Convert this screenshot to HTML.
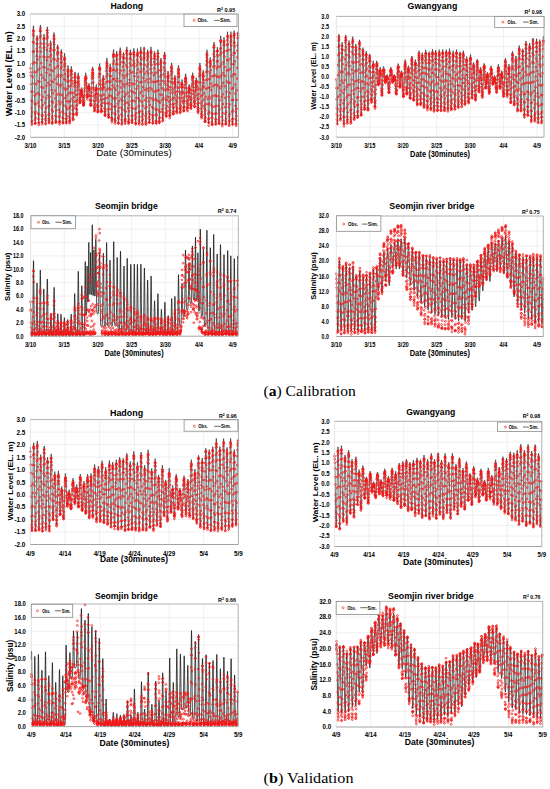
<!DOCTYPE html><html><head><meta charset="utf-8"><title>Calibration and Validation</title><style>html,body{margin:0;padding:0;background:#fff;}svg{display:block;}</style></head><body>
<svg width="550" height="789" viewBox="0 0 550 789">
<defs><marker id="mo" markerWidth="6" markerHeight="6" refX="3" refY="3" markerUnits="userSpaceOnUse" overflow="visible"><circle cx="3" cy="3" r="0.9" fill="none" stroke="#f01818" stroke-width="0.75"/></marker></defs>
<rect width="550" height="789" fill="#fff"/>
<path d="M30.5 26.33H238.5M30.5 38.66H238.5M30.5 50.99H238.5M30.5 63.32H238.5M30.5 75.65H238.5M30.5 87.98H238.5M30.5 100.31H238.5M30.5 112.64H238.5M30.5 124.97H238.5M64.20 14.0V137.3M97.90 14.0V137.3M131.60 14.0V137.3M165.30 14.0V137.3M199.00 14.0V137.3M232.70 14.0V137.3" stroke="#e4e4e4" stroke-width="0.6" fill="none"/>
<g>
<polyline points="30.50,63.64 30.64,68.26 30.78,74.83 30.92,82.82 31.06,91.57 31.20,100.40 31.34,108.58 31.48,115.46 31.62,120.49 31.76,123.26 31.90,123.44 32.04,119.97 32.19,112.85 32.33,102.66 32.47,90.22 32.61,76.53 32.75,62.68 32.89,49.80 33.03,38.92 33.17,30.92 33.31,26.43 33.45,25.76 33.59,28.10 33.73,33.08 33.87,40.41 34.01,49.68 34.15,60.36 34.29,71.85 34.43,83.50 34.57,94.66 34.71,104.68 34.85,113.00 34.99,119.15 35.13,122.78 35.27,123.70 35.41,122.02 35.55,117.95 35.70,111.70 35.84,103.64 35.98,94.21 36.12,83.96 36.26,73.46 36.40,63.31 36.54,54.08 36.68,46.30 36.82,40.39 36.96,36.71 37.10,35.45 37.24,37.01 37.38,41.60 37.52,48.88 37.66,58.35 37.80,69.33 37.94,81.03 38.08,92.64 38.22,103.31 38.36,112.31 38.50,118.97 38.64,122.84 38.78,123.63 38.92,121.01 39.07,115.06 39.21,106.21 39.35,95.08 39.49,82.47 39.63,69.26 39.77,56.41 39.91,44.81 40.05,35.31 40.19,28.56 40.33,25.05 40.47,24.97 40.61,27.90 40.75,33.59 40.89,41.71 41.03,51.76 41.17,63.16 41.31,75.22 41.45,87.21 41.59,98.42 41.73,108.19 41.87,115.92 42.01,121.15 42.15,123.58 42.30,123.12 42.44,120.00 42.58,114.42 42.72,106.72 42.86,97.35 43.00,86.87 43.14,75.92 43.28,65.14 43.42,55.18 43.56,46.64 43.70,40.02 43.84,35.72 43.98,34.00 44.12,35.15 44.26,39.40 44.40,46.45 44.54,55.80 44.68,66.79 44.82,78.64 44.96,90.51 45.10,101.54 45.24,110.97 45.38,118.11 45.52,122.46 45.66,123.72 45.81,121.63 45.95,116.23 46.09,107.92 46.23,97.28 46.37,85.07 46.51,72.15 46.65,59.45 46.79,47.86 46.93,38.22 47.07,31.19 47.21,27.29 47.35,26.80 47.49,29.73 47.63,35.90 47.77,44.85 47.91,55.96 48.05,68.43 48.19,81.38 48.33,93.89 48.47,105.07 48.61,114.12 48.75,120.40 48.89,123.47 49.03,123.19 49.18,119.97 49.32,114.06 49.46,105.88 49.60,96.02 49.74,85.18 49.88,74.13 50.02,63.64 50.16,54.48 50.30,47.28 50.44,42.57 50.58,40.66 50.72,41.65 50.86,45.35 51.00,51.52 51.14,59.74 51.28,69.47 51.42,80.04 51.56,90.76 51.70,100.91 51.84,109.80 51.98,116.84 52.12,121.56 52.26,123.65 52.41,122.88 52.55,119.11 52.69,112.59 52.83,103.76 52.97,93.20 53.11,81.62 53.25,69.80 53.39,58.52 53.53,48.55 53.67,40.55 53.81,35.06 53.95,32.45 54.09,32.78 54.23,35.71 54.37,41.02 54.51,48.43 54.65,57.51 54.79,67.76 54.93,78.58 55.07,89.36 55.21,99.51 55.35,108.43 55.49,115.64 55.63,120.71 55.78,123.37 55.92,123.49 56.06,121.34 56.20,117.09 56.34,110.97 56.48,103.34 56.62,94.62 56.76,85.31 56.90,75.93 57.04,67.02 57.18,59.08 57.32,52.55 57.46,47.82 57.60,45.14 57.74,44.68 57.88,46.54 58.02,50.65 58.16,56.77 58.30,64.52 58.44,73.44 58.58,83.01 58.72,92.64 58.86,101.77 59.00,109.84 59.14,116.38 59.29,120.99 59.43,123.41 59.57,123.49 59.71,121.34 59.85,117.11 59.99,111.05 60.13,103.53 60.27,94.98 60.41,85.93 60.55,76.92 60.69,68.47 60.83,61.11 60.97,55.26 61.11,51.27 61.25,49.40 61.39,49.83 61.53,52.84 61.67,58.24 61.81,65.65 61.95,74.55 62.09,84.29 62.23,94.18 62.37,103.54 62.52,111.68 62.66,118.03 62.80,122.14 62.94,123.72 63.08,122.72 63.22,119.27 63.36,113.64 63.50,106.23 63.64,97.55 63.78,88.22 63.92,78.91 64.06,70.29 64.20,62.95 64.34,57.43 64.48,54.11 64.62,53.24 64.76,54.77 64.90,58.56 65.04,64.36 65.18,71.77 65.32,80.29 65.46,89.37 65.60,98.38 65.74,106.74 65.88,113.86 66.03,119.29 66.17,122.66 66.31,123.74 66.45,122.67 66.59,119.72 66.73,115.08 66.87,109.07 67.01,102.08 67.15,94.58 67.29,87.08 67.43,80.08 67.57,74.04 67.71,69.38 67.85,66.40 67.99,65.30 68.13,66.20 68.27,69.09 68.41,73.76 68.55,79.89 68.69,87.03 68.83,94.69 68.97,102.31 69.11,109.35 69.25,115.32 69.40,119.79 69.54,122.44 69.68,123.08 69.82,121.69 69.96,118.38 70.10,113.37 70.24,107.03 70.38,99.80 70.52,92.20 70.66,84.77 70.80,78.04 70.94,72.48 71.08,68.49 71.22,66.36 71.36,66.18 71.50,67.59 71.64,70.44 71.78,74.56 71.92,79.72 72.06,85.62 72.20,91.94 72.34,98.31 72.48,104.38 72.62,109.80 72.77,114.26 72.91,117.51 73.05,119.37 73.19,119.74 73.33,118.72 73.47,116.40 73.61,112.91 73.75,108.47 73.89,103.31 74.03,97.73 74.17,92.04 74.31,86.58 74.45,81.63 74.59,77.50 74.73,74.40 74.87,72.52 75.01,71.96 75.15,72.90 75.29,75.40 75.43,79.25 75.57,84.17 75.71,89.79 75.85,95.67 76.00,101.38 76.14,106.49 76.28,110.61 76.42,113.43 76.56,114.73 76.70,114.43 76.84,112.56 76.98,109.27 77.12,104.81 77.26,99.52 77.40,93.78 77.54,88.05 77.68,82.75 77.82,78.27 77.96,74.97 78.10,73.09 78.24,72.74 78.38,73.58 78.52,75.41 78.66,78.12 78.80,81.49 78.94,85.30 79.08,89.27 79.22,93.13 79.37,96.59 79.51,99.41 79.65,101.39 79.79,102.40 79.93,102.43 80.07,101.87 80.21,100.83 80.35,99.38 80.49,97.61 80.63,95.66 80.77,93.66 80.91,91.75 81.05,90.08 81.19,88.75 81.33,87.87 81.47,87.50 81.61,87.61 81.75,88.10 81.89,88.96 82.03,90.13 82.17,91.58 82.31,93.23 82.45,95.01 82.59,96.85 82.74,98.66 82.88,100.37 83.02,101.90 83.16,103.18 83.30,104.15 83.44,104.78 83.58,105.03 83.72,104.79 83.86,103.85 84.00,102.25 84.14,100.06 84.28,97.38 84.42,94.32 84.56,91.03 84.70,87.64 84.84,84.30 84.98,81.17 85.12,78.37 85.26,76.03 85.40,74.26 85.54,73.13 85.68,72.70 85.82,73.04 85.96,74.23 86.10,76.19 86.25,78.79 86.39,81.83 86.53,85.10 86.67,88.37 86.81,91.41 86.95,93.99 87.09,95.94 87.23,97.12 87.37,97.45 87.51,97.13 87.65,96.33 87.79,95.11 87.93,93.55 88.07,91.77 88.21,89.89 88.35,88.04 88.49,86.35 88.63,84.96 88.77,83.95 88.91,83.39 89.05,83.34 89.19,83.90 89.33,85.06 89.47,86.75 89.62,88.89 89.76,91.34 89.90,93.98 90.04,96.64 90.18,99.19 90.32,101.47 90.46,103.36 90.60,104.75 90.74,105.56 90.88,105.73 91.02,104.95 91.16,103.12 91.30,100.33 91.44,96.74 91.58,92.56 91.72,88.03 91.86,83.39 92.00,78.92 92.14,74.86 92.28,71.45 92.42,68.88 92.56,67.29 92.70,66.77 92.84,67.46 92.99,69.39 93.13,72.46 93.27,76.48 93.41,81.21 93.55,86.36 93.69,91.63 93.83,96.71 93.97,101.29 94.11,105.09 94.25,107.89 94.39,109.53 94.53,109.91 94.67,109.36 94.81,108.09 94.95,106.15 95.09,103.68 95.23,100.81 95.37,97.72 95.51,94.59 95.65,91.62 95.79,88.97 95.93,86.81 96.07,85.26 96.22,84.42 96.36,84.36 96.50,85.25 96.64,87.07 96.78,89.69 96.92,92.92 97.06,96.55 97.20,100.30 97.34,103.91 97.48,107.12 97.62,109.72 97.76,111.50 97.90,112.35 98.04,112.06 98.18,110.10 98.32,106.57 98.46,101.72 98.60,95.89 98.74,89.50 98.88,83.01 99.02,76.87 99.16,71.52 99.30,67.34 99.44,64.63 99.58,63.58 99.73,64.14 99.87,66.09 100.01,69.33 100.15,73.65 100.29,78.79 100.43,84.46 100.57,90.30 100.71,95.98 100.85,101.14 100.99,105.49 101.13,108.77 101.27,110.77 101.41,111.38 101.55,110.76 101.69,109.09 101.83,106.48 101.97,103.08 102.11,99.09 102.25,94.75 102.39,90.33 102.53,86.08 102.67,82.26 102.81,79.10 102.95,76.79 103.10,75.46 103.24,75.19 103.38,76.05 103.52,77.99 103.66,80.91 103.80,84.64 103.94,88.98 104.08,93.66 104.22,98.44 104.36,103.04 104.50,107.19 104.64,110.67 104.78,113.28 104.92,114.87 105.06,115.35 105.20,114.41 105.34,111.89 105.48,107.95 105.62,102.80 105.76,96.73 105.90,90.09 106.04,83.26 106.18,76.61 106.33,70.54 106.47,65.37 106.61,61.41 106.75,58.87 106.89,57.90 107.03,58.76 107.17,61.68 107.31,66.46 107.45,72.74 107.59,80.09 107.73,87.99 107.87,95.86 108.01,103.17 108.15,109.37 108.29,114.04 108.43,116.84 108.57,117.58 108.71,116.33 108.85,113.24 108.99,108.55 109.13,102.58 109.27,95.76 109.41,88.57 109.55,81.53 109.70,75.12 109.84,69.82 109.98,65.99 110.12,63.91 110.26,63.74 110.40,65.58 110.54,69.35 110.68,74.77 110.82,81.45 110.96,88.92 111.10,96.65 111.24,104.09 111.38,110.71 111.52,116.05 111.66,119.71 111.80,121.45 111.94,121.02 112.08,118.11 112.22,112.88 112.36,105.71 112.50,97.11 112.64,87.68 112.78,78.11 112.92,69.06 113.07,61.18 113.21,55.03 113.35,51.05 113.49,49.52 113.63,50.64 113.77,54.43 113.91,60.61 114.05,68.73 114.19,78.15 114.33,88.18 114.47,98.05 114.61,107.02 114.75,114.41 114.89,119.66 115.03,122.38 115.17,122.37 115.31,119.67 115.45,114.51 115.59,107.27 115.73,98.49 115.87,88.85 116.01,79.06 116.15,69.87 116.29,61.97 116.44,55.97 116.58,52.30 116.72,51.25 116.86,52.65 117.00,56.26 117.14,61.83 117.28,69.03 117.42,77.40 117.56,86.40 117.70,95.47 117.84,104.04 117.98,111.56 118.12,117.56 118.26,121.66 118.40,123.60 118.54,123.23 118.68,120.49 118.82,115.55 118.96,108.72 119.10,100.43 119.24,91.20 119.38,81.63 119.52,72.30 119.66,63.82 119.81,56.72 119.95,51.45 120.09,48.33 120.23,47.59 120.37,49.44 120.51,53.87 120.65,60.55 120.79,69.02 120.93,78.66 121.07,88.81 121.21,98.72 121.35,107.71 121.49,115.13 121.63,120.46 121.77,123.30 121.91,123.49 122.05,121.13 122.19,116.42 122.33,109.68 122.47,101.40 122.61,92.17 122.75,82.64 122.89,73.49 123.03,65.37 123.18,58.85 123.32,54.41 123.46,52.35 123.60,52.82 123.74,55.79 123.88,61.05 124.02,68.22 124.16,76.80 124.30,86.17 124.44,95.66 124.58,104.62 124.72,112.39 124.86,118.42 125.00,122.30 125.14,123.73 125.28,122.54 125.42,118.70 125.56,112.49 125.70,104.34 125.84,94.84 125.98,84.66 126.12,74.52 126.26,65.14 126.40,57.20 126.55,51.24 126.69,47.71 126.83,46.84 126.97,48.41 127.11,52.18 127.25,57.93 127.39,65.31 127.53,73.89 127.67,83.14 127.81,92.53 127.95,101.47 128.09,109.46 128.23,115.99 128.37,120.69 128.51,123.27 128.65,123.59 128.79,121.68 128.93,117.68 129.07,111.82 129.21,104.45 129.35,96.02 129.49,87.03 129.63,78.01 129.77,69.51 129.92,62.03 130.06,56.02 130.20,51.84 130.34,49.74 130.48,49.88 130.62,52.46 130.76,57.32 130.90,64.14 131.04,72.47 131.18,81.75 131.32,91.35 131.46,100.64 131.60,108.99 131.74,115.84 131.88,120.73 132.02,123.34 132.16,123.49 132.30,121.13 132.44,116.40 132.58,109.64 132.72,101.28 132.86,91.89 133.00,82.10 133.14,72.56 133.29,63.92 133.43,56.74 133.57,51.52 133.71,48.60 133.85,48.15 133.99,49.93 134.13,53.74 134.27,59.37 134.41,66.50 134.55,74.72 134.69,83.58 134.83,92.57 134.97,101.18 135.11,108.93 135.25,115.37 135.39,120.14 135.53,122.98 135.67,123.71 135.81,122.31 135.95,118.87 136.09,113.57 136.23,106.72 136.37,98.71 136.51,89.98 136.66,81.04 136.80,72.38 136.94,64.50 137.08,57.85 137.22,52.79 137.36,49.63 137.50,48.52 137.64,49.81 137.78,53.68 137.92,59.86 138.06,67.90 138.20,77.24 138.34,87.20 138.48,97.10 138.62,106.21 138.76,113.90 138.90,119.61 139.04,122.95 139.18,123.66 139.32,121.67 139.46,117.09 139.60,110.25 139.74,101.64 139.88,91.86 140.02,81.61 140.17,71.62 140.31,62.61 140.45,55.20 140.59,49.93 140.73,47.17 140.87,47.12 141.01,49.77 141.15,54.95 141.29,62.29 141.43,71.25 141.57,81.22 141.71,91.47 141.85,101.28 141.99,109.95 142.13,116.87 142.27,121.54 142.41,123.64 142.55,123.01 142.69,119.70 142.83,113.94 142.97,106.14 143.11,96.86 143.25,86.76 143.39,76.55 143.54,66.96 143.68,58.68 143.82,52.28 143.96,48.22 144.10,46.80 144.24,47.90 144.38,51.24 144.52,56.60 144.66,63.69 144.80,72.06 144.94,81.22 145.08,90.62 145.22,99.70 145.36,107.92 145.50,114.79 145.64,119.89 145.78,122.93 145.92,123.71 146.06,122.25 146.20,118.66 146.34,113.15 146.48,106.06 146.62,97.81 146.76,88.89 146.91,79.83 147.05,71.18 147.19,63.46 147.33,57.11 147.47,52.53 147.61,49.99 147.75,49.66 147.89,51.87 148.03,56.55 148.17,63.36 148.31,71.82 148.45,81.34 148.59,91.23 148.73,100.80 148.87,109.36 149.01,116.30 149.15,121.13 149.29,123.51 149.43,123.26 149.57,120.31 149.71,114.87 149.85,107.33 149.99,98.22 150.13,88.19 150.28,77.96 150.42,68.24 150.56,59.73 150.70,53.04 150.84,48.63 150.98,46.83 151.12,47.61 151.26,50.64 151.40,55.74 151.54,62.61 151.68,70.83 151.82,79.91 151.96,89.32 152.10,98.48 152.24,106.85 152.38,113.93 152.52,119.30 152.66,122.63 152.80,123.74 152.94,122.61 153.08,119.38 153.22,114.25 153.36,107.52 153.50,99.59 153.65,90.93 153.79,82.08 153.93,73.54 154.07,65.84 154.21,59.43 154.35,54.70 154.49,51.93 154.63,51.29 154.77,53.09 154.91,57.34 155.05,63.73 155.19,71.80 155.33,80.99 155.47,90.65 155.61,100.07 155.75,108.61 155.89,115.64 156.03,120.67 156.17,123.35 156.31,123.47 156.45,120.98 156.59,116.05 156.73,109.03 156.88,100.42 157.02,90.83 157.16,80.93 157.30,71.45 157.44,63.04 157.58,56.31 157.72,51.73 157.86,49.63 158.00,50.29 158.14,54.05 158.28,60.61 158.42,69.40 158.56,79.67 158.70,90.54 158.84,101.07 158.98,110.36 159.12,117.61 159.26,122.20 159.40,123.74 159.54,122.27 159.68,118.11 159.82,111.60 159.96,103.31 160.10,93.94 160.25,84.31 160.39,75.23 160.53,67.50 160.67,61.76 160.81,58.52 160.95,57.99 161.09,59.46 161.23,62.59 161.37,67.22 161.51,73.08 161.65,79.84 161.79,87.12 161.93,94.50 162.07,101.57 162.21,107.93 162.35,113.22 162.49,117.13 162.63,119.45 162.77,120.05 162.91,118.78 163.05,115.66 163.19,110.86 163.33,104.65 163.47,97.39 163.62,89.49 163.76,81.39 163.90,73.55 164.04,66.42 164.18,60.40 164.32,55.83 164.46,52.97 164.60,51.98 164.74,53.03 164.88,56.20 165.02,61.26 165.16,67.88 165.30,75.62 165.44,83.95 165.58,92.32 165.72,100.17 165.86,106.97 166.00,112.27 166.14,115.71 166.28,117.06 166.42,116.48 166.56,114.39 166.70,110.94 166.84,106.36 166.99,100.94 167.13,95.07 167.27,89.12 167.41,83.51 167.55,78.59 167.69,74.71 167.83,72.13 167.97,71.01 168.11,71.38 168.25,73.10 168.39,76.08 168.53,80.13 168.67,85.01 168.81,90.43 168.95,96.06 169.09,101.58 169.23,106.64 169.37,110.94 169.51,114.24 169.65,116.32 169.79,117.08 169.93,116.34 170.07,114.03 170.21,110.28 170.35,105.32 170.50,99.43 170.64,92.98 170.78,86.35 170.92,79.94 171.06,74.12 171.20,69.25 171.34,65.62 171.48,63.44 171.62,62.84 171.76,64.01 171.90,66.93 172.04,71.40 172.18,77.11 172.32,83.64 172.46,90.54 172.60,97.31 172.74,103.47 172.88,108.58 173.02,112.29 173.16,114.32 173.30,114.57 173.44,113.34 173.58,110.80 173.72,107.13 173.87,102.59 174.01,97.51 174.15,92.24 174.29,87.17 174.43,82.64 174.57,78.99 174.71,76.46 174.85,75.25 174.99,75.38 175.13,76.63 175.27,78.90 175.41,82.07 175.55,85.93 175.69,90.27 175.83,94.82 175.97,99.30 176.11,103.46 176.25,107.04 176.39,109.83 176.53,111.66 176.67,112.42 176.81,111.98 176.95,110.15 177.09,107.06 177.24,102.88 177.38,97.86 177.52,92.30 177.66,86.54 177.80,80.92 177.94,75.77 178.08,71.41 178.22,68.08 178.36,66.01 178.50,65.29 178.64,66.01 178.78,68.15 178.92,71.56 179.06,76.03 179.20,81.29 179.34,86.99 179.48,92.78 179.62,98.29 179.76,103.17 179.90,107.12 180.04,109.88 180.18,111.28 180.32,111.30 180.47,110.26 180.61,108.29 180.75,105.49 180.89,102.06 181.03,98.21 181.17,94.18 181.31,90.23 181.45,86.61 181.59,83.54 181.73,81.21 181.87,79.79 182.01,79.35 182.15,79.88 182.29,81.31 182.43,83.54 182.57,86.46 182.71,89.89 182.85,93.61 182.99,97.41 183.13,101.06 183.27,104.35 183.41,107.07 183.55,109.06 183.69,110.21 183.84,110.44 183.98,109.61 184.12,107.75 184.26,104.94 184.40,101.36 184.54,97.23 184.68,92.80 184.82,88.31 184.96,84.06 185.10,80.28 185.24,77.21 185.38,75.02 185.52,73.86 185.66,73.78 185.80,74.77 185.94,76.77 186.08,79.66 186.22,83.26 186.36,87.36 186.50,91.72 186.64,96.07 186.78,100.16 186.92,103.74 187.06,106.59 187.21,108.55 187.35,109.50 187.49,109.44 187.63,108.61 187.77,107.08 187.91,104.94 188.05,102.33 188.19,99.39 188.33,96.31 188.47,93.26 188.61,90.43 188.75,87.99 188.89,86.09 189.03,84.83 189.17,84.30 189.31,84.52 189.45,85.47 189.59,87.09 189.73,89.29 189.87,91.91 190.01,94.81 190.15,97.78 190.29,100.65 190.43,103.23 190.58,105.36 190.72,106.91 190.86,107.78 191.00,107.88 191.14,106.96 191.28,104.99 191.42,102.09 191.56,98.45 191.70,94.29 191.84,89.88 191.98,85.50 192.12,81.42 192.26,77.91 192.40,75.18 192.54,73.41 192.68,72.70 192.82,73.06 192.96,74.39 193.10,76.60 193.24,79.57 193.38,83.11 193.52,87.02 193.66,91.06 193.80,94.99 193.95,98.57 194.09,101.60 194.23,103.88 194.37,105.29 194.51,105.73 194.65,105.27 194.79,104.00 194.93,101.99 195.07,99.37 195.21,96.28 195.35,92.92 195.49,89.49 195.63,86.19 195.77,83.21 195.91,80.74 196.05,78.93 196.19,77.87 196.33,77.65 196.47,78.41 196.61,80.18 196.75,82.84 196.89,86.25 197.03,90.19 197.17,94.42 197.31,98.71 197.46,102.78 197.60,106.41 197.74,109.36 197.88,111.47 198.02,112.60 198.16,112.66 198.30,111.31 198.44,108.55 198.58,104.56 198.72,99.56 198.86,93.87 199.00,87.81 199.14,81.74 199.28,76.05 199.42,71.05 199.56,67.06 199.70,64.30 199.84,62.95 199.98,63.17 200.12,65.27 200.26,69.15 200.40,74.54 200.54,81.04 200.69,88.20 200.83,95.51 200.97,102.45 201.11,108.52 201.25,113.30 201.39,116.45 201.53,117.73 201.67,117.16 201.81,114.94 201.95,111.23 202.09,106.30 202.23,100.49 202.37,94.22 202.51,87.93 202.65,82.08 202.79,77.07 202.93,73.26 203.07,70.93 203.21,70.23 203.35,71.05 203.49,73.23 203.63,76.64 203.77,81.10 203.91,86.38 204.05,92.18 204.20,98.21 204.34,104.13 204.48,109.62 204.62,114.40 204.76,118.21 204.90,120.84 205.04,122.15 205.18,121.98 205.32,119.94 205.46,116.07 205.60,110.60 205.74,103.80 205.88,96.06 206.02,87.77 206.16,79.39 206.30,71.36 206.44,64.12 206.58,58.06 206.72,53.50 206.86,50.68 207.00,49.76 207.14,51.14 207.28,55.07 207.42,61.25 207.57,69.24 207.71,78.49 207.85,88.33 207.99,98.06 208.13,106.99 208.27,114.50 208.41,120.03 208.55,123.21 208.69,123.81 208.83,121.98 208.97,117.91 209.11,111.90 209.25,104.37 209.39,95.85 209.53,86.96 209.67,78.32 209.81,70.55 209.95,64.20 210.09,59.72 210.23,57.42 210.37,57.42 210.51,59.37 210.65,63.12 210.79,68.45 210.94,75.05 211.08,82.56 211.22,90.56 211.36,98.58 211.50,106.18 211.64,112.92 211.78,118.42 211.92,122.38 212.06,124.56 212.20,124.83 212.34,122.84 212.48,118.63 212.62,112.44 212.76,104.61 212.90,95.59 213.04,85.89 213.18,76.05 213.32,66.64 213.46,58.18 213.60,51.16 213.74,45.97 213.88,42.91 214.02,42.16 214.16,44.02 214.31,48.54 214.45,55.40 214.59,64.14 214.73,74.18 214.87,84.85 215.01,95.43 215.15,105.21 215.29,113.55 215.43,119.87 215.57,123.76 215.71,124.96 215.85,123.48 215.99,119.49 216.13,113.26 216.27,105.20 216.41,95.86 216.55,85.86 216.69,75.86 216.83,66.55 216.97,58.54 217.11,52.37 217.25,48.45 217.39,47.05 217.53,48.32 217.68,52.28 217.82,58.63 217.96,66.93 218.10,76.58 218.24,86.90 218.38,97.16 218.52,106.63 218.66,114.63 218.80,120.60 218.94,124.11 219.08,124.90 219.22,122.65 219.36,117.38 219.50,109.47 219.64,99.48 219.78,88.12 219.92,76.21 220.06,64.57 220.20,54.05 220.34,45.38 220.48,39.19 220.62,35.92 220.76,35.79 220.91,38.82 221.05,44.79 221.19,53.28 221.33,63.68 221.47,75.25 221.61,87.18 221.75,98.61 221.89,108.74 222.03,116.83 222.17,122.33 222.31,124.83 222.45,124.18 222.59,120.47 222.73,113.95 222.87,105.10 223.01,94.54 223.15,83.02 223.29,71.37 223.43,60.41 223.57,50.91 223.71,43.56 223.85,38.87 223.99,37.18 224.13,38.39 224.28,42.14 224.42,48.22 224.56,56.27 224.70,65.79 224.84,76.23 224.98,86.96 225.12,97.34 225.26,106.75 225.40,114.62 225.54,120.49 225.68,124.00 225.82,124.94 225.96,123.16 226.10,118.69 226.24,111.81 226.38,102.92 226.52,92.55 226.66,81.33 226.80,69.92 226.94,59.02 227.08,49.26 227.22,41.23 227.36,35.41 227.50,32.16 227.65,31.68 227.79,34.39 227.93,40.22 228.07,48.74 228.21,59.37 228.35,71.33 228.49,83.79 228.63,95.85 228.77,106.66 228.91,115.45 229.05,121.59 229.19,124.66 229.33,124.43 229.47,120.91 229.61,114.37 229.75,105.26 229.89,94.22 230.03,82.05 230.17,69.61 230.31,57.79 230.45,47.41 230.59,39.23 230.73,33.82 230.87,31.56 231.02,32.62 231.16,36.93 231.30,44.16 231.44,53.82 231.58,65.22 231.72,77.53 231.86,89.90 232.00,101.44 232.14,111.34 232.28,118.88 232.42,123.53 232.56,124.96 232.70,123.06 232.84,117.93 232.98,109.95 233.12,99.68 233.26,87.86 233.40,75.31 233.54,62.94 233.68,51.62 233.82,42.15 233.96,35.22 234.10,31.31 234.24,30.65 234.38,32.71 234.53,37.19 234.67,43.85 234.81,52.33 234.95,62.17 235.09,72.84 235.23,83.78 235.37,94.40 235.51,104.12 235.65,112.42 235.79,118.87 235.93,123.11 236.07,124.91 236.21,124.19 236.35,121.01 236.49,115.53 236.63,108.05 236.77,98.97 236.91,88.77 237.05,78.01 237.19,67.27 237.33,57.11 237.47,48.09 237.61,40.68 237.75,35.29 237.90,32.21 238.04,31.63 238.18,34.46" fill="none" stroke="#151515" stroke-width="0.6" stroke-linejoin="round"/>
<polyline points="30.50,68.37 30.64,72.36 30.78,75.55 30.92,84.12 31.06,91.57 31.20,100.58 31.34,108.13 31.48,116.21 31.62,121.49 31.76,123.63 31.90,124.63 32.04,121.00 32.19,111.82 32.33,101.66 32.47,91.72 32.61,76.95 32.75,63.67 32.89,51.63 33.03,41.96 33.17,34.16 33.31,30.35 33.45,30.70 33.59,31.74 33.73,35.77 33.87,42.63 34.01,51.39 34.15,62.36 34.29,72.20 34.43,83.50 34.57,95.58 34.71,103.98 34.85,114.12 34.99,119.80 35.13,123.51 35.27,123.58 35.41,122.92 35.55,117.74 35.70,112.07 35.84,104.11 35.98,93.96 36.12,84.22 36.26,72.21 36.40,62.78 36.54,56.13 36.68,48.91 36.82,43.97 36.96,39.07 37.10,38.33 37.24,40.01 37.38,43.76 37.52,51.31 37.66,59.53 37.80,70.11 37.94,81.43 38.08,93.08 38.22,102.56 38.36,113.52 38.50,119.08 38.64,122.95 38.78,124.80 38.92,122.69 39.07,114.46 39.21,106.10 39.35,94.98 39.49,81.81 39.63,68.50 39.77,56.89 39.91,47.10 40.05,37.46 40.19,30.90 40.33,30.18 40.47,28.01 40.61,31.45 40.75,35.76 40.89,43.52 41.03,51.68 41.17,63.12 41.31,74.75 41.45,86.95 41.59,99.89 41.73,107.95 41.87,115.90 42.01,121.65 42.15,124.26 42.30,122.35 42.44,119.36 42.58,114.98 42.72,105.14 42.86,96.68 43.00,87.76 43.14,77.54 43.28,67.02 43.42,56.57 43.56,48.13 43.70,44.11 43.84,39.39 43.98,38.49 44.12,38.05 44.26,43.28 44.40,47.21 44.54,57.12 44.68,67.45 44.82,79.75 44.96,91.89 45.10,102.87 45.24,112.23 45.38,118.68 45.52,123.24 45.66,124.21 45.81,120.39 45.95,116.12 46.09,107.95 46.23,98.20 46.37,85.73 46.51,72.81 46.65,60.18 46.79,49.97 46.93,38.56 47.07,35.19 47.21,30.54 47.35,30.35 47.49,32.81 47.63,37.14 47.77,44.99 47.91,57.24 48.05,69.30 48.19,82.80 48.33,95.57 48.47,106.48 48.61,114.59 48.75,118.76 48.89,121.67 49.03,123.05 49.18,120.15 49.32,114.19 49.46,105.65 49.60,96.98 49.74,85.06 49.88,75.02 50.02,65.03 50.16,56.65 50.30,51.11 50.44,48.10 50.58,43.66 50.72,45.53 50.86,48.71 51.00,54.85 51.14,60.85 51.28,70.05 51.42,80.93 51.56,90.19 51.70,101.62 51.84,109.81 51.98,116.48 52.12,122.14 52.26,123.60 52.41,122.71 52.55,118.68 52.69,111.52 52.83,102.57 52.97,93.28 53.11,82.09 53.25,70.99 53.39,58.64 53.53,50.31 53.67,42.09 53.81,38.76 53.95,35.56 54.09,37.04 54.23,39.46 54.37,44.31 54.51,49.77 54.65,59.37 54.79,68.35 54.93,79.26 55.07,90.51 55.21,98.42 55.35,106.78 55.49,115.75 55.63,120.37 55.78,122.46 55.92,121.90 56.06,122.17 56.20,116.87 56.34,110.36 56.48,104.38 56.62,94.89 56.76,83.61 56.90,76.54 57.04,66.93 57.18,60.72 57.32,54.52 57.46,52.71 57.60,47.38 57.74,48.45 57.88,51.66 58.02,53.18 58.16,58.69 58.30,65.56 58.44,74.63 58.58,84.66 58.72,93.56 58.86,101.56 59.00,109.81 59.14,117.04 59.29,121.54 59.43,122.56 59.57,124.28 59.71,121.17 59.85,115.72 59.99,112.70 60.13,103.87 60.27,95.19 60.41,86.28 60.55,76.66 60.69,68.72 60.83,62.84 60.97,59.18 61.11,55.54 61.25,52.55 61.39,53.06 61.53,57.01 61.67,61.88 61.81,66.68 61.95,75.24 62.09,84.54 62.23,94.79 62.37,102.13 62.52,111.39 62.66,117.82 62.80,121.71 62.94,123.24 63.08,122.85 63.22,118.42 63.36,113.21 63.50,105.27 63.64,98.21 63.78,88.29 63.92,78.77 64.06,69.94 64.20,64.60 64.34,59.58 64.48,59.04 64.62,57.72 64.76,60.05 64.90,63.32 65.04,66.33 65.18,73.98 65.32,79.81 65.46,89.82 65.60,97.94 65.74,106.64 65.88,113.99 66.03,118.92 66.17,121.62 66.31,123.29 66.45,121.85 66.59,118.56 66.73,116.15 66.87,109.01 67.01,101.32 67.15,95.36 67.29,88.80 67.43,81.43 67.57,76.62 67.71,71.41 67.85,70.17 67.99,69.51 68.13,70.89 68.27,73.41 68.41,75.93 68.55,81.22 68.69,86.33 68.83,93.44 68.97,102.15 69.11,108.36 69.25,116.43 69.40,120.78 69.54,122.02 69.68,123.35 69.82,120.63 69.96,118.44 70.10,113.60 70.24,106.63 70.38,101.05 70.52,92.30 70.66,86.08 70.80,80.23 70.94,74.60 71.08,71.93 71.22,70.05 71.36,71.25 71.50,71.05 71.64,73.99 71.78,77.69 71.92,80.76 72.06,83.85 72.20,93.20 72.34,98.76 72.48,105.53 72.62,110.12 72.77,114.03 72.91,117.00 73.05,119.40 73.19,120.03 73.33,118.93 73.47,114.47 73.61,114.48 73.75,107.94 73.89,101.69 74.03,97.02 74.17,92.73 74.31,86.28 74.45,83.09 74.59,81.22 74.73,77.80 74.87,76.06 75.01,73.94 75.15,77.29 75.29,80.75 75.43,82.62 75.57,85.57 75.71,90.51 75.85,95.01 76.00,101.40 76.14,105.86 76.28,108.99 76.42,113.62 76.56,114.32 76.70,115.26 76.84,112.49 76.98,109.50 77.12,104.81 77.26,100.38 77.40,94.89 77.54,87.70 77.68,83.16 77.82,82.11 77.96,78.35 78.10,76.74 78.24,77.10 78.38,77.32 78.52,78.50 78.66,81.35 78.80,83.77 78.94,85.79 79.08,90.22 79.22,93.69 79.37,97.86 79.51,100.01 79.65,102.82 79.79,102.79 79.93,102.57 80.07,102.07 80.21,100.64 80.35,100.58 80.49,97.08 80.63,94.83 80.77,94.27 80.91,93.54 81.05,91.72 81.19,90.00 81.33,92.27 81.47,91.43 81.61,91.57 81.75,89.75 81.89,91.86 82.03,92.37 82.17,93.67 82.31,95.99 82.45,95.08 82.59,96.89 82.74,98.32 82.88,100.29 83.02,101.72 83.16,103.23 83.30,104.51 83.44,105.63 83.58,104.95 83.72,105.06 83.86,103.75 84.00,102.77 84.14,101.07 84.28,97.45 84.42,95.51 84.56,90.71 84.70,88.31 84.84,85.10 84.98,82.55 85.12,80.47 85.26,79.96 85.40,78.04 85.54,77.89 85.68,78.13 85.82,77.92 85.96,76.69 86.10,77.97 86.25,78.77 86.39,83.31 86.53,85.61 86.67,87.86 86.81,92.27 86.95,94.97 87.09,94.90 87.23,97.33 87.37,99.11 87.51,96.65 87.65,96.43 87.79,95.87 87.93,94.13 88.07,90.52 88.21,88.24 88.35,88.73 88.49,87.93 88.63,86.44 88.77,87.69 88.91,86.58 89.05,86.59 89.19,89.13 89.33,87.36 89.47,88.62 89.62,89.80 89.76,91.65 89.90,95.43 90.04,96.24 90.18,99.84 90.32,101.05 90.46,103.69 90.60,104.83 90.74,104.83 90.88,105.71 91.02,105.42 91.16,103.96 91.30,100.49 91.44,96.19 91.58,92.71 91.72,88.17 91.86,83.25 92.00,78.52 92.14,76.57 92.28,74.45 92.42,72.38 92.56,69.50 92.70,70.05 92.84,73.09 92.99,73.14 93.13,75.29 93.27,77.77 93.41,82.45 93.55,87.52 93.69,90.21 93.83,96.16 93.97,100.91 94.11,105.82 94.25,108.06 94.39,110.57 94.53,111.15 94.67,110.00 94.81,108.60 94.95,107.37 95.09,103.95 95.23,100.86 95.37,97.98 95.51,94.66 95.65,94.13 95.79,91.21 95.93,89.50 96.07,88.57 96.22,88.28 96.36,88.39 96.50,88.51 96.64,89.76 96.78,93.43 96.92,94.30 97.06,97.24 97.20,99.77 97.34,105.00 97.48,106.92 97.62,109.80 97.76,111.87 97.90,111.96 98.04,111.45 98.18,110.64 98.32,106.82 98.46,101.75 98.60,94.77 98.74,89.43 98.88,83.93 99.02,76.75 99.16,73.96 99.30,68.96 99.44,68.84 99.58,67.66 99.73,68.48 99.87,68.74 100.01,70.06 100.15,73.86 100.29,81.00 100.43,84.60 100.57,88.75 100.71,96.34 100.85,99.57 100.99,105.12 101.13,108.95 101.27,112.15 101.41,111.09 101.55,111.37 101.69,110.53 101.83,105.99 101.97,102.86 102.11,99.62 102.25,95.33 102.39,89.91 102.53,87.39 102.67,84.69 102.81,83.26 102.95,81.51 103.10,79.66 103.24,78.63 103.38,79.24 103.52,78.95 103.66,84.38 103.80,87.43 103.94,87.52 104.08,94.55 104.22,98.98 104.36,103.02 104.50,108.28 104.64,111.40 104.78,113.93 104.92,115.63 105.06,115.09 105.20,115.22 105.34,111.64 105.48,109.24 105.62,103.48 105.76,98.05 105.90,90.12 106.04,82.54 106.18,76.66 106.33,71.13 106.47,68.13 106.61,65.66 106.75,62.12 106.89,63.20 107.03,63.88 107.17,65.17 107.31,66.65 107.45,73.98 107.59,81.25 107.73,88.66 107.87,97.61 108.01,103.24 108.15,109.88 108.29,114.30 108.43,116.59 108.57,117.71 108.71,116.79 108.85,114.64 108.99,108.53 109.13,103.37 109.27,95.32 109.41,88.55 109.55,81.82 109.70,75.92 109.84,70.92 109.98,69.99 110.12,68.05 110.26,68.07 110.40,68.87 110.54,71.29 110.68,76.27 110.82,81.50 110.96,89.55 111.10,95.96 111.24,104.48 111.38,109.37 111.52,117.65 111.66,118.07 111.80,122.19 111.94,120.31 112.08,119.16 112.22,112.56 112.36,106.48 112.50,97.85 112.64,85.38 112.78,79.16 112.92,69.95 113.07,63.93 113.21,56.90 113.35,55.23 113.49,54.51 113.63,54.23 113.77,56.08 113.91,61.33 114.05,69.54 114.19,78.98 114.33,87.72 114.47,98.81 114.61,106.67 114.75,114.02 114.89,119.04 115.03,123.47 115.17,121.67 115.31,120.36 115.45,114.04 115.59,106.43 115.73,98.25 115.87,89.67 116.01,80.94 116.15,71.26 116.29,64.15 116.44,56.73 116.58,55.74 116.72,54.65 116.86,55.10 117.00,59.71 117.14,63.84 117.28,69.59 117.42,78.43 117.56,85.98 117.70,94.62 117.84,103.70 117.98,111.18 118.12,118.04 118.26,122.95 118.40,123.40 118.54,123.02 118.68,118.68 118.82,116.08 118.96,107.70 119.10,101.08 119.24,92.45 119.38,81.41 119.52,73.37 119.66,64.74 119.81,58.63 119.95,54.43 120.09,52.89 120.23,51.25 120.37,54.10 120.51,56.33 120.65,62.21 120.79,70.63 120.93,81.35 121.07,87.50 121.21,98.66 121.35,107.59 121.49,114.35 121.63,119.89 121.77,124.04 121.91,124.16 122.05,122.16 122.19,115.75 122.33,109.22 122.47,100.70 122.61,91.93 122.75,83.99 122.89,75.31 123.03,66.71 123.18,61.93 123.32,58.26 123.46,56.82 123.60,54.67 123.74,58.55 123.88,63.06 124.02,70.34 124.16,77.81 124.30,86.32 124.44,96.63 124.58,104.48 124.72,110.39 124.86,119.17 125.00,120.77 125.14,123.70 125.28,121.23 125.42,119.15 125.56,111.66 125.70,102.75 125.84,94.39 125.98,84.34 126.12,75.63 126.26,65.32 126.40,57.93 126.55,53.21 126.69,50.66 126.83,51.37 126.97,50.85 127.11,54.66 127.25,59.45 127.39,67.40 127.53,74.04 127.67,83.22 127.81,92.47 127.95,102.53 128.09,108.19 128.23,116.00 128.37,121.38 128.51,123.65 128.65,122.64 128.79,121.72 128.93,118.98 129.07,110.85 129.21,105.15 129.35,96.42 129.49,85.71 129.63,79.74 129.77,70.62 129.92,63.27 130.06,58.10 130.20,53.59 130.34,53.29 130.48,54.22 130.62,54.40 130.76,58.95 130.90,65.57 131.04,72.81 131.18,83.10 131.32,90.99 131.46,101.19 131.60,107.74 131.74,115.80 131.88,120.54 132.02,122.55 132.16,122.52 132.30,120.12 132.44,116.11 132.58,108.52 132.72,100.45 132.86,92.10 133.00,84.44 133.14,72.07 133.29,64.84 133.43,60.66 133.57,54.36 133.71,52.70 133.85,52.07 133.99,54.59 134.13,56.44 134.27,63.28 134.41,66.75 134.55,76.31 134.69,83.83 134.83,93.05 134.97,101.36 135.11,108.85 135.25,115.20 135.39,119.03 135.53,123.80 135.67,124.24 135.81,122.59 135.95,117.34 136.09,113.32 136.23,107.95 136.37,97.79 136.51,88.73 136.66,80.82 136.80,73.20 136.94,65.26 137.08,59.92 137.22,55.51 137.36,54.70 137.50,52.67 137.64,53.87 137.78,55.76 137.92,62.35 138.06,69.54 138.20,77.22 138.34,86.26 138.48,98.42 138.62,106.09 138.76,112.57 138.90,120.39 139.04,122.97 139.18,124.46 139.32,122.49 139.46,117.07 139.60,111.41 139.74,100.58 139.88,93.25 140.02,82.28 140.17,71.96 140.31,64.04 140.45,57.08 140.59,53.00 140.73,52.50 140.87,51.41 141.01,53.42 141.15,59.01 141.29,64.36 141.43,71.51 141.57,81.92 141.71,91.38 141.85,101.77 141.99,111.39 142.13,116.55 142.27,120.89 142.41,124.59 142.55,123.83 142.69,119.14 142.83,114.17 142.97,105.84 143.11,95.87 143.25,87.12 143.39,77.80 143.54,68.99 143.68,59.67 143.82,57.03 143.96,52.75 144.10,49.02 144.24,53.15 144.38,54.84 144.52,57.95 144.66,64.78 144.80,73.62 144.94,81.46 145.08,90.03 145.22,100.09 145.36,108.21 145.50,115.91 145.64,121.34 145.78,123.33 145.92,124.77 146.06,123.20 146.20,118.53 146.34,113.94 146.48,107.04 146.62,97.85 146.76,88.82 146.91,79.48 147.05,71.43 147.19,66.49 147.33,60.12 147.47,56.46 147.61,52.87 147.75,53.23 147.89,54.85 148.03,58.00 148.17,64.25 148.31,73.41 148.45,82.46 148.59,91.02 148.73,101.38 148.87,111.44 149.01,117.06 149.15,122.18 149.29,122.41 149.43,122.33 149.57,119.73 149.71,114.15 149.85,105.02 149.99,98.10 150.13,88.08 150.28,78.73 150.42,69.05 150.56,61.78 150.70,56.22 150.84,52.61 150.98,51.94 151.12,51.31 151.26,53.10 151.40,58.78 151.54,64.84 151.68,72.68 151.82,81.57 151.96,89.44 152.10,98.46 152.24,107.07 152.38,115.04 152.52,117.87 152.66,122.88 152.80,123.16 152.94,123.23 153.08,120.26 153.22,115.55 153.36,108.15 153.50,100.38 153.65,91.68 153.79,82.28 153.93,75.01 154.07,68.40 154.21,62.05 154.35,58.22 154.49,54.01 154.63,56.47 154.77,55.56 154.91,59.14 155.05,64.55 155.19,73.01 155.33,81.79 155.47,91.31 155.61,98.94 155.75,109.52 155.89,114.57 156.03,121.33 156.17,123.49 156.31,123.04 156.45,121.29 156.59,115.17 156.73,109.41 156.88,100.50 157.02,90.61 157.16,81.29 157.30,72.51 157.44,63.72 157.58,59.35 157.72,56.45 157.86,53.45 158.00,53.50 158.14,57.04 158.28,64.35 158.42,70.01 158.56,81.16 158.70,90.05 158.84,101.45 158.98,110.49 159.12,118.45 159.26,121.31 159.40,122.86 159.54,121.82 159.68,117.69 159.82,111.92 159.96,102.64 160.10,94.48 160.25,84.43 160.39,76.60 160.53,70.51 160.67,64.16 160.81,61.78 160.95,62.73 161.09,60.76 161.23,66.77 161.37,69.64 161.51,74.99 161.65,80.89 161.79,88.23 161.93,94.96 162.07,100.13 162.21,108.86 162.35,111.60 162.49,117.53 162.63,120.84 162.77,120.94 162.91,119.01 163.05,115.26 163.19,112.74 163.33,105.00 163.47,98.01 163.62,89.55 163.76,81.35 163.90,74.00 164.04,67.73 164.18,63.03 164.32,58.32 164.46,56.15 164.60,55.22 164.74,56.11 164.88,58.24 165.02,62.91 165.16,70.70 165.30,76.69 165.44,83.58 165.58,90.59 165.72,99.56 165.86,108.39 166.00,113.13 166.14,114.95 166.28,115.81 166.42,116.72 166.56,112.93 166.70,110.95 166.84,106.02 166.99,99.88 167.13,96.52 167.27,89.00 167.41,85.28 167.55,81.16 167.69,78.29 167.83,76.52 167.97,73.50 168.11,75.89 168.25,76.17 168.39,78.07 168.53,81.25 168.67,87.02 168.81,90.04 168.95,97.17 169.09,101.85 169.23,107.44 169.37,111.15 169.51,115.23 169.65,115.76 169.79,118.07 169.93,115.49 170.07,113.33 170.21,110.35 170.35,104.67 170.50,100.28 170.64,92.96 170.78,87.28 170.92,82.07 171.06,74.95 171.20,71.12 171.34,68.19 171.48,67.48 171.62,66.23 171.76,68.77 171.90,71.32 172.04,72.93 172.18,78.52 172.32,82.78 172.46,90.14 172.60,98.51 172.74,104.14 172.88,107.23 173.02,112.39 173.16,114.21 173.30,113.55 173.44,113.91 173.58,111.25 173.72,107.76 173.87,104.23 174.01,97.71 174.15,92.54 174.29,88.25 174.43,83.76 174.57,82.24 174.71,81.28 174.85,77.93 174.99,79.25 175.13,79.07 175.27,82.84 175.41,85.01 175.55,86.63 175.69,91.84 175.83,94.82 175.97,99.70 176.11,103.25 176.25,106.39 176.39,111.94 176.53,111.26 176.67,111.60 176.81,113.25 176.95,109.66 177.09,108.22 177.24,101.86 177.38,97.11 177.52,91.22 177.66,88.08 177.80,81.98 177.94,76.83 178.08,73.49 178.22,71.67 178.36,69.76 178.50,68.99 178.64,70.01 178.78,73.00 178.92,74.79 179.06,77.02 179.20,82.53 179.34,87.40 179.48,92.20 179.62,98.61 179.76,104.46 179.90,107.91 180.04,112.25 180.18,112.87 180.32,109.59 180.47,111.47 180.61,108.55 180.75,106.11 180.89,101.51 181.03,97.82 181.17,94.39 181.31,92.41 181.45,86.89 181.59,84.65 181.73,84.95 181.87,83.39 182.01,84.36 182.15,84.52 182.29,84.72 182.43,86.64 182.57,87.32 182.71,91.34 182.85,93.12 182.99,98.46 183.13,101.25 183.27,103.17 183.41,107.68 183.55,110.84 183.69,110.42 183.84,110.99 183.98,110.35 184.12,107.38 184.26,106.51 184.40,101.22 184.54,97.05 184.68,93.46 184.82,88.14 184.96,85.08 185.10,80.93 185.24,81.78 185.38,78.42 185.52,78.98 185.66,77.79 185.80,78.36 185.94,79.38 186.08,81.57 186.22,83.47 186.36,87.93 186.50,92.31 186.64,95.59 186.78,100.82 186.92,103.49 187.06,108.00 187.21,108.26 187.35,109.98 187.49,110.95 187.63,107.40 187.77,107.35 187.91,104.90 188.05,102.42 188.19,99.57 188.33,96.78 188.47,92.66 188.61,91.66 188.75,90.27 188.89,88.68 189.03,88.92 189.17,87.03 189.31,87.98 189.45,89.72 189.59,89.11 189.73,90.42 189.87,92.97 190.01,97.42 190.15,96.53 190.29,99.98 190.43,104.02 190.58,105.41 190.72,107.59 190.86,108.65 191.00,108.31 191.14,105.94 191.28,105.25 191.42,103.41 191.56,99.03 191.70,93.85 191.84,90.18 191.98,86.16 192.12,84.00 192.26,79.66 192.40,77.84 192.54,76.38 192.68,76.58 192.82,76.74 192.96,77.45 193.10,77.86 193.24,81.58 193.38,83.54 193.52,87.40 193.66,91.13 193.80,94.27 193.95,97.71 194.09,101.45 194.23,101.96 194.37,105.22 194.51,106.88 194.65,106.42 194.79,106.51 194.93,103.01 195.07,100.43 195.21,96.30 195.35,92.22 195.49,90.10 195.63,87.38 195.77,84.57 195.91,82.84 196.05,83.88 196.19,81.30 196.33,80.53 196.47,81.72 196.61,81.91 196.75,85.71 196.89,87.17 197.03,89.83 197.17,94.86 197.31,98.53 197.46,103.77 197.60,106.44 197.74,108.40 197.88,111.16 198.02,113.05 198.16,111.41 198.30,110.37 198.44,108.29 198.58,103.04 198.72,98.76 198.86,93.87 199.00,88.61 199.14,82.47 199.28,76.36 199.42,73.58 199.56,69.84 199.70,68.14 199.84,68.16 199.98,66.23 200.12,69.70 200.26,71.83 200.40,75.04 200.54,82.49 200.69,90.20 200.83,96.39 200.97,103.52 201.11,108.71 201.25,113.94 201.39,116.55 201.53,118.33 201.67,116.82 201.81,114.86 201.95,111.67 202.09,106.16 202.23,101.39 202.37,95.34 202.51,88.23 202.65,85.84 202.79,78.91 202.93,76.84 203.07,74.46 203.21,73.25 203.35,75.72 203.49,76.72 203.63,80.07 203.77,83.06 203.91,86.75 204.05,93.21 204.20,99.33 204.34,105.61 204.48,108.45 204.62,114.99 204.76,118.53 204.90,121.69 205.04,121.64 205.18,121.49 205.32,120.54 205.46,117.42 205.60,110.42 205.74,103.97 205.88,96.75 206.02,88.71 206.16,80.31 206.30,72.03 206.44,65.14 206.58,60.85 206.72,57.27 206.86,54.58 207.00,53.50 207.14,55.28 207.28,59.05 207.42,62.38 207.57,71.30 207.71,79.44 207.85,88.07 207.99,98.80 208.13,104.45 208.27,113.65 208.41,119.36 208.55,122.63 208.69,125.69 208.83,122.63 208.97,118.48 209.11,112.00 209.25,103.53 209.39,96.55 209.53,87.13 209.67,79.02 209.81,73.07 209.95,66.54 210.09,62.19 210.23,60.76 210.37,61.10 210.51,63.34 210.65,64.84 210.79,70.17 210.94,76.47 211.08,83.59 211.22,90.21 211.36,98.45 211.50,105.40 211.64,113.29 211.78,117.75 211.92,121.94 212.06,124.59 212.20,124.52 212.34,124.02 212.48,117.81 212.62,114.06 212.76,106.95 212.90,95.97 213.04,86.21 213.18,76.09 213.32,66.75 213.46,59.80 213.60,54.15 213.74,47.54 213.88,47.02 214.02,45.31 214.16,47.31 214.31,51.49 214.45,56.58 214.59,66.03 214.73,75.18 214.87,84.92 215.01,95.43 215.15,106.55 215.29,113.79 215.43,119.43 215.57,122.09 215.71,124.00 215.85,124.41 215.99,119.46 216.13,113.03 216.27,105.80 216.41,95.86 216.55,84.65 216.69,76.63 216.83,68.46 216.97,61.43 217.11,54.77 217.25,50.99 217.39,51.01 217.53,51.19 217.68,56.05 217.82,60.94 217.96,66.51 218.10,76.51 218.24,86.25 218.38,96.30 218.52,106.01 218.66,113.90 218.80,119.86 218.94,122.82 219.08,123.56 219.22,121.35 219.36,117.50 219.50,110.00 219.64,100.03 219.78,88.42 219.92,77.46 220.06,66.68 220.20,54.80 220.34,48.65 220.48,41.76 220.62,40.41 220.76,40.35 220.91,41.58 221.05,48.21 221.19,52.60 221.33,64.44 221.47,75.46 221.61,86.15 221.75,97.04 221.89,107.80 222.03,116.61 222.17,123.44 222.31,126.14 222.45,124.30 222.59,120.19 222.73,113.23 222.87,104.06 223.01,94.36 223.15,82.98 223.29,73.22 223.43,62.39 223.57,52.62 223.71,45.25 223.85,43.33 223.99,40.92 224.13,41.86 224.28,45.11 224.42,50.98 224.56,56.62 224.70,67.09 224.84,75.89 224.98,86.26 225.12,97.81 225.26,107.11 225.40,114.03 225.54,120.93 225.68,124.06 225.82,124.10 225.96,123.17 226.10,118.64 226.24,112.04 226.38,103.72 226.52,91.81 226.66,81.46 226.80,70.46 226.94,59.97 227.08,50.73 227.22,45.00 227.36,40.10 227.50,36.10 227.65,36.07 227.79,37.17 227.93,44.12 228.07,49.98 228.21,60.49 228.35,70.10 228.49,82.73 228.63,96.84 228.77,107.16 228.91,116.25 229.05,121.75 229.19,125.62 229.33,124.87 229.47,120.52 229.61,114.30 229.75,104.38 229.89,93.24 230.03,82.80 230.17,69.06 230.31,58.65 230.45,49.69 230.59,42.01 230.73,38.19 230.87,35.79 231.02,36.04 231.16,40.29 231.30,45.76 231.44,55.38 231.58,64.14 231.72,76.41 231.86,88.70 232.00,99.87 232.14,111.71 232.28,119.39 232.42,121.69 232.56,124.00 232.70,124.40 232.84,118.87 232.98,110.36 233.12,99.90 233.26,87.74 233.40,74.45 233.54,64.37 233.68,53.00 233.82,43.14 233.96,36.98 234.10,35.20 234.24,33.47 234.38,34.95 234.53,42.57 234.67,46.30 234.81,53.07 234.95,61.40 235.09,74.29 235.23,84.50 235.37,93.46 235.51,105.81 235.65,111.82 235.79,118.76 235.93,123.49 236.07,125.75 236.21,124.13 236.35,120.48 236.49,115.93 236.63,108.87 236.77,99.87 236.91,90.36 237.05,78.57 237.19,67.94 237.33,57.37 237.47,50.79 237.61,45.25 237.75,38.28 237.90,33.52 238.04,35.50 238.18,37.86" fill="none" stroke="none" marker-start="url(#mo)" marker-mid="url(#mo)" marker-end="url(#mo)"/>
</g>
<path d="M30.5 14.0V137.3" stroke="#d4d4d4" stroke-width="0.6"/>
<path d="M30.5 14.0H238.5V137.3" stroke="#a8a8a8" stroke-width="0.9" fill="none"/>
<path d="M30.5 137.30H238.5" stroke="#9a9a9a" stroke-width="0.9"/>
<text x="16.69" y="16.45" font-size="6.8" font-weight="bold" text-anchor="start" textLength="8.41" lengthAdjust="spacingAndGlyphs"  fill="#000" font-family='"Liberation Sans", sans-serif'>3.0</text>
<text x="16.69" y="28.78" font-size="6.8" font-weight="bold" text-anchor="start" textLength="8.41" lengthAdjust="spacingAndGlyphs"  fill="#000" font-family='"Liberation Sans", sans-serif'>2.5</text>
<text x="16.69" y="41.11" font-size="6.8" font-weight="bold" text-anchor="start" textLength="8.41" lengthAdjust="spacingAndGlyphs"  fill="#000" font-family='"Liberation Sans", sans-serif'>2.0</text>
<text x="16.69" y="53.44" font-size="6.8" font-weight="bold" text-anchor="start" textLength="8.41" lengthAdjust="spacingAndGlyphs"  fill="#000" font-family='"Liberation Sans", sans-serif'>1.5</text>
<text x="16.69" y="65.77" font-size="6.8" font-weight="bold" text-anchor="start" textLength="8.41" lengthAdjust="spacingAndGlyphs"  fill="#000" font-family='"Liberation Sans", sans-serif'>1.0</text>
<text x="16.69" y="78.10" font-size="6.8" font-weight="bold" text-anchor="start" textLength="8.41" lengthAdjust="spacingAndGlyphs"  fill="#000" font-family='"Liberation Sans", sans-serif'>0.5</text>
<text x="16.69" y="90.43" font-size="6.8" font-weight="bold" text-anchor="start" textLength="8.41" lengthAdjust="spacingAndGlyphs"  fill="#000" font-family='"Liberation Sans", sans-serif'>0.0</text>
<text x="14.67" y="102.76" font-size="6.8" font-weight="bold" text-anchor="start" textLength="10.43" lengthAdjust="spacingAndGlyphs"  fill="#000" font-family='"Liberation Sans", sans-serif'>-0.5</text>
<text x="14.67" y="115.09" font-size="6.8" font-weight="bold" text-anchor="start" textLength="10.43" lengthAdjust="spacingAndGlyphs"  fill="#000" font-family='"Liberation Sans", sans-serif'>-1.0</text>
<text x="14.67" y="127.42" font-size="6.8" font-weight="bold" text-anchor="start" textLength="10.43" lengthAdjust="spacingAndGlyphs"  fill="#000" font-family='"Liberation Sans", sans-serif'>-1.5</text>
<text x="14.67" y="139.75" font-size="6.8" font-weight="bold" text-anchor="start" textLength="10.43" lengthAdjust="spacingAndGlyphs"  fill="#000" font-family='"Liberation Sans", sans-serif'>-2.0</text>
<text x="24.54" y="148.45" font-size="6.8" font-weight="bold" text-anchor="start" textLength="11.91" lengthAdjust="spacingAndGlyphs"  fill="#000" font-family='"Liberation Sans", sans-serif'>3/10</text>
<text x="58.24" y="148.45" font-size="6.8" font-weight="bold" text-anchor="start" textLength="11.91" lengthAdjust="spacingAndGlyphs"  fill="#000" font-family='"Liberation Sans", sans-serif'>3/15</text>
<text x="91.94" y="148.45" font-size="6.8" font-weight="bold" text-anchor="start" textLength="11.91" lengthAdjust="spacingAndGlyphs"  fill="#000" font-family='"Liberation Sans", sans-serif'>3/20</text>
<text x="125.64" y="148.45" font-size="6.8" font-weight="bold" text-anchor="start" textLength="11.91" lengthAdjust="spacingAndGlyphs"  fill="#000" font-family='"Liberation Sans", sans-serif'>3/25</text>
<text x="159.34" y="148.45" font-size="6.8" font-weight="bold" text-anchor="start" textLength="11.91" lengthAdjust="spacingAndGlyphs"  fill="#000" font-family='"Liberation Sans", sans-serif'>3/30</text>
<text x="194.75" y="148.45" font-size="6.8" font-weight="bold" text-anchor="start" textLength="8.51" lengthAdjust="spacingAndGlyphs"  fill="#000" font-family='"Liberation Sans", sans-serif'>4/4</text>
<text x="228.45" y="148.45" font-size="6.8" font-weight="bold" text-anchor="start" textLength="8.51" lengthAdjust="spacingAndGlyphs"  fill="#000" font-family='"Liberation Sans", sans-serif'>4/9</text>
<text x="110.50" y="9.10" font-size="8.8" font-weight="bold" text-anchor="start" textLength="32.60" lengthAdjust="spacingAndGlyphs"  fill="#000" font-family='"Liberation Sans", sans-serif'>Hadong</text>
<text x="217.00" y="11.90" font-size="5.6" font-weight="bold" textLength="18.30" lengthAdjust="spacingAndGlyphs" font-family='"Liberation Sans", sans-serif'>R<tspan font-size="3.6" dy="-2">2</tspan><tspan dy="2"> 0.95</tspan></text>
<rect x="184.0" y="14.1" width="53.0" height="12.5" fill="#fff" stroke="#8c8c8c" stroke-width="0.8"/>
<circle cx="194.2" cy="20.4" r="1.0" fill="none" stroke="#f01818" stroke-width="0.6"/>
<text x="197.40" y="22.40" font-size="5.6" font-weight="bold" text-anchor="start" textLength="10.40" lengthAdjust="spacingAndGlyphs"  fill="#000" font-family='"Liberation Sans", sans-serif'>Obs.</text>
<path d="M214.2 20.4H219.6" stroke="#222" stroke-width="0.7"/>
<text x="220.00" y="22.40" font-size="5.6" font-weight="bold" text-anchor="start" textLength="11.00" lengthAdjust="spacingAndGlyphs"  fill="#000" font-family='"Liberation Sans", sans-serif'>Sim.</text>
<text transform="translate(11.90,73.80) rotate(-90)" x="0" y="0" text-anchor="middle" font-size="8.36" font-weight="bold" textLength="85.00" lengthAdjust="spacingAndGlyphs" font-family='"Liberation Sans", sans-serif'>Water Level (EL. m)</text>
<text x="96.20" y="155.50" font-size="9.0" font-weight="normal" text-anchor="start" textLength="75.60" lengthAdjust="spacingAndGlyphs"  fill="#000" font-family='"Liberation Sans", sans-serif'>Date (30minutes)</text>
<path d="M336.3 26.47H544.0M336.3 36.53H544.0M336.3 46.60H544.0M336.3 56.67H544.0M336.3 66.73H544.0M336.3 76.80H544.0M336.3 86.87H544.0M336.3 96.93H544.0M336.3 107.00H544.0M336.3 117.07H544.0M336.3 127.13H544.0M369.75 16.4V137.2M403.20 16.4V137.2M436.65 16.4V137.2M470.10 16.4V137.2M503.55 16.4V137.2M537.00 16.4V137.2" stroke="#e4e4e4" stroke-width="0.6" fill="none"/>
<g>
<polyline points="336.30,79.95 336.44,89.35 336.58,98.69 336.72,107.30 336.86,114.59 337.00,120.04 337.14,123.28 337.28,124.06 337.42,121.91 337.55,116.75 337.69,108.95 337.83,99.06 337.97,87.76 338.11,75.85 338.25,64.16 338.39,53.51 338.53,44.65 338.67,38.19 338.81,34.59 338.95,34.11 339.09,36.80 339.23,42.49 339.37,50.74 339.51,60.95 339.65,72.36 339.78,84.11 339.92,95.33 340.06,105.18 340.20,112.94 340.34,118.03 340.48,120.06 340.62,119.00 340.76,115.11 340.90,108.68 341.04,100.20 341.18,90.29 341.32,79.69 341.46,69.19 341.60,59.57 341.74,51.55 341.88,45.72 342.01,42.52 342.15,42.15 342.29,44.31 342.43,48.78 342.57,55.29 342.71,63.47 342.85,72.83 342.99,82.82 343.13,92.85 343.27,102.34 343.41,110.72 343.55,117.50 343.69,122.28 343.83,124.78 343.97,124.82 344.11,122.26 344.24,117.20 344.38,109.94 344.52,100.92 344.66,90.66 344.80,79.77 344.94,68.89 345.08,58.66 345.22,49.68 345.36,42.48 345.50,37.48 345.64,34.98 345.78,35.20 345.92,38.44 346.06,44.50 346.20,52.98 346.34,63.27 346.47,74.66 346.61,86.35 346.75,97.51 346.89,107.37 347.03,115.24 347.17,120.57 347.31,122.98 347.45,122.36 347.59,118.88 347.73,112.81 347.87,104.55 348.01,94.71 348.15,83.95 348.29,73.03 348.43,62.73 348.56,53.76 348.70,46.74 348.84,42.18 348.98,40.38 349.12,41.25 349.26,44.38 349.40,49.60 349.54,56.60 349.68,65.01 349.82,74.35 349.96,84.10 350.10,93.72 350.24,102.67 350.38,110.46 350.52,116.64 350.66,120.87 350.80,122.93 350.93,122.66 351.07,120.02 351.21,115.13 351.35,108.28 351.49,99.84 351.63,90.28 351.77,80.14 351.91,69.98 352.05,60.37 352.19,51.85 352.33,44.88 352.47,39.86 352.61,37.07 352.75,36.70 352.89,39.24 353.03,44.66 353.16,52.53 353.30,62.29 353.44,73.21 353.58,84.46 353.72,95.22 353.86,104.69 354.00,112.15 354.14,117.06 354.28,119.05 354.42,118.06 354.56,114.35 354.70,108.18 354.84,100.03 354.98,90.49 355.12,80.28 355.25,70.15 355.39,60.86 355.53,53.10 355.67,47.46 355.81,44.34 355.95,43.93 356.09,45.83 356.23,49.80 356.37,55.59 356.51,62.88 356.65,71.23 356.79,80.16 356.93,89.13 357.07,97.61 357.21,105.11 357.35,111.19 357.49,115.49 357.62,117.75 357.76,117.83 357.90,115.63 358.04,111.27 358.18,104.99 358.32,97.17 358.46,88.27 358.60,78.81 358.74,69.36 358.88,60.46 359.02,52.64 359.16,46.36 359.30,41.99 359.44,39.80 359.58,39.93 359.72,42.53 359.85,47.47 359.99,54.40 360.13,62.88 360.27,72.35 360.41,82.17 360.55,91.71 360.69,100.33 360.83,107.46 360.97,112.64 361.11,115.52 361.25,115.92 361.39,114.03 361.53,110.00 361.67,104.12 361.81,96.77 361.94,88.43 362.08,79.66 362.22,71.03 362.36,63.11 362.50,56.43 362.64,51.43 362.78,48.43 362.92,47.63 363.06,49.04 363.20,52.54 363.34,57.88 363.48,64.68 363.62,72.47 363.76,80.71 363.90,88.81 364.04,96.21 364.18,102.40 364.31,106.93 364.45,109.50 364.59,109.92 364.73,108.26 364.87,104.65 365.01,99.36 365.15,92.75 365.29,85.28 365.43,77.48 365.57,69.89 365.71,63.05 365.85,57.43 365.99,53.42 366.13,51.32 366.27,51.24 366.41,53.04 366.54,56.58 366.68,61.65 366.82,67.92 366.96,75.01 367.10,82.47 367.24,89.85 367.38,96.67 367.52,102.52 367.66,107.04 367.80,109.93 367.94,111.02 368.08,110.28 368.22,107.81 368.36,103.75 368.50,98.37 368.63,92.00 368.77,85.03 368.91,77.90 369.05,71.05 369.19,64.91 369.33,59.87 369.47,56.22 369.61,54.22 369.75,53.94 369.89,55.15 370.03,57.70 370.17,61.44 370.31,66.15 370.45,71.55 370.59,77.33 370.73,83.14 370.87,88.64 371.00,93.51 371.14,97.46 371.28,100.26 371.42,101.75 371.56,101.85 371.70,100.71 371.84,98.43 371.98,95.14 372.12,91.04 372.26,86.37 372.40,81.40 372.54,76.42 372.68,71.74 372.82,67.62 372.96,64.31 373.10,62.00 373.23,60.83 373.37,60.91 373.51,62.50 373.65,65.54 373.79,69.81 373.93,75.05 374.07,80.89 374.21,86.97 374.35,92.87 374.49,98.21 374.63,102.64 374.77,105.86 374.91,107.66 375.05,107.92 375.19,106.63 375.32,103.87 375.46,99.82 375.60,94.75 375.74,88.99 375.88,82.93 376.02,76.96 376.16,71.48 376.30,66.85 376.44,63.37 376.58,61.28 376.72,60.70 376.86,61.15 377.00,62.30 377.14,64.07 377.28,66.35 377.42,69.02 377.56,71.92 377.69,74.87 377.83,77.71 377.97,80.26 378.11,82.37 378.25,83.93 378.39,84.84 378.53,85.04 378.67,84.66 378.81,83.78 378.95,82.44 379.09,80.73 379.23,78.75 379.37,76.61 379.51,74.44 379.65,72.37 379.79,70.52 379.92,68.99 380.06,67.89 380.20,67.26 380.34,67.19 380.48,68.04 380.62,69.91 380.76,72.63 380.90,76.02 381.04,79.82 381.18,83.75 381.32,87.51 381.46,90.83 381.60,93.45 381.74,95.19 381.88,95.91 382.01,95.55 382.15,94.12 382.29,91.72 382.43,88.53 382.57,84.79 382.71,80.78 382.85,76.80 382.99,73.14 383.13,70.07 383.27,67.82 383.41,66.57 383.55,66.36 383.69,66.70 383.83,67.44 383.97,68.52 384.11,69.90 384.25,71.50 384.38,73.24 384.52,75.02 384.66,76.76 384.80,78.35 384.94,79.71 385.08,80.78 385.22,81.49 385.36,81.82 385.50,81.78 385.64,81.55 385.78,81.15 385.92,80.59 386.06,79.90 386.20,79.12 386.34,78.30 386.48,77.47 386.61,76.68 386.75,75.97 386.89,75.37 387.03,74.93 387.17,74.67 387.31,74.59 387.45,74.91 387.59,75.76 387.73,77.09 387.87,78.82 388.01,80.83 388.15,83.01 388.29,85.21 388.43,87.31 388.57,89.16 388.71,90.66 388.84,91.71 388.98,92.24 389.12,92.19 389.26,91.40 389.40,89.87 389.54,87.72 389.68,85.06 389.82,82.08 389.96,78.94 390.10,75.86 390.24,73.01 390.38,70.59 390.52,68.73 390.66,67.55 390.80,67.14 390.94,67.33 391.07,67.92 391.21,68.88 391.35,70.15 391.49,71.66 391.63,73.33 391.77,75.06 391.91,76.76 392.05,78.34 392.19,79.70 392.33,80.77 392.47,81.49 392.61,81.81 392.75,81.78 392.89,81.55 393.03,81.12 393.17,80.53 393.30,79.82 393.44,79.01 393.58,78.16 393.72,77.31 393.86,76.51 394.00,75.81 394.14,75.24 394.28,74.84 394.42,74.62 394.56,74.63 394.70,75.13 394.84,76.13 394.98,77.58 395.12,79.41 395.26,81.51 395.39,83.76 395.53,86.03 395.67,88.21 395.81,90.17 395.95,91.79 396.09,93.00 396.23,93.72 396.37,93.90 396.51,93.36 396.65,91.99 396.79,89.89 396.93,87.16 397.07,83.96 397.21,80.47 397.35,76.88 397.49,73.39 397.62,70.20 397.76,67.48 397.90,65.40 398.04,64.05 398.18,63.52 398.32,63.81 398.46,64.86 398.60,66.60 398.74,68.91 398.88,71.64 399.02,74.61 399.16,77.63 399.30,80.49 399.44,83.01 399.58,85.02 399.72,86.39 399.86,87.03 399.99,86.94 400.13,86.31 400.27,85.18 400.41,83.63 400.55,81.77 400.69,79.71 400.83,77.59 400.97,75.55 401.11,73.73 401.25,72.24 401.39,71.18 401.53,70.63 401.67,70.65 401.81,71.39 401.95,72.85 402.09,74.94 402.22,77.54 402.36,80.49 402.50,83.62 402.64,86.74 402.78,89.68 402.92,92.26 403.06,94.32 403.20,95.75 403.34,96.46 403.48,96.36 403.62,95.20 403.76,93.04 403.90,89.99 404.04,86.24 404.18,82.00 404.31,77.52 404.45,73.08 404.59,68.92 404.73,65.30 404.87,62.43 405.01,60.47 405.15,59.55 405.29,59.77 405.43,61.26 405.57,63.94 405.71,67.61 405.85,72.00 405.99,76.77 406.13,81.57 406.27,86.05 406.41,89.87 406.55,92.75 406.68,94.47 406.82,94.90 406.96,94.17 407.10,92.40 407.24,89.73 407.38,86.34 407.52,82.50 407.66,78.50 407.80,74.61 407.94,71.15 408.08,68.36 408.22,66.46 408.36,65.58 408.50,65.77 408.64,67.00 408.78,69.17 408.91,72.16 409.05,75.77 409.19,79.79 409.33,83.96 409.47,88.02 409.61,91.72 409.75,94.83 409.89,97.16 410.03,98.56 410.17,98.93 410.31,98.08 410.45,95.95 410.59,92.65 410.73,88.41 410.87,83.48 411.00,78.18 411.14,72.82 411.28,67.75 411.42,63.28 411.56,59.70 411.70,57.21 411.84,55.98 411.98,56.09 412.12,57.57 412.26,60.33 412.40,64.20 412.54,68.93 412.68,74.23 412.82,79.78 412.96,85.22 413.10,90.22 413.24,94.46 413.37,97.69 413.51,99.69 413.65,100.36 413.79,99.69 413.93,97.80 414.07,94.79 414.21,90.85 414.35,86.24 414.49,81.23 414.63,76.14 414.77,71.28 414.91,66.97 415.05,63.46 415.19,60.97 415.33,59.67 415.47,59.63 415.60,60.90 415.74,63.41 415.88,67.00 416.02,71.48 416.16,76.57 416.30,81.98 416.44,87.39 416.58,92.47 416.72,96.94 416.86,100.52 417.00,103.00 417.14,104.25 417.28,104.14 417.42,102.49 417.56,99.37 417.69,94.96 417.83,89.52 417.97,83.38 418.11,76.89 418.25,70.43 418.39,64.40 418.53,59.13 418.67,54.95 418.81,52.09 418.95,50.73 419.09,51.01 419.23,53.15 419.37,57.01 419.51,62.33 419.65,68.73 419.79,75.77 419.93,82.95 420.06,89.77 420.20,95.75 420.34,100.48 420.48,103.62 420.62,104.95 420.76,104.40 420.90,102.06 421.04,98.10 421.18,92.78 421.32,86.49 421.46,79.65 421.60,72.76 421.74,66.30 421.88,60.71 422.02,56.38 422.16,53.63 422.29,52.64 422.43,53.47 422.57,56.05 422.71,60.22 422.85,65.69 422.99,72.10 423.13,79.04 423.27,86.04 423.41,92.65 423.55,98.42 423.69,102.98 423.83,106.02 423.97,107.35 424.11,106.85 424.25,104.48 424.38,100.39 424.52,94.87 424.66,88.26 424.80,81.01 424.94,73.60 425.08,66.51 425.22,60.21 425.36,55.12 425.50,51.57 425.64,49.80 425.78,49.92 425.92,51.87 426.06,55.53 426.20,60.67 426.34,66.97 426.48,74.05 426.62,81.45 426.75,88.71 426.89,95.40 427.03,101.08 427.17,105.40 427.31,108.11 427.45,109.01 427.59,108.10 427.73,105.45 427.87,101.23 428.01,95.70 428.15,89.21 428.29,82.16 428.43,74.99 428.57,68.14 428.71,62.05 428.85,57.08 428.98,53.56 429.12,51.70 429.26,51.64 429.40,53.58 429.54,57.40 429.68,62.85 429.82,69.55 429.96,77.02 430.10,84.75 430.24,92.18 430.38,98.81 430.52,104.16 430.66,107.87 430.80,109.67 430.94,109.42 431.07,107.08 431.21,102.81 431.35,96.92 431.49,89.80 431.63,81.97 431.77,73.96 431.91,66.34 432.05,59.65 432.19,54.34 432.33,50.80 432.47,49.27 432.61,49.91 432.75,52.77 432.89,57.66 433.03,64.20 433.17,71.91 433.31,80.22 433.44,88.51 433.58,96.16 433.72,102.59 433.86,107.35 434.00,110.06 434.14,110.52 434.28,108.74 434.42,104.84 434.56,99.11 434.70,91.99 434.84,84.00 434.98,75.73 435.12,67.81 435.26,60.81 435.40,55.27 435.54,51.60 435.67,50.06 435.81,50.62 435.95,52.94 436.09,56.88 436.23,62.21 436.37,68.61 436.51,75.70 436.65,83.07 436.79,90.29 436.93,96.93 437.07,102.59 437.21,106.95 437.35,109.75 437.49,110.82 437.63,110.09 437.77,107.61 437.90,103.51 438.04,98.05 438.18,91.53 438.32,84.35 438.46,76.92 438.60,69.69 438.74,63.08 438.88,57.48 439.02,53.22 439.16,50.55 439.30,49.62 439.44,50.60 439.58,53.54 439.72,58.24 439.86,64.38 440.00,71.58 440.13,79.34 440.27,87.16 440.41,94.52 440.55,100.94 440.69,106.00 440.83,109.35 440.97,110.78 441.11,110.19 441.25,107.61 441.39,103.21 441.53,97.28 441.67,90.21 441.81,82.47 441.95,74.57 442.09,67.03 442.23,60.34 442.36,54.95 442.50,51.22 442.64,49.39 442.78,49.54 442.92,51.49 443.06,55.12 443.20,60.21 443.34,66.46 443.48,73.50 443.62,80.93 443.76,88.29 443.90,95.16 444.04,101.13 444.18,105.85 444.32,109.05 444.46,110.53 444.59,110.21 444.73,108.12 444.87,104.38 445.01,99.21 445.15,92.92 445.29,85.88 445.43,78.49 445.57,71.20 445.71,64.44 445.85,58.60 445.99,54.03 446.13,50.99 446.27,49.67 446.41,50.28 446.55,53.10 446.69,57.93 446.82,64.41 446.96,72.06 447.10,80.31 447.24,88.55 447.38,96.15 447.52,102.57 447.66,107.32 447.80,110.04 447.94,110.53 448.08,108.73 448.22,104.77 448.36,98.93 448.50,91.66 448.64,83.49 448.78,75.03 448.92,66.92 449.05,59.74 449.19,54.05 449.33,50.26 449.47,48.66 449.61,49.19 449.75,51.51 449.89,55.45 450.03,60.80 450.17,67.23 450.31,74.36 450.45,81.78 450.59,89.05 450.73,95.74 450.87,101.46 451.01,105.87 451.15,108.71 451.28,109.81 451.42,109.13 451.56,106.75 451.70,102.81 451.84,97.54 451.98,91.25 452.12,84.31 452.26,77.13 452.40,70.13 452.54,63.73 452.68,58.29 452.82,54.15 452.96,51.55 453.10,50.63 453.24,51.54 453.38,54.32 453.51,58.78 453.65,64.62 453.79,71.47 453.93,78.88 454.07,86.34 454.21,93.37 454.35,99.51 454.49,104.35 454.63,107.57 454.77,108.96 454.91,108.42 455.05,105.95 455.19,101.72 455.33,96.00 455.47,89.17 455.61,81.69 455.74,74.05 455.88,66.74 456.02,60.26 456.16,55.03 456.30,51.39 456.44,49.59 456.58,49.71 456.72,51.53 456.86,54.94 457.00,59.73 457.14,65.62 457.28,72.26 457.42,79.26 457.56,86.22 457.70,92.71 457.84,98.37 457.97,102.85 458.11,105.88 458.25,107.31 458.39,107.04 458.53,105.15 458.67,101.75 458.81,97.04 458.95,91.30 459.09,84.87 459.23,78.12 459.37,71.45 459.51,65.26 459.65,59.91 459.79,55.71 459.93,52.91 460.06,51.69 460.20,52.20 460.34,54.68 460.48,58.94 460.62,64.68 460.76,71.46 460.90,78.78 461.04,86.10 461.18,92.86 461.32,98.58 461.46,102.81 461.60,105.25 461.74,105.72 461.88,104.15 462.02,100.64 462.16,95.47 462.30,89.01 462.43,81.75 462.57,74.23 462.71,67.00 462.85,60.61 462.99,55.52 463.13,52.13 463.27,50.67 463.41,51.21 463.55,53.60 463.69,57.66 463.83,63.11 463.97,69.56 464.11,76.58 464.25,83.65 464.39,90.30 464.52,96.05 464.66,100.51 464.80,103.35 464.94,104.38 465.08,103.63 465.22,101.26 465.36,97.43 465.50,92.43 465.64,86.59 465.78,80.33 465.92,74.08 466.06,68.28 466.20,63.34 466.34,59.60 466.48,57.33 466.62,56.67 466.75,57.38 466.89,59.21 467.03,62.07 467.17,65.82 467.31,70.26 467.45,75.18 467.59,80.32 467.73,85.44 467.87,90.27 468.01,94.57 468.15,98.12 468.29,100.75 468.43,102.32 468.57,102.76 468.71,102.01 468.85,100.08 468.99,97.08 469.12,93.15 469.26,88.48 469.40,83.33 469.54,77.93 469.68,72.57 469.82,67.51 469.96,63.01 470.10,59.30 470.24,56.55 470.38,54.91 470.52,54.47 470.66,55.55 470.80,58.27 470.94,62.41 471.08,67.65 471.22,73.56 471.35,79.68 471.49,85.52 471.63,90.63 471.77,94.59 471.91,97.09 472.05,97.94 472.19,97.22 472.33,95.15 472.47,91.88 472.61,87.68 472.75,82.89 472.89,77.87 473.03,73.03 473.17,68.76 473.31,65.38 473.45,63.18 473.58,62.31 473.72,62.72 473.86,64.17 474.00,66.58 474.14,69.81 474.28,73.68 474.42,77.98 474.56,82.46 474.70,86.88 474.84,90.99 474.98,94.57 475.12,97.40 475.26,99.34 475.40,100.28 475.54,100.14 475.68,98.87 475.81,96.53 475.95,93.25 476.09,89.22 476.23,84.66 476.37,79.83 476.51,74.99 476.65,70.41 476.79,66.35 476.93,63.04 477.07,60.65 477.21,59.33 477.35,59.15 477.49,60.09 477.63,62.09 477.77,65.01 477.90,68.64 478.04,72.73 478.18,76.99 478.32,81.12 478.46,84.84 478.60,87.89 478.74,90.04 478.88,91.16 479.02,91.19 479.16,90.35 479.30,88.73 479.44,86.44 479.58,83.65 479.72,80.55 479.86,77.35 480.00,74.29 480.13,71.57 480.27,69.38 480.41,67.89 480.55,67.18 480.69,67.34 480.83,68.39 480.97,70.28 481.11,72.89 481.25,76.06 481.39,79.58 481.53,83.25 481.67,86.83 481.81,90.09 481.95,92.85 482.09,94.91 482.23,96.17 482.37,96.52 482.50,95.90 482.64,94.27 482.78,91.76 482.92,88.50 483.06,84.72 483.20,80.63 483.34,76.50 483.48,72.58 483.62,69.12 483.76,66.33 483.90,64.39 484.04,63.42 484.18,63.44 484.32,64.32 484.46,65.98 484.60,68.29 484.73,71.10 484.87,74.21 485.01,77.41 485.15,80.46 485.29,83.16 485.43,85.31 485.57,86.77 485.71,87.44 485.85,87.33 485.99,86.69 486.13,85.57 486.27,84.05 486.41,82.23 486.55,80.24 486.69,78.22 486.83,76.31 486.96,74.65 487.10,73.35 487.24,72.51 487.38,72.17 487.52,72.39 487.66,73.19 487.80,74.52 487.94,76.31 488.08,78.46 488.22,80.84 488.36,83.33 488.50,85.79 488.64,88.08 488.78,90.07 488.92,91.65 489.06,92.74 489.19,93.26 489.33,93.17 489.47,92.33 489.61,90.78 489.75,88.60 489.89,85.91 490.03,82.87 490.17,79.64 490.31,76.40 490.45,73.34 490.59,70.62 490.73,68.40 490.87,66.79 491.01,65.90 491.15,65.76 491.29,66.21 491.42,67.17 491.56,68.60 491.70,70.40 491.84,72.47 491.98,74.70 492.12,76.93 492.26,79.06 492.40,80.94 492.54,82.47 492.68,83.57 492.82,84.15 492.96,84.23 493.10,83.99 493.24,83.51 493.38,82.81 493.51,81.93 493.65,80.93 493.79,79.87 493.93,78.80 494.07,77.79 494.21,76.90 494.35,76.19 494.49,75.68 494.63,75.42 494.77,75.45 494.91,75.89 495.05,76.74 495.19,77.96 495.33,79.49 495.47,81.23 495.61,83.08 495.75,84.95 495.88,86.73 496.02,88.33 496.16,89.64 496.30,90.60 496.44,91.16 496.58,91.28 496.72,90.73 496.86,89.46 497.00,87.53 497.14,85.05 497.28,82.17 497.42,79.03 497.56,75.82 497.70,72.72 497.84,69.89 497.98,67.50 498.11,65.68 498.25,64.53 498.39,64.12 498.53,64.48 498.67,65.61 498.81,67.44 498.95,69.85 499.09,72.68 499.23,75.74 499.37,78.83 499.51,81.74 499.65,84.29 499.79,86.31 499.93,87.66 500.07,88.25 500.21,88.11 500.34,87.39 500.48,86.14 500.62,84.45 500.76,82.43 500.90,80.20 501.04,77.93 501.18,75.76 501.32,73.82 501.46,72.26 501.60,71.16 501.74,70.62 501.88,70.68 502.02,71.48 502.16,72.99 502.30,75.12 502.44,77.75 502.57,80.72 502.71,83.86 502.85,86.97 502.99,89.89 503.13,92.43 503.27,94.45 503.41,95.83 503.55,96.48 503.69,96.30 503.83,95.03 503.97,92.72 504.11,89.51 504.25,85.58 504.39,81.18 504.53,76.55 504.67,71.97 504.80,67.71 504.94,64.03 505.08,61.13 505.22,59.19 505.36,58.32 505.50,58.57 505.64,59.90 505.78,62.25 505.92,65.46 506.06,69.35 506.20,73.69 506.34,78.23 506.48,82.69 506.62,86.82 506.76,90.37 506.89,93.13 507.03,94.95 507.17,95.71 507.31,95.42 507.45,94.22 507.59,92.17 507.73,89.40 507.87,86.08 508.01,82.39 508.15,78.56 508.29,74.81 508.43,71.36 508.57,68.41 508.71,66.14 508.85,64.68 508.99,64.12 509.12,64.60 509.26,66.25 509.40,68.97 509.54,72.60 509.68,76.90 509.82,81.60 509.96,86.42 510.10,91.06 510.24,95.22 510.38,98.65 510.52,101.13 510.66,102.51 510.80,102.68 510.94,101.33 511.08,98.46 511.22,94.25 511.36,88.96 511.49,82.91 511.63,76.49 511.77,70.10 511.91,64.13 512.05,58.96 512.19,54.90 512.33,52.22 512.47,51.07 512.61,51.54 512.75,53.65 512.89,57.25 513.03,62.12 513.17,67.97 513.31,74.42 513.45,81.08 513.59,87.53 513.72,93.36 513.86,98.22 514.00,101.81 514.14,103.89 514.28,104.34 514.42,103.25 514.56,100.71 514.70,96.89 514.84,92.02 514.98,86.42 515.12,80.42 515.26,74.41 515.40,68.75 515.54,63.79 515.68,59.86 515.82,57.19 515.95,55.94 516.09,56.33 516.23,58.70 516.37,62.92 516.51,68.66 516.65,75.50 516.79,82.94 516.93,90.41 517.07,97.36 517.21,103.28 517.35,107.72 517.49,110.36 517.63,110.98 517.77,109.29 517.91,105.29 518.05,99.28 518.18,91.69 518.32,83.10 518.46,74.15 518.60,65.50 518.74,57.80 518.88,51.61 519.02,47.41 519.16,45.49 519.30,45.88 519.44,48.20 519.58,52.28 519.72,57.89 519.86,64.70 520.00,72.30 520.14,80.25 520.28,88.08 520.41,95.33 520.55,101.57 520.69,106.43 520.83,109.63 520.97,110.99 521.11,110.44 521.25,108.09 521.39,104.07 521.53,98.63 521.67,92.08 521.81,84.80 521.95,77.24 522.09,69.82 522.23,63.00 522.37,57.16 522.50,52.66 522.64,49.76 522.78,48.63 522.92,49.61 523.06,53.09 523.20,58.79 523.34,66.29 523.48,75.05 523.62,84.39 523.76,93.64 523.90,102.10 524.04,109.14 524.18,114.24 524.32,117.01 524.46,117.24 524.60,114.68 524.74,109.49 524.87,102.04 525.01,92.90 525.15,82.73 525.29,72.31 525.43,62.40 525.57,53.74 525.71,46.97 525.85,42.61 525.99,40.97 526.13,41.90 526.27,44.99 526.41,50.04 526.55,56.76 526.69,64.76 526.83,73.56 526.97,82.65 527.10,91.49 527.24,99.55 527.38,106.38 527.52,111.55 527.66,114.78 527.80,115.86 527.94,114.77 528.08,111.59 528.22,106.53 528.36,99.86 528.50,91.99 528.64,83.38 528.78,74.54 528.92,65.99 529.06,58.22 529.20,51.71 529.33,46.82 529.47,43.86 529.61,42.99 529.75,44.53 529.89,48.56 530.03,54.83 530.17,62.91 530.31,72.27 530.45,82.29 530.59,92.32 530.73,101.69 530.87,109.78 531.01,116.06 531.15,120.12 531.29,121.68 531.42,120.58 531.56,116.80 531.70,110.57 531.84,102.32 531.98,92.58 532.12,82.00 532.26,71.27 532.40,61.11 532.54,52.18 532.68,45.08 532.82,40.27 532.96,38.07 533.10,38.54 533.24,41.44 533.38,46.57 533.52,53.63 533.65,62.22 533.79,71.81 533.93,81.86 534.07,91.76 534.21,100.93 534.35,108.84 534.49,115.01 534.63,119.09 534.77,120.84 534.91,120.15 535.05,117.08 535.19,111.82 535.33,104.68 535.47,96.07 535.61,86.51 535.75,76.55 535.88,66.79 536.02,57.79 536.16,50.09 536.30,44.14 536.44,40.29 536.58,38.77 536.72,39.93 536.86,44.11 537.00,51.01 537.14,60.12 537.28,70.75 537.42,82.12 537.56,93.37 537.70,103.68 537.84,112.27 537.98,118.50 538.12,121.92 538.25,122.27 538.39,119.54 538.53,113.94 538.67,105.90 538.81,96.00 538.95,84.99 539.09,73.69 539.23,62.93 539.37,53.52 539.51,46.15 539.65,41.38 539.79,39.57 539.93,40.57 540.07,43.95 540.21,49.52 540.35,56.94 540.48,65.79 540.62,75.52 540.76,85.59 540.90,95.38 541.04,104.33 541.18,111.91 541.32,117.67 541.46,121.27 541.60,122.50 541.74,121.25 541.88,117.54 542.02,111.59 542.16,103.75 542.30,94.48 542.44,84.34 542.58,73.91 542.71,63.81 542.85,54.63 542.99,46.92 543.13,41.13 543.27,37.60 543.41,36.54 543.55,38.29" fill="none" stroke="#151515" stroke-width="0.6" stroke-linejoin="round"/>
<polyline points="336.30,79.42 336.44,88.16 336.58,99.30 336.72,108.02 336.86,114.32 337.00,119.49 337.14,123.96 337.28,123.85 337.42,120.82 337.55,115.95 337.69,109.43 337.83,97.02 337.97,88.07 338.11,75.24 338.25,65.06 338.39,54.87 338.53,46.93 338.67,40.94 338.81,37.87 338.95,36.63 339.09,39.41 339.23,45.03 339.37,53.10 339.51,60.85 339.65,72.57 339.78,85.03 339.92,95.25 340.06,104.73 340.20,111.47 340.34,118.53 340.48,120.20 340.62,118.84 340.76,115.28 340.90,108.85 341.04,100.39 341.18,90.48 341.32,80.53 341.46,71.01 341.60,59.28 341.74,53.27 341.88,49.23 342.01,46.02 342.15,45.81 342.29,49.29 342.43,50.29 342.57,57.25 342.71,64.18 342.85,72.16 342.99,82.71 343.13,92.70 343.27,103.29 343.41,111.33 343.55,117.22 343.69,121.22 343.83,123.75 343.97,126.36 344.11,123.40 344.24,117.19 344.38,108.95 344.52,99.71 344.66,89.50 344.80,80.05 344.94,69.13 345.08,59.27 345.22,50.45 345.36,42.46 345.50,40.20 345.64,37.92 345.78,37.45 345.92,40.26 346.06,47.09 346.20,54.88 346.34,65.07 346.47,74.66 346.61,87.06 346.75,97.34 346.89,107.53 347.03,116.50 347.17,120.56 347.31,123.50 347.45,122.31 347.59,119.29 347.73,112.46 347.87,104.39 348.01,94.79 348.15,84.97 348.29,72.88 348.43,62.46 348.56,54.86 348.70,49.13 348.84,44.49 348.98,43.95 349.12,44.36 349.26,46.37 349.40,51.20 349.54,57.37 349.68,66.09 349.82,74.41 349.96,84.51 350.10,95.02 350.24,102.43 350.38,110.24 350.52,117.24 350.66,121.29 350.80,123.46 350.93,122.51 351.07,119.50 351.21,114.03 351.35,109.50 351.49,99.36 351.63,90.59 351.77,79.67 351.91,69.61 352.05,61.74 352.19,52.28 352.33,46.80 352.47,43.08 352.61,41.40 352.75,39.74 352.89,41.35 353.03,47.11 353.16,54.25 353.30,63.13 353.44,73.35 353.58,84.26 353.72,93.93 353.86,103.80 354.00,112.94 354.14,117.45 354.28,119.74 354.42,118.78 354.56,115.66 354.70,106.66 354.84,101.61 354.98,89.52 355.12,81.31 355.25,70.95 355.39,62.03 355.53,54.67 355.67,49.94 355.81,47.42 355.95,47.13 356.09,50.72 356.23,53.70 356.37,57.73 356.51,62.16 356.65,70.97 356.79,81.09 356.93,87.85 357.07,97.64 357.21,105.05 357.35,111.90 357.49,116.07 357.62,117.46 357.76,117.19 357.90,115.35 358.04,111.08 358.18,105.00 358.32,97.36 358.46,88.39 358.60,79.68 358.74,69.35 358.88,61.54 359.02,54.13 359.16,48.47 359.30,43.75 359.44,43.29 359.58,42.11 359.72,45.28 359.85,49.34 359.99,56.02 360.13,64.64 360.27,72.96 360.41,82.36 360.55,91.31 360.69,100.71 360.83,107.52 360.97,112.65 361.11,115.00 361.25,115.32 361.39,114.30 361.53,109.59 361.67,104.16 361.81,96.95 361.94,88.50 362.08,81.15 362.22,72.47 362.36,63.79 362.50,59.45 362.64,54.32 362.78,51.83 362.92,50.31 363.06,52.53 363.20,55.27 363.34,59.72 363.48,65.71 363.62,72.66 363.76,81.85 363.90,88.19 364.04,96.48 364.18,101.78 364.31,107.27 364.45,109.60 364.59,109.33 364.73,108.26 364.87,105.24 365.01,100.40 365.15,92.82 365.29,84.42 365.43,76.72 365.57,70.51 365.71,64.17 365.85,59.71 365.99,55.79 366.13,54.30 366.27,54.98 366.41,54.73 366.54,57.77 366.68,62.92 366.82,68.67 366.96,75.67 367.10,83.36 367.24,90.73 367.38,96.11 367.52,100.98 367.66,107.51 367.80,109.32 367.94,110.18 368.08,109.89 368.22,108.58 368.36,103.60 368.50,100.00 368.63,92.37 368.77,84.58 368.91,78.37 369.05,71.12 369.19,66.33 369.33,61.15 369.47,58.86 369.61,55.82 369.75,57.91 369.89,57.09 370.03,60.78 370.17,61.81 370.31,67.03 370.45,72.32 370.59,77.92 370.73,82.13 370.87,89.24 371.00,94.41 371.14,98.27 371.28,99.92 371.42,102.10 371.56,102.38 371.70,100.49 371.84,99.22 371.98,95.05 372.12,90.99 372.26,86.17 372.40,82.78 372.54,77.55 372.68,72.14 372.82,68.12 372.96,66.03 373.10,65.48 373.23,64.67 373.37,64.37 373.51,64.84 373.65,66.94 373.79,72.02 373.93,75.58 374.07,81.33 374.21,86.87 374.35,92.23 374.49,98.33 374.63,102.16 374.77,106.02 374.91,106.64 375.05,108.62 375.19,106.39 375.32,102.90 375.46,100.51 375.60,94.11 375.74,89.50 375.88,84.66 376.02,78.35 376.16,73.34 376.30,69.16 376.44,66.01 376.58,65.76 376.72,63.79 376.86,64.16 377.00,63.65 377.14,65.40 377.28,65.90 377.42,70.02 377.56,71.77 377.69,74.51 377.83,78.36 377.97,81.23 378.11,81.79 378.25,83.90 378.39,85.00 378.53,84.61 378.67,83.52 378.81,83.60 378.95,81.84 379.09,81.01 379.23,79.04 379.37,76.79 379.51,74.67 379.65,73.06 379.79,72.59 379.92,71.48 380.06,70.14 380.20,70.71 380.34,70.84 380.48,71.55 380.62,74.00 380.76,73.79 380.90,76.38 381.04,79.99 381.18,83.46 381.32,88.48 381.46,90.84 381.60,92.16 381.74,94.76 381.88,95.21 382.01,95.30 382.15,93.45 382.29,91.85 382.43,89.18 382.57,85.00 382.71,80.63 382.85,75.89 382.99,74.18 383.13,72.45 383.27,70.94 383.41,69.90 383.55,69.64 383.69,69.51 383.83,69.88 383.97,70.59 384.11,70.48 384.25,71.02 384.38,73.02 384.52,75.96 384.66,78.05 384.80,77.68 384.94,80.20 385.08,81.00 385.22,82.90 385.36,82.12 385.50,82.03 385.64,80.07 385.78,80.51 385.92,81.04 386.06,79.55 386.20,79.59 386.34,78.51 386.48,76.44 386.61,77.79 386.75,76.58 386.89,78.64 387.03,78.49 387.17,78.65 387.31,77.19 387.45,77.92 387.59,78.39 387.73,79.17 387.87,79.18 388.01,82.27 388.15,84.14 388.29,85.80 388.43,88.08 388.57,88.95 388.71,91.78 388.84,92.73 388.98,92.19 389.12,92.70 389.26,92.29 389.40,89.81 389.54,87.15 389.68,83.91 389.82,82.42 389.96,79.37 390.10,76.05 390.24,74.92 390.38,71.90 390.52,71.39 390.66,70.29 390.80,69.66 390.94,69.68 391.07,70.90 391.21,70.45 391.35,70.95 391.49,72.14 391.63,73.13 391.77,75.32 391.91,75.29 392.05,78.76 392.19,80.45 392.33,80.86 392.47,81.62 392.61,82.55 392.75,81.86 392.89,81.09 393.03,79.36 393.17,80.16 393.30,81.04 393.44,79.89 393.58,77.68 393.72,77.25 393.86,76.96 394.00,76.45 394.14,77.04 394.28,76.22 394.42,78.14 394.56,77.86 394.70,77.54 394.84,79.09 394.98,79.16 395.12,80.00 395.26,80.76 395.39,84.19 395.53,86.07 395.67,88.68 395.81,91.30 395.95,92.73 396.09,93.11 396.23,94.22 396.37,93.91 396.51,93.55 396.65,90.28 396.79,90.55 396.93,86.29 397.07,83.50 397.21,80.73 397.35,76.81 397.49,74.01 397.62,72.06 397.76,69.31 397.90,67.94 398.04,68.09 398.18,66.03 398.32,67.23 398.46,67.33 398.60,67.44 398.74,71.28 398.88,71.74 399.02,75.27 399.16,77.78 399.30,80.46 399.44,82.93 399.58,86.19 399.72,86.28 399.86,87.56 399.99,85.86 400.13,85.84 400.27,86.53 400.41,85.05 400.55,83.00 400.69,79.02 400.83,76.82 400.97,75.90 401.11,75.26 401.25,73.47 401.39,73.46 401.53,73.76 401.67,73.71 401.81,74.56 401.95,75.00 402.09,76.24 402.22,76.85 402.36,80.96 402.50,84.50 402.64,87.84 402.78,89.39 402.92,91.33 403.06,93.88 403.20,96.78 403.34,96.34 403.48,96.61 403.62,95.50 403.76,93.89 403.90,89.90 404.04,86.64 404.18,82.62 404.31,78.70 404.45,73.13 404.59,69.02 404.73,66.95 404.87,65.31 405.01,65.09 405.15,63.72 405.29,61.85 405.43,64.23 405.57,66.73 405.71,68.87 405.85,72.44 405.99,77.19 406.13,80.44 406.27,87.71 406.41,89.97 406.55,92.45 406.68,93.84 406.82,93.63 406.96,94.32 407.10,92.07 407.24,88.52 407.38,87.28 407.52,82.68 407.66,79.00 407.80,75.56 407.94,72.16 408.08,70.86 408.22,70.46 408.36,68.20 408.50,69.63 408.64,69.45 408.78,70.89 408.91,72.60 409.05,76.59 409.19,78.57 409.33,84.61 409.47,88.30 409.61,92.35 409.75,94.74 409.89,97.32 410.03,98.16 410.17,97.89 410.31,98.48 410.45,95.14 410.59,93.23 410.73,87.98 410.87,83.19 411.00,78.06 411.14,72.85 411.28,68.26 411.42,63.98 411.56,61.02 411.70,59.97 411.84,58.20 411.98,59.52 412.12,60.97 412.26,62.38 412.40,65.14 412.54,70.33 412.68,74.15 412.82,80.24 412.96,85.02 413.10,89.70 413.24,92.50 413.37,98.62 413.51,99.79 413.65,100.33 413.79,99.89 413.93,97.01 414.07,94.79 414.21,91.00 414.35,86.24 414.49,80.79 414.63,76.55 414.77,71.25 414.91,69.08 415.05,65.17 415.19,63.07 415.33,64.22 415.47,63.02 415.60,63.61 415.74,65.27 415.88,68.17 416.02,72.70 416.16,77.63 416.30,82.99 416.44,87.69 416.58,92.07 416.72,96.46 416.86,100.26 417.00,102.82 417.14,105.09 417.28,104.00 417.42,104.22 417.56,99.73 417.69,94.50 417.83,89.32 417.97,82.68 418.11,77.65 418.25,71.07 418.39,65.41 418.53,59.92 418.67,57.27 418.81,55.34 418.95,53.48 419.09,53.72 419.23,56.02 419.37,58.10 419.51,63.10 419.65,69.80 419.79,74.83 419.93,82.72 420.06,89.81 420.20,96.18 420.34,99.40 420.48,103.72 420.62,104.76 420.76,103.97 420.90,102.48 421.04,98.58 421.18,93.35 421.32,85.97 421.46,79.70 421.60,73.32 421.74,66.56 421.88,60.59 422.02,58.95 422.16,55.88 422.29,55.45 422.43,57.62 422.57,59.10 422.71,62.87 422.85,68.29 422.99,72.79 423.13,79.09 423.27,85.84 423.41,92.78 423.55,99.15 423.69,103.00 423.83,105.54 423.97,107.67 424.11,106.66 424.25,104.21 424.38,100.03 424.52,95.03 424.66,87.47 424.80,80.76 424.94,73.51 425.08,67.85 425.22,60.73 425.36,56.78 425.50,55.23 425.64,53.52 425.78,53.29 425.92,53.45 426.06,59.08 426.20,63.16 426.34,68.10 426.48,73.77 426.62,81.69 426.75,87.81 426.89,96.15 427.03,101.12 427.17,105.29 427.31,108.03 427.45,110.08 427.59,107.39 427.73,106.54 427.87,101.14 428.01,96.24 428.15,90.28 428.29,82.56 428.43,74.70 428.57,69.19 428.71,63.21 428.85,60.03 428.98,55.95 429.12,54.39 429.26,53.93 429.40,56.62 429.54,60.12 429.68,62.97 429.82,69.93 429.96,76.90 430.10,84.62 430.24,91.87 430.38,98.99 430.52,104.54 430.66,108.48 430.80,108.79 430.94,110.09 431.07,108.30 431.21,102.59 431.35,97.85 431.49,90.54 431.63,82.42 431.77,72.82 431.91,68.38 432.05,61.15 432.19,56.72 432.33,53.97 432.47,52.41 432.61,53.04 432.75,54.60 432.89,60.04 433.03,65.22 433.17,72.74 433.31,80.82 433.44,90.37 433.58,94.88 433.72,101.95 433.86,107.08 434.00,111.47 434.14,110.48 434.28,108.98 434.42,105.66 434.56,99.43 434.70,91.70 434.84,84.85 434.98,74.87 435.12,69.54 435.26,62.54 435.40,58.75 435.54,53.92 435.67,53.03 435.81,54.26 435.95,56.23 436.09,59.23 436.23,63.68 436.37,69.06 436.51,77.07 436.65,82.94 436.79,91.25 436.93,97.86 437.07,102.47 437.21,105.59 437.35,110.20 437.49,110.90 437.63,110.03 437.77,107.09 437.90,102.91 438.04,99.06 438.18,92.19 438.32,84.04 438.46,77.33 438.60,69.89 438.74,63.61 438.88,59.51 439.02,55.87 439.16,53.94 439.30,52.47 439.44,54.33 439.58,55.05 439.72,60.50 439.86,65.38 440.00,71.43 440.13,80.19 440.27,88.08 440.41,95.08 440.55,99.64 440.69,106.17 440.83,109.50 440.97,110.48 441.11,110.90 441.25,106.73 441.39,103.32 441.53,97.07 441.67,90.28 441.81,81.43 441.95,75.89 442.09,69.32 442.23,61.05 442.36,57.38 442.50,53.90 442.64,52.40 442.78,52.88 442.92,53.85 443.06,56.71 443.20,61.45 443.34,66.75 443.48,73.92 443.62,81.76 443.76,88.12 443.90,94.60 444.04,101.95 444.18,106.94 444.32,109.05 444.46,110.87 444.59,110.44 444.73,108.12 444.87,104.18 445.01,98.56 445.15,92.40 445.29,85.99 445.43,80.03 445.57,71.56 445.71,66.23 445.85,60.28 445.99,55.76 446.13,53.02 446.27,52.31 446.41,53.72 446.55,54.99 446.69,59.24 446.82,63.98 446.96,73.66 447.10,81.05 447.24,89.13 447.38,95.78 447.52,102.45 447.66,107.76 447.80,109.79 447.94,111.43 448.08,108.11 448.22,104.74 448.36,100.41 448.50,91.35 448.64,84.43 448.78,74.56 448.92,67.82 449.05,61.76 449.19,56.39 449.33,53.49 449.47,53.23 449.61,52.19 449.75,53.67 449.89,58.20 450.03,61.47 450.17,66.85 450.31,75.37 450.45,81.03 450.59,89.48 450.73,95.32 450.87,101.69 451.01,106.02 451.15,107.78 451.28,109.99 451.42,109.07 451.56,108.64 451.70,103.35 451.84,99.53 451.98,91.69 452.12,83.91 452.26,78.31 452.40,69.96 452.54,66.25 452.68,59.64 452.82,56.68 452.96,54.89 453.10,53.91 453.24,55.24 453.38,56.43 453.51,60.79 453.65,65.11 453.79,71.83 453.93,78.56 454.07,86.14 454.21,93.29 454.35,99.09 454.49,104.59 454.63,106.74 454.77,109.29 454.91,109.33 455.05,106.09 455.19,100.92 455.33,95.19 455.47,89.79 455.61,81.00 455.74,75.18 455.88,67.68 456.02,61.69 456.16,56.65 456.30,53.22 456.44,53.25 456.58,52.80 456.72,53.52 456.86,57.61 457.00,60.55 457.14,65.71 457.28,73.56 457.42,79.21 457.56,85.37 457.70,93.36 457.84,99.41 457.97,103.04 458.11,106.41 458.25,107.68 458.39,107.26 458.53,104.57 458.67,101.32 458.81,96.55 458.95,90.83 459.09,85.43 459.23,77.80 459.37,72.08 459.51,66.41 459.65,63.11 459.79,58.45 459.93,55.09 460.06,54.72 460.20,54.15 460.34,57.83 460.48,60.94 460.62,66.01 460.76,71.05 460.90,79.07 461.04,86.21 461.18,92.98 461.32,98.95 461.46,102.53 461.60,106.91 461.74,106.22 461.88,103.59 462.02,101.01 462.16,95.59 462.30,88.64 462.43,83.07 462.57,74.90 462.71,69.14 462.85,61.76 462.99,57.06 463.13,54.48 463.27,53.40 463.41,55.29 463.55,55.88 463.69,59.05 463.83,64.80 463.97,68.91 464.11,77.97 464.25,82.85 464.39,89.94 464.52,95.15 464.66,100.27 464.80,104.68 464.94,103.86 465.08,103.20 465.22,101.62 465.36,97.46 465.50,92.52 465.64,86.03 465.78,79.48 465.92,75.41 466.06,70.36 466.20,65.21 466.34,61.91 466.48,60.26 466.62,60.11 466.75,59.76 466.89,61.67 467.03,64.79 467.17,67.55 467.31,70.93 467.45,74.81 467.59,80.91 467.73,83.45 467.87,89.77 468.01,94.29 468.15,97.13 468.29,100.68 468.43,101.52 468.57,103.09 468.71,102.47 468.85,99.27 468.99,98.43 469.12,93.50 469.26,88.12 469.40,83.52 469.54,77.34 469.68,72.30 469.82,68.40 469.96,64.13 470.10,60.95 470.24,58.90 470.38,57.94 470.52,58.27 470.66,59.84 470.80,58.98 470.94,63.53 471.08,69.10 471.22,74.49 471.35,78.17 471.49,85.50 471.63,90.96 471.77,93.91 471.91,97.00 472.05,97.81 472.19,98.43 472.33,94.39 472.47,91.73 472.61,87.60 472.75,83.05 472.89,77.41 473.03,73.50 473.17,69.51 473.31,67.53 473.45,65.04 473.58,66.22 473.72,65.90 473.86,67.69 474.00,69.26 474.14,71.75 474.28,72.94 474.42,78.86 474.56,81.65 474.70,87.48 474.84,90.73 474.98,95.23 475.12,95.72 475.26,98.63 475.40,99.58 475.54,100.39 475.68,98.20 475.81,96.56 475.95,94.70 476.09,89.73 476.23,86.00 476.37,80.10 476.51,74.90 476.65,70.60 476.79,66.98 476.93,65.05 477.07,63.55 477.21,61.92 477.35,61.13 477.49,61.81 477.63,64.47 477.77,67.71 477.90,69.90 478.04,72.56 478.18,77.96 478.32,80.67 478.46,85.93 478.60,88.48 478.74,90.75 478.88,91.90 479.02,91.98 479.16,90.35 479.30,88.50 479.44,86.65 479.58,83.63 479.72,80.62 479.86,78.09 480.00,75.87 480.13,72.53 480.27,71.00 480.41,71.39 480.55,71.50 480.69,69.78 480.83,71.98 480.97,72.46 481.11,74.30 481.25,78.11 481.39,79.93 481.53,83.61 481.67,87.03 481.81,90.62 481.95,92.64 482.09,95.27 482.23,95.58 482.37,97.43 482.50,97.00 482.64,94.15 482.78,92.33 482.92,89.08 483.06,84.37 483.20,79.85 483.34,77.50 483.48,75.02 483.62,70.35 483.76,67.22 483.90,68.17 484.04,66.80 484.18,65.70 484.32,67.62 484.46,66.94 484.60,68.38 484.73,71.67 484.87,74.66 485.01,77.45 485.15,80.11 485.29,82.32 485.43,86.67 485.57,88.21 485.71,87.84 485.85,87.80 485.99,86.84 486.13,84.26 486.27,84.47 486.41,81.86 486.55,80.92 486.69,79.55 486.83,77.16 486.96,76.86 487.10,76.00 487.24,74.91 487.38,75.34 487.52,74.26 487.66,76.14 487.80,76.69 487.94,77.56 488.08,79.27 488.22,81.89 488.36,83.40 488.50,86.79 488.64,88.42 488.78,89.08 488.92,91.17 489.06,92.08 489.19,93.70 489.33,91.97 489.47,92.33 489.61,91.50 489.75,89.14 489.89,86.08 490.03,82.96 490.17,79.96 490.31,76.17 490.45,74.19 490.59,73.33 490.73,69.06 490.87,70.16 491.01,68.64 491.15,69.59 491.29,69.31 491.42,70.35 491.56,70.04 491.70,72.13 491.84,73.44 491.98,74.25 492.12,77.23 492.26,78.26 492.40,80.45 492.54,82.30 492.68,84.25 492.82,83.65 492.96,84.32 493.10,81.84 493.24,83.11 493.38,82.60 493.51,81.60 493.65,82.17 493.79,80.69 493.93,79.13 494.07,77.69 494.21,79.08 494.35,78.20 494.49,78.81 494.63,78.94 494.77,78.95 494.91,79.34 495.05,78.03 495.19,79.71 495.33,80.35 495.47,82.65 495.61,83.20 495.75,85.42 495.88,87.44 496.02,87.22 496.16,88.95 496.30,89.44 496.44,91.88 496.58,91.91 496.72,92.56 496.86,89.75 497.00,88.02 497.14,86.32 497.28,83.03 497.42,79.38 497.56,76.33 497.70,75.25 497.84,72.01 497.98,70.66 498.11,68.05 498.25,68.55 498.39,68.31 498.53,67.66 498.67,68.79 498.81,70.93 498.95,70.77 499.09,73.89 499.23,75.04 499.37,79.47 499.51,81.40 499.65,85.25 499.79,86.38 499.93,87.30 500.07,88.66 500.21,88.04 500.34,86.44 500.48,86.20 500.62,83.71 500.76,81.69 500.90,80.25 501.04,77.89 501.18,76.83 501.32,74.72 501.46,74.81 501.60,74.42 501.74,75.27 501.88,73.15 502.02,73.84 502.16,75.56 502.30,76.32 502.44,77.77 502.57,82.70 502.71,83.96 502.85,87.75 502.99,90.68 503.13,92.00 503.27,93.82 503.41,95.71 503.55,96.22 503.69,96.47 503.83,93.91 503.97,92.54 504.11,89.79 504.25,85.12 504.39,82.04 504.53,77.23 504.67,71.69 504.80,69.19 504.94,66.66 505.08,65.09 505.22,61.89 505.36,60.43 505.50,61.91 505.64,62.79 505.78,65.24 505.92,66.94 506.06,71.29 506.20,74.26 506.34,78.76 506.48,83.08 506.62,86.36 506.76,90.47 506.89,93.71 507.03,94.45 507.17,96.80 507.31,95.29 507.45,93.50 507.59,90.88 507.73,89.97 507.87,86.38 508.01,81.72 508.15,79.03 508.29,74.07 508.43,73.24 508.57,69.81 508.71,67.73 508.85,68.26 508.99,68.45 509.12,68.00 509.26,67.88 509.40,71.02 509.54,73.98 509.68,77.24 509.82,81.53 509.96,84.70 510.10,89.57 510.24,94.54 510.38,98.76 510.52,101.63 510.66,102.75 510.80,102.85 510.94,101.49 511.08,98.11 511.22,94.73 511.36,88.15 511.49,82.93 511.63,77.06 511.77,69.45 511.91,66.26 512.05,60.12 512.19,57.86 512.33,54.08 512.47,54.67 512.61,55.01 512.75,55.27 512.89,58.34 513.03,61.64 513.17,68.04 513.31,74.65 513.45,79.12 513.59,87.09 513.72,93.06 513.86,97.04 514.00,102.45 514.14,105.07 514.28,104.83 514.42,103.73 514.56,101.00 514.70,95.76 514.84,91.33 514.98,86.21 515.12,80.42 515.26,75.23 515.40,70.06 515.54,65.77 515.68,62.91 515.82,60.39 515.95,59.71 516.09,60.21 516.23,61.39 516.37,64.45 516.51,68.27 516.65,75.83 516.79,81.87 516.93,89.56 517.07,97.95 517.21,103.26 517.35,108.51 517.49,111.14 517.63,110.22 517.77,109.97 517.91,104.51 518.05,99.65 518.18,90.57 518.32,83.09 518.46,73.63 518.60,66.80 518.74,58.17 518.88,53.80 519.02,51.36 519.16,48.85 519.30,49.19 519.44,50.31 519.58,53.68 519.72,59.01 519.86,66.54 520.00,73.14 520.14,79.58 520.28,88.75 520.41,94.94 520.55,101.79 520.69,106.00 520.83,109.82 520.97,111.10 521.11,110.81 521.25,108.27 521.39,104.70 521.53,99.40 521.67,91.90 521.81,84.56 521.95,78.06 522.09,70.14 522.23,63.63 522.37,59.40 522.50,55.80 522.64,51.69 522.78,51.17 522.92,51.69 523.06,56.06 523.20,59.65 523.34,68.60 523.48,75.86 523.62,83.83 523.76,94.34 523.90,102.07 524.04,109.70 524.18,114.67 524.32,115.78 524.46,117.49 524.60,114.28 524.74,109.57 524.87,102.40 525.01,93.84 525.15,83.39 525.29,72.10 525.43,62.40 525.57,55.23 525.71,48.20 525.85,44.72 525.99,44.00 526.13,44.98 526.27,48.59 526.41,53.35 526.55,58.43 526.69,66.04 526.83,74.54 526.97,82.60 527.10,91.54 527.24,99.34 527.38,106.76 527.52,111.18 527.66,114.08 527.80,115.25 527.94,115.60 528.08,112.04 528.22,106.76 528.36,100.34 528.50,92.45 528.64,82.66 528.78,74.99 528.92,66.65 529.06,59.67 529.20,52.83 529.33,50.29 529.47,47.53 529.61,46.14 529.75,48.08 529.89,49.13 530.03,56.49 530.17,63.65 530.31,73.30 530.45,83.22 530.59,94.63 530.73,103.23 530.87,110.37 531.01,115.92 531.15,119.93 531.29,121.99 531.42,120.07 531.56,117.26 531.70,111.05 531.84,102.45 531.98,92.67 532.12,82.22 532.26,72.30 532.40,61.86 532.54,53.16 532.68,48.32 532.82,43.44 532.96,39.92 533.10,41.21 533.24,44.70 533.38,47.60 533.52,55.23 533.65,63.03 533.79,71.73 533.93,81.68 534.07,91.11 534.21,99.74 534.35,108.04 534.49,115.04 534.63,118.72 534.77,121.44 534.91,120.31 535.05,117.37 535.19,113.21 535.33,104.42 535.47,96.06 535.61,87.23 535.75,76.62 535.88,67.17 536.02,58.45 536.16,51.77 536.30,46.88 536.44,43.50 536.58,42.33 536.72,42.77 536.86,47.44 537.00,51.59 537.14,61.41 537.28,70.93 537.42,80.53 537.56,93.28 537.70,103.28 537.84,111.74 537.98,117.98 538.12,122.20 538.25,122.67 538.39,118.95 538.53,114.16 538.67,105.95 538.81,97.35 538.95,84.99 539.09,74.27 539.23,64.50 539.37,54.76 539.51,49.13 539.65,45.53 539.79,42.25 539.93,43.32 540.07,45.93 540.21,51.19 540.35,58.84 540.48,66.45 540.62,75.94 540.76,85.61 540.90,95.10 541.04,104.77 541.18,113.51 541.32,117.21 541.46,122.02 541.60,123.08 541.74,120.57 541.88,117.11 542.02,111.73 542.16,104.10 542.30,95.00 542.44,84.74 542.58,73.22 542.71,64.50 542.85,56.70 542.99,48.94 543.13,44.65 543.27,40.84 543.41,40.83 543.55,41.98" fill="none" stroke="none" marker-start="url(#mo)" marker-mid="url(#mo)" marker-end="url(#mo)"/>
</g>
<path d="M336.3 16.4V137.2" stroke="#d4d4d4" stroke-width="0.6"/>
<path d="M336.3 16.4H544.0V137.2" stroke="#a8a8a8" stroke-width="0.9" fill="none"/>
<path d="M336.3 137.20H544.0" stroke="#9a9a9a" stroke-width="0.9"/>
<text x="321.35" y="18.70" font-size="6.4" font-weight="bold" text-anchor="start" textLength="7.65" lengthAdjust="spacingAndGlyphs"  fill="#000" font-family='"Liberation Sans", sans-serif'>3.0</text>
<text x="321.35" y="28.77" font-size="6.4" font-weight="bold" text-anchor="start" textLength="7.65" lengthAdjust="spacingAndGlyphs"  fill="#000" font-family='"Liberation Sans", sans-serif'>2.5</text>
<text x="321.35" y="38.84" font-size="6.4" font-weight="bold" text-anchor="start" textLength="7.65" lengthAdjust="spacingAndGlyphs"  fill="#000" font-family='"Liberation Sans", sans-serif'>2.0</text>
<text x="321.35" y="48.90" font-size="6.4" font-weight="bold" text-anchor="start" textLength="7.65" lengthAdjust="spacingAndGlyphs"  fill="#000" font-family='"Liberation Sans", sans-serif'>1.5</text>
<text x="321.35" y="58.97" font-size="6.4" font-weight="bold" text-anchor="start" textLength="7.65" lengthAdjust="spacingAndGlyphs"  fill="#000" font-family='"Liberation Sans", sans-serif'>1.0</text>
<text x="321.35" y="69.04" font-size="6.4" font-weight="bold" text-anchor="start" textLength="7.65" lengthAdjust="spacingAndGlyphs"  fill="#000" font-family='"Liberation Sans", sans-serif'>0.5</text>
<text x="321.35" y="79.10" font-size="6.4" font-weight="bold" text-anchor="start" textLength="7.65" lengthAdjust="spacingAndGlyphs"  fill="#000" font-family='"Liberation Sans", sans-serif'>0.0</text>
<text x="319.52" y="89.17" font-size="6.4" font-weight="bold" text-anchor="start" textLength="9.48" lengthAdjust="spacingAndGlyphs"  fill="#000" font-family='"Liberation Sans", sans-serif'>-0.5</text>
<text x="319.52" y="99.24" font-size="6.4" font-weight="bold" text-anchor="start" textLength="9.48" lengthAdjust="spacingAndGlyphs"  fill="#000" font-family='"Liberation Sans", sans-serif'>-1.0</text>
<text x="319.52" y="109.30" font-size="6.4" font-weight="bold" text-anchor="start" textLength="9.48" lengthAdjust="spacingAndGlyphs"  fill="#000" font-family='"Liberation Sans", sans-serif'>-1.5</text>
<text x="319.52" y="119.37" font-size="6.4" font-weight="bold" text-anchor="start" textLength="9.48" lengthAdjust="spacingAndGlyphs"  fill="#000" font-family='"Liberation Sans", sans-serif'>-2.0</text>
<text x="319.52" y="129.44" font-size="6.4" font-weight="bold" text-anchor="start" textLength="9.48" lengthAdjust="spacingAndGlyphs"  fill="#000" font-family='"Liberation Sans", sans-serif'>-2.5</text>
<text x="319.52" y="139.50" font-size="6.4" font-weight="bold" text-anchor="start" textLength="9.48" lengthAdjust="spacingAndGlyphs"  fill="#000" font-family='"Liberation Sans", sans-serif'>-3.0</text>
<text x="330.70" y="147.80" font-size="6.4" font-weight="bold" text-anchor="start" textLength="11.21" lengthAdjust="spacingAndGlyphs"  fill="#000" font-family='"Liberation Sans", sans-serif'>3/10</text>
<text x="364.15" y="147.80" font-size="6.4" font-weight="bold" text-anchor="start" textLength="11.21" lengthAdjust="spacingAndGlyphs"  fill="#000" font-family='"Liberation Sans", sans-serif'>3/15</text>
<text x="397.60" y="147.80" font-size="6.4" font-weight="bold" text-anchor="start" textLength="11.21" lengthAdjust="spacingAndGlyphs"  fill="#000" font-family='"Liberation Sans", sans-serif'>3/20</text>
<text x="431.05" y="147.80" font-size="6.4" font-weight="bold" text-anchor="start" textLength="11.21" lengthAdjust="spacingAndGlyphs"  fill="#000" font-family='"Liberation Sans", sans-serif'>3/25</text>
<text x="464.50" y="147.80" font-size="6.4" font-weight="bold" text-anchor="start" textLength="11.21" lengthAdjust="spacingAndGlyphs"  fill="#000" font-family='"Liberation Sans", sans-serif'>3/30</text>
<text x="499.55" y="147.80" font-size="6.4" font-weight="bold" text-anchor="start" textLength="8.01" lengthAdjust="spacingAndGlyphs"  fill="#000" font-family='"Liberation Sans", sans-serif'>4/4</text>
<text x="533.00" y="147.80" font-size="6.4" font-weight="bold" text-anchor="start" textLength="8.01" lengthAdjust="spacingAndGlyphs"  fill="#000" font-family='"Liberation Sans", sans-serif'>4/9</text>
<text x="407.60" y="9.10" font-size="8.8" font-weight="bold" text-anchor="start" textLength="49.70" lengthAdjust="spacingAndGlyphs"  fill="#000" font-family='"Liberation Sans", sans-serif'>Gwangyang</text>
<text x="524.60" y="13.80" font-size="5.6" font-weight="bold" textLength="17.20" lengthAdjust="spacingAndGlyphs" font-family='"Liberation Sans", sans-serif'>R<tspan font-size="3.6" dy="-2">2</tspan><tspan dy="2"> 0.98</tspan></text>
<rect x="494.7" y="16.4" width="49.3" height="11.1" fill="#fff" stroke="#8c8c8c" stroke-width="0.8"/>
<circle cx="502.9" cy="22.1" r="1.0" fill="none" stroke="#f01818" stroke-width="0.6"/>
<text x="507.50" y="24.10" font-size="5.6" font-weight="bold" text-anchor="start" textLength="9.00" lengthAdjust="spacingAndGlyphs"  fill="#000" font-family='"Liberation Sans", sans-serif'>Obs.</text>
<path d="M523.0 22.1H528.7" stroke="#222" stroke-width="0.7"/>
<text x="529.60" y="24.10" font-size="5.6" font-weight="bold" text-anchor="start" textLength="9.00" lengthAdjust="spacingAndGlyphs"  fill="#000" font-family='"Liberation Sans", sans-serif'>Sim.</text>
<text transform="translate(316.20,75.85) rotate(-90)" x="0" y="0" text-anchor="middle" font-size="7.31" font-weight="bold" textLength="67.70" lengthAdjust="spacingAndGlyphs" font-family='"Liberation Sans", sans-serif'>Water Level (EL. m)</text>
<text x="410.00" y="157.20" font-size="8.6" font-weight="bold" text-anchor="start" textLength="60.00" lengthAdjust="spacingAndGlyphs"  fill="#000" font-family='"Liberation Sans", sans-serif'>Date (30minutes)</text>
<path d="M30.5 229.18H238.3M30.5 242.56H238.3M30.5 255.93H238.3M30.5 269.31H238.3M30.5 282.69H238.3M30.5 296.07H238.3M30.5 309.44H238.3M30.5 322.82H238.3M64.20 215.8V336.2M97.90 215.8V336.2M131.60 215.8V336.2M165.30 215.8V336.2M199.00 215.8V336.2M232.70 215.8V336.2" stroke="#e4e4e4" stroke-width="0.6" fill="none"/>
<g>
<polyline points="30.50,302.04 30.64,307.63 30.78,315.75 30.92,323.86 31.06,330.08 31.20,333.81 31.34,335.52 31.48,336.08 31.62,336.19 31.76,336.20 31.90,336.20 32.04,336.20 32.19,336.20 32.33,336.14 32.47,335.69 32.61,333.84 32.75,328.86 32.89,318.99 33.03,303.90 33.17,285.88 33.31,269.69 33.45,260.68 33.59,261.69 33.73,270.83 33.87,285.32 34.01,301.37 34.15,315.53 34.29,325.81 34.43,331.92 34.57,334.84 34.71,335.90 34.85,336.16 34.99,336.20 35.13,336.20 35.27,336.20 35.41,336.20 35.55,336.20 35.70,336.14 35.84,335.83 35.98,334.74 36.12,332.02 36.26,326.77 36.40,318.54 36.54,307.93 36.68,296.73 36.82,287.57 36.96,282.95 37.10,284.40 37.24,291.93 37.38,303.18 37.52,314.96 37.66,324.64 37.80,331.04 37.94,334.40 38.08,335.75 38.22,336.13 38.36,336.20 38.50,336.20 38.64,336.20 38.78,336.20 38.92,336.20 39.07,336.13 39.21,335.72 39.35,334.19 39.49,330.29 39.63,322.71 39.77,311.04 39.91,296.58 40.05,282.45 40.19,272.61 40.33,270.14 40.47,275.30 40.61,286.27 40.75,300.05 40.89,313.35 41.03,323.82 41.17,330.62 41.31,334.20 41.45,335.67 41.59,336.11 41.73,336.19 41.87,336.20 42.01,336.20 42.15,336.20 42.30,336.20 42.44,336.18 42.58,336.04 42.72,335.44 42.86,333.75 43.00,330.14 43.14,323.96 43.28,315.31 43.42,305.34 43.56,296.14 43.70,290.09 43.84,288.92 43.98,292.99 44.12,301.09 44.26,311.02 44.40,320.45 44.54,327.78 44.68,332.46 44.82,334.89 44.96,335.86 45.10,336.15 45.24,336.20 45.38,336.20 45.52,336.20 45.66,336.20 45.81,336.20 45.95,336.17 46.09,335.98 46.23,335.19 46.37,333.00 46.51,328.41 46.65,320.69 46.79,310.03 46.93,297.92 47.07,286.97 47.21,280.02 47.35,279.05 47.49,283.86 47.63,293.07 47.77,304.39 47.91,315.42 48.05,324.35 48.19,330.44 48.33,333.90 48.47,335.49 48.61,336.04 48.75,336.18 48.89,336.20 49.03,336.20 49.18,336.20 49.32,336.20 49.46,336.20 49.60,336.18 49.74,336.09 49.88,335.75 50.02,334.90 50.16,333.18 50.30,330.36 50.44,326.47 50.58,321.97 50.72,317.68 50.86,314.58 51.00,313.46 51.14,315.08 51.28,319.31 51.42,324.68 51.56,329.61 51.70,333.14 51.84,335.10 51.98,335.92 52.12,336.16 52.26,336.20 52.41,336.20 52.55,336.20 52.69,336.20 52.83,336.20 52.97,336.12 53.11,335.66 53.25,334.02 53.39,330.00 53.53,322.66 53.67,312.21 53.81,300.65 53.95,291.30 54.09,287.39 54.23,289.48 54.37,295.90 54.51,305.01 54.65,314.71 54.79,323.18 54.93,329.40 55.07,333.23 55.21,335.17 55.35,335.93 55.49,336.16 55.63,336.20 55.78,336.20 55.92,336.20 56.06,336.20 56.20,336.20 56.34,336.19 56.48,336.15 56.62,335.94 56.76,335.35 56.90,334.04 57.04,331.71 57.18,328.24 57.32,323.92 57.46,319.42 57.60,315.70 57.74,313.66 57.88,313.97 58.02,317.05 58.16,321.91 58.30,327.08 58.44,331.33 58.58,334.09 58.72,335.50 58.86,336.04 59.00,336.18 59.14,336.20 59.29,336.20 59.43,336.20 59.57,336.20 59.71,336.20 59.85,336.15 59.99,335.92 60.13,335.15 60.27,333.34 60.41,330.11 60.55,325.56 60.69,320.48 60.83,316.24 60.97,314.19 61.11,314.95 61.25,318.05 61.39,322.57 61.53,327.29 61.67,331.23 61.81,333.89 61.95,335.35 62.09,335.97 62.23,336.16 62.37,336.20 62.52,336.20 62.66,336.20 62.80,336.20 62.94,336.20 63.08,336.19 63.22,336.13 63.36,335.87 63.50,335.13 63.64,333.54 63.78,330.88 63.92,327.22 64.06,323.16 64.20,319.65 64.34,317.67 64.48,317.89 64.62,320.42 64.76,324.42 64.90,328.68 65.04,332.18 65.18,334.46 65.32,335.62 65.46,336.07 65.60,336.18 65.74,336.20 65.88,336.20 66.03,336.20 66.17,336.20 66.31,336.20 66.45,336.16 66.59,335.99 66.73,335.40 66.87,334.04 67.01,331.60 67.15,328.15 67.29,324.30 67.43,321.09 67.57,319.53 67.71,320.03 67.85,322.15 67.99,325.30 68.13,328.72 68.27,331.72 68.41,333.90 68.55,335.23 68.69,335.88 68.83,336.12 68.97,336.19 69.11,336.20 69.25,336.20 69.40,336.20 69.54,336.20 69.68,336.20 69.82,336.19 69.96,336.11 70.10,335.81 70.24,334.99 70.38,333.32 70.52,330.51 70.66,326.61 70.80,322.11 70.94,317.89 71.08,314.98 71.22,314.15 71.36,315.74 71.50,319.30 71.64,323.87 71.78,328.34 71.92,331.90 72.06,334.24 72.20,335.49 72.34,336.01 72.48,336.17 72.62,336.20 72.77,336.20 72.91,336.20 73.05,336.20 73.19,336.20 73.33,336.18 73.47,336.07 73.61,335.57 73.75,334.12 73.89,330.99 74.03,325.57 74.17,317.88 74.31,308.92 74.45,300.52 74.59,294.85 74.73,293.51 74.87,296.73 75.01,303.53 75.15,312.15 75.29,320.61 75.43,327.45 75.57,332.05 75.71,334.60 75.85,335.73 76.00,336.11 76.14,336.19 76.28,336.20 76.42,336.20 76.56,336.20 76.70,336.20 76.84,336.19 76.98,336.10 77.12,335.66 77.26,334.23 77.40,330.82 77.54,324.43 77.68,314.59 77.82,301.98 77.96,288.60 78.10,277.41 78.24,271.26 78.38,271.92 78.52,279.47 78.66,291.77 78.80,305.58 78.94,317.89 79.08,326.91 79.22,332.33 79.37,334.95 79.51,335.92 79.65,336.16 79.79,336.20 79.93,336.20 80.07,336.20 80.21,336.20 80.35,336.20 80.49,336.15 80.63,335.87 80.77,334.89 80.91,332.41 81.05,327.56 81.19,319.88 81.33,309.88 81.47,299.22 81.61,290.36 81.75,285.70 81.89,286.61 82.03,292.82 82.17,302.53 82.31,313.23 82.45,322.62 82.59,329.40 82.74,333.42 82.88,335.32 83.02,336.01 83.16,336.18 83.30,336.20 83.44,336.20 83.58,336.20 83.72,336.20 83.86,336.19 84.00,336.11 84.14,335.66 84.28,334.09 84.42,330.22 84.56,322.77 84.70,311.16 84.84,296.24 84.98,280.59 85.12,267.88 85.26,261.59 85.40,267.17 85.54,287.34 85.68,305.41 85.82,313.14 85.96,314.59 86.10,314.66 86.25,314.66 86.39,314.65 86.53,314.09 86.67,309.74 86.81,296.48 86.95,277.04 87.09,266.04 87.23,272.59 87.37,287.61 87.51,298.16 87.65,301.43 87.79,301.78 87.93,301.79 88.07,301.78 88.21,301.55 88.35,298.21 88.49,284.36 88.63,259.60 88.77,242.42 88.91,248.81 89.05,269.05 89.19,286.12 89.33,293.04 89.47,294.24 89.62,294.29 89.76,294.29 89.90,294.28 90.04,293.70 90.18,289.54 90.32,277.56 90.46,260.95 90.60,252.59 90.74,261.59 90.88,279.38 91.02,291.13 91.16,294.54 91.30,294.88 91.44,294.88 91.58,294.88 91.72,294.52 91.86,290.01 92.00,272.54 92.14,243.14 92.28,224.74 92.42,236.77 92.56,266.44 92.70,287.85 92.84,294.67 92.99,295.44 93.13,295.45 93.27,295.45 93.41,295.28 93.55,292.87 93.69,282.52 93.83,263.55 93.97,249.81 94.11,254.97 94.25,272.88 94.39,288.38 94.53,294.82 94.67,295.98 94.81,296.03 94.95,296.03 95.09,296.01 95.23,295.29 95.37,289.88 95.51,273.93 95.65,251.27 95.79,239.24 95.93,242.62 96.07,252.58 96.22,266.55 96.36,281.34 96.50,294.21 96.64,303.62 96.78,309.37 96.92,312.26 97.06,313.40 97.20,313.73 97.34,313.79 97.48,313.79 97.62,313.79 97.76,313.79 97.90,313.79 98.04,313.77 98.18,313.64 98.32,313.07 98.46,311.44 98.60,307.86 98.74,301.50 98.88,292.10 99.02,280.42 99.16,268.34 99.30,258.41 99.44,253.07 99.58,253.82 99.73,260.87 99.87,272.59 100.01,286.43 100.15,299.75 100.29,310.64 100.43,318.26 100.57,322.77 100.71,325.00 100.85,325.87 100.99,326.12 101.13,326.16 101.27,326.17 101.41,326.17 101.55,326.17 101.69,326.17 101.83,326.15 101.97,326.05 102.11,325.61 102.25,324.27 102.39,321.19 102.53,315.44 102.67,306.45 102.81,294.44 102.95,280.73 103.10,267.59 103.24,257.72 103.38,253.35 103.52,256.63 103.66,268.34 103.80,284.64 103.94,300.77 104.08,313.25 104.22,320.91 104.36,324.56 104.50,325.84 104.64,326.13 104.78,326.17 104.92,326.17 105.06,326.17 105.20,326.17 105.34,326.14 105.48,325.87 105.62,324.63 105.76,320.90 105.90,312.78 106.04,299.15 106.18,281.02 106.33,262.06 106.47,247.66 106.61,242.56 106.75,247.89 106.89,261.41 107.03,279.16 107.17,296.58 107.31,310.34 107.45,319.19 107.59,323.76 107.73,325.57 107.87,326.08 108.01,326.16 108.15,326.17 108.29,326.17 108.43,326.17 108.57,326.16 108.71,326.11 108.85,325.79 108.99,324.54 109.13,321.29 109.27,314.77 109.41,304.36 109.55,290.82 109.70,276.61 109.84,265.26 109.98,260.07 110.12,262.23 110.26,270.43 110.40,282.54 110.54,295.73 110.68,307.48 110.82,316.25 110.96,321.75 111.10,324.59 111.24,325.75 111.38,326.09 111.52,326.16 111.66,326.17 111.80,326.17 111.94,326.17 112.08,326.17 112.22,326.15 112.36,326.00 112.50,325.32 112.64,323.29 112.78,318.70 112.92,310.34 113.07,297.71 113.21,281.67 113.35,264.65 113.49,250.17 113.63,241.74 113.77,241.66 113.91,250.66 114.05,266.25 114.19,284.28 114.33,300.72 114.47,313.00 114.61,320.56 114.75,324.30 114.89,325.72 115.03,326.10 115.17,326.16 115.31,326.17 115.45,326.17 115.59,326.17 115.73,326.16 115.87,326.11 116.01,325.79 116.15,324.59 116.29,321.48 116.44,315.23 116.58,305.14 116.72,291.71 116.86,277.06 117.00,264.50 117.14,257.40 117.28,258.03 117.42,267.19 117.56,282.08 117.70,298.37 117.84,312.24 117.98,321.74 118.12,326.92 118.26,329.10 118.40,329.75 118.54,329.87 118.68,329.88 118.82,329.88 118.96,329.88 119.10,329.88 119.24,329.82 119.38,329.44 119.52,327.92 119.66,323.85 119.81,315.61 119.95,302.47 120.09,285.63 120.23,268.48 120.37,255.69 120.51,251.26 120.65,256.22 120.79,268.74 120.93,285.33 121.07,301.92 121.21,315.40 121.35,324.42 121.49,329.34 121.63,331.45 121.77,332.12 121.91,332.25 122.05,332.27 122.19,332.27 122.33,332.27 122.47,332.27 122.61,332.25 122.75,332.10 122.89,331.41 123.03,329.37 123.18,324.82 123.32,316.79 123.46,305.19 123.60,291.39 123.74,278.15 123.88,268.81 124.02,266.04 124.16,271.49 124.30,283.83 124.44,299.06 124.58,313.02 124.72,323.12 124.86,328.90 125.00,331.43 125.14,332.22 125.28,332.37 125.42,332.39 125.56,332.39 125.70,332.39 125.84,332.39 125.98,332.33 126.12,331.94 126.26,330.35 126.40,326.05 126.55,317.42 126.69,303.90 126.83,287.10 126.97,270.90 127.11,260.16 127.25,258.39 127.39,264.82 127.53,277.21 127.67,292.35 127.81,306.87 127.95,318.37 128.09,325.95 128.23,330.05 128.37,331.82 128.51,332.38 128.65,332.50 128.79,332.51 128.93,332.51 129.07,332.51 129.21,332.51 129.35,332.50 129.49,332.38 129.63,331.84 129.77,330.17 129.92,326.30 130.06,319.22 130.20,308.54 130.34,295.13 130.48,281.24 130.62,269.99 130.76,264.30 130.90,265.85 131.04,274.47 131.18,287.71 131.32,302.14 131.46,314.71 131.60,323.72 131.74,329.02 131.88,331.51 132.02,332.39 132.16,332.61 132.30,332.64 132.44,332.64 132.58,332.64 132.72,332.64 132.86,332.63 133.00,332.55 133.14,332.11 133.29,330.61 133.43,326.96 133.57,319.98 133.71,309.20 133.85,295.44 133.99,281.14 134.13,269.66 134.27,264.16 134.41,266.89 134.55,278.16 134.69,294.05 134.83,309.65 134.97,321.45 135.11,328.41 135.25,331.54 135.39,332.54 135.53,332.74 135.67,332.75 135.81,332.75 135.95,332.75 136.09,332.75 136.23,332.69 136.37,332.24 136.51,330.46 136.66,325.74 136.80,316.55 136.94,302.69 137.08,286.39 137.22,272.04 137.36,264.43 137.50,265.84 137.64,274.47 137.78,287.75 137.92,302.23 138.06,314.85 138.20,323.91 138.34,329.23 138.48,331.74 138.62,332.63 138.76,332.84 138.90,332.87 139.04,332.87 139.18,332.87 139.32,332.87 139.46,332.87 139.60,332.79 139.74,332.34 139.88,330.85 140.02,327.19 140.17,320.20 140.31,309.39 140.45,295.60 140.59,281.24 140.73,269.71 140.87,264.17 141.01,266.26 141.15,275.35 141.29,288.87 141.43,303.33 141.57,315.75 141.71,324.53 141.85,329.62 141.99,331.97 142.13,332.78 142.27,332.97 142.41,333.00 142.55,333.00 142.69,333.00 142.83,333.00 142.97,332.99 143.11,332.90 143.25,332.44 143.39,330.92 143.54,327.27 143.68,320.41 143.82,309.95 143.96,296.80 144.10,283.33 144.24,272.78 144.38,268.07 144.52,271.07 144.66,281.61 144.80,296.19 144.94,310.58 145.08,321.68 145.22,328.48 145.36,331.71 145.50,332.83 145.64,333.09 145.78,333.12 145.92,333.12 146.06,333.12 146.20,333.12 146.34,333.10 146.48,332.93 146.62,332.12 146.76,329.73 146.91,324.54 147.05,315.84 147.19,304.29 147.33,292.27 147.47,283.18 147.61,280.02 147.75,283.30 147.89,291.53 148.03,302.43 148.17,313.33 148.31,322.18 148.45,328.10 148.59,331.32 148.73,332.71 148.87,333.14 149.01,333.23 149.15,333.24 149.29,333.24 149.43,333.24 149.57,333.24 149.71,333.22 149.85,333.09 149.99,332.50 150.13,330.73 150.28,326.79 150.42,319.85 150.56,309.83 150.70,297.91 150.84,286.49 150.98,278.44 151.12,276.05 151.26,280.04 151.40,289.22 151.54,301.07 151.68,312.71 151.82,322.03 151.96,328.17 152.10,331.47 152.24,332.85 152.38,333.27 152.52,333.36 152.66,333.36 152.80,333.36 152.94,333.36 153.08,333.36 153.22,333.35 153.36,333.27 153.50,332.90 153.65,331.82 153.79,329.46 153.93,325.37 154.07,319.54 154.21,312.72 154.35,306.30 154.49,301.92 154.63,300.83 154.77,303.67 154.91,309.63 155.05,316.91 155.19,323.64 155.33,328.60 155.47,331.54 155.61,332.90 155.75,333.37 155.89,333.47 156.03,333.49 156.17,333.49 156.31,333.49 156.45,333.49 156.59,333.47 156.73,333.37 156.88,332.86 157.02,331.34 157.16,327.96 157.30,322.13 157.44,314.06 157.58,305.11 157.72,297.54 157.86,293.62 158.00,294.50 158.14,299.56 158.28,307.32 158.42,315.77 158.56,323.13 158.70,328.40 158.84,331.50 158.98,332.95 159.12,333.47 159.26,333.59 159.40,333.61 159.54,333.61 159.68,333.61 159.82,333.61 159.96,333.61 160.10,333.58 160.25,333.42 160.39,332.89 160.53,331.60 160.67,329.15 160.81,325.35 160.95,320.51 161.09,315.47 161.23,311.44 161.37,309.51 161.51,310.26 161.65,313.48 161.79,318.24 161.93,323.33 162.07,327.69 162.21,330.77 162.35,332.55 162.49,333.37 162.63,333.66 162.77,333.72 162.91,333.73 163.05,333.73 163.19,333.73 163.33,333.73 163.47,333.73 163.62,333.69 163.76,333.46 163.90,332.71 164.04,330.93 164.18,327.58 164.32,322.48 164.46,316.08 164.60,309.53 164.74,304.40 164.88,302.13 165.02,303.53 165.16,308.41 165.30,315.25 165.44,322.15 165.58,327.64 165.72,331.17 165.86,332.96 166.00,333.64 166.14,333.83 166.28,333.85 166.42,333.85 166.56,333.85 166.70,333.85 166.84,333.85 166.99,333.83 167.13,333.69 167.27,333.19 167.41,331.99 167.55,329.72 167.69,326.34 167.83,322.27 167.97,318.45 168.11,315.96 168.25,315.59 168.39,317.30 168.53,320.53 168.67,324.41 168.81,328.05 168.95,330.84 169.09,332.60 169.23,333.50 169.37,333.86 169.51,333.96 169.65,333.98 169.79,333.98 169.93,333.98 170.07,333.98 170.21,333.98 170.35,333.96 170.50,333.82 170.64,333.29 170.78,331.85 170.92,328.86 171.06,323.91 171.20,317.16 171.34,309.60 171.48,302.87 171.62,298.75 171.76,298.51 171.90,302.75 172.04,310.16 172.18,318.43 172.32,325.47 172.46,330.23 172.60,332.76 172.74,333.77 172.88,334.05 173.02,334.09 173.16,334.10 173.30,334.10 173.44,334.10 173.58,334.09 173.72,334.04 173.87,333.72 174.01,332.59 174.15,329.81 174.29,324.65 174.43,317.10 174.57,308.36 174.71,300.66 174.85,296.42 174.99,296.85 175.13,301.02 175.27,307.70 175.41,315.23 175.55,322.03 175.69,327.13 175.83,330.31 175.97,331.93 176.11,332.57 176.25,332.75 176.39,332.79 176.53,332.79 176.67,332.79 176.81,332.79 176.95,332.79 177.09,332.77 177.24,332.60 177.38,331.94 177.52,330.07 177.66,326.06 177.80,319.14 177.94,309.27 178.08,297.53 178.22,286.13 178.36,277.76 178.50,274.66 178.64,277.46 178.78,285.10 178.92,295.43 179.06,305.91 179.20,314.51 179.34,320.33 179.48,323.54 179.62,324.94 179.76,325.39 179.90,325.49 180.04,325.50 180.18,325.50 180.32,325.50 180.47,325.50 180.61,325.49 180.75,325.40 180.89,325.00 181.03,323.76 181.17,320.98 181.31,316.01 181.45,308.75 181.59,300.02 181.73,291.53 181.87,285.40 182.01,283.37 182.15,285.45 182.29,290.58 182.43,297.34 182.57,304.08 182.71,309.53 182.85,313.17 182.99,315.15 183.13,315.99 183.27,316.25 183.41,316.31 183.55,316.31 183.69,316.31 183.84,316.31 183.98,316.31 184.12,316.29 184.26,316.14 184.40,315.44 184.54,313.35 184.68,308.74 184.82,300.63 184.96,288.96 185.10,275.12 185.24,261.90 185.38,252.65 185.52,249.98 185.66,254.21 185.80,263.81 185.94,276.13 186.08,288.20 186.22,297.82 186.36,304.15 186.50,307.53 186.64,308.95 186.78,309.38 186.92,309.46 187.06,309.47 187.21,309.47 187.35,309.47 187.49,309.47 187.63,309.45 187.77,309.33 187.91,308.78 188.05,307.21 188.19,303.80 188.33,297.88 188.47,289.48 188.61,279.67 188.75,270.47 188.89,264.24 189.03,262.74 189.17,266.13 189.31,273.23 189.45,281.99 189.59,290.25 189.73,296.54 189.87,300.44 190.01,302.37 190.15,303.10 190.29,303.28 190.43,303.31 190.58,303.31 190.72,303.31 190.86,303.31 191.00,303.31 191.14,303.24 191.28,302.87 191.42,301.57 191.56,298.32 191.70,292.10 191.84,282.51 191.98,270.47 192.12,258.35 192.26,249.27 192.40,245.90 192.54,249.72 192.68,259.70 192.82,272.40 192.96,284.08 193.10,292.44 193.24,297.08 193.38,299.03 193.52,299.59 193.66,299.68 193.80,299.69 193.95,299.69 194.09,299.69 194.23,299.68 194.37,299.59 194.51,299.00 194.65,296.91 194.79,291.78 194.93,282.40 195.07,269.03 195.21,254.24 195.35,242.26 195.49,237.23 195.63,243.50 195.77,260.58 195.91,279.35 196.05,292.49 196.19,298.56 196.33,300.28 196.47,300.52 196.61,300.53 196.75,300.53 196.89,300.52 197.03,300.43 197.17,299.55 197.31,295.98 197.46,287.40 197.60,273.86 197.74,259.95 197.88,252.75 198.02,257.34 198.16,272.50 198.30,290.02 198.44,302.75 198.58,308.87 198.72,310.70 198.86,310.97 199.00,310.98 199.14,310.98 199.28,310.98 199.42,310.85 199.56,309.57 199.70,304.05 199.84,290.16 199.98,267.45 200.12,243.07 200.26,229.17 200.40,231.98 200.54,246.13 200.69,266.37 200.83,286.41 200.97,301.68 201.11,310.77 201.25,314.88 201.39,316.21 201.53,316.48 201.67,316.50 201.81,316.50 201.95,316.50 202.09,316.50 202.23,316.44 202.37,316.02 202.51,314.32 202.65,309.77 202.79,300.84 202.93,287.28 203.07,271.20 203.21,256.90 203.35,249.13 203.49,250.52 203.63,260.05 203.77,274.94 203.91,291.31 204.05,305.66 204.20,316.01 204.34,322.13 204.48,325.03 204.62,326.07 204.76,326.33 204.90,326.37 205.04,326.37 205.18,326.37 205.32,326.37 205.46,326.36 205.60,326.25 205.74,325.66 205.88,323.63 206.02,318.62 206.16,308.99 206.30,294.00 206.44,274.76 206.58,254.61 206.72,238.27 206.86,230.22 207.00,233.14 207.14,246.91 207.28,267.42 207.42,289.14 207.57,307.41 207.71,319.92 207.85,326.84 207.99,329.83 208.13,330.78 208.27,330.96 208.41,330.98 208.55,330.98 208.69,330.98 208.83,330.98 208.97,330.95 209.11,330.70 209.25,329.59 209.39,326.39 209.53,319.48 209.67,307.71 209.81,291.42 209.95,273.12 210.09,257.05 210.23,247.71 210.37,248.00 210.51,258.00 210.65,274.69 210.79,293.41 210.94,309.90 211.08,321.69 211.22,328.54 211.36,331.67 211.50,332.73 211.64,332.97 211.78,333.00 211.92,333.00 212.06,333.00 212.20,333.00 212.34,332.98 212.48,332.77 212.62,331.79 212.76,328.71 212.90,321.68 213.04,309.11 213.18,290.96 213.32,269.61 213.46,249.71 213.60,236.67 213.74,234.41 213.88,243.21 214.02,260.35 214.16,281.16 214.31,300.81 214.45,315.98 214.59,325.62 214.73,330.59 214.87,332.57 215.01,333.13 215.15,333.23 215.29,333.24 215.43,333.24 215.57,333.24 215.71,333.24 215.85,333.20 215.99,332.91 216.13,331.77 216.27,328.66 216.41,322.16 216.55,311.29 216.69,296.37 216.83,279.53 216.97,264.40 217.11,254.97 217.25,254.02 217.39,262.63 217.53,278.21 217.68,296.11 217.82,311.95 217.96,323.19 218.10,329.57 218.24,332.38 218.38,333.28 218.52,333.46 218.66,333.48 218.80,333.48 218.94,333.48 219.08,333.48 219.22,333.44 219.36,333.11 219.50,331.70 219.64,327.70 219.78,319.27 219.92,305.31 220.06,286.75 220.20,267.07 220.34,251.43 220.48,244.64 220.62,248.47 220.76,261.09 220.91,278.91 221.05,297.46 221.19,313.02 221.33,323.78 221.47,329.86 221.61,332.58 221.75,333.49 221.89,333.69 222.03,333.72 222.17,333.72 222.31,333.72 222.45,333.72 222.59,333.70 222.73,333.57 222.87,332.91 223.01,330.83 223.15,326.00 223.29,317.15 223.43,303.95 223.57,287.73 223.71,271.54 223.85,259.37 223.99,254.60 224.13,258.25 224.28,268.86 224.42,283.74 224.56,299.48 224.70,313.17 224.84,323.16 224.98,329.28 225.12,332.35 225.26,333.56 225.40,333.90 225.54,333.97 225.68,333.97 225.82,333.97 225.96,333.97 226.10,333.97 226.24,333.95 226.38,333.76 226.52,332.98 226.66,330.73 226.80,325.80 226.94,317.05 227.08,304.13 227.22,288.09 227.36,271.50 227.50,257.88 227.65,250.57 227.79,252.16 227.93,264.52 228.07,283.48 228.21,303.01 228.35,318.40 228.49,327.87 228.63,332.33 228.77,333.85 228.91,334.18 229.05,334.21 229.19,334.21 229.33,334.21 229.47,334.21 229.61,334.16 229.75,333.77 229.89,332.06 230.03,327.30 230.17,317.58 230.31,302.33 230.45,283.64 230.59,266.26 230.73,255.86 230.87,255.87 231.02,264.67 231.16,279.44 231.30,296.27 231.44,311.43 231.58,322.65 231.72,329.48 231.86,332.82 232.00,334.06 232.14,334.39 232.28,334.44 232.42,334.44 232.56,334.44 232.70,334.44 232.84,334.44 232.98,334.37 233.12,333.99 233.26,332.60 233.40,329.02 233.54,321.94 233.68,310.61 233.82,295.69 233.96,279.61 234.10,266.03 234.24,258.62 234.38,259.53 234.53,268.52 234.67,283.00 234.81,299.17 234.95,313.52 235.09,323.98 235.23,330.26 235.37,333.27 235.51,334.37 235.65,334.65 235.79,334.69 235.93,334.69 236.07,334.69 236.21,334.69 236.35,334.68 236.49,334.61 236.63,334.16 236.77,332.61 236.91,328.70 237.05,321.10 237.19,309.12 237.33,293.57 237.47,277.07 237.61,263.44 237.75,256.39 237.90,258.55" fill="none" stroke="#111" stroke-width="0.75" stroke-linejoin="round"/>
<polyline points="30.50,301.66 30.64,309.57 30.78,310.64 30.92,322.61 31.06,327.70 31.20,333.17 31.34,333.70 31.48,334.53 31.62,333.49 31.76,332.45 31.90,334.53 32.04,332.60 32.19,334.53 32.33,333.39 32.47,334.41 32.61,333.64 32.75,330.19 32.89,324.08 33.03,316.94 33.17,302.23 33.31,276.32 33.45,270.83 33.59,271.30 33.73,282.09 33.87,297.83 34.01,312.03 34.15,321.46 34.29,329.26 34.43,332.47 34.57,334.53 34.71,334.53 34.85,333.58 34.99,333.12 35.13,332.80 35.27,334.29 35.41,334.53 35.55,333.98 35.70,333.44 35.84,333.74 35.98,334.53 36.12,333.20 36.26,328.11 36.40,324.45 36.54,315.33 36.68,307.45 36.82,298.12 36.96,301.10 37.10,298.54 37.24,303.41 37.38,313.03 37.52,321.70 37.66,325.85 37.80,330.34 37.94,332.62 38.08,333.49 38.22,334.34 38.36,334.17 38.50,334.53 38.64,334.53 38.78,332.46 38.92,334.53 39.07,334.53 39.21,333.95 39.35,331.92 39.49,331.52 39.63,328.43 39.77,322.33 39.91,308.83 40.05,292.04 40.19,289.89 40.33,291.11 40.47,293.75 40.61,303.38 40.75,316.56 40.89,322.49 41.03,329.82 41.17,332.70 41.31,332.89 41.45,333.23 41.59,334.53 41.73,333.52 41.87,333.41 42.01,333.52 42.15,333.85 42.30,333.50 42.44,334.53 42.58,333.95 42.72,332.64 42.86,331.76 43.00,332.77 43.14,326.96 43.28,321.87 43.42,315.41 43.56,308.87 43.70,302.72 43.84,303.16 43.98,303.32 44.12,314.15 44.26,322.59 44.40,326.25 44.54,330.71 44.68,332.91 44.82,332.65 44.96,333.82 45.10,333.09 45.24,334.53 45.38,334.28 45.52,334.09 45.66,333.84 45.81,333.54 45.95,332.51 46.09,333.37 46.23,334.41 46.37,333.21 46.51,329.77 46.65,326.70 46.79,318.95 46.93,313.74 47.07,302.59 47.21,301.87 47.35,298.21 47.49,295.70 47.63,304.49 47.77,319.00 47.91,323.22 48.05,330.08 48.19,332.12 48.33,333.79 48.47,333.06 48.61,334.53 48.75,333.29 48.89,332.26 49.03,333.49 49.18,334.53 49.32,333.31 49.46,333.43 49.60,332.00 49.74,334.53 49.88,333.34 50.02,331.74 50.16,330.89 50.30,329.85 50.44,327.21 50.58,323.00 50.72,318.55 50.86,316.12 51.00,318.32 51.14,314.71 51.28,319.15 51.42,325.59 51.56,329.58 51.70,331.45 51.84,333.97 51.98,334.40 52.12,334.45 52.26,334.42 52.41,334.05 52.55,333.30 52.69,334.53 52.83,333.28 52.97,334.31 53.11,334.53 53.25,333.80 53.39,331.49 53.53,327.21 53.67,318.84 53.81,313.73 53.95,305.40 54.09,300.56 54.23,301.81 54.37,313.81 54.51,316.99 54.65,322.54 54.79,327.89 54.93,330.13 55.07,331.50 55.21,333.21 55.35,334.53 55.49,334.48 55.63,334.53 55.78,334.53 55.92,334.22 56.06,334.12 56.20,331.83 56.34,332.20 56.48,334.31 56.62,332.38 56.76,334.24 56.90,331.33 57.04,329.96 57.18,330.07 57.32,326.64 57.46,325.95 57.60,323.70 57.74,320.96 57.88,322.56 58.02,323.10 58.16,328.58 58.30,327.84 58.44,332.16 58.58,330.27 58.72,332.66 58.86,333.14 59.00,334.53 59.14,333.71 59.29,334.42 59.43,333.36 59.57,334.45 59.71,333.43 59.85,334.40 59.99,332.23 60.13,332.94 60.27,333.71 60.41,331.58 60.55,328.93 60.69,325.20 60.83,326.84 60.97,323.50 61.11,323.01 61.25,322.05 61.39,326.66 61.53,330.60 61.67,332.04 61.81,334.19 61.95,332.40 62.09,334.53 62.23,334.01 62.37,334.48 62.52,333.70 62.66,333.06 62.80,333.31 62.94,333.88 63.08,334.53 63.22,334.43 63.36,334.00 63.50,334.53 63.64,334.12 63.78,330.96 63.92,329.94 64.06,325.77 64.20,323.63 64.34,322.58 64.48,324.34 64.62,325.01 64.76,327.63 64.90,329.49 65.04,331.32 65.18,334.24 65.32,331.99 65.46,332.97 65.60,332.74 65.74,334.48 65.88,334.53 66.03,334.53 66.17,332.68 66.31,334.43 66.45,333.94 66.59,332.84 66.73,333.42 66.87,331.56 67.01,330.10 67.15,329.55 67.29,324.44 67.43,324.48 67.57,321.43 67.71,321.78 67.85,323.70 67.99,327.73 68.13,328.00 68.27,330.91 68.41,331.88 68.55,333.43 68.69,334.53 68.83,334.53 68.97,332.41 69.11,333.72 69.25,333.72 69.40,333.50 69.54,332.98 69.68,332.41 69.82,334.53 69.96,333.16 70.10,334.53 70.24,332.65 70.38,333.33 70.52,330.91 70.66,329.21 70.80,326.95 70.94,320.27 71.08,322.14 71.22,320.81 71.36,323.29 71.50,326.54 71.64,329.24 71.78,329.56 71.92,332.53 72.06,331.54 72.20,334.13 72.34,334.51 72.48,333.49 72.62,334.53 72.77,333.27 72.91,334.42 73.05,333.50 73.19,333.20 73.33,333.56 73.47,334.01 73.61,333.60 73.75,333.69 73.89,332.96 74.03,328.04 74.17,326.58 74.31,322.37 74.45,316.61 74.59,309.20 74.73,307.38 74.87,310.78 75.01,315.59 75.15,319.44 75.29,327.88 75.43,329.59 75.57,333.90 75.71,333.72 75.85,334.53 76.00,333.61 76.14,333.04 76.28,333.16 76.42,334.53 76.56,333.35 76.70,334.53 76.84,333.07 76.98,334.22 77.12,334.53 77.26,331.69 77.40,333.27 77.54,330.24 77.68,322.48 77.82,317.88 77.96,308.37 78.10,310.54 78.24,305.57 78.38,307.78 78.52,303.59 78.66,314.10 78.80,321.07 78.94,324.21 79.08,331.14 79.22,333.85 79.37,332.68 79.51,334.02 79.65,334.53 79.79,333.46 79.93,333.49 80.07,334.14 80.21,334.51 80.35,334.53 80.49,334.53 80.63,333.68 80.77,333.76 80.91,332.58 81.05,328.27 81.19,323.45 81.33,314.39 81.47,307.04 81.61,294.96 81.75,298.36 81.89,298.78 82.03,309.74 82.17,307.58 82.31,314.24 82.45,324.42 82.59,330.96 82.74,332.49 82.88,333.19 83.02,333.67 83.16,334.37 83.30,334.30 83.44,325.57 83.58,297.88 83.72,334.53 83.86,333.05 84.00,296.78 84.14,334.29 84.28,315.03 84.42,315.24 84.56,327.83 84.70,323.15 84.84,314.60 84.98,333.15 85.12,292.28 85.26,320.25 85.40,287.11 85.54,314.75 85.68,329.07 85.82,325.11 85.96,334.26 86.10,333.96 86.25,331.83 86.39,333.06 86.53,331.74 86.67,310.36 86.81,317.64 86.95,296.67 87.09,310.00 87.23,321.08 87.37,332.01 87.51,325.51 87.65,333.05 87.79,333.23 87.93,325.50 88.07,309.70 88.21,333.33 88.35,332.31 88.49,300.32 88.63,300.61 88.77,274.09 88.91,280.09 89.05,311.01 89.19,312.20 89.33,332.64 89.47,315.71 89.62,334.53 89.76,334.53 89.90,333.01 90.04,332.85 90.18,330.79 90.32,309.42 90.46,282.55 90.60,277.61 90.74,326.81 90.88,315.98 91.02,306.21 91.16,334.53 91.30,313.94 91.44,333.64 91.58,333.74 91.72,314.46 91.86,331.63 92.00,320.77 92.14,331.98 92.28,309.84 92.42,269.75 92.56,310.32 92.70,304.19 92.84,331.84 92.99,334.15 93.13,311.50 93.27,326.18 93.41,334.16 93.55,333.08 93.69,313.59 93.83,329.62 93.97,274.64 94.11,247.75 94.25,308.22 94.39,324.10 94.53,332.31 94.67,333.64 94.81,333.55 94.95,306.86 95.09,332.40 95.23,333.46 95.37,311.31 95.51,305.28 95.65,256.68 95.79,237.70 95.93,235.47 96.07,253.55 96.22,261.96 96.36,268.62 96.50,255.14 96.64,282.75 96.78,286.28 96.92,284.26 97.06,290.84 97.20,304.46 97.34,267.62 97.48,267.50 97.62,295.77 97.76,293.32 97.90,294.21 98.04,286.22 98.18,273.27 98.32,281.32 98.46,273.25 98.60,272.99 98.74,266.54 98.88,277.21 99.02,260.01 99.16,240.55 99.30,253.21 99.44,229.02 99.58,248.94 99.73,233.14 99.87,252.23 100.01,250.26 100.15,266.61 100.29,267.67 100.43,263.20 100.57,256.23 100.71,283.85 100.85,292.14 100.99,287.56 101.13,305.81 101.27,296.00 101.41,310.35 101.55,312.47 101.69,319.59 101.83,330.67 101.97,333.12 102.11,333.18 102.25,334.47 102.39,331.49 102.53,327.04 102.67,316.21 102.81,304.25 102.95,293.36 103.10,274.48 103.24,268.43 103.38,256.51 103.52,265.14 103.66,267.67 103.80,293.38 103.94,318.07 104.08,326.53 104.22,329.36 104.36,331.80 104.50,333.04 104.64,334.53 104.78,333.88 104.92,334.53 105.06,333.02 105.20,333.38 105.34,332.23 105.48,334.44 105.62,332.99 105.76,331.34 105.90,327.69 106.04,315.68 106.18,299.23 106.33,287.97 106.47,265.02 106.61,266.58 106.75,270.11 106.89,282.00 107.03,299.73 107.17,314.41 107.31,324.05 107.45,330.91 107.59,333.30 107.73,334.53 107.87,334.53 108.01,334.53 108.15,333.63 108.29,333.52 108.43,334.53 108.57,333.84 108.71,332.79 108.85,332.67 108.99,334.52 109.13,332.49 109.27,327.05 109.41,318.38 109.55,304.91 109.70,286.05 109.84,274.93 109.98,286.23 110.12,292.82 110.26,282.55 110.40,297.37 110.54,312.17 110.68,323.18 110.82,328.56 110.96,331.08 111.10,333.68 111.24,332.20 111.38,334.53 111.52,333.04 111.66,332.43 111.80,332.81 111.94,333.35 112.08,333.12 112.22,334.53 112.36,334.53 112.50,333.21 112.64,332.16 112.78,332.77 112.92,327.81 113.07,319.77 113.21,314.70 113.35,304.80 113.49,294.90 113.63,291.87 113.77,287.59 113.91,286.64 114.05,303.14 114.19,316.52 114.33,321.09 114.47,330.29 114.61,332.17 114.75,333.22 114.89,334.27 115.03,332.40 115.17,334.11 115.31,334.53 115.45,333.44 115.59,333.68 115.73,334.37 115.87,333.39 116.01,333.30 116.15,334.53 116.29,331.18 116.44,329.54 116.58,323.92 116.72,319.41 116.86,299.32 117.00,295.46 117.14,294.34 117.28,289.66 117.42,291.11 117.56,303.89 117.70,317.23 117.84,325.89 117.98,330.69 118.12,334.19 118.26,332.13 118.40,334.53 118.54,334.53 118.68,334.53 118.82,334.23 118.96,334.36 119.10,333.76 119.24,332.47 119.38,333.94 119.52,334.53 119.66,331.19 119.81,329.42 119.95,322.57 120.09,311.62 120.23,309.71 120.37,292.81 120.51,296.18 120.65,293.27 120.79,303.16 120.93,316.58 121.07,322.72 121.21,329.12 121.35,332.05 121.49,332.12 121.63,334.21 121.77,331.83 121.91,333.36 122.05,334.53 122.19,334.49 122.33,332.47 122.47,332.88 122.61,333.35 122.75,333.95 122.89,333.30 123.03,334.53 123.18,332.61 123.32,328.59 123.46,326.47 123.60,316.77 123.74,311.63 123.88,296.99 124.02,298.37 124.16,299.55 124.30,313.24 124.44,322.36 124.58,324.08 124.72,330.34 124.86,333.42 125.00,334.53 125.14,333.79 125.28,334.33 125.42,333.99 125.56,334.53 125.70,333.80 125.84,334.01 125.98,334.53 126.12,334.03 126.26,332.45 126.40,333.84 126.55,329.06 126.69,324.97 126.83,316.70 126.97,308.92 127.11,301.26 127.25,307.84 127.39,304.35 127.53,310.42 127.67,321.26 127.81,326.47 127.95,327.41 128.09,332.70 128.23,333.37 128.37,334.53 128.51,332.75 128.65,334.20 128.79,332.48 128.93,334.03 129.07,334.53 129.21,334.53 129.35,334.42 129.49,333.85 129.63,333.36 129.77,333.36 129.92,333.23 130.06,330.08 130.20,324.08 130.34,320.02 130.48,318.52 130.62,310.48 130.76,308.04 130.90,306.77 131.04,308.21 131.18,318.16 131.32,322.67 131.46,330.25 131.60,331.90 131.74,332.27 131.88,333.24 132.02,332.56 132.16,333.61 132.30,334.53 132.44,334.04 132.58,333.87 132.72,334.53 132.86,333.32 133.00,333.69 133.14,334.53 133.29,333.40 133.43,332.03 133.57,330.49 133.71,326.80 133.85,321.74 133.99,320.03 134.13,312.96 134.27,308.89 134.41,311.81 134.55,314.38 134.69,320.63 134.83,326.98 134.97,332.01 135.11,334.53 135.25,334.35 135.39,334.53 135.53,332.65 135.67,332.61 135.81,334.03 135.95,332.85 136.09,334.53 136.23,332.67 136.37,333.67 136.51,334.53 136.66,333.05 136.80,329.02 136.94,324.83 137.08,320.86 137.22,318.08 137.36,313.02 137.50,311.53 137.64,314.00 137.78,316.76 137.92,326.46 138.06,329.34 138.20,333.32 138.34,332.56 138.48,332.57 138.62,332.97 138.76,333.14 138.90,334.14 139.04,334.53 139.18,333.44 139.32,332.85 139.46,334.53 139.60,334.06 139.74,334.28 139.88,334.07 140.02,331.58 140.17,331.68 140.31,329.33 140.45,327.61 140.59,321.20 140.73,316.40 140.87,318.79 141.01,316.46 141.15,317.81 141.29,325.43 141.43,328.33 141.57,329.17 141.71,334.26 141.85,333.55 141.99,334.04 142.13,332.97 142.27,334.53 142.41,332.93 142.55,334.53 142.69,334.46 142.83,333.08 142.97,333.45 143.11,333.71 143.25,333.44 143.39,334.39 143.54,332.84 143.68,332.54 143.82,329.55 143.96,324.33 144.10,321.27 144.24,315.14 144.38,318.92 144.52,316.08 144.66,325.63 144.80,322.96 144.94,329.49 145.08,332.81 145.22,333.96 145.36,334.53 145.50,333.59 145.64,333.61 145.78,333.84 145.92,333.73 146.06,333.46 146.20,332.79 146.34,333.29 146.48,332.99 146.62,333.24 146.76,331.90 146.91,330.88 147.05,329.38 147.19,327.91 147.33,324.41 147.47,320.42 147.61,317.93 147.75,318.85 147.89,324.41 148.03,325.89 148.17,329.02 148.31,333.24 148.45,334.14 148.59,334.53 148.73,334.35 148.87,333.23 149.01,332.85 149.15,333.55 149.29,334.41 149.43,333.27 149.57,333.65 149.71,334.06 149.85,334.53 149.99,332.97 150.13,334.53 150.28,332.88 150.42,330.32 150.56,329.40 150.70,327.17 150.84,319.78 150.98,320.01 151.12,318.09 151.26,320.19 151.40,320.89 151.54,326.24 151.68,329.13 151.82,332.20 151.96,333.68 152.10,332.63 152.24,333.91 152.38,334.53 152.52,333.34 152.66,334.03 152.80,333.92 152.94,334.53 153.08,333.82 153.22,334.46 153.36,334.53 153.50,332.95 153.65,333.36 153.79,330.70 153.93,330.48 154.07,327.99 154.21,322.74 154.35,321.42 154.49,318.41 154.63,318.41 154.77,319.50 154.91,325.46 155.05,329.06 155.19,329.61 155.33,333.94 155.47,333.72 155.61,331.88 155.75,334.53 155.89,334.24 156.03,332.44 156.17,334.25 156.31,333.83 156.45,333.38 156.59,334.00 156.73,332.28 156.88,333.67 157.02,333.05 157.16,332.40 157.30,331.30 157.44,327.60 157.58,323.95 157.72,318.63 157.86,317.59 158.00,318.81 158.14,319.47 158.28,328.62 158.42,327.13 158.56,331.85 158.70,333.31 158.84,333.46 158.98,333.01 159.12,333.24 159.26,332.91 159.40,333.87 159.54,334.53 159.68,333.91 159.82,332.90 159.96,333.19 160.10,332.12 160.25,332.27 160.39,334.44 160.53,333.37 160.67,331.21 160.81,329.32 160.95,328.74 161.09,323.28 161.23,321.10 161.37,318.76 161.51,319.95 161.65,322.85 161.79,327.18 161.93,328.25 162.07,331.53 162.21,332.75 162.35,333.44 162.49,332.54 162.63,333.63 162.77,334.01 162.91,334.53 163.05,332.76 163.19,334.53 163.33,334.03 163.47,333.62 163.62,334.13 163.76,333.97 163.90,334.53 164.04,333.15 164.18,330.99 164.32,330.17 164.46,327.03 164.60,324.55 164.74,322.05 164.88,320.69 165.02,318.93 165.16,321.74 165.30,326.45 165.44,329.76 165.58,332.51 165.72,333.30 165.86,334.32 166.00,334.53 166.14,334.38 166.28,332.44 166.42,332.93 166.56,333.61 166.70,333.82 166.84,334.53 166.99,333.96 167.13,334.53 167.27,334.05 167.41,332.57 167.55,331.95 167.69,329.61 167.83,324.74 167.97,322.35 168.11,317.66 168.25,319.53 168.39,319.82 168.53,322.65 168.67,328.47 168.81,331.26 168.95,332.05 169.09,333.00 169.23,333.24 169.37,332.80 169.51,332.70 169.65,333.36 169.79,334.40 169.93,333.98 170.07,334.53 170.21,333.28 170.35,334.15 170.50,334.53 170.64,332.85 170.78,332.30 170.92,330.89 171.06,331.72 171.20,327.61 171.34,323.75 171.48,320.15 171.62,318.78 171.76,317.71 171.90,320.51 172.04,325.38 172.18,329.44 172.32,329.92 172.46,331.96 172.60,333.90 172.74,333.02 172.88,334.53 173.02,334.53 173.16,334.53 173.30,334.21 173.44,334.31 173.58,333.92 173.72,333.81 173.87,334.44 174.01,333.58 174.15,332.33 174.29,330.35 174.43,326.10 174.57,323.05 174.71,313.76 174.85,313.02 174.99,310.80 175.13,316.22 175.27,318.62 175.41,325.23 175.55,327.70 175.69,333.04 175.83,331.75 175.97,333.77 176.11,333.72 176.25,334.53 176.39,333.33 176.53,333.31 176.67,334.52 176.81,333.37 176.95,334.32 177.09,333.21 177.24,332.76 177.38,334.53 177.52,333.21 177.66,330.55 177.80,328.39 177.94,324.55 178.08,319.21 178.22,302.46 178.36,309.63 178.50,302.63 178.64,300.99 178.78,309.84 178.92,313.22 179.06,320.65 179.20,326.59 179.34,330.71 179.48,332.37 179.62,332.60 179.76,333.13 179.90,333.74 180.04,334.53 180.18,332.12 180.32,332.63 180.47,330.47 180.61,331.51 180.75,330.33 180.89,329.53 181.03,327.50 181.17,326.00 181.31,326.61 181.45,311.51 181.59,302.70 181.73,287.31 181.87,279.85 182.01,275.45 182.15,269.91 182.29,275.22 182.43,298.89 182.57,302.69 182.71,310.00 182.85,318.45 182.99,322.37 183.13,263.11 183.27,255.12 183.41,287.06 183.55,318.83 183.69,283.65 183.84,313.33 183.98,310.78 184.12,311.14 184.26,312.21 184.40,277.24 184.54,315.67 184.68,313.23 184.82,311.41 184.96,301.50 185.10,286.24 185.24,269.72 185.38,266.95 185.52,282.51 185.66,257.83 185.80,282.66 185.94,266.74 186.08,256.82 186.22,265.16 186.36,271.92 186.50,268.44 186.64,271.66 186.78,316.54 186.92,310.81 187.06,315.19 187.21,318.04 187.35,304.51 187.49,311.83 187.63,257.82 187.77,257.87 187.91,280.10 188.05,313.90 188.19,313.75 188.33,272.58 188.47,298.01 188.61,280.97 188.75,254.93 188.89,258.36 189.03,259.64 189.17,264.76 189.31,272.11 189.45,264.48 189.59,298.49 189.73,279.48 189.87,263.45 190.01,279.08 190.15,269.39 190.29,268.95 190.43,305.01 190.58,286.37 190.72,266.23 190.86,257.58 191.00,312.14 191.14,288.61 191.28,286.45 191.42,306.72 191.56,288.88 191.70,302.51 191.84,255.51 191.98,275.93 192.12,284.00 192.26,251.73 192.40,248.76 192.54,274.88 192.68,254.64 192.82,280.33 192.96,304.22 193.10,309.14 193.24,308.97 193.38,288.95 193.52,259.21 193.66,309.93 193.80,322.66 193.95,266.48 194.09,307.74 194.23,304.93 194.37,288.95 194.51,274.08 194.65,312.21 194.79,300.76 194.93,299.27 195.07,282.60 195.21,278.25 195.35,258.53 195.49,247.65 195.63,289.79 195.77,274.80 195.91,289.55 196.05,299.45 196.19,314.20 196.33,305.64 196.47,313.40 196.61,291.15 196.75,307.30 196.89,319.35 197.03,315.74 197.17,318.51 197.31,315.75 197.46,300.56 197.60,286.19 197.74,291.31 197.88,282.71 198.02,241.25 198.16,268.20 198.30,295.91 198.44,312.69 198.58,296.73 198.72,292.30 198.86,274.68 199.00,328.23 199.14,327.64 199.28,329.30 199.42,326.75 199.56,270.97 199.70,321.87 199.84,308.09 199.98,299.52 200.12,244.37 200.26,237.97 200.40,241.68 200.54,264.25 200.69,278.53 200.83,303.08 200.97,317.52 201.11,327.88 201.25,328.77 201.39,329.29 201.53,329.36 201.67,331.47 201.81,329.99 201.95,329.35 202.09,332.45 202.23,331.74 202.37,332.42 202.51,333.05 202.65,326.50 202.79,318.36 202.93,303.29 203.07,286.80 203.21,262.00 203.35,247.45 203.49,248.21 203.63,262.78 203.77,287.28 203.91,297.32 204.05,318.15 204.20,325.80 204.34,332.40 204.48,332.55 204.62,333.42 204.76,333.19 204.90,333.65 205.04,334.53 205.18,334.39 205.32,334.52 205.46,334.53 205.60,332.25 205.74,332.48 205.88,331.51 206.02,330.56 206.16,323.57 206.30,313.30 206.44,300.43 206.58,273.91 206.72,275.61 206.86,253.07 207.00,254.75 207.14,285.22 207.28,285.11 207.42,305.65 207.57,320.88 207.71,327.06 207.85,332.35 207.99,334.16 208.13,334.53 208.27,334.53 208.41,332.35 208.55,333.75 208.69,334.19 208.83,333.65 208.97,332.61 209.11,333.43 209.25,333.79 209.39,331.94 209.53,328.09 209.67,320.21 209.81,303.23 209.95,283.80 210.09,272.29 210.23,261.49 210.37,260.71 210.51,274.41 210.65,291.96 210.79,313.23 210.94,319.09 211.08,330.66 211.22,331.42 211.36,333.46 211.50,333.34 211.64,334.33 211.78,333.88 211.92,334.29 212.06,332.35 212.20,334.53 212.34,333.69 212.48,334.40 212.62,333.87 212.76,333.36 212.90,329.69 213.04,323.28 213.18,312.90 213.32,304.82 213.46,275.93 213.60,272.37 213.74,268.16 213.88,270.49 214.02,294.47 214.16,304.00 214.31,314.41 214.45,325.71 214.59,331.45 214.73,332.48 214.87,333.54 215.01,334.53 215.15,333.86 215.29,334.53 215.43,332.40 215.57,333.79 215.71,333.80 215.85,332.51 215.99,334.06 216.13,334.53 216.27,332.04 216.41,327.93 216.55,317.63 216.69,302.10 216.83,297.72 216.97,283.09 217.11,285.59 217.25,272.13 217.39,281.20 217.53,287.69 217.68,308.91 217.82,324.14 217.96,327.43 218.10,332.16 218.24,334.11 218.38,334.53 218.52,332.94 218.66,334.53 218.80,334.53 218.94,333.05 219.08,333.27 219.22,334.41 219.36,334.53 219.50,331.95 219.64,331.88 219.78,326.97 219.92,317.60 220.06,307.38 220.20,294.03 220.34,279.73 220.48,274.24 220.62,296.21 220.76,287.76 220.91,299.12 221.05,313.74 221.19,324.65 221.33,328.41 221.47,332.01 221.61,334.53 221.75,334.27 221.89,333.74 222.03,334.53 222.17,333.48 222.31,334.53 222.45,334.19 222.59,334.53 222.73,333.07 222.87,330.59 223.01,334.46 223.15,330.78 223.29,326.23 223.43,315.99 223.57,306.95 223.71,286.28 223.85,283.86 223.99,275.41 224.13,275.88 224.28,284.92 224.42,295.48 224.56,313.84 224.70,323.71 224.84,329.92 224.98,333.67 225.12,333.06 225.26,332.82 225.40,332.68 225.54,332.87 225.68,333.96 225.82,334.00 225.96,333.20 226.10,332.73 226.24,334.38 226.38,332.09 226.52,333.75 226.66,333.81 226.80,331.19 226.94,326.96 227.08,320.48 227.22,310.24 227.36,300.87 227.50,277.83 227.65,276.78 227.79,281.19 227.93,288.88 228.07,301.71 228.21,316.43 228.35,326.45 228.49,330.93 228.63,332.06 228.77,333.06 228.91,334.53 229.05,334.53 229.19,333.45 229.33,334.53 229.47,334.53 229.61,334.02 229.75,334.53 229.89,334.34 230.03,331.13 230.17,326.70 230.31,317.19 230.45,304.23 230.59,282.03 230.73,280.61 230.87,292.75 231.02,299.67 231.16,296.13 231.30,315.20 231.44,324.30 231.58,330.39 231.72,333.18 231.86,332.04 232.00,333.54 232.14,334.53 232.28,334.53 232.42,334.50 232.56,334.53 232.70,333.30 232.84,334.53 232.98,332.92 233.12,333.93 233.26,334.52 233.40,332.12 233.54,327.44 233.68,320.30 233.82,309.58 233.96,297.42 234.10,289.33 234.24,280.56 234.38,288.06 234.53,297.02 234.67,306.75 234.81,311.57 234.95,323.85 235.09,328.34 235.23,330.80 235.37,333.80 235.51,333.61 235.65,333.48 235.79,334.53 235.93,332.87 236.07,334.44 236.21,333.63 236.35,334.53 236.49,333.81 236.63,333.39 236.77,334.53 236.91,331.91 237.05,326.72 237.19,322.98 237.33,310.05 237.47,297.75 237.61,280.91 237.75,280.58 237.90,285.04" fill="none" stroke="none" marker-start="url(#mo)" marker-mid="url(#mo)" marker-end="url(#mo)"/>
</g>
<path d="M30.5 215.8V336.2" stroke="#d4d4d4" stroke-width="0.6"/>
<path d="M30.5 215.8H238.3V336.2" stroke="#a8a8a8" stroke-width="0.9" fill="none"/>
<path d="M30.5 336.20H238.3" stroke="#9a9a9a" stroke-width="0.9"/>
<text x="13.01" y="218.10" font-size="6.4" font-weight="bold" text-anchor="start" textLength="10.59" lengthAdjust="spacingAndGlyphs"  fill="#000" font-family='"Liberation Sans", sans-serif'>18.0</text>
<text x="13.01" y="231.48" font-size="6.4" font-weight="bold" text-anchor="start" textLength="10.59" lengthAdjust="spacingAndGlyphs"  fill="#000" font-family='"Liberation Sans", sans-serif'>16.0</text>
<text x="13.01" y="244.86" font-size="6.4" font-weight="bold" text-anchor="start" textLength="10.59" lengthAdjust="spacingAndGlyphs"  fill="#000" font-family='"Liberation Sans", sans-serif'>14.0</text>
<text x="13.01" y="258.24" font-size="6.4" font-weight="bold" text-anchor="start" textLength="10.59" lengthAdjust="spacingAndGlyphs"  fill="#000" font-family='"Liberation Sans", sans-serif'>12.0</text>
<text x="13.01" y="271.62" font-size="6.4" font-weight="bold" text-anchor="start" textLength="10.59" lengthAdjust="spacingAndGlyphs"  fill="#000" font-family='"Liberation Sans", sans-serif'>10.0</text>
<text x="16.04" y="284.99" font-size="6.4" font-weight="bold" text-anchor="start" textLength="7.56" lengthAdjust="spacingAndGlyphs"  fill="#000" font-family='"Liberation Sans", sans-serif'>8.0</text>
<text x="16.04" y="298.37" font-size="6.4" font-weight="bold" text-anchor="start" textLength="7.56" lengthAdjust="spacingAndGlyphs"  fill="#000" font-family='"Liberation Sans", sans-serif'>6.0</text>
<text x="16.04" y="311.75" font-size="6.4" font-weight="bold" text-anchor="start" textLength="7.56" lengthAdjust="spacingAndGlyphs"  fill="#000" font-family='"Liberation Sans", sans-serif'>4.0</text>
<text x="16.04" y="325.13" font-size="6.4" font-weight="bold" text-anchor="start" textLength="7.56" lengthAdjust="spacingAndGlyphs"  fill="#000" font-family='"Liberation Sans", sans-serif'>2.0</text>
<text x="16.04" y="338.50" font-size="6.4" font-weight="bold" text-anchor="start" textLength="7.56" lengthAdjust="spacingAndGlyphs"  fill="#000" font-family='"Liberation Sans", sans-serif'>0.0</text>
<text x="24.90" y="347.00" font-size="6.4" font-weight="bold" text-anchor="start" textLength="11.21" lengthAdjust="spacingAndGlyphs"  fill="#000" font-family='"Liberation Sans", sans-serif'>3/10</text>
<text x="58.60" y="347.00" font-size="6.4" font-weight="bold" text-anchor="start" textLength="11.21" lengthAdjust="spacingAndGlyphs"  fill="#000" font-family='"Liberation Sans", sans-serif'>3/15</text>
<text x="92.30" y="347.00" font-size="6.4" font-weight="bold" text-anchor="start" textLength="11.21" lengthAdjust="spacingAndGlyphs"  fill="#000" font-family='"Liberation Sans", sans-serif'>3/20</text>
<text x="126.00" y="347.00" font-size="6.4" font-weight="bold" text-anchor="start" textLength="11.21" lengthAdjust="spacingAndGlyphs"  fill="#000" font-family='"Liberation Sans", sans-serif'>3/25</text>
<text x="159.70" y="347.00" font-size="6.4" font-weight="bold" text-anchor="start" textLength="11.21" lengthAdjust="spacingAndGlyphs"  fill="#000" font-family='"Liberation Sans", sans-serif'>3/30</text>
<text x="195.00" y="347.00" font-size="6.4" font-weight="bold" text-anchor="start" textLength="8.01" lengthAdjust="spacingAndGlyphs"  fill="#000" font-family='"Liberation Sans", sans-serif'>4/4</text>
<text x="228.70" y="347.00" font-size="6.4" font-weight="bold" text-anchor="start" textLength="8.01" lengthAdjust="spacingAndGlyphs"  fill="#000" font-family='"Liberation Sans", sans-serif'>4/9</text>
<text x="94.90" y="208.60" font-size="8.8" font-weight="bold" text-anchor="start" textLength="62.90" lengthAdjust="spacingAndGlyphs"  fill="#000" font-family='"Liberation Sans", sans-serif'>Seomjin bridge</text>
<text x="217.80" y="212.90" font-size="5.6" font-weight="bold" textLength="18.50" lengthAdjust="spacingAndGlyphs" font-family='"Liberation Sans", sans-serif'>R<tspan font-size="3.6" dy="-2">2</tspan><tspan dy="2"> 0.74</tspan></text>
<rect x="31.0" y="215.8" width="44.6" height="12.9" fill="#fff" stroke="#8c8c8c" stroke-width="0.8"/>
<circle cx="38.5" cy="222.3" r="1.0" fill="none" stroke="#f01818" stroke-width="0.6"/>
<text x="42.00" y="224.30" font-size="5.6" font-weight="bold" text-anchor="start" textLength="8.20" lengthAdjust="spacingAndGlyphs"  fill="#000" font-family='"Liberation Sans", sans-serif'>Obs.</text>
<path d="M55.5 222.3H61.8" stroke="#222" stroke-width="0.7"/>
<text x="62.50" y="224.30" font-size="5.6" font-weight="bold" text-anchor="start" textLength="9.50" lengthAdjust="spacingAndGlyphs"  fill="#000" font-family='"Liberation Sans", sans-serif'>Sim.</text>
<text transform="translate(10.10,276.75) rotate(-90)" x="0" y="0" text-anchor="middle" font-size="7.6" font-weight="bold" textLength="48.30" lengthAdjust="spacingAndGlyphs" font-family='"Liberation Sans", sans-serif'>Salinity (psu)</text>
<text x="104.40" y="356.00" font-size="8.6" font-weight="bold" text-anchor="start" textLength="59.20" lengthAdjust="spacingAndGlyphs"  fill="#000" font-family='"Liberation Sans", sans-serif'>Date (30minutes)</text>
<path d="M336.3 231.06H543.3M336.3 246.12H543.3M336.3 261.19H543.3M336.3 276.25H543.3M336.3 291.31H543.3M336.3 306.38H543.3M336.3 321.44H543.3M369.75 216.0V336.5M403.20 216.0V336.5M436.65 216.0V336.5M470.10 216.0V336.5M503.55 216.0V336.5M537.00 216.0V336.5" stroke="#e4e4e4" stroke-width="0.6" fill="none"/>
<g>
<polyline points="336.30,275.28 336.44,277.79 336.58,282.15 336.72,288.05 336.86,295.05 337.00,302.63 337.14,310.21 337.28,317.25 337.42,323.21 337.55,327.65 337.69,330.24 337.83,330.78 337.97,328.84 338.11,324.42 338.25,317.84 338.39,309.60 338.53,300.30 338.67,290.65 338.81,281.35 338.95,273.10 339.09,266.51 339.23,262.08 339.37,260.14 339.51,260.73 339.65,263.62 339.78,268.62 339.92,275.38 340.06,283.47 340.20,292.35 340.34,301.44 340.48,310.13 340.62,317.85 340.76,324.09 340.90,328.45 341.04,330.63 341.18,330.52 341.32,328.29 341.46,324.10 341.60,318.24 341.74,311.08 341.88,303.10 342.01,294.83 342.15,286.82 342.29,279.58 342.43,273.60 342.57,269.28 342.71,266.89 342.85,266.61 342.99,268.54 343.13,272.59 343.27,278.45 343.41,285.74 343.55,293.92 343.69,302.44 343.83,310.69 343.97,318.10 344.11,324.15 344.24,328.42 344.38,330.60 344.52,330.53 344.66,328.16 344.80,323.65 344.94,317.31 345.08,309.58 345.22,301.01 345.36,292.20 345.50,283.75 345.64,276.28 345.78,270.29 345.92,266.21 346.06,264.32 346.20,264.69 346.34,267.12 346.47,271.45 346.61,277.40 346.75,284.60 346.89,292.61 347.03,300.92 347.17,309.03 347.31,316.41 347.45,322.62 347.59,327.27 347.73,330.07 347.87,330.83 348.01,329.59 348.15,326.44 348.29,321.58 348.43,315.32 348.56,308.05 348.70,300.21 348.84,292.30 348.98,284.81 349.12,278.20 349.26,272.90 349.40,269.22 349.54,267.39 349.68,267.56 349.82,269.79 349.96,273.95 350.10,279.77 350.24,286.86 350.38,294.75 350.52,302.92 350.66,310.83 350.80,317.97 350.93,323.86 351.07,328.11 351.21,330.44 351.35,330.70 351.49,328.83 351.63,324.94 351.77,319.29 351.91,312.26 352.05,304.30 352.19,295.95 352.33,287.75 352.47,280.25 352.61,273.93 352.75,269.22 352.89,266.43 353.03,265.74 353.16,267.29 353.30,271.00 353.44,276.63 353.58,283.77 353.72,291.92 353.86,300.53 354.00,308.97 354.14,316.66 354.28,323.07 354.42,327.74 354.56,330.35 354.70,330.74 354.84,329.13 354.98,325.72 355.12,320.74 355.25,314.54 355.39,307.57 355.53,300.29 355.67,293.24 355.81,286.89 355.95,281.69 356.09,278.02 356.23,276.11 356.37,276.09 356.51,277.79 356.65,281.09 356.79,285.77 356.93,291.55 357.07,298.06 357.21,304.90 357.35,311.65 357.49,317.88 357.62,323.21 357.76,327.30 357.90,329.90 358.04,330.85 358.18,330.02 358.32,327.37 358.46,323.08 358.60,317.41 358.74,310.71 358.88,303.40 359.02,295.93 359.16,288.78 359.30,282.38 359.44,277.14 359.58,273.37 359.72,271.33 359.85,271.13 359.99,272.88 360.13,276.47 360.27,281.68 360.41,288.16 360.55,295.48 360.69,303.16 360.83,310.69 360.97,317.58 361.11,323.36 361.25,327.67 361.39,330.21 361.53,330.82 361.67,329.58 361.81,326.64 361.94,322.19 362.08,316.52 362.22,310.01 362.36,303.08 362.50,296.20 362.64,289.81 362.78,284.35 362.92,280.16 363.06,277.53 363.20,276.63 363.34,277.57 363.48,280.34 363.62,284.75 363.76,290.49 363.90,297.16 364.04,304.29 364.18,311.38 364.31,317.93 364.45,323.49 364.59,327.67 364.73,330.18 364.87,330.83 365.01,329.55 365.15,326.41 365.29,321.63 365.43,315.55 365.57,308.58 365.71,301.23 365.85,294.00 365.99,287.39 366.13,281.88 366.27,277.85 366.41,275.57 366.54,275.21 366.68,276.62 366.82,279.68 366.96,284.19 367.10,289.86 367.24,296.36 367.38,303.27 367.52,310.16 367.66,316.60 367.80,322.20 367.94,326.60 368.08,329.53 368.22,330.80 368.36,330.34 368.50,328.13 368.63,324.33 368.77,319.16 368.91,312.95 369.05,306.08 369.19,298.98 369.33,292.10 369.47,285.87 369.61,280.66 369.75,276.81 369.89,274.55 370.03,274.03 370.17,275.35 370.31,278.46 370.45,283.15 370.59,289.11 370.73,295.94 370.87,303.21 371.00,310.42 371.14,317.11 371.28,322.82 371.42,327.19 371.56,329.93 371.70,330.85 371.84,329.82 371.98,326.83 372.12,322.09 372.26,315.89 372.40,308.66 372.54,300.87 372.68,293.03 372.82,285.66 372.96,279.25 373.10,274.22 373.23,270.90 373.37,269.51 373.51,270.18 373.65,272.95 373.79,277.63 373.93,283.88 374.07,291.27 374.21,299.29 374.35,307.36 374.49,314.93 374.63,321.47 374.77,326.52 374.91,329.72 375.05,330.85 375.19,329.80 375.32,326.59 375.46,321.45 375.60,314.74 375.74,306.94 375.88,298.58 376.02,290.25 376.16,282.54 376.30,275.98 376.44,271.03 376.58,268.05 376.72,267.22 376.86,267.71 377.00,268.93 377.14,270.81 377.28,273.23 377.42,276.02 377.56,278.99 377.69,281.96 377.83,284.73 377.97,287.11 378.11,288.95 378.25,290.12 378.39,290.56 378.53,290.08 378.67,288.56 378.81,286.09 378.95,282.83 379.09,279.01 379.23,274.86 379.37,270.67 379.51,266.71 379.65,263.24 379.79,260.50 379.92,258.65 380.06,257.84 380.20,258.05 380.34,259.19 380.48,261.17 380.62,263.91 380.76,267.25 380.90,271.01 381.04,275.00 381.18,279.01 381.32,282.82 381.46,286.23 381.60,289.07 381.74,291.18 381.88,292.45 382.01,292.81 382.15,292.16 382.29,290.47 382.43,287.82 382.57,284.37 382.71,280.29 382.85,275.79 382.99,271.12 383.13,266.52 383.27,262.24 383.41,258.50 383.55,255.50 383.69,253.39 383.83,252.30 383.97,252.24 384.11,253.02 384.25,254.57 384.38,256.78 384.52,259.55 384.66,262.71 384.80,266.09 384.94,269.51 385.08,272.76 385.22,275.67 385.36,278.08 385.50,279.85 385.64,280.89 385.78,281.13 385.92,280.48 386.06,278.95 386.20,276.61 386.34,273.61 386.48,270.10 386.61,266.28 386.75,262.37 386.89,258.58 387.03,255.12 387.17,252.20 387.31,249.96 387.45,248.54 387.59,248.01 387.73,248.58 387.87,250.42 388.01,253.41 388.15,257.34 388.29,261.94 388.43,266.88 388.57,271.82 388.71,276.40 388.84,280.32 388.98,283.30 389.12,285.12 389.26,285.66 389.40,284.80 389.54,282.56 389.68,279.08 389.82,274.62 389.96,269.48 390.10,264.02 390.24,258.62 390.38,253.67 390.52,249.51 390.66,246.43 390.80,244.65 390.94,244.26 391.07,244.75 391.21,245.86 391.35,247.53 391.49,249.67 391.63,252.16 391.77,254.85 391.91,257.61 392.05,260.27 392.19,262.69 392.33,264.73 392.47,266.28 392.61,267.25 392.75,267.59 392.89,267.25 393.03,266.23 393.17,264.58 393.30,262.40 393.44,259.80 393.58,256.93 393.72,253.96 393.86,251.04 394.00,248.34 394.14,246.01 394.28,244.18 394.42,242.95 394.56,242.39 394.70,242.59 394.84,243.70 394.98,245.66 395.12,248.31 395.26,251.49 395.39,254.96 395.53,258.49 395.67,261.82 395.81,264.73 395.95,267.01 396.09,268.49 396.23,269.09 396.37,268.69 396.51,267.26 396.65,264.89 396.79,261.75 396.93,258.05 397.07,254.06 397.21,250.06 397.35,246.31 397.49,243.10 397.62,240.64 397.76,239.10 397.90,238.59 398.04,239.19 398.18,240.88 398.32,243.53 398.46,246.95 398.60,250.89 398.74,255.04 398.88,259.11 399.02,262.78 399.16,265.79 399.30,267.91 399.44,268.98 399.58,268.92 399.72,267.75 399.86,265.54 399.99,262.46 400.13,258.73 400.27,254.65 400.41,250.50 400.55,246.61 400.69,243.25 400.83,240.68 400.97,239.09 401.11,238.60 401.25,239.14 401.39,240.63 401.53,242.97 401.67,246.05 401.81,249.69 401.95,253.72 402.09,257.91 402.22,262.05 402.36,265.91 402.50,269.30 402.64,272.02 402.78,273.95 402.92,274.97 403.06,275.03 403.20,274.13 403.34,272.32 403.48,269.69 403.62,266.38 403.76,262.57 403.90,258.46 404.04,254.26 404.18,250.20 404.31,246.49 404.45,243.33 404.59,240.89 404.73,239.28 404.87,238.61 405.01,238.99 405.15,240.57 405.29,243.26 405.43,246.89 405.57,251.23 405.71,256.02 405.85,260.95 405.99,265.72 406.13,270.04 406.27,273.62 406.41,276.26 406.55,277.78 406.68,278.10 406.82,277.34 406.96,275.61 407.10,273.02 407.24,269.72 407.38,265.93 407.52,261.88 407.66,257.82 407.80,254.01 407.94,250.67 408.08,248.03 408.22,246.24 408.36,245.42 408.50,245.60 408.64,246.70 408.78,248.67 408.91,251.42 409.05,254.82 409.19,258.70 409.33,262.88 409.47,267.16 409.61,271.33 409.75,275.20 409.89,278.58 410.03,281.31 410.17,283.26 410.31,284.33 410.45,284.49 410.59,283.78 410.73,282.26 410.87,280.01 411.00,277.13 411.14,273.75 411.28,270.05 411.42,266.19 411.56,262.37 411.70,258.75 411.84,255.53 411.98,252.84 412.12,250.82 412.26,249.57 412.40,249.14 412.54,249.81 412.68,251.80 412.82,254.99 412.96,259.15 413.10,264.02 413.24,269.27 413.37,274.57 413.51,279.55 413.65,283.89 413.79,287.30 413.93,289.57 414.07,290.53 414.21,290.18 414.35,288.62 414.49,285.99 414.63,282.43 414.77,278.19 414.91,273.56 415.05,268.82 415.19,264.31 415.33,260.30 415.47,257.08 415.60,254.85 415.74,253.76 415.88,253.90 416.02,255.38 416.16,258.11 416.30,261.92 416.44,266.58 416.58,271.79 416.72,277.23 416.86,282.57 417.00,287.47 417.14,291.62 417.28,294.76 417.42,296.71 417.56,297.34 417.69,296.60 417.83,294.55 417.97,291.32 418.11,287.10 418.25,282.15 418.39,276.79 418.53,271.36 418.67,266.18 418.81,261.58 418.95,257.84 419.09,255.21 419.23,253.84 419.37,253.82 419.51,255.17 419.65,257.83 419.79,261.64 419.93,266.39 420.06,271.81 420.20,277.61 420.34,283.46 420.48,289.03 420.62,294.02 420.76,298.14 420.90,301.17 421.04,302.93 421.18,303.33 421.32,302.40 421.46,300.21 421.60,296.89 421.74,292.61 421.88,287.62 422.02,282.20 422.16,276.64 422.29,271.26 422.43,266.36 422.57,262.21 422.71,259.04 422.85,257.03 422.99,256.29 423.13,257.02 423.27,259.37 423.41,263.17 423.55,268.19 423.69,274.09 423.83,280.47 423.97,286.93 424.11,293.03 424.25,298.37 424.38,302.60 424.52,305.43 424.66,306.69 424.80,306.30 424.94,304.28 425.08,300.77 425.22,296.00 425.36,290.30 425.50,284.02 425.64,277.59 425.78,271.44 425.92,265.96 426.06,261.52 426.20,258.41 426.34,256.84 426.48,256.93 426.62,258.75 426.75,262.20 426.89,267.05 427.03,272.97 427.17,279.59 427.31,286.46 427.45,293.12 427.59,299.14 427.73,304.13 427.87,307.75 428.01,309.76 428.15,310.04 428.29,308.60 428.43,305.54 428.57,301.08 428.71,295.50 428.85,289.17 428.98,282.51 429.12,275.96 429.26,269.95 429.40,264.88 429.54,261.08 429.68,258.80 429.82,258.19 429.96,259.30 430.10,262.05 430.24,266.27 430.38,271.70 430.52,277.99 430.66,284.77 430.80,291.60 430.94,298.06 431.07,303.75 431.21,308.31 431.35,311.46 431.49,313.01 431.63,312.86 431.77,311.03 431.91,307.65 432.05,302.92 432.19,297.14 432.33,290.67 432.47,283.91 432.61,277.29 432.75,271.21 432.89,266.05 433.03,262.14 433.17,259.71 433.31,258.93 433.44,259.91 433.58,262.67 433.72,267.02 433.86,272.68 434.00,279.26 434.14,286.34 434.28,293.46 434.42,300.13 434.56,305.92 434.70,310.45 434.84,313.42 434.98,314.64 435.12,314.02 435.26,311.63 435.40,307.63 435.54,302.28 435.67,295.94 435.81,289.01 435.95,281.96 436.09,275.26 436.23,269.34 436.37,264.60 436.51,261.35 436.65,259.80 436.79,260.07 436.93,262.17 437.07,265.97 437.21,271.22 437.35,277.57 437.49,284.60 437.63,291.86 437.77,298.85 437.90,305.12 438.04,310.26 438.18,313.93 438.32,315.88 438.46,315.98 438.60,314.23 438.74,310.75 438.88,305.76 439.02,299.60 439.16,292.66 439.30,285.42 439.44,278.33 439.58,271.88 439.72,266.49 439.86,262.51 440.00,260.21 440.13,259.74 440.27,261.08 440.41,264.14 440.55,268.73 440.69,274.57 440.83,281.28 440.97,288.45 441.11,295.64 441.25,302.39 441.39,308.29 441.53,312.96 441.67,316.13 441.81,317.59 441.95,317.25 442.09,315.18 442.23,311.51 442.36,306.46 442.50,300.35 442.64,293.57 442.78,286.52 442.92,279.65 443.06,273.40 443.20,268.14 443.34,264.21 443.48,261.85 443.62,261.21 443.76,262.63 443.90,266.17 444.04,271.55 444.18,278.36 444.32,286.04 444.46,293.99 444.59,301.58 444.73,308.20 444.87,313.34 445.01,316.58 445.15,317.67 445.29,316.51 445.43,313.17 445.57,307.91 445.71,301.17 445.85,293.46 445.99,285.40 446.13,277.63 446.27,270.77 446.41,265.36 446.55,261.82 446.69,260.45 446.82,261.17 446.96,263.69 447.10,267.84 447.24,273.38 447.38,279.95 447.52,287.15 447.66,294.52 447.80,301.61 447.94,307.98 448.08,313.23 448.22,317.03 448.36,319.15 448.50,319.45 448.64,317.90 448.78,314.58 448.92,309.72 449.05,303.60 449.19,296.61 449.33,289.18 449.47,281.78 449.61,274.87 449.75,268.88 449.89,264.18 450.03,261.06 450.17,259.73 450.31,260.30 450.45,262.86 450.59,267.22 450.73,273.09 450.87,280.05 451.01,287.61 451.15,295.24 451.28,302.42 451.42,308.64 451.56,313.45 451.70,316.54 451.84,317.67 451.98,316.76 452.12,313.86 452.26,309.17 452.40,303.02 452.54,295.83 452.68,288.13 452.82,280.43 452.96,273.28 453.10,267.19 453.24,262.57 453.38,259.76 453.51,258.94 453.65,260.08 453.79,263.03 453.93,267.62 454.07,273.55 454.21,280.46 454.35,287.92 454.49,295.46 454.63,302.61 454.77,308.93 454.91,314.02 455.05,317.57 455.19,319.36 455.33,319.28 455.47,317.37 455.61,313.75 455.74,308.66 455.88,302.40 456.02,295.37 456.16,288.01 456.30,280.77 456.44,274.10 456.58,268.42 456.72,264.09 456.86,261.37 457.00,260.43 457.14,261.54 457.28,264.82 457.42,270.03 457.56,276.79 457.70,284.58 457.84,292.83 457.97,300.92 458.11,308.26 458.25,314.30 458.39,318.58 458.53,320.79 458.67,320.76 458.81,318.47 458.95,314.09 459.09,307.95 459.23,300.50 459.37,292.29 459.51,283.94 459.65,276.07 459.79,269.26 459.93,264.03 460.06,260.75 460.20,259.68 460.34,260.87 460.48,264.19 460.62,269.41 460.76,276.13 460.90,283.85 461.04,292.00 461.18,299.98 461.32,307.18 461.46,313.08 461.60,317.23 461.74,319.33 461.88,319.21 462.02,316.90 462.16,312.55 462.30,306.49 462.43,299.18 462.57,291.16 462.71,283.02 462.85,275.38 462.99,268.79 463.13,263.75 463.27,260.64 463.41,259.69 463.55,260.84 463.69,263.95 463.83,268.80 463.97,275.07 464.11,282.35 464.25,290.16 464.39,297.98 464.52,305.30 464.66,311.64 464.80,316.58 464.94,319.78 465.08,321.04 465.22,320.34 465.36,317.81 465.50,313.62 465.64,308.04 465.78,301.45 465.92,294.27 466.06,286.99 466.20,280.08 466.34,273.99 466.48,269.14 466.62,265.83 466.75,264.30 466.89,264.53 467.03,266.21 467.17,269.21 467.31,273.36 467.45,278.40 467.59,284.06 467.73,289.98 467.87,295.83 468.01,301.26 468.15,305.95 468.29,309.62 468.43,312.05 468.57,313.11 468.71,312.75 468.85,311.01 468.99,308.00 469.12,303.89 469.26,298.94 469.40,293.42 469.54,287.67 469.68,282.02 469.82,276.81 469.96,272.35 470.10,268.88 470.24,266.63 470.38,265.72 470.52,266.20 470.66,268.04 470.80,271.11 470.94,275.23 471.08,280.14 471.22,285.54 471.35,291.08 471.49,296.43 471.63,301.24 471.77,305.23 471.91,308.14 472.05,309.79 472.19,310.08 472.33,308.99 472.47,306.59 472.61,303.02 472.75,298.52 472.89,293.35 473.03,287.85 473.17,282.35 473.31,277.20 473.45,272.71 473.58,269.18 473.72,266.81 473.86,265.75 474.00,266.05 474.14,267.61 474.28,270.33 474.42,274.04 474.56,278.50 474.70,283.45 474.84,288.57 474.98,293.55 475.12,298.07 475.26,301.85 475.40,304.66 475.54,306.32 475.68,306.73 475.81,305.78 475.95,303.47 476.09,299.97 476.23,295.48 476.37,290.29 476.51,284.72 476.65,279.11 476.79,273.81 476.93,269.16 477.07,265.44 477.21,262.89 477.35,261.66 477.49,261.79 477.63,263.09 477.77,265.45 477.90,268.76 478.04,272.80 478.18,277.35 478.32,282.13 478.46,286.87 478.60,291.27 478.74,295.10 478.88,298.11 479.02,300.14 479.16,301.05 479.30,300.78 479.44,299.26 479.58,296.57 479.72,292.87 479.86,288.39 480.00,283.37 480.13,278.13 480.27,272.96 480.41,268.18 480.55,264.06 480.69,260.84 480.83,258.72 480.97,257.83 481.11,258.09 481.25,259.27 481.39,261.29 481.53,264.04 481.67,267.37 481.81,271.08 481.95,274.98 482.09,278.85 482.23,282.46 482.37,285.63 482.50,288.16 482.64,289.93 482.78,290.83 482.92,290.78 483.06,289.65 483.20,287.46 483.34,284.34 483.48,280.47 483.62,276.05 483.76,271.35 483.90,266.61 484.04,262.10 484.18,258.08 484.32,254.77 484.46,252.35 484.60,250.96 484.73,250.67 484.87,251.34 485.01,252.87 485.15,255.17 485.29,258.09 485.43,261.44 485.57,265.03 485.71,268.62 485.85,272.00 485.99,274.95 486.13,277.29 486.27,278.87 486.41,279.60 486.55,279.41 486.69,278.26 486.83,276.23 486.96,273.44 487.10,270.06 487.24,266.30 487.38,262.40 487.52,258.60 487.66,255.14 487.80,252.23 487.94,250.06 488.08,248.75 488.22,248.39 488.36,249.05 488.50,250.69 488.64,253.22 488.78,256.49 488.92,260.28 489.06,264.36 489.19,268.48 489.33,272.38 489.47,275.81 489.61,278.57 489.75,280.48 489.89,281.43 490.03,281.32 490.17,280.06 490.31,277.70 490.45,274.40 490.59,270.35 490.73,265.82 490.87,261.08 491.01,256.43 491.15,252.15 491.29,248.53 491.42,245.77 491.56,244.06 491.70,243.49 491.84,243.83 491.98,244.81 492.12,246.36 492.26,248.40 492.40,250.80 492.54,253.42 492.68,256.12 492.82,258.73 492.96,261.09 493.10,263.07 493.24,264.55 493.38,265.45 493.51,265.70 493.65,265.29 493.79,264.23 493.93,262.58 494.07,260.43 494.21,257.92 494.35,255.20 494.49,252.41 494.63,249.73 494.77,247.32 494.91,245.31 495.05,243.83 495.19,242.96 495.33,242.76 495.47,243.50 495.61,245.27 495.75,247.93 495.88,251.28 496.02,255.07 496.16,259.03 496.30,262.85 496.44,266.25 496.58,268.98 496.72,270.84 496.86,271.69 497.00,271.43 497.14,270.03 497.28,267.57 497.42,264.25 497.56,260.30 497.70,256.03 497.84,251.75 497.98,247.78 498.11,244.42 498.25,241.91 498.39,240.45 498.53,240.12 498.67,240.71 498.81,242.05 498.95,244.08 499.09,246.67 499.23,249.68 499.37,252.92 499.51,256.20 499.65,259.33 499.79,262.13 499.93,264.43 500.07,266.09 500.21,267.03 500.34,267.17 500.48,266.46 500.62,264.94 500.76,262.68 500.90,259.83 501.04,256.54 501.18,253.02 501.32,249.47 501.46,246.10 501.60,243.11 501.74,240.67 501.88,238.93 502.02,237.99 502.16,237.93 502.30,238.93 502.44,240.98 502.57,243.94 502.71,247.64 502.85,251.85 502.99,256.29 503.13,260.70 503.27,264.80 503.41,268.33 503.55,271.08 503.69,272.88 503.83,273.60 503.97,273.19 504.11,271.62 504.25,268.99 504.39,265.46 504.53,261.26 504.67,256.64 504.80,251.90 504.94,247.32 505.08,243.20 505.22,239.78 505.36,237.29 505.50,235.88 505.64,235.64 505.78,236.68 505.92,238.98 506.06,242.40 506.20,246.71 506.34,251.66 506.48,256.93 506.62,262.19 506.76,267.13 506.89,271.42 507.03,274.81 507.17,277.08 507.31,278.09 507.45,277.82 507.59,276.42 507.73,273.98 507.87,270.64 508.01,266.63 508.15,262.18 508.29,257.57 508.43,253.10 508.57,249.04 508.71,245.64 508.85,243.11 508.99,241.62 509.12,241.26 509.26,242.35 509.40,245.00 509.54,248.99 509.68,254.07 509.82,259.87 509.96,265.99 510.10,271.99 510.24,277.46 510.38,282.02 510.52,285.34 510.66,287.19 510.80,287.46 510.94,286.24 511.08,283.64 511.22,279.86 511.36,275.15 511.49,269.84 511.63,264.31 511.77,258.95 511.91,254.12 512.05,250.17 512.19,247.38 512.33,245.93 512.47,245.95 512.61,247.54 512.75,250.61 512.89,254.97 513.03,260.35 513.17,266.42 513.31,272.79 513.45,279.08 513.59,284.88 513.72,289.84 513.86,293.65 514.00,296.08 514.14,296.96 514.28,296.35 514.42,294.40 514.56,291.24 514.70,287.07 514.84,282.14 514.98,276.76 515.12,271.27 515.26,266.00 515.40,261.29 515.54,257.44 515.68,254.67 515.82,253.16 515.95,253.02 516.09,254.41 516.23,257.28 516.37,261.45 516.51,266.65 516.65,272.57 516.79,278.84 516.93,285.06 517.07,290.85 517.21,295.85 517.35,299.75 517.49,302.30 517.63,303.34 517.77,302.84 517.91,300.87 518.05,297.55 518.18,293.10 518.32,287.78 518.46,281.93 518.60,275.92 518.74,270.11 518.88,264.88 519.02,260.54 519.16,257.36 519.30,255.55 519.44,255.22 519.58,256.47 519.72,259.25 519.86,263.39 520.00,268.66 520.14,274.74 520.28,281.27 520.41,287.88 520.55,294.16 520.69,299.76 520.83,304.34 520.97,307.63 521.11,309.44 521.25,309.66 521.39,308.34 521.53,305.56 521.67,301.48 521.81,296.36 521.95,290.48 522.09,284.19 522.23,277.87 522.37,271.89 522.50,266.60 522.64,262.30 522.78,259.26 522.92,257.66 523.06,257.60 523.20,259.23 523.34,262.49 523.48,267.17 523.62,272.97 523.76,279.54 523.90,286.48 524.04,293.33 524.18,299.69 524.32,305.15 524.46,309.37 524.60,312.09 524.74,313.14 524.87,312.45 525.01,310.05 525.15,306.07 525.29,300.79 525.43,294.51 525.57,287.63 525.71,280.59 525.85,273.81 525.99,267.73 526.13,262.71 526.27,259.08 526.41,257.06 526.55,256.77 526.69,258.19 526.83,261.24 526.97,265.75 527.10,271.46 527.24,278.06 527.38,285.18 527.52,292.42 527.66,299.37 527.80,305.66 527.94,310.93 528.08,314.88 528.22,317.30 528.36,318.05 528.50,317.09 528.64,314.51 528.78,310.43 528.92,305.08 529.06,298.77 529.20,291.84 529.33,284.68 529.47,277.70 529.61,271.27 529.75,265.76 529.89,261.48 530.03,258.66 530.17,257.46 530.31,258.19 530.45,261.31 530.59,266.58 530.73,273.58 530.87,281.77 531.01,290.49 531.15,299.06 531.29,306.78 531.42,313.05 531.56,317.38 531.70,319.42 531.84,318.99 531.98,316.09 532.12,310.94 532.26,303.95 532.40,295.67 532.54,286.77 532.68,277.94 532.82,269.89 532.96,263.25 533.10,258.56 533.24,256.18 533.38,256.20 533.52,258.14 533.65,261.82 533.79,267.05 533.93,273.52 534.07,280.88 534.21,288.72 534.35,296.59 534.49,304.07 534.63,310.73 534.77,316.20 534.91,320.18 535.05,322.45 535.19,322.87 535.33,321.45 535.47,318.26 535.61,313.49 535.75,307.39 535.88,300.31 536.02,292.65 536.16,284.83 536.30,277.29 536.44,270.44 536.58,264.68 536.72,260.31 536.86,257.59 537.00,256.67 537.14,257.70 537.28,260.73 537.42,265.57 537.56,271.92 537.70,279.39 537.84,287.50 537.98,295.76 538.12,303.65 538.25,310.67 538.39,316.39 538.53,320.46 538.67,322.62 538.81,322.74 538.95,320.80 539.09,316.94 539.23,311.38 539.37,304.48 539.51,296.67 539.65,288.43 539.79,280.28 539.93,272.71 540.07,266.22 540.21,261.19 540.35,257.94 540.48,256.68 540.62,257.72 540.76,261.33 540.90,267.24 541.04,274.97 541.18,283.91 541.32,293.35 541.46,302.55 541.60,310.78 541.74,317.37 541.88,321.82 542.02,323.77 542.16,323.05 542.30,319.74 542.44,314.09 542.58,306.55 542.71,297.72 542.85,288.30 542.99,279.03" fill="none" stroke="#111" stroke-width="0.7" stroke-linejoin="round"/>
<polyline points="336.30,273.78 336.44,278.97 336.58,283.28 336.72,287.55 336.86,296.07 337.00,303.16 337.14,311.54 337.28,318.00 337.42,323.73 337.55,332.52 337.69,330.08 337.83,331.27 337.97,331.71 338.11,324.23 338.25,317.36 338.39,309.67 338.53,301.53 338.67,289.98 338.81,282.15 338.95,275.17 339.09,266.81 339.23,262.04 339.37,258.20 339.51,259.19 339.65,264.55 339.78,268.12 339.92,275.37 340.06,283.42 340.20,292.22 340.34,304.04 340.48,311.69 340.62,320.89 340.76,325.69 340.90,330.42 341.04,333.62 341.18,334.07 341.32,329.39 341.46,326.91 341.60,319.62 341.74,312.93 341.88,304.16 342.01,294.24 342.15,287.96 342.29,279.95 342.43,274.62 342.57,269.41 342.71,267.23 342.85,266.10 342.99,267.97 343.13,271.17 343.27,278.57 343.41,285.87 343.55,294.50 343.69,302.97 343.83,312.10 343.97,319.27 344.11,324.66 344.24,332.33 344.38,333.06 344.52,332.39 344.66,330.28 344.80,326.70 344.94,320.28 345.08,308.87 345.22,301.74 345.36,292.61 345.50,282.73 345.64,275.80 345.78,268.81 345.92,265.00 346.06,262.97 346.20,263.59 346.34,267.78 346.47,271.02 346.61,274.15 346.75,284.70 346.89,293.01 347.03,302.08 347.17,311.66 347.31,315.95 347.45,325.38 347.59,328.59 347.73,330.76 347.87,333.03 348.01,331.09 348.15,326.72 348.29,324.07 348.43,316.05 348.56,311.88 348.70,300.24 348.84,289.95 348.98,284.31 349.12,279.85 349.26,272.12 349.40,269.16 349.54,264.87 349.68,264.74 349.82,268.57 349.96,274.03 350.10,278.74 350.24,287.36 350.38,294.41 350.52,301.37 350.66,310.41 350.80,319.86 350.93,325.98 351.07,328.66 351.21,331.25 351.35,334.40 351.49,331.38 351.63,324.57 351.77,320.25 351.91,311.46 352.05,304.89 352.19,294.93 352.33,290.09 352.47,280.83 352.61,273.32 352.75,267.42 352.89,263.54 353.03,262.40 353.16,267.04 353.30,269.85 353.44,279.80 353.58,285.05 353.72,292.00 353.86,298.42 354.00,311.98 354.14,318.37 354.28,324.14 354.42,328.87 354.56,331.72 354.70,332.92 354.84,332.47 354.98,326.36 355.12,321.77 355.25,314.59 355.39,308.08 355.53,301.53 355.67,292.11 355.81,286.52 355.95,279.19 356.09,277.11 356.23,274.97 356.37,276.69 356.51,277.79 356.65,279.36 356.79,286.50 356.93,291.08 357.07,298.80 357.21,304.29 357.35,309.98 357.49,320.31 357.62,324.75 357.76,329.39 357.90,331.68 358.04,333.52 358.18,329.79 358.32,330.39 358.46,325.34 358.60,318.67 358.74,311.73 358.88,303.54 359.02,295.40 359.16,289.43 359.30,280.74 359.44,275.71 359.58,275.16 359.72,270.73 359.85,268.08 359.99,271.70 360.13,276.78 360.27,280.28 360.41,288.68 360.55,295.85 360.69,304.60 360.83,312.06 360.97,317.76 361.11,325.15 361.25,331.33 361.39,331.97 361.53,331.30 361.67,331.62 361.81,329.28 361.94,325.69 362.08,318.51 362.22,309.73 362.36,302.44 362.50,296.57 362.64,288.35 362.78,283.75 362.92,280.14 363.06,274.92 363.20,275.00 363.34,276.70 363.48,278.03 363.62,285.18 363.76,288.86 363.90,293.94 364.04,306.79 364.18,312.27 364.31,318.23 364.45,322.77 364.59,330.49 364.73,331.59 364.87,333.26 365.01,332.91 365.15,329.43 365.29,323.52 365.43,317.56 365.57,310.72 365.71,300.50 365.85,293.24 365.99,287.32 366.13,280.53 366.27,275.74 366.41,275.04 366.54,272.28 366.68,275.82 366.82,279.25 366.96,284.82 367.10,290.05 367.24,297.56 367.38,304.41 367.52,311.53 367.66,317.34 367.80,324.48 367.94,328.27 368.08,329.33 368.22,332.25 368.36,332.31 368.50,330.56 368.63,327.23 368.77,319.26 368.91,314.73 369.05,306.31 369.19,299.24 369.33,293.21 369.47,284.47 369.61,280.87 369.75,276.93 369.89,272.77 370.03,274.66 370.17,273.27 370.31,278.02 370.45,282.54 370.59,287.27 370.73,297.64 370.87,302.54 371.00,309.36 371.14,318.10 371.28,323.72 371.42,329.37 371.56,331.56 371.70,332.88 371.84,332.52 371.98,329.37 372.12,327.25 372.26,316.87 372.40,311.50 372.54,300.49 372.68,291.50 372.82,285.49 372.96,279.29 373.10,273.45 373.23,270.88 373.37,267.47 373.51,269.26 373.65,273.37 373.79,276.77 373.93,285.76 374.07,291.12 374.21,300.70 374.35,309.42 374.49,315.91 374.63,324.91 374.77,328.00 374.91,330.86 375.05,332.70 375.19,330.49 375.32,327.05 375.46,321.91 375.60,317.32 375.74,308.72 375.88,297.37 376.02,291.14 376.16,281.11 376.30,273.98 376.44,268.09 376.58,267.85 376.72,266.25 376.86,267.70 377.00,269.22 377.14,273.92 377.28,276.57 377.42,284.46 377.56,286.58 377.69,289.77 377.83,293.32 377.97,294.36 378.11,295.82 378.25,299.35 378.39,298.10 378.53,298.90 378.67,293.66 378.81,292.05 378.95,286.54 379.09,284.16 379.23,275.74 379.37,270.07 379.51,266.01 379.65,263.33 379.79,258.12 379.92,258.20 380.06,253.59 380.20,254.55 380.34,255.13 380.48,259.31 380.62,261.04 380.76,264.76 380.90,269.48 381.04,271.69 381.18,276.97 381.32,282.51 381.46,283.29 381.60,289.36 381.74,289.94 381.88,293.88 382.01,291.15 382.15,292.16 382.29,288.23 382.43,286.67 382.57,280.38 382.71,277.58 382.85,270.54 382.99,266.09 383.13,261.70 383.27,255.53 383.41,250.43 383.55,246.74 383.69,245.87 383.83,244.66 383.97,243.09 384.11,244.11 384.25,246.32 384.38,251.89 384.52,254.23 384.66,259.18 384.80,263.80 384.94,272.07 385.08,275.45 385.22,276.43 385.36,279.99 385.50,284.67 385.64,284.95 385.78,285.70 385.92,284.90 386.06,280.98 386.20,275.57 386.34,274.47 386.48,269.44 386.61,262.68 386.75,258.01 386.89,249.71 387.03,246.99 387.17,241.46 387.31,239.95 387.45,240.04 387.59,237.89 387.73,236.61 387.87,239.64 388.01,244.46 388.15,248.96 388.29,254.66 388.43,256.80 388.57,266.06 388.71,270.86 388.84,274.51 388.98,276.94 389.12,281.50 389.26,279.09 389.40,280.86 389.54,277.61 389.68,272.02 389.82,267.75 389.96,259.67 390.10,252.50 390.24,248.37 390.38,242.66 390.52,239.06 390.66,233.44 390.80,230.68 390.94,231.73 391.07,231.29 391.21,233.39 391.35,239.30 391.49,241.08 391.63,246.99 391.77,252.73 391.91,258.65 392.05,262.15 392.19,266.47 392.33,271.04 392.47,271.14 392.61,273.40 392.75,272.72 392.89,272.33 393.03,271.39 393.17,268.73 393.30,265.21 393.44,259.57 393.58,256.56 393.72,249.06 393.86,243.33 394.00,240.03 394.14,236.16 394.28,231.82 394.42,230.18 394.56,228.93 394.70,229.69 394.84,230.92 394.98,234.65 395.12,240.58 395.26,242.24 395.39,245.98 395.53,252.51 395.67,255.64 395.81,260.11 395.95,262.47 396.09,265.54 396.23,263.46 396.37,265.16 396.51,262.92 396.65,257.90 396.79,254.35 396.93,248.97 397.07,245.75 397.21,240.74 397.35,232.72 397.49,231.88 397.62,227.53 397.76,226.75 397.90,225.91 398.04,225.68 398.18,227.24 398.32,230.87 398.46,235.67 398.60,240.66 398.74,247.09 398.88,250.18 399.02,255.78 399.16,260.36 399.30,263.28 399.44,265.78 399.58,264.37 399.72,265.84 399.86,262.70 399.99,258.09 400.13,253.48 400.27,249.26 400.41,240.40 400.55,235.61 400.69,232.89 400.83,226.83 400.97,227.32 401.11,225.29 401.25,225.59 401.39,229.44 401.53,230.94 401.67,233.69 401.81,242.81 401.95,246.19 402.09,249.62 402.22,255.10 402.36,262.03 402.50,267.05 402.64,271.24 402.78,273.50 402.92,275.15 403.06,274.60 403.20,275.58 403.34,272.68 403.48,270.52 403.62,266.66 403.76,260.67 403.90,256.06 404.04,251.47 404.18,243.16 404.31,239.73 404.45,236.96 404.59,236.61 404.73,230.87 404.87,229.78 405.01,233.20 405.15,233.67 405.29,237.79 405.43,243.62 405.57,248.72 405.71,256.78 405.85,263.27 405.99,269.95 406.13,276.18 406.27,281.43 406.41,285.97 406.55,287.48 406.68,288.95 406.82,289.68 406.96,287.45 407.10,283.71 407.24,280.63 407.38,272.40 407.52,267.56 407.66,261.92 407.80,256.79 407.94,247.62 408.08,246.06 408.22,244.54 408.36,244.13 408.50,243.86 408.64,243.29 408.78,247.77 408.91,252.72 409.05,254.77 409.19,260.03 409.33,266.65 409.47,273.40 409.61,278.28 409.75,285.11 409.89,289.26 410.03,293.89 410.17,296.88 410.31,299.30 410.45,299.70 410.59,297.15 410.73,296.70 410.87,291.89 411.00,288.60 411.14,283.74 411.28,278.84 411.42,270.95 411.56,268.45 411.70,264.10 411.84,258.77 411.98,256.01 412.12,251.82 412.26,249.04 412.40,247.85 412.54,249.11 412.68,252.77 412.82,257.24 412.96,260.47 413.10,266.30 413.24,274.71 413.37,282.22 413.51,288.90 413.65,293.09 413.79,299.56 413.93,301.35 414.07,305.52 414.21,303.26 414.35,299.83 414.49,296.99 414.63,292.52 414.77,288.42 414.91,280.51 415.05,274.75 415.19,267.77 415.33,260.13 415.47,257.72 415.60,253.73 415.74,252.31 415.88,252.61 416.02,252.14 416.16,257.06 416.30,263.32 416.44,269.79 416.58,275.92 416.72,281.53 416.86,287.55 417.00,295.04 417.14,302.88 417.28,305.71 417.42,309.49 417.56,308.18 417.69,308.06 417.83,304.63 417.97,302.24 418.11,298.20 418.25,290.36 418.39,282.79 418.53,275.97 418.67,269.89 418.81,261.65 418.95,258.80 419.09,256.06 419.23,252.64 419.37,252.13 419.51,253.61 419.65,257.91 419.79,264.47 419.93,268.23 420.06,274.73 420.20,280.57 420.34,291.49 420.48,296.23 420.62,301.41 420.76,307.37 420.90,312.44 421.04,314.25 421.18,315.17 421.32,313.29 421.46,310.09 421.60,308.12 421.74,302.96 421.88,295.62 422.02,287.08 422.16,281.83 422.29,275.80 422.43,267.89 422.57,264.98 422.71,260.07 422.85,256.14 422.99,255.74 423.13,255.48 423.27,258.22 423.41,265.40 423.55,268.18 423.69,276.44 423.83,286.20 423.97,293.57 424.11,301.51 424.25,310.37 424.38,315.80 424.52,319.47 424.66,323.87 424.80,322.38 424.94,319.06 425.08,314.25 425.22,307.41 425.36,300.04 425.50,292.53 425.64,285.57 425.78,274.87 425.92,268.80 426.06,264.14 426.20,260.48 426.34,256.04 426.48,255.86 426.62,261.08 426.75,262.60 426.89,267.62 427.03,277.55 427.17,283.21 427.31,294.20 427.45,300.85 427.59,306.41 427.73,316.82 427.87,319.87 428.01,323.73 428.15,322.82 428.29,324.26 428.43,316.97 428.57,312.02 428.71,303.87 428.85,298.72 428.98,287.95 429.12,278.03 429.26,269.53 429.40,264.07 429.54,262.47 429.68,256.86 429.82,255.18 429.96,257.16 430.10,261.98 430.24,265.24 430.38,274.34 430.52,280.44 430.66,290.82 430.80,299.28 430.94,305.18 431.07,312.66 431.21,319.23 431.35,321.94 431.49,323.12 431.63,324.26 431.77,321.04 431.91,318.41 432.05,311.11 432.19,303.32 432.33,298.53 432.47,289.09 432.61,281.31 432.75,275.09 432.89,267.16 433.03,262.76 433.17,258.39 433.31,257.37 433.44,258.70 433.58,262.39 433.72,265.69 433.86,275.26 434.00,282.10 434.14,292.43 434.28,299.94 434.42,308.87 434.56,315.90 434.70,320.53 434.84,323.81 434.98,326.31 435.12,324.37 435.26,320.94 435.40,318.90 435.54,310.26 435.67,302.33 435.81,294.74 435.95,284.79 436.09,277.60 436.23,271.03 436.37,263.84 436.51,259.70 436.65,258.11 436.79,259.15 436.93,262.99 437.07,266.94 437.21,272.85 437.35,280.54 437.49,288.24 437.63,298.54 437.77,307.77 437.90,314.88 438.04,319.96 438.18,325.72 438.32,326.95 438.46,327.47 438.60,325.88 438.74,323.66 438.88,312.63 439.02,308.40 439.16,298.11 439.30,289.96 439.44,282.94 439.58,273.45 439.72,267.13 439.86,262.05 440.00,257.77 440.13,257.91 440.27,261.51 440.41,265.04 440.55,270.72 440.69,278.00 440.83,285.68 440.97,294.42 441.11,301.62 441.25,310.56 441.39,316.56 441.53,324.57 441.67,328.32 441.81,328.15 441.95,328.66 442.09,327.39 442.23,320.48 442.36,315.36 442.50,305.80 442.64,298.75 442.78,292.09 442.92,283.05 443.06,273.97 443.20,268.84 443.34,262.61 443.48,260.87 443.62,259.33 443.76,261.76 443.90,265.29 444.04,272.03 444.18,279.01 444.32,288.42 444.46,300.07 444.59,309.83 444.73,316.18 444.87,324.64 445.01,328.67 445.15,329.17 445.29,328.15 445.43,321.36 445.57,317.78 445.71,309.14 445.85,300.45 445.99,290.20 446.13,280.61 446.27,271.84 446.41,266.68 446.55,261.53 446.69,259.35 446.82,258.90 446.96,262.19 447.10,269.62 447.24,273.86 447.38,281.54 447.52,290.31 447.66,297.44 447.80,308.11 447.94,315.95 448.08,324.37 448.22,327.90 448.36,328.55 448.50,329.17 448.64,325.86 448.78,323.38 448.92,320.76 449.05,310.03 449.19,301.03 449.33,294.41 449.47,284.83 449.61,273.81 449.75,268.96 449.89,263.81 450.03,258.57 450.17,258.32 450.31,259.89 450.45,264.53 450.59,270.07 450.73,273.95 450.87,283.42 451.01,293.41 451.15,305.79 451.28,311.05 451.42,320.22 451.56,327.05 451.70,326.78 451.84,331.77 451.98,328.93 452.12,327.60 452.26,321.13 452.40,314.17 452.54,302.49 452.68,294.16 452.82,285.11 452.96,274.78 453.10,269.11 453.24,263.45 453.38,260.33 453.51,258.80 453.65,260.03 453.79,265.32 453.93,266.16 454.07,275.02 454.21,283.77 454.35,293.64 454.49,303.28 454.63,310.98 454.77,316.23 454.91,325.15 455.05,330.89 455.19,330.52 455.33,330.40 455.47,330.78 455.61,323.93 455.74,317.93 455.88,311.56 456.02,303.02 456.16,293.36 456.30,282.98 456.44,273.70 456.58,269.06 456.72,264.00 456.86,260.09 457.00,258.23 457.14,260.59 457.28,264.85 457.42,270.45 457.56,279.50 457.70,287.18 457.84,299.00 457.97,307.03 458.11,315.64 458.25,323.58 458.39,328.12 458.53,332.40 458.67,329.61 458.81,327.42 458.95,322.89 459.09,316.12 459.23,308.48 459.37,296.72 459.51,287.17 459.65,278.66 459.79,271.25 459.93,266.88 460.06,260.64 460.20,259.20 460.34,260.71 460.48,262.57 460.62,271.06 460.76,277.93 460.90,288.32 461.04,298.75 461.18,307.02 461.32,316.81 461.46,325.00 461.60,329.27 461.74,331.48 461.88,331.32 462.02,328.07 462.16,324.63 462.30,316.36 462.43,307.92 462.57,297.61 462.71,287.17 462.85,280.35 462.99,270.18 463.13,265.83 463.27,260.07 463.41,258.29 463.55,259.55 463.69,262.00 463.83,268.98 463.97,277.90 464.11,285.36 464.25,293.08 464.39,304.63 464.52,312.95 464.66,318.91 464.80,327.49 464.94,328.91 465.08,334.20 465.22,331.68 465.36,329.61 465.50,322.50 465.64,316.68 465.78,308.07 465.92,299.14 466.06,292.11 466.20,282.18 466.34,273.70 466.48,268.92 466.62,266.04 466.75,264.57 466.89,260.02 467.03,264.88 467.17,269.77 467.31,272.76 467.45,282.88 467.59,289.60 467.73,297.26 467.87,304.30 468.01,309.78 468.15,317.00 468.29,318.32 468.43,321.15 468.57,323.80 468.71,320.00 468.85,316.66 468.99,312.27 469.12,307.79 469.26,303.06 469.40,297.14 469.54,289.13 469.68,283.57 469.82,276.51 469.96,270.22 470.10,268.58 470.24,265.83 470.38,264.56 470.52,265.20 470.66,266.96 470.80,271.45 470.94,275.62 471.08,279.48 471.22,287.82 471.35,290.40 471.49,295.75 471.63,300.65 471.77,304.34 471.91,304.21 472.05,309.43 472.19,306.84 472.33,306.53 472.47,304.29 472.61,299.49 472.75,296.61 472.89,289.72 473.03,286.52 473.17,280.94 473.31,274.51 473.45,271.97 473.58,267.93 473.72,269.09 473.86,264.73 474.00,264.97 474.14,266.89 474.28,271.30 474.42,271.77 474.56,276.06 474.70,280.56 474.84,284.33 474.98,286.78 475.12,292.53 475.26,292.08 475.40,295.40 475.54,296.49 475.68,295.74 475.81,296.31 475.95,292.95 476.09,286.50 476.23,286.61 476.37,280.81 476.51,277.90 476.65,272.60 476.79,268.91 476.93,265.79 477.07,262.21 477.21,262.12 477.35,261.98 477.49,261.05 477.63,261.28 477.77,264.62 477.90,266.10 478.04,269.88 478.18,271.08 478.32,275.54 478.46,276.73 478.60,280.36 478.74,283.22 478.88,283.62 479.02,286.55 479.16,286.75 479.30,284.78 479.44,285.04 479.58,282.55 479.72,278.22 479.86,277.94 480.00,275.34 480.13,269.67 480.27,265.74 480.41,262.73 480.55,260.36 480.69,257.28 480.83,255.50 480.97,255.75 481.11,255.37 481.25,258.61 481.39,257.95 481.53,262.65 481.67,266.68 481.81,267.24 481.95,270.78 482.09,274.87 482.23,276.31 482.37,279.47 482.50,282.58 482.64,283.10 482.78,284.57 482.92,283.39 483.06,282.44 483.20,277.69 483.34,276.65 483.48,273.17 483.62,271.11 483.76,265.96 483.90,262.14 484.04,259.89 484.18,253.77 484.32,253.56 484.46,251.65 484.60,249.48 484.73,248.28 484.87,249.29 485.01,250.92 485.15,254.22 485.29,256.43 485.43,259.50 485.57,264.79 485.71,266.79 485.85,270.73 485.99,273.80 486.13,277.33 486.27,277.08 486.41,279.74 486.55,279.54 486.69,277.86 486.83,275.66 486.96,273.16 487.10,268.07 487.24,262.89 487.38,261.11 487.52,256.19 487.66,252.92 487.80,247.33 487.94,246.52 488.08,245.20 488.22,244.92 488.36,245.81 488.50,246.91 488.64,248.94 488.78,251.71 488.92,258.35 489.06,260.06 489.19,262.40 489.33,268.09 489.47,269.37 489.61,271.68 489.75,274.76 489.89,273.11 490.03,274.07 490.17,274.71 490.31,269.71 490.45,266.38 490.59,263.30 490.73,259.34 490.87,255.38 491.01,248.56 491.15,244.87 491.29,242.89 491.42,239.92 491.56,237.92 491.70,235.81 491.84,237.61 491.98,236.96 492.12,242.73 492.26,243.22 492.40,247.30 492.54,254.00 492.68,256.45 492.82,260.33 492.96,263.04 493.10,266.91 493.24,267.76 493.38,269.89 493.51,269.41 493.65,271.11 493.79,269.02 493.93,265.53 494.07,261.08 494.21,258.09 494.35,253.25 494.49,249.80 494.63,245.08 494.77,241.01 494.91,236.61 495.05,236.26 495.19,232.88 495.33,233.07 495.47,235.08 495.61,234.94 495.75,238.41 495.88,244.58 496.02,248.14 496.16,253.12 496.30,258.37 496.44,261.44 496.58,266.49 496.72,269.59 496.86,268.90 497.00,269.38 497.14,266.80 497.28,264.75 497.42,261.31 497.56,256.13 497.70,250.26 497.84,245.39 497.98,241.37 498.11,236.11 498.25,232.40 498.39,229.66 498.53,230.98 498.67,232.92 498.81,234.28 498.95,236.72 499.09,241.08 499.23,244.69 499.37,250.58 499.51,255.03 499.65,258.95 499.79,263.43 499.93,267.59 500.07,268.33 500.21,272.05 500.34,270.87 500.48,269.56 500.62,268.32 500.76,263.50 500.90,258.14 501.04,255.83 501.18,248.41 501.32,246.63 501.46,237.86 501.60,236.27 501.74,230.66 501.88,227.33 502.02,228.72 502.16,227.84 502.30,229.36 502.44,230.39 502.57,238.08 502.71,241.07 502.85,244.34 502.99,249.21 503.13,256.95 503.27,261.30 503.41,266.54 503.55,269.97 503.69,271.23 503.83,272.90 503.97,269.97 504.11,269.59 504.25,267.49 504.39,263.37 504.53,257.76 504.67,253.56 504.80,247.26 504.94,239.67 505.08,233.38 505.22,232.17 505.36,227.35 505.50,226.83 505.64,225.30 505.78,226.30 505.92,230.29 506.06,234.61 506.20,236.68 506.34,243.62 506.48,251.43 506.62,255.42 506.76,264.52 506.89,267.47 507.03,274.31 507.17,275.85 507.31,275.59 507.45,276.90 507.59,277.43 507.73,273.59 507.87,268.07 508.01,264.09 508.15,259.11 508.29,254.80 508.43,247.93 508.57,243.47 508.71,241.01 508.85,237.47 508.99,232.81 509.12,231.85 509.26,234.59 509.40,239.65 509.54,242.14 509.68,248.43 509.82,253.38 509.96,260.25 510.10,266.13 510.24,274.80 510.38,280.52 510.52,281.97 510.66,286.71 510.80,287.70 510.94,284.95 511.08,281.61 511.22,280.91 511.36,273.06 511.49,269.40 511.63,263.34 511.77,257.87 511.91,251.45 512.05,246.03 512.19,244.58 512.33,241.54 512.47,243.49 512.61,244.05 512.75,248.33 512.89,250.31 513.03,257.32 513.17,261.24 513.31,267.51 513.45,275.36 513.59,282.07 513.72,285.53 513.86,290.31 514.00,292.14 514.14,293.65 514.28,293.90 514.42,292.28 514.56,291.43 514.70,285.84 514.84,281.88 514.98,276.67 515.12,270.73 515.26,263.98 515.40,257.95 515.54,256.27 515.68,254.62 515.82,250.91 515.95,251.68 516.09,253.40 516.23,257.37 516.37,258.36 516.51,266.30 516.65,270.47 516.79,278.01 516.93,284.60 517.07,289.39 517.21,295.29 517.35,300.56 517.49,303.58 517.63,306.39 517.77,304.39 517.91,306.72 518.05,299.58 518.18,296.75 518.32,291.71 518.46,284.91 518.60,277.84 518.74,272.64 518.88,264.53 519.02,260.40 519.16,255.97 519.30,255.40 519.44,255.03 519.58,254.67 519.72,258.80 519.86,263.64 520.00,266.85 520.14,276.73 520.28,284.29 520.41,290.56 520.55,297.33 520.69,304.08 520.83,309.87 520.97,313.40 521.11,316.87 521.25,318.50 521.39,316.78 521.53,313.47 521.67,309.23 521.81,304.15 521.95,296.87 522.09,286.75 522.23,281.82 522.37,272.79 522.50,265.98 522.64,263.48 522.78,259.87 522.92,256.73 523.06,254.50 523.20,260.13 523.34,262.78 523.48,267.81 523.62,274.87 523.76,281.92 523.90,292.36 524.04,298.03 524.18,306.27 524.32,315.01 524.46,317.83 524.60,321.09 524.74,325.21 524.87,323.00 525.01,318.51 525.15,315.30 525.29,306.58 525.43,301.52 525.57,294.49 525.71,284.90 525.85,277.63 525.99,269.38 526.13,263.03 526.27,259.79 526.41,256.04 526.55,255.76 526.69,255.87 526.83,260.94 526.97,267.44 527.10,271.47 527.24,280.83 527.38,287.91 527.52,298.34 527.66,304.07 527.80,311.30 527.94,318.51 528.08,322.31 528.22,324.05 528.36,326.63 528.50,324.53 528.64,320.44 528.78,317.66 528.92,309.57 529.06,302.21 529.20,296.94 529.33,287.85 529.47,278.31 529.61,273.73 529.75,265.20 529.89,258.64 530.03,258.18 530.17,255.79 530.31,256.72 530.45,260.99 530.59,265.01 530.73,274.22 530.87,282.84 531.01,291.65 531.15,303.44 531.29,312.11 531.42,318.45 531.56,323.27 531.70,324.62 531.84,324.12 531.98,320.65 532.12,316.51 532.26,307.50 532.40,297.18 532.54,288.59 532.68,278.31 532.82,270.37 532.96,262.59 533.10,258.91 533.24,254.13 533.38,255.81 533.52,257.97 533.65,260.14 533.79,265.88 533.93,275.07 534.07,281.85 534.21,287.71 534.35,300.09 534.49,307.24 534.63,314.92 534.77,320.60 534.91,322.48 535.05,328.05 535.19,325.91 535.33,323.26 535.47,321.43 535.61,316.72 535.75,309.50 535.88,300.86 536.02,294.54 536.16,285.30 536.30,278.70 536.44,270.05 536.58,264.41 536.72,259.05 536.86,256.80 537.00,254.60 537.14,255.51 537.28,259.64 537.42,265.14 537.56,272.13 537.70,277.31 537.84,289.14 537.98,298.98 538.12,306.32 538.25,313.72 538.39,319.68 538.53,324.70 538.67,326.38 538.81,325.51 538.95,324.07 539.09,318.51 539.23,315.49 539.37,305.91 539.51,297.76 539.65,287.56 539.79,281.29 539.93,274.75 540.07,265.07 540.21,261.12 540.35,256.97 540.48,255.25 540.62,256.73 540.76,259.29 540.90,266.89 541.04,275.06 541.18,282.72 541.32,294.97 541.46,304.29 541.60,313.15 541.74,320.11 541.88,324.99 542.02,326.64 542.16,326.99 542.30,322.36 542.44,319.53 542.58,307.41 542.71,298.75 542.85,289.15 542.99,278.43" fill="none" stroke="none" marker-start="url(#mo)" marker-mid="url(#mo)" marker-end="url(#mo)"/>
</g>
<path d="M336.3 216.0V336.5" stroke="#d4d4d4" stroke-width="0.6"/>
<path d="M336.3 216.0H543.3V336.5" stroke="#a8a8a8" stroke-width="0.9" fill="none"/>
<path d="M336.3 336.50H543.3" stroke="#9a9a9a" stroke-width="0.9"/>
<text x="318.69" y="218.30" font-size="6.4" font-weight="bold" text-anchor="start" textLength="10.21" lengthAdjust="spacingAndGlyphs"  fill="#000" font-family='"Liberation Sans", sans-serif'>32.0</text>
<text x="318.69" y="233.37" font-size="6.4" font-weight="bold" text-anchor="start" textLength="10.21" lengthAdjust="spacingAndGlyphs"  fill="#000" font-family='"Liberation Sans", sans-serif'>28.0</text>
<text x="318.69" y="248.43" font-size="6.4" font-weight="bold" text-anchor="start" textLength="10.21" lengthAdjust="spacingAndGlyphs"  fill="#000" font-family='"Liberation Sans", sans-serif'>24.0</text>
<text x="318.69" y="263.49" font-size="6.4" font-weight="bold" text-anchor="start" textLength="10.21" lengthAdjust="spacingAndGlyphs"  fill="#000" font-family='"Liberation Sans", sans-serif'>20.0</text>
<text x="318.69" y="278.55" font-size="6.4" font-weight="bold" text-anchor="start" textLength="10.21" lengthAdjust="spacingAndGlyphs"  fill="#000" font-family='"Liberation Sans", sans-serif'>16.0</text>
<text x="318.69" y="293.62" font-size="6.4" font-weight="bold" text-anchor="start" textLength="10.21" lengthAdjust="spacingAndGlyphs"  fill="#000" font-family='"Liberation Sans", sans-serif'>12.0</text>
<text x="321.61" y="308.68" font-size="6.4" font-weight="bold" text-anchor="start" textLength="7.29" lengthAdjust="spacingAndGlyphs"  fill="#000" font-family='"Liberation Sans", sans-serif'>8.0</text>
<text x="321.61" y="323.74" font-size="6.4" font-weight="bold" text-anchor="start" textLength="7.29" lengthAdjust="spacingAndGlyphs"  fill="#000" font-family='"Liberation Sans", sans-serif'>4.0</text>
<text x="321.61" y="338.80" font-size="6.4" font-weight="bold" text-anchor="start" textLength="7.29" lengthAdjust="spacingAndGlyphs"  fill="#000" font-family='"Liberation Sans", sans-serif'>0.0</text>
<text x="330.70" y="347.10" font-size="6.4" font-weight="bold" text-anchor="start" textLength="11.21" lengthAdjust="spacingAndGlyphs"  fill="#000" font-family='"Liberation Sans", sans-serif'>3/10</text>
<text x="364.15" y="347.10" font-size="6.4" font-weight="bold" text-anchor="start" textLength="11.21" lengthAdjust="spacingAndGlyphs"  fill="#000" font-family='"Liberation Sans", sans-serif'>3/15</text>
<text x="397.60" y="347.10" font-size="6.4" font-weight="bold" text-anchor="start" textLength="11.21" lengthAdjust="spacingAndGlyphs"  fill="#000" font-family='"Liberation Sans", sans-serif'>3/20</text>
<text x="431.05" y="347.10" font-size="6.4" font-weight="bold" text-anchor="start" textLength="11.21" lengthAdjust="spacingAndGlyphs"  fill="#000" font-family='"Liberation Sans", sans-serif'>3/25</text>
<text x="464.50" y="347.10" font-size="6.4" font-weight="bold" text-anchor="start" textLength="11.21" lengthAdjust="spacingAndGlyphs"  fill="#000" font-family='"Liberation Sans", sans-serif'>3/30</text>
<text x="499.55" y="347.10" font-size="6.4" font-weight="bold" text-anchor="start" textLength="8.01" lengthAdjust="spacingAndGlyphs"  fill="#000" font-family='"Liberation Sans", sans-serif'>4/4</text>
<text x="533.00" y="347.10" font-size="6.4" font-weight="bold" text-anchor="start" textLength="8.01" lengthAdjust="spacingAndGlyphs"  fill="#000" font-family='"Liberation Sans", sans-serif'>4/9</text>
<text x="389.30" y="208.90" font-size="8.8" font-weight="bold" text-anchor="start" textLength="85.00" lengthAdjust="spacingAndGlyphs"  fill="#000" font-family='"Liberation Sans", sans-serif'>Seomjin river bridge</text>
<text x="522.00" y="214.10" font-size="5.6" font-weight="bold" textLength="17.80" lengthAdjust="spacingAndGlyphs" font-family='"Liberation Sans", sans-serif'>R<tspan font-size="3.6" dy="-2">2</tspan><tspan dy="2"> 0.75</tspan></text>
<rect x="336.4" y="215.8" width="44.5" height="15.5" fill="#fff" stroke="#8c8c8c" stroke-width="0.8"/>
<circle cx="343.7" cy="224.1" r="1.0" fill="none" stroke="#f01818" stroke-width="0.6"/>
<text x="348.00" y="226.10" font-size="5.6" font-weight="bold" text-anchor="start" textLength="10.00" lengthAdjust="spacingAndGlyphs"  fill="#000" font-family='"Liberation Sans", sans-serif'>Obs.</text>
<path d="M361.8 224.1H367.5" stroke="#222" stroke-width="0.7"/>
<text x="368.00" y="226.10" font-size="5.6" font-weight="bold" text-anchor="start" textLength="10.00" lengthAdjust="spacingAndGlyphs"  fill="#000" font-family='"Liberation Sans", sans-serif'>Sim.</text>
<text transform="translate(316.40,276.00) rotate(-90)" x="0" y="0" text-anchor="middle" font-size="7.6" font-weight="bold" textLength="47.60" lengthAdjust="spacingAndGlyphs" font-family='"Liberation Sans", sans-serif'>Salinity (psu)</text>
<text x="409.70" y="356.00" font-size="8.6" font-weight="bold" text-anchor="start" textLength="60.30" lengthAdjust="spacingAndGlyphs"  fill="#000" font-family='"Liberation Sans", sans-serif'>Date (30minutes)</text>
<path d="M30.4 432.09H238.4M30.4 444.58H238.4M30.4 457.07H238.4M30.4 469.56H238.4M30.4 482.05H238.4M30.4 494.54H238.4M30.4 507.03H238.4M30.4 519.52H238.4M30.4 532.01H238.4M65.06 419.6V544.5M99.73 419.6V544.5M134.40 419.6V544.5M169.06 419.6V544.5M203.72 419.6V544.5" stroke="#e4e4e4" stroke-width="0.6" fill="none"/>
<g>
<polyline points="30.40,446.92 30.54,453.84 30.69,462.80 30.83,473.26 30.98,484.53 31.12,495.92 31.27,506.70 31.41,516.19 31.56,523.79 31.70,529.02 31.84,531.55 31.99,531.23 32.13,528.12 32.28,522.42 32.42,514.49 32.57,504.84 32.71,494.07 32.86,482.86 33.00,471.93 33.14,461.96 33.29,453.58 33.43,447.33 33.58,443.59 33.72,442.61 33.87,444.45 34.01,448.99 34.16,455.94 34.30,464.86 34.44,475.20 34.59,486.29 34.73,497.44 34.88,507.94 35.02,517.12 35.17,524.41 35.31,529.35 35.46,531.62 35.60,531.07 35.74,527.69 35.89,521.70 36.03,513.46 36.18,503.51 36.32,492.47 36.47,481.04 36.61,469.94 36.76,459.88 36.90,451.49 37.04,445.29 37.19,441.69 37.33,440.92 37.48,443.23 37.62,448.56 37.77,456.52 37.91,466.56 38.06,477.96 38.20,489.91 38.34,501.58 38.49,512.13 38.63,520.81 38.78,527.01 38.92,530.29 39.07,530.48 39.21,527.91 39.36,522.85 39.50,515.65 39.64,506.82 39.79,496.99 39.93,486.86 40.08,477.13 40.22,468.51 40.37,461.59 40.51,456.88 40.66,454.70 40.80,455.19 40.94,458.21 41.09,463.58 41.23,470.92 41.38,479.75 41.52,489.48 41.67,499.45 41.81,509.00 41.95,517.50 42.10,524.37 42.24,529.15 42.39,531.52 42.53,531.29 42.68,528.23 42.82,522.52 42.97,514.55 43.11,504.86 43.25,494.08 43.40,482.93 43.54,472.18 43.69,462.52 43.83,454.61 43.98,448.98 44.12,446.01 44.27,445.91 44.41,448.90 44.55,454.80 44.70,463.16 44.84,473.35 44.99,484.61 45.13,496.09 45.28,506.92 45.42,516.30 45.57,523.52 45.71,528.04 45.85,529.51 46.00,528.06 46.14,524.00 46.29,517.62 46.43,509.42 46.58,500.01 46.72,490.09 46.87,480.42 47.01,471.71 47.15,464.62 47.30,459.69 47.44,457.28 47.59,457.48 47.73,459.90 47.88,464.36 48.02,470.59 48.17,478.22 48.31,486.78 48.45,495.77 48.60,504.65 48.74,512.89 48.89,519.99 49.03,525.53 49.18,529.18 49.32,530.72 49.47,530.02 49.61,527.07 49.75,522.03 49.90,515.22 50.04,507.03 50.19,497.96 50.33,488.55 50.48,479.36 50.62,470.95 50.77,463.82 50.91,458.39 51.05,454.99 51.20,453.82 51.34,454.86 51.49,457.93 51.63,462.84 51.78,469.28 51.92,476.84 52.07,485.05 52.21,493.39 52.35,501.32 52.50,508.35 52.64,514.04 52.79,518.02 52.93,520.04 53.08,520.05 53.22,518.48 53.37,515.48 53.51,511.24 53.65,506.04 53.80,500.19 53.94,494.07 54.09,488.08 54.23,482.57 54.38,477.91 54.52,474.39 54.67,472.23 54.81,471.56 54.95,472.52 55.10,475.11 55.24,479.17 55.39,484.43 55.53,490.57 55.68,497.19 55.82,503.89 55.97,510.23 56.11,515.82 56.25,520.30 56.40,523.38 56.54,524.88 56.69,524.70 56.83,522.82 56.98,519.37 57.12,514.56 57.27,508.70 57.41,502.16 57.55,495.35 57.70,488.70 57.84,482.63 57.99,477.53 58.13,473.72 58.28,471.44 58.42,470.83 58.57,471.84 58.71,474.35 58.85,478.19 59.00,483.08 59.14,488.68 59.29,494.58 59.43,500.38 59.58,505.65 59.72,510.03 59.87,513.21 60.01,514.96 60.15,515.20 60.30,514.31 60.44,512.46 60.59,509.78 60.73,506.47 60.88,502.75 61.02,498.90 61.17,495.17 61.31,491.85 61.45,489.16 61.60,487.29 61.74,486.38 61.89,486.48 62.03,487.60 62.18,489.65 62.32,492.50 62.47,495.99 62.61,499.88 62.75,503.92 62.90,507.88 63.04,511.49 63.19,514.52 63.33,516.79 63.48,518.15 63.62,518.51 63.77,517.59 63.91,515.30 64.05,511.79 64.20,507.27 64.34,502.04 64.49,496.42 64.63,490.76 64.78,485.44 64.92,480.77 65.06,477.06 65.21,474.55 65.35,473.38 65.50,473.53 65.64,474.67 65.79,476.69 65.93,479.49 66.08,482.88 66.22,486.68 66.36,490.64 66.51,494.55 66.65,498.15 66.80,501.23 66.94,503.62 67.09,505.16 67.23,505.77 67.38,505.60 67.52,504.94 67.66,503.85 67.81,502.39 67.95,500.64 68.10,498.72 68.24,496.73 68.39,494.80 68.53,493.04 68.68,491.56 68.82,490.44 68.96,489.76 69.11,489.55 69.25,489.85 69.40,490.69 69.54,492.01 69.69,493.74 69.83,495.79 69.98,498.05 70.12,500.40 70.26,502.71 70.41,504.85 70.55,506.71 70.70,508.19 70.84,509.22 70.99,509.73 71.13,509.64 71.28,508.74 71.42,507.04 71.56,504.63 71.71,501.64 71.85,498.24 72.00,494.61 72.14,490.93 72.29,487.42 72.43,484.26 72.58,481.62 72.72,479.64 72.86,478.43 73.01,478.05 73.15,478.47 73.30,479.59 73.44,481.35 73.59,483.64 73.73,486.34 73.88,489.27 74.02,492.26 74.16,495.14 74.31,497.72 74.45,499.86 74.60,501.43 74.74,502.33 74.89,502.52 75.03,502.11 75.18,501.19 75.32,499.82 75.46,498.07 75.61,496.04 75.75,493.87 75.90,491.68 76.04,489.60 76.19,487.75 76.33,486.26 76.48,485.19 76.62,484.63 76.76,484.62 76.91,485.28 77.05,486.60 77.20,488.49 77.34,490.83 77.49,493.48 77.63,496.27 77.78,499.02 77.92,501.55 78.06,503.72 78.21,505.38 78.35,506.42 78.50,506.78 78.64,506.28 78.79,504.78 78.93,502.37 79.08,499.20 79.22,495.48 79.36,491.44 79.51,487.33 79.65,483.42 79.80,479.95 79.94,477.15 80.09,475.18 80.23,474.18 80.38,474.21 80.52,475.32 80.66,477.46 80.81,480.49 80.95,484.24 81.10,488.47 81.24,492.95 81.39,497.39 81.53,501.53 81.68,505.13 81.82,507.96 81.96,509.87 82.11,510.73 82.25,510.55 82.40,509.49 82.54,507.63 82.69,505.07 82.83,501.98 82.98,498.52 83.12,494.92 83.26,491.39 83.41,488.13 83.55,485.35 83.70,483.20 83.84,481.83 83.99,481.30 84.13,481.72 84.28,483.11 84.42,485.40 84.56,488.44 84.71,492.04 84.85,495.98 85.00,499.99 85.14,503.84 85.29,507.27 85.43,510.07 85.58,512.06 85.72,513.12 85.86,513.15 86.01,511.99 86.15,509.67 86.30,506.34 86.44,502.21 86.59,497.54 86.73,492.62 86.88,487.77 87.02,483.29 87.16,479.47 87.31,476.54 87.45,474.70 87.60,474.06 87.74,474.81 87.89,477.09 88.03,480.73 88.17,485.47 88.32,490.98 88.46,496.86 88.61,502.70 88.75,508.09 88.90,512.64 89.04,516.03 89.19,518.03 89.33,518.48 89.47,517.35 89.62,514.70 89.76,510.71 89.91,505.68 90.05,499.96 90.20,493.95 90.34,488.08 90.49,482.76 90.63,478.38 90.77,475.24 90.92,473.56 91.06,473.44 91.21,474.73 91.35,477.32 91.50,481.03 91.64,485.63 91.79,490.84 91.93,496.32 92.07,501.73 92.22,506.72 92.36,510.98 92.51,514.25 92.65,516.30 92.80,517.02 92.94,516.22 93.09,513.81 93.23,509.93 93.37,504.84 93.52,498.85 93.66,492.34 93.81,485.73 93.95,479.43 94.10,473.84 94.24,469.31 94.39,466.13 94.53,464.51 94.67,464.53 94.82,466.15 94.96,469.26 95.11,473.70 95.25,479.21 95.40,485.47 95.54,492.14 95.69,498.82 95.83,505.16 95.97,510.77 96.12,515.35 96.26,518.64 96.41,520.44 96.55,520.67 96.70,519.33 96.84,516.53 96.99,512.41 97.13,507.22 97.27,501.24 97.42,494.82 97.56,488.32 97.71,482.10 97.85,476.53 98.00,471.92 98.14,468.53 98.29,466.55 98.43,466.10 98.57,467.26 98.72,470.00 98.86,474.14 99.01,479.45 99.15,485.60 99.30,492.22 99.44,498.92 99.59,505.31 99.73,510.98 99.87,515.62 100.02,518.93 100.16,520.72 100.31,520.87 100.45,519.25 100.60,515.93 100.74,511.10 100.89,505.06 101.03,498.16 101.17,490.83 101.32,483.48 101.46,476.58 101.61,470.53 101.75,465.69 101.90,462.35 102.04,460.72 102.19,460.92 102.33,463.07 102.47,467.05 102.62,472.61 102.76,479.40 102.91,486.99 103.05,494.90 103.20,502.63 103.34,509.69 103.49,515.63 103.63,520.08 103.77,522.76 103.92,523.50 104.06,522.38 104.21,519.55 104.35,515.18 104.50,509.55 104.64,503.03 104.79,496.01 104.93,488.95 105.07,482.29 105.22,476.45 105.36,471.80 105.51,468.64 105.65,467.16 105.80,467.44 105.94,469.42 106.09,472.97 106.23,477.87 106.37,483.84 106.52,490.52 106.66,497.51 106.81,504.38 106.95,510.74 107.10,516.19 107.24,520.41 107.39,523.15 107.53,524.25 107.67,523.56 107.82,521.01 107.96,516.75 108.11,511.03 108.25,504.20 108.40,496.66 108.54,488.87 108.69,481.29 108.83,474.38 108.97,468.54 109.12,464.14 109.26,461.43 109.41,460.57 109.55,461.94 109.70,465.69 109.84,471.55 109.99,479.07 110.13,487.68 110.27,496.75 110.42,505.58 110.56,513.52 110.71,519.96 110.85,524.43 111.00,526.59 111.14,526.28 111.28,523.58 111.43,518.68 111.57,511.96 111.72,503.92 111.86,495.17 112.01,486.36 112.15,478.15 112.30,471.17 112.44,465.93 112.58,462.84 112.73,462.11 112.87,463.56 113.02,466.99 113.16,472.17 113.31,478.78 113.45,486.41 113.60,494.56 113.74,502.73 113.88,510.40 114.03,517.08 114.17,522.35 114.32,525.88 114.46,527.44 114.61,526.92 114.75,524.29 114.90,519.72 115.04,513.49 115.18,506.00 115.33,497.73 115.47,489.18 115.62,480.92 115.76,473.45 115.91,467.25 116.05,462.72 116.20,460.13 116.34,459.66 116.48,461.58 116.63,465.82 116.77,472.09 116.92,479.93 117.06,488.80 117.21,498.07 117.35,507.09 117.50,515.20 117.64,521.84 117.78,526.54 117.93,528.96 118.07,528.93 118.22,526.37 118.36,521.46 118.51,514.55 118.65,506.12 118.80,496.78 118.94,487.18 119.08,478.00 119.23,469.90 119.37,463.44 119.52,459.09 119.66,457.16 119.81,457.72 119.95,460.64 120.10,465.71 120.24,472.59 120.38,480.82 120.53,489.84 120.67,499.07 120.82,507.88 120.96,515.68 121.11,521.94 121.25,526.26 121.40,528.34 121.54,528.05 121.68,525.44 121.83,520.67 121.97,514.08 122.12,506.09 122.26,497.25 122.41,488.14 122.55,479.38 122.70,471.55 122.84,465.17 122.98,460.67 123.13,458.36 123.27,458.36 123.42,460.64 123.56,465.02 123.71,471.24 123.85,478.90 124.00,487.52 124.14,496.55 124.28,505.42 124.43,513.57 124.57,520.49 124.72,525.73 124.86,528.98 125.01,530.01 125.15,528.68 125.30,525.01 125.44,519.22 125.58,511.68 125.73,502.87 125.87,493.34 126.02,483.70 126.16,474.55 126.31,466.48 126.45,459.99 126.60,455.50 126.74,453.29 126.88,453.54 127.03,456.46 127.17,461.86 127.32,469.37 127.46,478.44 127.61,488.45 127.75,498.67 127.90,508.39 128.04,516.92 128.18,523.64 128.33,528.10 128.47,529.96 128.62,529.21 128.76,526.07 128.91,520.77 129.05,513.70 129.20,505.35 129.34,496.32 129.48,487.24 129.63,478.75 129.77,471.47 129.92,465.89 130.06,462.43 130.21,461.32 130.35,462.51 130.50,465.82 130.64,471.05 130.78,477.85 130.93,485.80 131.07,494.40 131.22,503.10 131.36,511.36 131.51,518.65 131.65,524.51 131.80,528.56 131.94,530.57 132.08,530.33 132.23,527.65 132.37,522.64 132.52,515.64 132.66,507.09 132.81,497.52 132.95,487.54 133.10,477.78 133.24,468.86 133.38,461.34 133.53,455.70 133.67,452.30 133.82,451.34 133.96,452.88 134.11,456.81 134.25,462.88 134.40,470.70 134.54,479.79 134.68,489.56 134.83,499.41 134.97,508.70 135.12,516.85 135.26,523.35 135.41,527.78 135.55,529.86 135.69,529.55 135.84,527.09 135.98,522.67 136.13,516.57 136.27,509.17 136.42,500.94 136.56,492.40 136.71,484.09 136.85,476.53 136.99,470.21 137.14,465.52 137.28,462.76 137.43,462.10 137.57,463.52 137.72,466.87 137.86,471.98 138.01,478.52 138.15,486.11 138.29,494.30 138.44,502.59 138.58,510.49 138.73,517.52 138.87,523.27 139.02,527.39 139.16,529.63 139.31,529.84 139.45,527.77 139.59,523.50 139.74,517.28 139.88,509.48 140.03,500.57 140.17,491.08 140.32,481.59 140.46,472.65 140.61,464.80 140.75,458.52 140.89,454.18 141.04,452.03 141.18,452.24 141.33,454.88 141.47,459.80 141.62,466.68 141.76,475.10 141.91,484.52 142.05,494.34 142.19,503.94 142.34,512.73 142.48,520.13 142.63,525.69 142.77,529.05 142.92,530.00 143.06,528.73 143.21,525.50 143.35,520.50 143.49,514.04 143.64,506.54 143.78,498.48 143.93,490.35 144.07,482.68 144.22,475.95 144.36,470.58 144.51,466.91 144.65,465.19 144.79,465.56 144.94,468.18 145.08,472.88 145.23,479.32 145.37,487.06 145.52,495.54 145.66,504.16 145.81,512.31 145.95,519.42 146.09,524.97 146.24,528.58 146.38,530.00 146.53,528.90 146.67,525.05 146.82,518.70 146.96,510.32 147.11,500.50 147.25,489.92 147.39,479.35 147.54,469.52 147.68,461.14 147.83,454.80 147.97,450.94 148.12,449.84 148.26,451.37 148.41,455.29 148.55,461.34 148.69,469.16 148.84,478.24 148.98,488.01 149.13,497.86 149.27,507.16 149.42,515.32 149.56,521.82 149.71,526.26 149.85,528.36 149.99,528.11 150.14,525.94 150.28,522.03 150.43,516.63 150.57,510.08 150.72,502.79 150.86,495.22 151.01,487.85 151.15,481.16 151.29,475.55 151.44,471.39 151.58,468.94 151.73,468.35 151.87,469.77 152.02,473.15 152.16,478.28 152.31,484.80 152.45,492.28 152.59,500.22 152.74,508.09 152.88,515.36 153.03,521.55 153.17,526.25 153.32,529.13 153.46,530.00 153.61,528.63 153.75,524.97 153.89,519.25 154.04,511.86 154.18,503.30 154.33,494.14 154.47,484.98 154.62,476.45 154.76,469.11 154.91,463.46 155.05,459.86 155.19,458.57 155.34,459.65 155.48,463.01 155.63,468.40 155.77,475.45 155.92,483.66 156.06,492.44 156.21,501.18 156.35,509.26 156.49,516.09 156.64,521.21 156.78,524.24 156.93,524.98 157.07,523.76 157.22,520.85 157.36,516.46 157.50,510.89 157.65,504.55 157.79,497.88 157.94,491.35 158.08,485.43 158.23,480.53 158.37,477.01 158.52,475.11 158.66,474.94 158.80,476.28 158.95,479.02 159.09,483.00 159.24,487.98 159.38,493.69 159.53,499.80 159.67,505.97 159.82,511.85 159.96,517.09 160.10,521.41 160.25,524.56 160.39,526.36 160.54,526.70 160.68,525.37 160.83,522.36 160.97,517.85 161.12,512.10 161.26,505.43 161.40,498.22 161.55,490.87 161.69,483.82 161.84,477.45 161.98,472.13 162.13,468.15 162.27,465.76 162.42,465.08 162.56,466.23 162.70,469.19 162.85,473.74 162.99,479.53 163.14,486.14 163.28,493.05 163.43,499.76 163.57,505.75 163.72,510.59 163.86,513.89 164.00,515.43 164.15,515.21 164.29,513.64 164.44,510.87 164.58,507.10 164.73,502.63 164.87,497.79 165.02,492.93 165.16,488.43 165.30,484.63 165.45,481.80 165.59,480.17 165.74,479.85 165.88,480.89 166.03,483.23 166.17,486.70 166.32,491.09 166.46,496.09 166.60,501.37 166.75,506.58 166.89,511.37 167.04,515.41 167.18,518.45 167.33,520.27 167.47,520.75 167.62,519.62 167.76,516.81 167.90,512.51 168.05,507.01 168.19,500.68 168.34,493.94 168.48,487.23 168.63,481.02 168.77,475.71 168.92,471.66 169.06,469.14 169.20,468.31 169.35,469.09 169.49,471.27 169.64,474.72 169.78,479.20 169.93,484.42 170.07,490.01 170.22,495.62 170.36,500.87 170.50,505.40 170.65,508.91 170.79,511.17 170.94,512.02 171.08,511.65 171.23,510.41 171.37,508.39 171.52,505.71 171.66,502.57 171.80,499.16 171.95,495.72 172.09,492.47 172.24,489.64 172.38,487.42 172.53,485.94 172.67,485.32 172.82,485.64 172.96,487.03 173.10,489.39 173.25,492.56 173.39,496.33 173.54,500.44 173.68,504.63 173.83,508.62 173.97,512.13 174.12,514.93 174.26,516.83 174.40,517.72 174.55,517.43 174.69,515.72 174.84,512.69 174.98,508.54 175.13,503.54 175.27,498.04 175.42,492.39 175.56,486.98 175.70,482.16 175.85,478.26 175.99,475.55 176.14,474.19 176.28,474.22 176.43,475.26 176.57,477.22 176.72,479.98 176.86,483.40 177.00,487.27 177.15,491.37 177.29,495.48 177.44,499.36 177.58,502.79 177.73,505.57 177.87,507.55 178.02,508.61 178.16,508.73 178.30,508.19 178.45,507.09 178.59,505.48 178.74,503.47 178.88,501.17 179.03,498.70 179.17,496.21 179.32,493.83 179.46,491.71 179.60,489.97 179.75,488.69 179.89,487.96 180.04,487.82 180.18,488.36 180.33,489.58 180.47,491.41 180.62,493.78 180.76,496.54 180.90,499.57 181.05,502.71 181.19,505.79 181.34,508.66 181.48,511.18 181.63,513.20 181.77,514.63 181.91,515.40 182.06,515.44 182.20,514.51 182.35,512.61 182.49,509.83 182.64,506.32 182.78,502.26 182.93,497.86 183.07,493.33 183.21,488.92 183.36,484.85 183.50,481.33 183.65,478.53 183.79,476.61 183.94,475.65 184.08,475.72 184.23,476.81 184.37,478.86 184.51,481.76 184.66,485.36 184.80,489.46 184.95,493.84 185.09,498.26 185.24,502.49 185.38,506.30 185.53,509.48 185.67,511.87 185.81,513.32 185.96,513.77 186.10,513.25 186.25,511.81 186.39,509.55 186.54,506.57 186.68,503.05 186.83,499.18 186.97,495.15 187.11,491.19 187.26,487.51 187.40,484.32 187.55,481.77 187.69,480.01 187.84,479.14 187.98,479.27 188.13,480.68 188.27,483.32 188.41,487.01 188.56,491.48 188.70,496.41 188.85,501.45 188.99,506.26 189.14,510.48 189.28,513.82 189.43,516.05 189.57,516.99 189.71,516.38 189.86,513.79 190.00,509.40 190.15,503.51 190.29,496.55 190.44,489.00 190.58,481.40 190.73,474.29 190.87,468.17 191.01,463.47 191.16,460.54 191.30,459.57 191.45,460.54 191.59,463.32 191.74,467.72 191.88,473.47 192.03,480.21 192.17,487.50 192.31,494.89 192.46,501.91 192.60,508.12 192.75,513.12 192.89,516.60 193.04,518.34 193.18,518.27 193.33,516.63 193.47,513.54 193.61,509.21 193.76,503.90 193.90,497.95 194.05,491.73 194.19,485.65 194.34,480.08 194.48,475.38 194.63,471.85 194.77,469.70 194.91,469.07 195.06,470.10 195.20,472.78 195.35,476.96 195.49,482.35 195.64,488.62 195.78,495.38 195.93,502.20 196.07,508.64 196.21,514.30 196.36,518.83 196.50,521.93 196.65,523.40 196.79,523.08 196.94,520.65 197.08,516.26 197.23,510.16 197.37,502.76 197.51,494.51 197.66,485.94 197.80,477.59 197.95,469.98 198.09,463.61 198.24,458.87 198.38,456.06 198.53,455.35 198.67,456.79 198.81,460.28 198.96,465.62 199.10,472.47 199.25,480.43 199.39,489.03 199.54,497.75 199.68,506.07 199.83,513.49 199.97,519.57 200.11,523.94 200.26,526.33 200.40,526.63 200.55,524.85 200.69,521.12 200.84,515.66 200.98,508.81 201.13,500.97 201.27,492.61 201.41,484.23 201.56,476.33 201.70,469.39 201.85,463.82 201.99,459.95 202.14,458.02 202.28,458.17 202.43,460.50 202.57,464.89 202.71,471.06 202.86,478.62 203.00,487.10 203.15,495.94 203.29,504.61 203.44,512.54 203.58,519.24 203.73,524.28 203.87,527.35 204.01,528.25 204.16,526.74 204.30,522.79 204.45,516.66 204.59,508.72 204.74,499.49 204.88,489.53 205.02,479.50 205.17,470.01 205.31,461.67 205.46,455.00 205.60,450.43 205.75,448.25 205.89,448.66 206.04,451.87 206.18,457.67 206.32,465.67 206.47,475.28 206.61,485.84 206.76,496.58 206.90,506.76 207.05,515.64 207.19,522.61 207.34,527.17 207.48,528.99 207.62,527.96 207.77,524.20 207.91,517.96 208.06,509.69 208.20,499.98 208.35,489.51 208.49,479.03 208.64,469.27 208.78,460.93 208.92,454.60 209.07,450.73 209.21,449.59 209.36,451.18 209.50,455.36 209.65,461.84 209.79,470.19 209.94,479.85 210.08,490.17 210.22,500.47 210.37,510.06 210.51,518.29 210.66,524.61 210.80,528.61 210.95,530.01 211.09,528.68 211.24,524.64 211.38,518.18 211.52,509.72 211.67,499.82 211.81,489.16 211.96,478.43 212.10,468.37 212.25,459.64 212.39,452.82 212.54,448.38 212.68,446.60 212.82,447.56 212.97,451.09 213.11,456.98 213.26,464.84 213.40,474.19 213.55,484.42 213.69,494.91 213.84,504.97 213.98,513.98 214.12,521.37 214.27,526.67 214.41,529.54 214.56,529.78 214.70,527.19 214.85,521.87 214.99,514.18 215.14,504.59 215.28,493.70 215.42,482.22 215.57,470.86 215.71,460.34 215.86,451.33 216.00,444.39 216.15,439.97 216.29,438.34 216.44,439.61 216.58,443.70 216.72,450.34 216.87,459.13 217.01,469.50 217.16,480.79 217.30,492.30 217.45,503.30 217.59,513.08 217.74,521.04 217.88,526.67 218.02,529.61 218.17,529.71 218.31,527.16 218.46,522.15 218.60,514.99 218.75,506.16 218.89,496.19 219.04,485.72 219.18,475.42 219.32,465.93 219.47,457.85 219.61,451.70 219.76,447.86 219.90,446.58 220.05,447.86 220.19,451.56 220.34,457.47 220.48,465.21 220.62,474.34 220.77,484.31 220.91,494.51 221.06,504.34 221.20,513.21 221.35,520.59 221.49,526.04 221.64,529.22 221.78,529.95 221.92,528.02 222.07,523.47 222.21,516.56 222.36,507.71 222.50,497.46 222.65,486.41 222.79,475.22 222.94,464.57 223.08,455.10 223.22,447.36 223.37,441.83 223.51,438.84 223.66,438.59 223.80,441.49 223.95,447.40 224.09,455.92 224.24,466.45 224.38,478.22 224.52,490.42 224.67,502.18 224.81,512.66 224.96,521.12 225.10,526.97 225.25,529.79 225.39,529.43 225.54,526.17 225.68,520.25 225.82,512.10 225.97,502.29 226.11,491.51 226.26,480.53 226.40,470.13 226.55,461.04 226.69,453.91 226.83,449.23 226.98,447.36 227.12,448.28 227.27,451.72 227.41,457.47 227.56,465.17 227.70,474.31 227.85,484.33 227.99,494.59 228.13,504.45 228.28,513.28 228.42,520.52 228.57,525.72 228.71,528.54 228.86,528.79 229.00,526.24 229.15,520.99 229.29,513.39 229.43,503.91 229.58,493.15 229.72,481.79 229.87,470.56 230.01,460.14 230.16,451.22 230.30,444.35 230.45,439.96 230.59,438.34 230.73,439.55 230.88,443.48 231.02,449.88 231.17,458.35 231.31,468.34 231.46,479.23 231.60,490.34 231.75,500.95 231.89,510.39 232.03,518.08 232.18,523.52 232.32,526.37 232.47,526.49 232.61,524.14 232.76,519.51 232.90,512.91 233.05,504.74 233.19,495.52 233.33,485.83 233.48,476.30 233.62,467.52 233.77,460.04 233.91,454.34 234.06,450.77 234.20,449.58 234.35,450.73 234.49,454.06 234.63,459.39 234.78,466.39 234.92,474.64 235.07,483.65 235.21,492.87 235.36,501.76 235.50,509.79 235.65,516.47 235.79,521.40 235.93,524.29 236.08,524.96 236.22,523.17 236.37,518.91 236.51,512.44 236.66,504.16 236.80,494.55 236.95,484.19 237.09,473.71 237.23,463.72 237.38,454.84 237.52,447.58 237.67,442.38 237.81,439.56 237.96,439.29" fill="none" stroke="#151515" stroke-width="0.6" stroke-linejoin="round"/>
<polyline points="30.40,451.57 30.54,456.88 30.69,464.73 30.83,472.84 30.98,485.84 31.12,496.61 31.27,507.31 31.41,516.46 31.56,524.85 31.70,528.02 31.84,530.00 31.99,530.85 32.13,527.40 32.28,521.55 32.42,515.63 32.57,505.97 32.71,492.87 32.86,483.77 33.00,474.02 33.14,464.85 33.29,455.16 33.43,448.05 33.58,446.38 33.72,447.55 33.87,448.80 34.01,453.84 34.16,458.57 34.30,465.34 34.44,476.81 34.59,485.79 34.73,497.03 34.88,507.40 35.02,516.70 35.17,524.18 35.31,529.10 35.46,530.59 35.60,530.55 35.74,526.16 35.89,521.32 36.03,513.37 36.18,503.06 36.32,492.88 36.47,481.52 36.61,471.05 36.76,461.31 36.90,454.84 37.04,448.11 37.19,446.54 37.33,444.54 37.48,446.08 37.62,451.77 37.77,459.52 37.91,466.82 38.06,478.25 38.20,489.45 38.34,500.91 38.49,511.90 38.63,519.34 38.78,527.23 38.92,530.30 39.07,529.38 39.21,528.95 39.36,523.69 39.50,516.15 39.64,506.03 39.79,497.03 39.93,486.53 40.08,477.37 40.22,469.90 40.37,464.34 40.51,458.60 40.66,458.16 40.80,458.92 40.94,461.40 41.09,466.93 41.23,471.21 41.38,481.68 41.52,489.85 41.67,500.30 41.81,507.92 41.95,518.17 42.10,524.48 42.24,528.46 42.39,531.39 42.53,530.68 42.68,527.25 42.82,522.20 42.97,514.87 43.11,504.15 43.25,495.06 43.40,483.98 43.54,473.59 43.69,464.73 43.83,457.08 43.98,452.64 44.12,449.90 44.27,449.31 44.41,453.59 44.55,458.97 44.70,464.06 44.84,475.79 44.99,485.10 45.13,496.45 45.28,507.50 45.42,515.29 45.57,523.51 45.71,527.75 45.85,530.13 46.00,526.62 46.14,523.86 46.29,517.78 46.43,511.21 46.58,500.60 46.72,491.74 46.87,481.56 47.01,472.82 47.15,467.52 47.30,462.38 47.44,461.50 47.59,461.17 47.73,462.95 47.88,468.15 48.02,473.06 48.17,477.58 48.31,487.24 48.45,495.92 48.60,506.47 48.74,513.45 48.89,520.08 49.03,526.02 49.18,528.37 49.32,530.16 49.47,531.16 49.61,526.58 49.75,520.68 49.90,515.19 50.04,506.70 50.19,498.51 50.33,488.34 50.48,481.07 50.62,474.16 50.77,467.11 50.91,462.04 51.05,458.79 51.20,458.24 51.34,458.21 51.49,461.90 51.63,465.06 51.78,470.18 51.92,479.75 52.07,486.33 52.21,494.00 52.35,500.62 52.50,508.30 52.64,512.89 52.79,517.05 52.93,519.83 53.08,518.44 53.22,519.47 53.37,515.01 53.51,512.26 53.65,506.30 53.80,500.67 53.94,495.03 54.09,487.82 54.23,483.65 54.38,479.85 54.52,477.76 54.67,475.61 54.81,475.25 54.95,476.82 55.10,477.77 55.24,479.97 55.39,484.60 55.53,491.93 55.68,497.09 55.82,502.81 55.97,510.31 56.11,515.75 56.25,520.04 56.40,523.80 56.54,526.17 56.69,525.33 56.83,523.58 56.98,520.36 57.12,516.66 57.27,508.39 57.41,502.31 57.55,495.66 57.70,489.72 57.84,483.00 57.99,481.01 58.13,476.62 58.28,475.98 58.42,474.58 58.57,476.41 58.71,477.76 58.85,480.95 59.00,484.13 59.14,488.74 59.29,494.99 59.43,502.62 59.58,504.92 59.72,510.88 59.87,514.62 60.01,514.46 60.15,513.65 60.30,514.66 60.44,513.55 60.59,510.60 60.73,506.94 60.88,502.33 61.02,498.84 61.17,495.44 61.31,493.60 61.45,491.39 61.60,490.29 61.74,491.36 61.89,490.01 62.03,490.94 62.18,493.05 62.32,494.80 62.47,497.26 62.61,500.12 62.75,504.98 62.90,508.01 63.04,510.71 63.19,516.22 63.33,516.72 63.48,518.85 63.62,518.88 63.77,517.72 63.91,514.73 64.05,512.00 64.20,506.52 64.34,501.27 64.49,497.24 64.63,490.57 64.78,485.65 64.92,482.42 65.06,480.20 65.21,479.04 65.35,477.71 65.50,478.08 65.64,478.60 65.79,480.66 65.93,480.98 66.08,484.04 66.22,486.72 66.36,491.74 66.51,495.47 66.65,498.40 66.80,500.14 66.94,503.27 67.09,505.17 67.23,503.15 67.38,506.52 67.52,505.77 67.66,504.30 67.81,502.99 67.95,500.87 68.10,498.82 68.24,497.45 68.39,494.38 68.53,495.40 68.68,492.86 68.82,493.45 68.96,493.24 69.11,494.02 69.25,494.21 69.40,496.17 69.54,494.57 69.69,496.32 69.83,497.56 69.98,497.98 70.12,500.03 70.26,504.59 70.41,504.54 70.55,506.24 70.70,507.55 70.84,508.50 70.99,508.99 71.13,508.18 71.28,507.65 71.42,506.51 71.56,504.66 71.71,500.37 71.85,499.16 72.00,494.71 72.14,491.22 72.29,488.88 72.43,485.54 72.58,484.73 72.72,483.71 72.86,483.06 73.01,481.47 73.15,482.52 73.30,483.56 73.44,483.76 73.59,486.07 73.73,488.16 73.88,489.61 74.02,490.97 74.16,495.91 74.31,499.36 74.45,501.78 74.60,502.22 74.74,502.83 74.89,504.25 75.03,502.08 75.18,501.14 75.32,498.62 75.46,497.83 75.61,496.02 75.75,492.80 75.90,492.61 76.04,491.24 76.19,488.08 76.33,488.73 76.48,488.36 76.62,489.07 76.76,488.67 76.91,491.36 77.05,490.08 77.20,491.38 77.34,492.26 77.49,495.34 77.63,496.52 77.78,498.54 77.92,503.05 78.06,503.35 78.21,506.95 78.35,505.81 78.50,506.64 78.64,505.39 78.79,506.87 78.93,502.58 79.08,499.00 79.22,495.58 79.36,491.51 79.51,488.54 79.65,485.13 79.80,483.30 79.94,477.89 80.09,477.23 80.23,479.28 80.38,478.89 80.52,478.17 80.66,479.71 80.81,481.33 80.95,485.11 81.10,488.28 81.24,494.20 81.39,497.76 81.53,501.98 81.68,505.21 81.82,506.79 81.96,509.47 82.11,510.39 82.25,510.56 82.40,508.96 82.54,508.34 82.69,505.46 82.83,503.11 82.98,498.97 83.12,495.67 83.26,492.51 83.41,490.27 83.55,487.49 83.70,486.33 83.84,486.54 83.99,484.76 84.13,484.67 84.28,486.50 84.42,488.67 84.56,491.24 84.71,491.78 84.85,496.85 85.00,499.56 85.14,504.26 85.29,506.99 85.43,511.12 85.58,512.99 85.72,512.99 85.86,513.42 86.01,512.18 86.15,510.28 86.30,506.10 86.44,502.46 86.59,499.30 86.73,493.10 86.88,487.04 87.02,483.36 87.16,480.77 87.31,479.91 87.45,478.24 87.60,480.24 87.74,477.21 87.89,480.69 88.03,482.12 88.17,486.29 88.32,491.93 88.46,496.49 88.61,502.02 88.75,508.04 88.90,511.74 89.04,516.51 89.19,518.02 89.33,517.24 89.47,515.37 89.62,513.11 89.76,511.04 89.91,505.74 90.05,500.53 90.20,495.36 90.34,489.52 90.49,485.09 90.63,481.80 90.77,480.08 90.92,476.82 91.06,476.94 91.21,477.93 91.35,481.06 91.50,483.64 91.64,486.04 91.79,491.08 91.93,496.41 92.07,502.23 92.22,506.83 92.36,510.82 92.51,515.19 92.65,515.62 92.80,517.57 92.94,516.64 93.09,514.91 93.23,510.04 93.37,505.58 93.52,500.02 93.66,492.57 93.81,484.49 93.95,478.91 94.10,475.54 94.24,472.19 94.39,469.39 94.53,468.96 94.67,468.59 94.82,470.69 94.96,472.35 95.11,475.21 95.25,480.63 95.40,486.06 95.54,493.41 95.69,499.05 95.83,504.60 95.97,511.20 96.12,513.92 96.26,519.15 96.41,521.22 96.55,522.02 96.70,519.57 96.84,518.10 96.99,512.66 97.13,507.62 97.27,502.32 97.42,495.59 97.56,487.28 97.71,482.88 97.85,476.38 98.00,473.54 98.14,471.71 98.29,470.80 98.43,469.73 98.57,471.88 98.72,473.25 98.86,475.76 99.01,481.68 99.15,486.27 99.30,491.99 99.44,498.84 99.59,506.76 99.73,512.68 99.87,515.48 100.02,517.97 100.16,520.71 100.31,521.75 100.45,519.75 100.60,516.31 100.74,510.87 100.89,506.95 101.03,497.40 101.17,491.78 101.32,485.23 101.46,477.42 101.61,471.53 101.75,468.22 101.90,466.46 102.04,464.39 102.19,464.26 102.33,466.37 102.47,467.83 102.62,475.58 102.76,480.54 102.91,488.65 103.05,494.26 103.20,502.84 103.34,510.56 103.49,514.89 103.63,521.14 103.77,522.02 103.92,522.47 104.06,522.50 104.21,519.70 104.35,515.49 104.50,509.00 104.64,502.87 104.79,494.19 104.93,489.68 105.07,484.33 105.22,477.86 105.36,475.53 105.51,473.39 105.65,471.32 105.80,472.65 105.94,472.28 106.09,475.50 106.23,478.46 106.37,483.97 106.52,489.63 106.66,497.79 106.81,504.55 106.95,511.65 107.10,516.37 107.24,519.62 107.39,524.22 107.53,524.28 107.67,522.91 107.82,521.60 107.96,516.08 108.11,511.93 108.25,504.63 108.40,497.46 108.54,489.82 108.69,481.64 108.83,477.57 108.97,470.24 109.12,467.11 109.26,466.20 109.41,464.40 109.55,465.98 109.70,469.63 109.84,473.33 109.99,479.65 110.13,489.54 110.27,496.86 110.42,506.90 110.56,513.02 110.71,519.90 110.85,523.46 111.00,526.76 111.14,527.29 111.28,522.38 111.43,517.61 111.57,513.22 111.72,504.26 111.86,495.11 112.01,487.40 112.15,479.78 112.30,473.09 112.44,468.78 112.58,465.48 112.73,466.77 112.87,467.10 113.02,469.06 113.16,475.28 113.31,478.92 113.45,486.50 113.60,494.44 113.74,502.80 113.88,509.23 114.03,517.30 114.17,522.76 114.32,525.90 114.46,528.87 114.61,526.04 114.75,525.83 114.90,522.08 115.04,513.75 115.18,504.97 115.33,499.97 115.47,489.17 115.62,482.92 115.76,475.30 115.91,468.82 116.05,465.36 116.20,463.68 116.34,463.88 116.48,464.21 116.63,468.11 116.77,474.07 116.92,479.37 117.06,489.33 117.21,498.36 117.35,506.49 117.50,515.27 117.64,522.67 117.78,526.54 117.93,529.36 118.07,529.11 118.22,527.64 118.36,521.56 118.51,515.90 118.65,506.72 118.80,496.80 118.94,488.22 119.08,480.44 119.23,470.90 119.37,465.68 119.52,461.77 119.66,460.17 119.81,461.70 119.95,463.56 120.10,466.91 120.24,474.66 120.38,478.67 120.53,490.76 120.67,498.45 120.82,508.42 120.96,515.77 121.11,521.10 121.25,528.77 121.40,526.54 121.54,527.00 121.68,526.79 121.83,520.94 121.97,512.94 122.12,506.77 122.26,496.13 122.41,489.61 122.55,479.39 122.70,472.78 122.84,466.35 122.98,464.32 123.13,461.28 123.27,462.03 123.42,461.42 123.56,468.72 123.71,472.55 123.85,479.15 124.00,489.25 124.14,496.53 124.28,507.66 124.43,514.49 124.57,520.40 124.72,525.75 124.86,529.84 125.01,530.74 125.15,529.65 125.30,526.32 125.44,520.26 125.58,512.21 125.73,502.67 125.87,492.79 126.02,483.85 126.16,474.99 126.31,468.75 126.45,462.58 126.60,459.73 126.74,457.88 126.88,456.20 127.03,459.38 127.17,463.84 127.32,471.28 127.46,478.35 127.61,488.06 127.75,498.93 127.90,509.92 128.04,517.49 128.18,525.18 128.33,528.67 128.47,529.68 128.62,529.67 128.76,524.65 128.91,521.34 129.05,512.42 129.20,505.91 129.34,496.56 129.48,487.67 129.63,480.96 129.77,473.95 129.92,469.77 130.06,465.63 130.21,466.27 130.35,466.19 130.50,469.32 130.64,474.72 130.78,478.71 130.93,486.92 131.07,494.07 131.22,502.83 131.36,511.40 131.51,519.66 131.65,523.68 131.80,528.40 131.94,529.46 132.08,529.33 132.23,527.35 132.37,522.93 132.52,516.56 132.66,506.87 132.81,497.87 132.95,488.53 133.10,479.10 133.24,469.71 133.38,463.68 133.53,458.05 133.67,455.48 133.82,456.01 133.96,456.49 134.11,458.71 134.25,464.70 134.40,472.70 134.54,480.61 134.68,489.99 134.83,501.05 134.97,508.18 135.12,516.21 135.26,522.26 135.41,528.18 135.55,529.36 135.69,530.39 135.84,527.64 135.98,524.33 136.13,517.67 136.27,508.85 136.42,499.71 136.56,493.03 136.71,483.45 136.85,476.58 136.99,471.72 137.14,468.70 137.28,468.59 137.43,467.09 137.57,466.81 137.72,469.94 137.86,475.28 138.01,479.60 138.15,487.39 138.29,494.78 138.44,501.26 138.58,510.71 138.73,518.18 138.87,523.22 139.02,527.62 139.16,531.11 139.31,530.16 139.45,528.97 139.59,522.38 139.74,516.60 139.88,509.44 140.03,502.74 140.17,491.08 140.32,480.08 140.46,473.17 140.61,466.23 140.75,461.48 140.89,457.95 141.04,455.51 141.18,456.23 141.33,458.15 141.47,462.84 141.62,467.06 141.76,475.43 141.91,486.38 142.05,494.30 142.19,503.59 142.34,512.50 142.48,518.33 142.63,525.10 142.77,529.71 142.92,530.17 143.06,528.70 143.21,527.26 143.35,520.18 143.49,514.71 143.64,506.44 143.78,498.63 143.93,491.38 144.07,483.93 144.22,479.12 144.36,473.73 144.51,471.00 144.65,469.15 144.79,469.40 144.94,473.24 145.08,475.21 145.23,481.19 145.37,488.58 145.52,494.87 145.66,504.54 145.81,512.15 145.95,518.47 146.09,524.15 146.24,530.30 146.38,530.20 146.53,528.35 146.67,524.62 146.82,519.10 146.96,509.97 147.11,500.59 147.25,487.78 147.39,481.02 147.54,470.65 147.68,462.45 147.83,457.12 147.97,454.93 148.12,454.04 148.26,455.01 148.41,459.61 148.55,463.51 148.69,471.76 148.84,478.28 148.98,488.77 149.13,498.48 149.27,506.26 149.42,515.79 149.56,520.38 149.71,526.59 149.85,526.82 149.99,527.50 150.14,526.76 150.28,521.87 150.43,516.57 150.57,512.09 150.72,502.64 150.86,495.71 151.01,488.71 151.15,481.83 151.29,478.59 151.44,474.03 151.58,471.85 151.73,472.45 151.87,472.50 152.02,474.96 152.16,478.02 152.31,485.40 152.45,494.71 152.59,501.71 152.74,508.54 152.88,515.53 153.03,521.44 153.17,526.00 153.32,529.31 153.46,530.69 153.61,528.91 153.75,525.03 153.89,519.34 154.04,512.05 154.18,503.46 154.33,495.42 154.47,485.04 154.62,479.06 154.76,472.39 154.91,465.70 155.05,462.58 155.19,463.04 155.34,462.82 155.48,466.28 155.63,470.48 155.77,477.46 155.92,484.55 156.06,492.66 156.21,502.09 156.35,509.29 156.49,514.50 156.64,520.99 156.78,525.40 156.93,525.36 157.07,523.99 157.22,520.53 157.36,516.75 157.50,512.43 157.65,504.22 157.79,496.93 157.94,491.55 158.08,487.17 158.23,482.13 158.37,481.58 158.52,478.72 158.66,477.83 158.80,479.10 158.95,481.65 159.09,484.88 159.24,489.99 159.38,495.59 159.53,499.29 159.67,506.23 159.82,510.38 159.96,516.72 160.10,520.48 160.25,523.39 160.39,526.34 160.54,526.76 160.68,526.05 160.83,523.91 160.97,518.75 161.12,511.87 161.26,504.45 161.40,498.99 161.55,491.52 161.69,484.87 161.84,478.69 161.98,474.55 162.13,472.07 162.27,469.48 162.42,469.68 162.56,471.14 162.70,471.82 162.85,475.75 162.99,481.66 163.14,486.75 163.28,492.54 163.43,500.64 163.57,506.02 163.72,512.15 163.86,513.18 164.00,516.13 164.15,515.20 164.29,514.16 164.44,512.11 164.58,507.47 164.73,502.35 164.87,498.36 165.02,493.62 165.16,489.31 165.30,485.15 165.45,485.13 165.59,482.71 165.74,483.56 165.88,483.97 166.03,484.81 166.17,488.31 166.32,490.53 166.46,496.39 166.60,501.44 166.75,506.98 166.89,511.12 167.04,516.22 167.18,517.51 167.33,521.38 167.47,519.27 167.62,520.54 167.76,518.74 167.90,512.54 168.05,506.94 168.19,499.62 168.34,496.06 168.48,487.25 168.63,481.32 168.77,477.42 168.92,474.65 169.06,473.85 169.20,473.25 169.35,475.44 169.49,473.83 169.64,476.48 169.78,480.45 169.93,484.79 170.07,491.78 170.22,494.79 170.36,501.15 170.50,506.31 170.65,509.16 170.79,510.97 170.94,512.69 171.08,511.73 171.23,511.05 171.37,508.26 171.52,505.93 171.66,502.83 171.80,497.33 171.95,496.28 172.09,494.27 172.24,492.89 172.38,489.96 172.53,489.88 172.67,489.23 172.82,489.88 172.96,490.48 173.10,493.48 173.25,494.11 173.39,497.48 173.54,502.71 173.68,504.81 173.83,508.25 173.97,512.83 174.12,514.99 174.26,516.07 174.40,518.78 174.55,516.64 174.69,515.08 174.84,513.42 174.98,507.89 175.13,504.94 175.27,497.79 175.42,492.93 175.56,488.67 175.70,484.20 175.85,481.58 175.99,478.22 176.14,478.85 176.28,476.90 176.43,479.23 176.57,479.72 176.72,481.03 176.86,485.52 177.00,488.71 177.15,490.05 177.29,495.57 177.44,499.42 177.58,502.64 177.73,506.89 177.87,507.49 178.02,508.89 178.16,509.36 178.30,508.04 178.45,507.08 178.59,504.81 178.74,503.53 178.88,502.32 179.03,499.05 179.17,497.82 179.32,494.74 179.46,492.50 179.60,492.46 179.75,491.06 179.89,491.25 180.04,491.81 180.18,491.15 180.33,494.01 180.47,494.13 180.62,495.33 180.76,497.87 180.90,500.23 181.05,500.91 181.19,505.61 181.34,510.25 181.48,508.17 181.63,514.07 181.77,514.64 181.91,515.54 182.06,516.92 182.20,516.16 182.35,512.39 182.49,510.40 182.64,504.97 182.78,503.47 182.93,498.26 183.07,493.77 183.21,489.55 183.36,485.51 183.50,484.09 183.65,480.87 183.79,479.81 183.94,480.41 184.08,478.90 184.23,478.88 184.37,482.25 184.51,484.33 184.66,486.29 184.80,489.22 184.95,495.20 185.09,497.26 185.24,503.54 185.38,505.89 185.53,510.43 185.67,510.06 185.81,513.86 185.96,516.07 186.10,514.18 186.25,512.55 186.39,508.51 186.54,505.92 186.68,501.77 186.83,498.92 186.97,496.32 187.11,491.87 187.26,488.64 187.40,487.62 187.55,484.51 187.69,484.28 187.84,481.37 187.98,483.88 188.13,483.13 188.27,485.32 188.41,489.70 188.56,492.69 188.70,497.36 188.85,500.84 188.99,505.90 189.14,510.20 189.28,513.27 189.43,515.47 189.57,517.34 189.71,515.64 189.86,513.89 190.00,509.57 190.15,503.39 190.29,496.67 190.44,489.91 190.58,482.01 190.73,476.04 190.87,469.36 191.01,466.60 191.16,465.96 191.30,463.27 191.45,464.35 191.59,465.15 191.74,469.97 191.88,475.04 192.03,480.48 192.17,488.22 192.31,495.79 192.46,501.65 192.60,508.23 192.75,511.70 192.89,515.49 193.04,518.94 193.18,517.88 193.33,517.80 193.47,513.83 193.61,509.62 193.76,503.92 193.90,499.54 194.05,490.90 194.19,485.47 194.34,480.33 194.48,478.66 194.63,475.66 194.77,473.34 194.91,473.56 195.06,474.62 195.20,475.89 195.35,478.48 195.49,482.62 195.64,490.08 195.78,495.00 195.93,500.69 196.07,507.98 196.21,513.99 196.36,519.52 196.50,520.48 196.65,521.95 196.79,523.44 196.94,519.12 197.08,515.34 197.23,510.66 197.37,504.33 197.51,494.43 197.66,485.96 197.80,477.57 197.95,472.90 198.09,465.54 198.24,463.31 198.38,458.90 198.53,457.70 198.67,458.87 198.81,463.41 198.96,467.80 199.10,474.67 199.25,482.10 199.39,488.60 199.54,498.21 199.68,505.49 199.83,513.60 199.97,518.88 200.11,523.98 200.26,526.45 200.40,527.48 200.55,525.29 200.69,521.22 200.84,515.29 200.98,510.74 201.13,500.38 201.27,492.86 201.41,485.20 201.56,476.99 201.70,470.36 201.85,467.14 201.99,463.53 202.14,462.13 202.28,462.75 202.43,462.74 202.57,468.09 202.71,471.28 202.86,479.84 203.00,487.43 203.15,496.24 203.29,504.74 203.44,513.46 203.58,518.17 203.73,523.74 203.87,526.92 204.01,529.16 204.16,528.06 204.30,523.37 204.45,516.08 204.59,508.37 204.74,499.64 204.88,489.80 205.02,480.34 205.17,471.45 205.31,463.10 205.46,458.29 205.60,451.84 205.75,451.92 205.89,451.05 206.04,456.05 206.18,458.47 206.32,465.37 206.47,476.82 206.61,486.55 206.76,498.10 206.90,506.14 207.05,516.73 207.19,522.84 207.34,527.70 207.48,529.52 207.62,527.78 207.77,525.16 207.91,518.06 208.06,509.13 208.20,499.60 208.35,489.32 208.49,480.83 208.64,468.78 208.78,463.10 208.92,457.42 209.07,453.95 209.21,452.92 209.36,453.14 209.50,458.10 209.65,463.30 209.79,470.49 209.94,479.90 210.08,488.97 210.22,500.41 210.37,510.66 210.51,518.13 210.66,524.37 210.80,530.71 210.95,530.56 211.09,529.42 211.24,525.34 211.38,517.39 211.52,510.20 211.67,500.05 211.81,491.35 211.96,480.39 212.10,470.17 212.25,461.97 212.39,456.22 212.54,450.63 212.68,449.97 212.82,451.29 212.97,455.12 213.11,460.06 213.26,466.57 213.40,476.93 213.55,485.92 213.69,495.99 213.84,504.11 213.98,513.28 214.12,521.81 214.27,526.55 214.41,530.52 214.56,529.37 214.70,528.04 214.85,522.41 214.99,514.85 215.14,504.24 215.28,493.93 215.42,483.14 215.57,470.42 215.71,461.80 215.86,455.10 216.00,447.53 216.15,444.07 216.29,443.41 216.44,444.48 216.58,446.72 216.72,452.89 216.87,459.95 217.01,471.10 217.16,480.90 217.30,491.15 217.45,502.45 217.59,512.83 217.74,523.03 217.88,527.15 218.02,531.00 218.17,528.69 218.31,525.67 218.46,523.39 218.60,514.25 218.75,507.27 218.89,496.59 219.04,487.44 219.18,476.22 219.32,467.98 219.47,459.96 219.61,455.00 219.76,451.65 219.90,450.63 220.05,450.44 220.19,454.53 220.34,460.36 220.48,464.73 220.62,475.24 220.77,484.14 220.91,494.46 221.06,503.66 221.20,513.92 221.35,520.29 221.49,527.70 221.64,528.50 221.78,529.69 221.92,527.03 222.07,523.93 222.21,516.64 222.36,508.42 222.50,497.92 222.65,486.72 222.79,476.68 222.94,464.74 223.08,458.79 223.22,449.70 223.37,446.18 223.51,443.08 223.66,442.01 223.80,443.84 223.95,450.94 224.09,458.45 224.24,467.74 224.38,478.28 224.52,490.57 224.67,502.05 224.81,512.95 224.96,520.25 225.10,525.76 225.25,530.72 225.39,530.63 225.54,526.04 225.68,521.36 225.82,512.63 225.97,502.46 226.11,491.85 226.26,480.77 226.40,471.31 226.55,462.54 226.69,456.28 226.83,452.72 226.98,450.19 227.12,453.14 227.27,454.56 227.41,459.88 227.56,467.38 227.70,474.61 227.85,485.59 227.99,494.08 228.13,503.03 228.28,513.43 228.42,518.62 228.57,525.36 228.71,529.62 228.86,527.91 229.00,525.95 229.15,521.70 229.29,513.40 229.43,503.01 229.58,492.85 229.72,482.43 229.87,470.95 230.01,462.01 230.16,453.32 230.30,447.49 230.45,443.43 230.59,442.21 230.73,443.89 230.88,445.77 231.02,452.25 231.17,458.89 231.31,469.14 231.46,478.99 231.60,489.21 231.75,501.12 231.89,510.70 232.03,519.65 232.18,524.39 232.32,526.56 232.47,525.69 232.61,523.77 232.76,519.48 232.90,513.42 233.05,505.15 233.19,494.50 233.33,485.80 233.48,477.02 233.62,468.41 233.77,463.24 233.91,455.99 234.06,453.98 234.20,453.01 234.35,455.32 234.49,455.74 234.63,462.23 234.78,469.01 234.92,475.82 235.07,484.03 235.21,492.93 235.36,500.60 235.50,510.35 235.65,516.51 235.79,520.83 235.93,524.15 236.08,525.30 236.22,522.78 236.37,519.51 236.51,513.23 236.66,502.72 236.80,492.27 236.95,483.34 237.09,474.39 237.23,465.18 237.38,456.21 237.52,449.98 237.67,445.50 237.81,443.30 237.96,440.95" fill="none" stroke="none" marker-start="url(#mo)" marker-mid="url(#mo)" marker-end="url(#mo)"/>
</g>
<path d="M30.4 419.6V544.5" stroke="#d4d4d4" stroke-width="0.6"/>
<path d="M30.4 419.6H238.4V544.5" stroke="#a8a8a8" stroke-width="0.9" fill="none"/>
<path d="M30.4 544.50H238.4" stroke="#9a9a9a" stroke-width="0.9"/>
<text x="16.52" y="422.05" font-size="6.8" font-weight="bold" text-anchor="start" textLength="8.88" lengthAdjust="spacingAndGlyphs"  fill="#000" font-family='"Liberation Sans", sans-serif'>3.0</text>
<text x="16.52" y="434.54" font-size="6.8" font-weight="bold" text-anchor="start" textLength="8.88" lengthAdjust="spacingAndGlyphs"  fill="#000" font-family='"Liberation Sans", sans-serif'>2.5</text>
<text x="16.52" y="447.03" font-size="6.8" font-weight="bold" text-anchor="start" textLength="8.88" lengthAdjust="spacingAndGlyphs"  fill="#000" font-family='"Liberation Sans", sans-serif'>2.0</text>
<text x="16.52" y="459.52" font-size="6.8" font-weight="bold" text-anchor="start" textLength="8.88" lengthAdjust="spacingAndGlyphs"  fill="#000" font-family='"Liberation Sans", sans-serif'>1.5</text>
<text x="16.52" y="472.01" font-size="6.8" font-weight="bold" text-anchor="start" textLength="8.88" lengthAdjust="spacingAndGlyphs"  fill="#000" font-family='"Liberation Sans", sans-serif'>1.0</text>
<text x="16.52" y="484.50" font-size="6.8" font-weight="bold" text-anchor="start" textLength="8.88" lengthAdjust="spacingAndGlyphs"  fill="#000" font-family='"Liberation Sans", sans-serif'>0.5</text>
<text x="16.52" y="496.99" font-size="6.8" font-weight="bold" text-anchor="start" textLength="8.88" lengthAdjust="spacingAndGlyphs"  fill="#000" font-family='"Liberation Sans", sans-serif'>0.0</text>
<text x="14.39" y="509.48" font-size="6.8" font-weight="bold" text-anchor="start" textLength="11.01" lengthAdjust="spacingAndGlyphs"  fill="#000" font-family='"Liberation Sans", sans-serif'>-0.5</text>
<text x="14.39" y="521.97" font-size="6.8" font-weight="bold" text-anchor="start" textLength="11.01" lengthAdjust="spacingAndGlyphs"  fill="#000" font-family='"Liberation Sans", sans-serif'>-1.0</text>
<text x="14.39" y="534.46" font-size="6.8" font-weight="bold" text-anchor="start" textLength="11.01" lengthAdjust="spacingAndGlyphs"  fill="#000" font-family='"Liberation Sans", sans-serif'>-1.5</text>
<text x="14.39" y="546.95" font-size="6.8" font-weight="bold" text-anchor="start" textLength="11.01" lengthAdjust="spacingAndGlyphs"  fill="#000" font-family='"Liberation Sans", sans-serif'>-2.0</text>
<text x="26.05" y="555.75" font-size="6.8" font-weight="bold" text-anchor="start" textLength="8.70" lengthAdjust="spacingAndGlyphs"  fill="#000" font-family='"Liberation Sans", sans-serif'>4/9</text>
<text x="58.98" y="555.75" font-size="6.8" font-weight="bold" text-anchor="start" textLength="12.17" lengthAdjust="spacingAndGlyphs"  fill="#000" font-family='"Liberation Sans", sans-serif'>4/14</text>
<text x="93.64" y="555.75" font-size="6.8" font-weight="bold" text-anchor="start" textLength="12.17" lengthAdjust="spacingAndGlyphs"  fill="#000" font-family='"Liberation Sans", sans-serif'>4/19</text>
<text x="128.31" y="555.75" font-size="6.8" font-weight="bold" text-anchor="start" textLength="12.17" lengthAdjust="spacingAndGlyphs"  fill="#000" font-family='"Liberation Sans", sans-serif'>4/24</text>
<text x="162.97" y="555.75" font-size="6.8" font-weight="bold" text-anchor="start" textLength="12.17" lengthAdjust="spacingAndGlyphs"  fill="#000" font-family='"Liberation Sans", sans-serif'>4/29</text>
<text x="199.38" y="555.75" font-size="6.8" font-weight="bold" text-anchor="start" textLength="8.70" lengthAdjust="spacingAndGlyphs"  fill="#000" font-family='"Liberation Sans", sans-serif'>5/4</text>
<text x="234.04" y="555.75" font-size="6.8" font-weight="bold" text-anchor="start" textLength="8.70" lengthAdjust="spacingAndGlyphs"  fill="#000" font-family='"Liberation Sans", sans-serif'>5/9</text>
<text x="110.00" y="416.40" font-size="8.8" font-weight="bold" text-anchor="start" textLength="33.10" lengthAdjust="spacingAndGlyphs"  fill="#000" font-family='"Liberation Sans", sans-serif'>Hadong</text>
<text x="219.00" y="417.60" font-size="5.6" font-weight="bold" textLength="17.70" lengthAdjust="spacingAndGlyphs" font-family='"Liberation Sans", sans-serif'>R<tspan font-size="3.6" dy="-2">2</tspan><tspan dy="2"> 0.96</tspan></text>
<rect x="184.1" y="419.8" width="53.8" height="11.4" fill="#fff" stroke="#8c8c8c" stroke-width="0.8"/>
<circle cx="194.4" cy="426.3" r="1.0" fill="none" stroke="#f01818" stroke-width="0.6"/>
<text x="198.30" y="428.30" font-size="5.6" font-weight="bold" text-anchor="start" textLength="9.50" lengthAdjust="spacingAndGlyphs"  fill="#000" font-family='"Liberation Sans", sans-serif'>Obs.</text>
<path d="M214.3 426.3H220.8" stroke="#222" stroke-width="0.7"/>
<text x="221.00" y="428.30" font-size="5.6" font-weight="bold" text-anchor="start" textLength="9.80" lengthAdjust="spacingAndGlyphs"  fill="#000" font-family='"Liberation Sans", sans-serif'>Sim.</text>
<text transform="translate(12.70,481.00) rotate(-90)" x="0" y="0" text-anchor="middle" font-size="7.79" font-weight="bold" textLength="79.20" lengthAdjust="spacingAndGlyphs" font-family='"Liberation Sans", sans-serif'>Water Level (EL. m)</text>
<text x="100.00" y="562.00" font-size="8.8" font-weight="bold" text-anchor="start" textLength="68.00" lengthAdjust="spacingAndGlyphs"  fill="#000" font-family='"Liberation Sans", sans-serif'>Date (30minutes)</text>
<path d="M334.5 431.73H541.8M334.5 442.17H541.8M334.5 452.60H541.8M334.5 463.03H541.8M334.5 473.47H541.8M334.5 483.90H541.8M334.5 494.33H541.8M334.5 504.77H541.8M334.5 515.20H541.8M334.5 525.63H541.8M334.5 536.07H541.8M369.05 421.3V546.5M403.60 421.3V546.5M438.15 421.3V546.5M472.70 421.3V546.5M507.25 421.3V546.5" stroke="#e4e4e4" stroke-width="0.6" fill="none"/>
<g>
<polyline points="334.50,453.17 334.64,455.93 334.79,460.82 334.93,467.53 335.08,475.64 335.22,484.65 335.36,493.98 335.51,503.06 335.65,511.30 335.80,518.20 335.94,523.31 336.08,526.33 336.23,527.05 336.37,525.31 336.52,521.16 336.66,514.86 336.80,506.81 336.95,497.51 337.09,487.54 337.24,477.53 337.38,468.12 337.52,459.89 337.67,453.35 337.81,448.92 337.95,446.88 338.10,447.44 338.24,450.82 338.39,456.80 338.53,464.95 338.67,474.71 338.82,485.39 338.96,496.24 339.11,506.49 339.25,515.42 339.39,522.40 339.54,526.95 339.68,528.74 339.83,527.63 339.97,523.69 340.11,517.17 340.26,508.55 340.40,498.43 340.55,487.53 340.69,476.60 340.83,466.42 340.98,457.71 341.12,451.07 341.27,446.98 341.41,445.72 341.55,447.07 341.70,450.72 341.84,456.43 341.99,463.85 342.13,472.50 342.27,481.85 342.42,491.31 342.56,500.29 342.71,508.21 342.85,514.59 342.99,519.03 343.14,521.23 343.28,521.12 343.43,518.92 343.57,514.78 343.71,508.97 343.86,501.86 344.00,493.89 344.15,485.55 344.29,477.39 344.43,469.90 344.58,463.56 344.72,458.76 344.87,455.81 345.01,454.90 345.15,456.12 345.30,459.43 345.44,464.62 345.58,471.37 345.73,479.26 345.87,487.79 346.02,496.41 346.16,504.60 346.30,511.84 346.45,517.67 346.59,521.72 346.74,523.75 346.88,523.60 347.02,521.17 347.17,516.59 347.31,510.16 347.46,502.27 347.60,493.43 347.74,484.19 347.89,475.12 348.03,466.80 348.18,459.75 348.32,454.42 348.46,451.13 348.61,450.10 348.75,451.35 348.90,454.76 349.04,460.10 349.18,466.99 349.33,474.95 349.47,483.41 349.62,491.78 349.76,499.47 349.90,505.94 350.05,510.73 350.19,513.51 350.34,514.10 350.48,512.66 350.62,509.38 350.77,504.51 350.91,498.37 351.06,491.41 351.20,484.11 351.34,476.99 351.49,470.54 351.63,465.23 351.77,461.42 351.92,459.38 352.06,459.22 352.21,460.65 352.35,463.55 352.49,467.74 352.64,473.02 352.78,479.09 352.93,485.62 353.07,492.28 353.21,498.71 353.36,504.55 353.50,509.50 353.65,513.29 353.79,515.71 353.93,516.65 354.08,516.02 354.22,513.82 354.37,510.15 354.51,505.23 354.65,499.31 354.80,492.71 354.94,485.79 355.09,478.90 355.23,472.43 355.37,466.72 355.52,462.08 355.66,458.75 355.81,456.91 355.95,456.68 356.09,458.28 356.24,461.65 356.38,466.52 356.53,472.50 356.67,479.13 356.81,485.87 356.96,492.18 357.10,497.58 357.25,501.62 357.39,503.99 357.53,504.52 357.68,503.51 357.82,501.19 357.97,497.74 358.11,493.45 358.25,488.64 358.40,483.71 358.54,479.04 358.69,475.01 358.83,471.93 358.97,470.04 359.12,469.51 359.26,470.20 359.40,471.98 359.55,474.74 359.69,478.33 359.84,482.55 359.98,487.15 360.12,491.88 360.27,496.47 360.41,500.67 360.56,504.23 360.70,506.96 360.84,508.70 360.99,509.35 361.13,508.84 361.28,507.11 361.42,504.28 361.56,500.50 361.71,495.98 361.85,490.98 362.00,485.78 362.14,480.68 362.28,475.95 362.43,471.88 362.57,468.68 362.72,466.55 362.86,465.59 363.00,465.82 363.15,467.12 363.29,469.40 363.44,472.50 363.58,476.22 363.72,480.31 363.87,484.50 364.01,488.52 364.16,492.08 364.30,494.97 364.44,496.98 364.59,497.99 364.73,497.98 364.88,497.23 365.02,495.84 365.16,493.88 365.31,491.51 365.45,488.86 365.60,486.11 365.74,483.46 365.88,481.07 366.03,479.10 366.17,477.69 366.31,476.93 366.46,476.87 366.60,477.53 366.75,478.89 366.89,480.87 367.03,483.35 367.18,486.20 367.32,489.25 367.47,492.34 367.61,495.29 367.75,497.93 367.90,500.12 368.04,501.72 368.19,502.66 368.33,502.87 368.47,502.24 368.62,500.74 368.76,498.48 368.91,495.57 369.05,492.18 369.19,488.50 369.34,484.73 369.48,481.10 369.63,477.80 369.77,475.02 369.91,472.91 370.06,471.61 370.20,471.17 370.35,471.52 370.49,472.51 370.63,474.08 370.78,476.14 370.92,478.54 371.07,481.12 371.21,483.71 371.35,486.14 371.50,488.25 371.64,489.90 371.79,490.97 371.93,491.40 372.07,491.29 372.22,490.86 372.36,490.14 372.50,489.17 372.65,488.03 372.79,486.79 372.94,485.53 373.08,484.33 373.22,483.28 373.37,482.45 373.51,481.88 373.66,481.62 373.80,481.71 373.94,482.24 374.09,483.16 374.23,484.45 374.38,486.01 374.52,487.77 374.66,489.62 374.81,491.45 374.95,493.18 375.10,494.69 375.24,495.91 375.38,496.76 375.53,497.20 375.67,497.17 375.82,496.46 375.96,495.08 376.10,493.12 376.25,490.68 376.39,487.89 376.54,484.93 376.68,481.94 376.82,479.11 376.97,476.59 377.11,474.52 377.26,473.02 377.40,472.18 377.54,472.04 377.69,472.60 377.83,473.82 377.98,475.62 378.12,477.88 378.26,480.45 378.41,483.15 378.55,485.82 378.70,488.27 378.84,490.34 378.98,491.89 379.13,492.83 379.27,493.08 379.42,492.78 379.56,492.05 379.70,490.93 379.85,489.49 379.99,487.84 380.13,486.07 380.28,484.32 380.42,482.69 380.57,481.29 380.71,480.22 380.85,479.54 381.00,479.31 381.14,479.53 381.29,480.21 381.43,481.28 381.57,482.71 381.72,484.41 381.86,486.27 382.01,488.20 382.15,490.09 382.29,491.83 382.44,493.33 382.58,494.49 382.73,495.25 382.87,495.58 383.01,495.35 383.16,494.38 383.30,492.72 383.45,490.47 383.59,487.74 383.73,484.70 383.88,481.51 384.02,478.36 384.17,475.42 384.31,472.86 384.45,470.82 384.60,469.41 384.74,468.73 384.89,468.82 385.03,469.76 385.17,471.51 385.32,473.95 385.46,476.93 385.61,480.26 385.75,483.73 385.89,487.13 386.04,490.24 386.18,492.87 386.32,494.85 386.47,496.06 386.61,496.42 386.76,496.04 386.90,495.04 387.04,493.49 387.19,491.48 387.33,489.14 387.48,486.61 387.62,484.06 387.76,481.64 387.91,479.51 388.05,477.79 388.20,476.61 388.34,476.03 388.48,476.09 388.63,476.82 388.77,478.19 388.92,480.11 389.06,482.46 389.20,485.11 389.35,487.90 389.49,490.66 389.64,493.23 389.78,495.46 389.92,497.21 390.07,498.38 390.21,498.90 390.36,498.67 390.50,497.55 390.64,495.58 390.79,492.88 390.93,489.62 391.08,485.99 391.22,482.20 391.36,478.49 391.51,475.06 391.65,472.13 391.80,469.87 391.94,468.41 392.08,467.84 392.23,468.24 392.37,469.67 392.52,472.03 392.66,475.17 392.80,478.90 392.95,482.99 393.09,487.17 393.24,491.18 393.38,494.78 393.52,497.73 393.67,499.86 393.81,501.02 393.95,501.15 394.10,500.32 394.24,498.61 394.39,496.12 394.53,493.00 394.67,489.46 394.82,485.71 394.96,481.99 395.11,478.54 395.25,475.56 395.39,473.26 395.54,471.77 395.68,471.18 395.83,471.58 395.97,473.00 396.11,475.36 396.26,478.49 396.40,482.19 396.55,486.21 396.69,490.28 396.83,494.14 396.98,497.53 397.12,500.22 397.27,502.03 397.41,502.85 397.55,502.54 397.70,500.95 397.84,498.16 397.99,494.36 398.13,489.81 398.27,484.80 398.42,479.67 398.56,474.75 398.71,470.39 398.85,466.85 398.99,464.39 399.14,463.16 399.28,463.25 399.43,464.65 399.57,467.28 399.71,470.99 399.86,475.55 400.00,480.70 400.14,486.12 400.29,491.50 400.43,496.51 400.58,500.86 400.72,504.29 400.86,506.59 401.01,507.63 401.15,507.34 401.30,505.69 401.44,502.78 401.58,498.78 401.73,493.94 401.87,488.54 402.02,482.90 402.16,477.35 402.30,472.24 402.45,467.85 402.59,464.45 402.74,462.25 402.88,461.38 403.02,461.92 403.17,463.91 403.31,467.23 403.46,471.64 403.60,476.86 403.74,482.55 403.89,488.31 404.03,493.78 404.18,498.58 404.32,502.40 404.46,504.99 404.61,506.16 404.75,505.84 404.90,503.97 405.04,500.69 405.18,496.21 405.33,490.83 405.47,484.91 405.62,478.84 405.76,473.02 405.90,467.84 406.05,463.64 406.19,460.71 406.34,459.23 406.48,459.33 406.62,461.13 406.77,464.51 406.91,469.26 407.06,475.05 407.20,481.51 407.34,488.21 407.49,494.69 407.63,500.54 407.77,505.35 407.92,508.82 408.06,510.71 408.21,510.90 408.35,509.46 408.49,506.50 408.64,502.22 408.78,496.91 408.93,490.91 409.07,484.62 409.21,478.47 409.36,472.86 409.50,468.16 409.65,464.69 409.79,462.67 409.93,462.24 410.08,463.42 410.22,466.10 410.37,470.12 410.51,475.21 410.65,481.02 410.80,487.18 410.94,493.28 411.09,498.90 411.23,503.68 411.37,507.30 411.52,509.52 411.66,510.19 411.81,509.22 411.95,506.64 412.09,502.63 412.24,497.46 412.38,491.46 412.53,485.03 412.67,478.60 412.81,472.61 412.96,467.43 413.10,463.43 413.25,460.87 413.39,459.91 413.53,460.63 413.68,463.01 413.82,466.90 413.97,472.06 414.11,478.15 414.25,484.80 414.40,491.59 414.54,498.10 414.68,503.91 414.83,508.66 414.97,512.05 415.12,513.87 415.26,514.00 415.40,512.38 415.55,509.10 415.69,504.37 415.84,498.49 415.98,491.82 416.12,484.79 416.27,477.83 416.41,471.38 416.56,465.85 416.70,461.59 416.84,458.85 416.99,457.82 417.13,458.64 417.28,461.35 417.42,465.76 417.56,471.57 417.71,478.37 417.85,485.67 418.00,492.96 418.14,499.73 418.28,505.51 418.43,509.88 418.57,512.55 418.72,513.31 418.86,512.16 419.00,509.20 419.15,504.63 419.29,498.78 419.44,492.06 419.58,484.94 419.72,477.93 419.87,471.51 420.01,466.14 420.16,462.19 420.30,459.95 420.44,459.57 420.59,461.02 420.73,464.19 420.88,468.90 421.02,474.83 421.16,481.62 421.31,488.84 421.45,496.04 421.59,502.76 421.74,508.59 421.88,513.16 422.03,516.18 422.17,517.46 422.31,516.87 422.46,514.36 422.60,510.08 422.75,504.31 422.89,497.39 423.03,489.77 423.18,481.93 423.32,474.35 423.47,467.52 423.61,461.86 423.75,457.73 423.90,455.39 424.04,454.98 424.19,456.49 424.33,459.81 424.47,464.74 424.62,470.96 424.76,478.09 424.91,485.67 425.05,493.23 425.19,500.30 425.34,506.44 425.48,511.24 425.63,514.43 425.77,515.78 425.91,515.27 426.06,513.01 426.20,509.14 426.35,503.91 426.49,497.65 426.63,490.74 426.78,483.63 426.92,476.76 427.07,470.56 427.21,465.42 427.35,461.66 427.50,459.53 427.64,459.14 427.79,460.53 427.93,463.62 428.07,468.22 428.22,474.05 428.36,480.77 428.50,487.98 428.65,495.26 428.79,502.16 428.94,508.28 429.08,513.26 429.22,516.79 429.37,518.67 429.51,518.77 429.66,516.96 429.80,513.31 429.94,508.04 430.09,501.47 430.23,493.98 430.38,486.02 430.52,478.07 430.66,470.59 430.81,464.04 430.95,458.80 431.10,455.18 431.24,453.40 431.38,453.64 431.53,456.27 431.67,461.10 431.82,467.76 431.96,475.71 432.10,484.34 432.25,492.94 432.39,500.84 432.54,507.42 432.68,512.14 432.82,514.64 432.97,514.75 433.11,512.62 433.26,508.45 433.40,502.59 433.54,495.50 433.69,487.73 433.83,479.90 433.98,472.65 434.12,466.53 434.26,462.04 434.41,459.53 434.55,459.19 434.69,460.79 434.84,464.16 434.98,469.09 435.13,475.27 435.27,482.32 435.41,489.79 435.56,497.20 435.70,504.11 435.85,510.06 435.99,514.70 436.13,517.72 436.28,518.94 436.42,518.20 436.57,515.43 436.71,510.80 436.85,504.60 437.00,497.22 437.14,489.11 437.29,480.80 437.43,472.80 437.57,465.62 437.72,459.70 437.86,455.42 438.01,453.05 438.15,452.73 438.29,454.56 438.44,458.41 438.58,464.02 438.73,470.99 438.87,478.83 439.01,487.00 439.16,494.90 439.30,502.00 439.45,507.79 439.59,511.86 439.73,513.92 439.88,513.88 440.02,511.92 440.17,508.20 440.31,503.00 440.45,496.67 440.60,489.67 440.74,482.48 440.89,475.61 441.03,469.54 441.17,464.70 441.32,461.44 441.46,459.97 441.61,460.40 441.75,462.65 441.89,466.58 442.04,471.94 442.18,478.41 442.32,485.57 442.47,492.96 442.61,500.14 442.76,506.65 442.90,512.07 443.04,516.07 443.19,518.40 443.33,518.90 443.48,517.41 443.62,513.95 443.76,508.74 443.91,502.11 444.05,494.47 444.20,486.31 444.34,478.13 444.48,470.45 444.63,463.76 444.77,458.46 444.92,454.91 445.06,453.31 445.20,453.71 445.35,455.96 445.49,459.89 445.64,465.27 445.78,471.75 445.92,478.93 446.07,486.35 446.21,493.56 446.36,500.09 446.50,505.54 446.64,509.57 446.79,511.92 446.93,512.45 447.08,511.32 447.22,508.68 447.36,504.70 447.51,499.64 447.65,493.80 447.80,487.55 447.94,481.30 448.08,475.42 448.23,470.29 448.37,466.23 448.51,463.50 448.66,462.26 448.80,462.62 448.95,464.59 449.09,468.07 449.23,472.84 449.38,478.62 449.52,485.07 449.67,491.80 449.81,498.42 449.95,504.53 450.10,509.76 450.24,513.81 450.39,516.44 450.53,517.48 450.67,516.78 450.82,514.22 450.96,509.94 451.11,504.19 451.25,497.33 451.39,489.76 451.54,481.92 451.68,474.29 451.83,467.32 451.97,461.42 452.11,456.94 452.26,454.16 452.40,453.23 452.55,454.12 452.69,456.69 452.83,460.78 452.98,466.13 453.12,472.41 453.27,479.22 453.41,486.13 453.55,492.71 453.70,498.55 453.84,503.28 453.99,506.61 454.13,508.31 454.27,508.34 454.42,506.94 454.56,504.23 454.71,500.39 454.85,495.66 454.99,490.34 455.14,484.75 455.28,479.26 455.43,474.20 455.57,469.89 455.71,466.61 455.86,464.56 456.00,463.87 456.14,464.76 456.29,467.36 456.43,471.49 456.58,476.84 456.72,483.06 456.86,489.69 457.01,496.27 457.15,502.35 457.30,507.48 457.44,511.32 457.58,513.58 457.73,514.12 457.87,512.73 458.02,509.45 458.16,504.50 458.30,498.23 458.45,491.09 458.59,483.57 458.74,476.21 458.88,469.52 459.02,463.98 459.17,459.97 459.31,457.77 459.46,457.52 459.60,458.87 459.74,461.66 459.89,465.72 460.03,470.79 460.18,476.56 460.32,482.65 460.46,488.69 460.61,494.30 460.75,499.12 460.90,502.86 461.04,505.27 461.18,506.22 461.33,505.76 461.47,504.12 461.62,501.40 461.76,497.79 461.90,493.50 462.05,488.80 462.19,483.99 462.33,479.38 462.48,475.24 462.62,471.84 462.77,469.40 462.91,468.06 463.05,467.94 463.20,469.24 463.34,471.92 463.49,475.80 463.63,480.60 463.77,485.98 463.92,491.57 464.06,496.97 464.21,501.81 464.35,505.74 464.49,508.48 464.64,509.85 464.78,509.70 464.93,507.89 465.07,504.51 465.21,499.81 465.36,494.11 465.50,487.82 465.65,481.38 465.79,475.24 465.93,469.84 466.08,465.54 466.22,462.67 466.37,461.41 466.51,461.73 466.65,463.28 466.80,465.95 466.94,469.58 467.09,473.94 467.23,478.76 467.37,483.72 467.52,488.53 467.66,492.88 467.81,496.49 467.95,499.14 468.09,500.67 468.24,500.98 468.38,500.33 468.53,498.85 468.67,496.65 468.81,493.85 468.96,490.64 469.10,487.21 469.25,483.79 469.39,480.58 469.53,477.80 469.68,475.60 469.82,474.13 469.96,473.49 470.11,473.74 470.25,474.90 470.40,476.93 470.54,479.69 470.68,483.03 470.83,486.74 470.97,490.60 471.12,494.39 471.26,497.88 471.40,500.86 471.55,503.15 471.69,504.62 471.84,505.18 471.98,504.71 472.12,503.11 472.27,500.47 472.41,496.95 472.56,492.76 472.70,488.15 472.84,483.39 472.99,478.77 473.13,474.56 473.28,471.01 473.42,468.33 473.56,466.68 473.71,466.16 473.85,466.69 474.00,468.12 474.14,470.37 474.28,473.30 474.43,476.73 474.57,480.44 474.72,484.19 474.86,487.76 475.00,490.91 475.15,493.45 475.29,495.23 475.44,496.12 475.58,496.12 475.72,495.52 475.87,494.37 476.01,492.76 476.15,490.78 476.30,488.55 476.44,486.23 476.59,483.95 476.73,481.86 476.87,480.08 477.02,478.74 477.16,477.91 477.31,477.64 477.45,478.02 477.59,479.07 477.74,480.73 477.88,482.91 478.03,485.46 478.17,488.24 478.31,491.09 478.46,493.84 478.60,496.31 478.75,498.37 478.89,499.89 479.03,500.79 479.18,500.99 479.32,500.33 479.47,498.74 479.61,496.32 479.75,493.23 479.90,489.63 480.04,485.75 480.19,481.81 480.33,478.06 480.47,474.71 480.62,471.96 480.76,469.97 480.91,468.87 481.05,468.72 481.19,469.40 481.34,470.85 481.48,472.97 481.63,475.64 481.77,478.68 481.91,481.91 482.06,485.11 482.20,488.10 482.35,490.68 482.49,492.68 482.63,494.00 482.78,494.53 482.92,494.38 483.06,493.77 483.21,492.76 483.35,491.40 483.50,489.77 483.64,487.99 483.78,486.16 483.93,484.40 484.07,482.82 484.22,481.51 484.36,480.56 484.50,480.04 484.65,479.97 484.79,480.47 484.94,481.54 485.08,483.12 485.22,485.11 485.37,487.39 485.51,489.84 485.66,492.29 485.80,494.62 485.94,496.67 486.09,498.32 486.23,499.49 486.38,500.10 486.52,500.06 486.66,499.12 486.81,497.28 486.95,494.65 487.10,491.39 487.24,487.68 487.38,483.76 487.53,479.86 487.67,476.20 487.82,473.00 487.96,470.46 488.10,468.72 488.25,467.90 488.39,468.02 488.54,469.07 488.68,470.99 488.82,473.64 488.97,476.86 489.11,480.45 489.26,484.19 489.40,487.83 489.54,491.16 489.69,493.96 489.83,496.06 489.98,497.32 490.12,497.67 490.26,497.22 490.41,496.09 490.55,494.36 490.69,492.13 490.84,489.53 490.98,486.74 491.13,483.93 491.27,481.28 491.41,478.94 491.56,477.08 491.70,475.80 491.85,475.19 491.99,475.30 492.13,476.25 492.28,477.97 492.42,480.36 492.57,483.29 492.71,486.58 492.85,490.03 493.00,493.44 493.14,496.60 493.29,499.33 493.43,501.47 493.57,502.89 493.72,503.49 493.86,503.12 494.01,501.48 494.15,498.66 494.29,494.82 494.44,490.20 494.58,485.06 494.73,479.72 494.87,474.50 495.01,469.69 495.16,465.59 495.30,462.45 495.45,460.45 495.59,459.70 495.73,460.30 495.88,462.26 496.02,465.46 496.17,469.71 496.31,474.72 496.45,480.20 496.60,485.79 496.74,491.14 496.88,495.92 497.03,499.83 497.17,502.62 497.32,504.11 497.46,504.24 497.60,503.17 497.75,501.00 497.89,497.86 498.04,493.96 498.18,489.54 498.32,484.87 498.47,480.26 498.61,475.99 498.76,472.32 498.90,469.49 499.04,467.68 499.19,467.00 499.33,467.52 499.48,469.23 499.62,472.04 499.76,475.78 499.91,480.22 500.05,485.10 500.20,490.14 500.34,495.03 500.48,499.48 500.63,503.23 500.77,506.05 500.92,507.78 501.06,508.31 501.20,507.44 501.35,505.08 501.49,501.37 501.64,496.54 501.78,490.87 501.92,484.70 502.07,478.39 502.21,472.33 502.36,466.86 502.50,462.33 502.64,458.98 502.79,457.04 502.93,456.61 503.08,457.86 503.22,460.79 503.36,465.21 503.51,470.85 503.65,477.34 503.79,484.28 503.94,491.24 504.08,497.78 504.23,503.48 504.37,508.00 504.51,511.04 504.66,512.41 504.80,512.05 504.95,510.00 505.09,506.40 505.23,501.47 505.38,495.52 505.52,488.93 505.67,482.10 505.81,475.48 505.95,469.47 506.10,464.45 506.24,460.73 506.39,458.56 506.53,458.06 506.67,459.24 506.82,462.02 506.96,466.23 507.11,471.62 507.25,477.87 507.39,484.61 507.54,491.44 507.68,497.95 507.83,503.75 507.97,508.51 508.11,511.93 508.26,513.81 508.40,514.04 508.55,512.45 508.69,509.09 508.83,504.18 508.98,498.01 509.12,490.93 509.27,483.37 509.41,475.78 509.55,468.61 509.70,462.29 509.84,457.19 509.99,453.62 510.13,451.78 510.27,451.83 510.42,453.95 510.56,458.03 510.71,463.82 510.85,470.96 510.99,478.99 511.14,487.42 511.28,495.72 511.42,503.35 511.57,509.85 511.71,514.81 511.86,517.91 512.00,518.96 512.14,517.91 512.29,514.84 512.43,509.94 512.58,503.53 512.72,496.01 512.86,487.84 513.01,479.54 513.15,471.64 513.30,464.62 513.44,458.93 513.58,454.93 513.73,452.86 513.87,452.90 514.02,455.24 514.16,459.76 514.30,466.15 514.45,473.94 514.59,482.59 514.74,491.50 514.88,500.04 515.02,507.60 515.17,513.65 515.31,517.78 515.46,519.68 515.60,519.20 515.74,516.32 515.89,511.23 516.03,504.29 516.18,495.99 516.32,486.91 516.46,477.70 516.61,468.99 516.75,461.41 516.90,455.48 517.04,451.62 517.18,450.11 517.33,451.00 517.47,454.15 517.62,459.37 517.76,466.32 517.90,474.57 518.05,483.61 518.19,492.86 518.33,501.75 518.48,509.71 518.62,516.24 518.77,520.94 518.91,523.52 519.05,523.78 519.20,521.60 519.34,517.05 519.49,510.44 519.63,502.18 519.77,492.78 519.92,482.83 520.06,472.97 520.21,463.81 520.35,455.92 520.49,449.80 520.64,445.83 520.78,444.27 520.93,445.19 521.07,448.51 521.21,454.00 521.36,461.34 521.50,470.05 521.65,479.59 521.79,489.36 521.93,498.76 522.08,507.17 522.22,514.09 522.37,519.08 522.51,521.81 522.65,522.14 522.80,520.17 522.94,516.07 523.09,510.10 523.23,502.62 523.37,494.11 523.52,485.11 523.66,476.17 523.81,467.86 523.95,460.71 524.09,455.15 524.24,451.55 524.38,450.12 524.52,450.95 524.67,454.00 524.81,459.08 524.96,465.89 525.10,474.03 525.24,483.01 525.39,492.29 525.53,501.33 525.68,509.59 525.82,516.58 525.96,521.87 526.11,525.17 526.25,526.26 526.40,525.00 526.54,521.37 526.68,515.60 526.83,508.02 526.97,499.09 527.12,489.34 527.26,479.34 527.40,469.70 527.55,460.98 527.69,453.70 527.84,448.30 527.98,445.10 528.12,444.29 528.27,445.95 528.41,450.01 528.56,456.22 528.70,464.17 528.84,473.37 528.99,483.25 529.13,493.19 529.28,502.55 529.42,510.76 529.56,517.29 529.71,521.74 529.85,523.82 530.00,523.46 530.14,520.82 530.28,516.09 530.43,509.56 530.57,501.64 530.72,492.83 530.86,483.68 531.00,474.77 531.15,466.65 531.29,459.84 531.44,454.77 531.58,451.74 531.72,450.96 531.87,452.73 532.01,457.04 532.15,463.61 532.30,471.96 532.44,481.51 532.59,491.59 532.73,501.49 532.87,510.51 533.02,518.02 533.16,523.48 533.31,526.53 533.45,526.91 533.59,524.45 533.74,519.26 533.88,511.70 534.03,502.32 534.17,491.76 534.31,480.77 534.46,470.13 534.60,460.59 534.75,452.80 534.89,447.33 535.03,444.56 535.18,444.64 535.32,447.37 535.47,452.54 535.61,459.81 535.75,468.69 535.90,478.60 536.04,488.87 536.19,498.82 536.33,507.80 536.47,515.20 536.62,520.54 536.76,523.46 536.91,523.79 537.05,521.72 537.19,517.46 537.34,511.27 537.48,503.58 537.63,494.90 537.77,485.79 537.91,476.88 538.06,468.74 538.20,461.92 538.35,456.87 538.49,453.93 538.63,453.29 538.78,454.94 538.92,458.76 539.06,464.50 539.21,471.81 539.35,480.22 539.50,489.22 539.64,498.23 539.78,506.68 539.93,514.05 540.07,519.88 540.22,523.79 540.36,525.55 540.50,524.97 540.65,521.95 540.79,516.65 540.94,509.41 541.08,500.69 541.22,491.04 541.37,481.05" fill="none" stroke="#151515" stroke-width="0.6" stroke-linejoin="round"/>
<polyline points="334.50,456.12 334.64,459.07 334.79,462.89 334.93,468.28 335.08,476.96 335.22,484.59 335.36,494.54 335.51,500.93 335.65,511.58 335.80,517.39 335.94,523.49 336.08,526.91 336.23,526.47 336.37,526.16 336.52,520.33 336.66,513.70 336.80,506.99 336.95,498.66 337.09,487.91 337.24,477.02 337.38,469.44 337.52,461.67 337.67,455.77 337.81,451.74 337.95,451.03 338.10,450.70 338.24,453.56 338.39,460.19 338.53,465.16 338.67,475.02 338.82,486.36 338.96,497.39 339.11,506.17 339.25,515.18 339.39,523.30 339.54,529.27 339.68,528.10 339.83,528.68 339.97,523.72 340.11,517.31 340.26,508.57 340.40,497.08 340.55,486.96 340.69,477.32 340.83,467.90 340.98,458.80 341.12,453.51 341.27,450.57 341.41,449.40 341.55,449.86 341.70,453.33 341.84,459.18 341.99,465.51 342.13,472.90 342.27,480.74 342.42,492.40 342.56,501.48 342.71,507.99 342.85,513.63 342.99,518.81 343.14,521.81 343.28,520.26 343.43,520.22 343.57,514.60 343.71,508.73 343.86,503.15 344.00,494.62 344.15,485.97 344.29,478.14 344.43,471.91 344.58,466.56 344.72,461.18 344.87,457.66 345.01,458.57 345.15,459.93 345.30,461.04 345.44,466.75 345.58,471.03 345.73,480.86 345.87,488.72 346.02,497.20 346.16,504.27 346.30,511.69 346.45,518.45 346.59,521.42 346.74,524.55 346.88,522.41 347.02,519.97 347.17,516.64 347.31,510.64 347.46,501.69 347.60,494.84 347.74,485.68 347.89,476.26 348.03,467.09 348.18,461.55 348.32,457.44 348.46,454.50 348.61,453.00 348.75,455.74 348.90,455.85 349.04,461.76 349.18,467.07 349.33,475.62 349.47,482.96 349.62,490.72 349.76,499.63 349.90,506.32 350.05,510.61 350.19,512.94 350.34,513.41 350.48,512.17 350.62,509.60 350.77,504.61 350.91,500.10 351.06,492.96 351.20,483.94 351.34,477.64 351.49,471.61 351.63,466.33 351.77,465.12 351.92,463.20 352.06,462.26 352.21,462.99 352.35,466.31 352.49,469.90 352.64,473.25 352.78,480.59 352.93,485.85 353.07,490.90 353.21,498.96 353.36,505.34 353.50,509.52 353.65,512.99 353.79,515.65 353.93,516.51 354.08,517.45 354.22,512.72 354.37,510.67 354.51,504.24 354.65,500.20 354.80,491.97 354.94,485.65 355.09,479.97 355.23,473.84 355.37,468.93 355.52,465.06 355.66,463.01 355.81,461.28 355.95,459.46 356.09,461.41 356.24,463.48 356.38,466.53 356.53,473.81 356.67,480.42 356.81,485.65 356.96,491.48 357.10,497.31 357.25,499.82 357.39,504.30 357.53,504.69 357.68,504.40 357.82,500.84 357.97,497.13 358.11,493.46 358.25,488.61 358.40,482.72 358.54,480.78 358.69,476.19 358.83,474.43 358.97,473.55 359.12,472.55 359.26,474.62 359.40,474.95 359.55,476.00 359.69,479.47 359.84,483.82 359.98,486.50 360.12,491.25 360.27,496.72 360.41,502.37 360.56,505.04 360.70,507.17 360.84,510.59 360.99,508.99 361.13,508.21 361.28,506.62 361.42,503.20 361.56,500.77 361.71,495.43 361.85,490.26 362.00,487.14 362.14,480.71 362.28,476.06 362.43,473.81 362.57,471.26 362.72,468.91 362.86,468.71 363.00,469.48 363.15,469.57 363.29,472.09 363.44,473.76 363.58,477.76 363.72,481.15 363.87,485.03 364.01,489.31 364.16,493.37 364.30,494.80 364.44,497.70 364.59,497.85 364.73,498.46 364.88,496.77 365.02,498.16 365.16,493.66 365.31,490.60 365.45,488.90 365.60,485.47 365.74,483.65 365.88,481.47 366.03,480.58 366.17,479.88 366.31,478.80 366.46,479.60 366.60,481.31 366.75,480.91 366.89,483.12 367.03,485.24 367.18,487.94 367.32,489.06 367.47,492.18 367.61,494.52 367.75,497.69 367.90,500.50 368.04,502.12 368.19,503.24 368.33,503.26 368.47,502.20 368.62,499.97 368.76,497.39 368.91,494.29 369.05,491.28 369.19,489.16 369.34,484.60 369.48,482.17 369.63,479.94 369.77,477.48 369.91,475.54 370.06,474.59 370.20,475.32 370.35,473.49 370.49,474.76 370.63,477.32 370.78,476.99 370.92,478.57 371.07,480.49 371.21,483.62 371.35,487.78 371.50,487.09 371.64,490.25 371.79,491.72 371.93,490.53 372.07,490.99 372.22,492.52 372.36,490.04 372.50,490.83 372.65,487.42 372.79,486.12 372.94,487.00 373.08,483.96 373.22,485.19 373.37,484.64 373.51,484.55 373.66,485.33 373.80,484.43 373.94,485.70 374.09,484.51 374.23,486.87 374.38,486.26 374.52,487.76 374.66,491.37 374.81,491.64 374.95,494.05 375.10,495.33 375.24,495.39 375.38,496.07 375.53,497.01 375.67,496.86 375.82,497.93 375.96,495.78 376.10,492.03 376.25,491.37 376.39,488.79 376.54,485.17 376.68,483.26 376.82,479.59 376.97,478.33 377.11,477.30 377.26,475.19 377.40,474.62 377.54,475.47 377.69,475.39 377.83,476.31 377.98,477.03 378.12,479.63 378.26,480.34 378.41,482.70 378.55,485.68 378.70,489.21 378.84,489.38 378.98,492.13 379.13,491.76 379.27,494.09 379.42,492.76 379.56,493.75 379.70,490.94 379.85,489.65 379.99,487.54 380.13,487.81 380.28,484.48 380.42,484.62 380.57,482.05 380.71,481.61 380.85,482.16 381.00,483.88 381.14,483.18 381.29,482.74 381.43,483.40 381.57,482.71 381.72,486.53 381.86,487.51 382.01,488.00 382.15,491.36 382.29,491.80 382.44,493.03 382.58,493.68 382.73,494.84 382.87,495.56 383.01,495.94 383.16,495.41 383.30,492.49 383.45,490.46 383.59,487.00 383.73,484.58 383.88,482.88 384.02,478.46 384.17,476.94 384.31,474.22 384.45,473.38 384.60,472.12 384.74,472.32 384.89,471.47 385.03,472.25 385.17,474.26 385.32,475.47 385.46,477.90 385.61,481.09 385.75,484.21 385.89,486.98 386.04,491.46 386.18,492.92 386.32,493.34 386.47,495.39 386.61,497.91 386.76,494.88 386.90,495.47 387.04,493.24 387.19,491.14 387.33,488.91 387.48,486.25 387.62,485.23 387.76,481.94 387.91,481.39 388.05,481.48 388.20,479.06 388.34,479.61 388.48,479.29 388.63,480.91 388.77,480.15 388.92,482.06 389.06,485.05 389.20,486.47 389.35,488.97 389.49,491.83 389.64,494.72 389.78,495.15 389.92,497.36 390.07,497.17 390.21,499.43 390.36,496.80 390.50,496.42 390.64,494.84 390.79,492.77 390.93,489.38 391.08,484.37 391.22,482.74 391.36,479.51 391.51,477.11 391.65,474.44 391.80,471.62 391.94,471.26 392.08,472.42 392.23,470.16 392.37,471.83 392.52,473.91 392.66,477.30 392.80,480.47 392.95,483.64 393.09,486.79 393.24,491.49 393.38,495.57 393.52,497.53 393.67,499.60 393.81,500.44 393.95,500.42 394.10,500.00 394.24,499.13 394.39,497.52 394.53,492.57 394.67,488.92 394.82,486.90 394.96,483.31 395.11,480.00 395.25,477.58 395.39,477.69 395.54,475.11 395.68,474.97 395.83,475.61 395.97,475.98 396.11,477.04 396.26,479.30 396.40,482.77 396.55,487.02 396.69,490.52 396.83,494.78 396.98,497.86 397.12,499.51 397.27,501.59 397.41,503.18 397.55,503.80 397.70,501.58 397.84,497.09 397.99,494.52 398.13,490.19 398.27,484.22 398.42,481.72 398.56,473.64 398.71,472.97 398.85,468.95 398.99,467.44 399.14,465.75 399.28,465.77 399.43,467.72 399.57,470.08 399.71,473.54 399.86,477.02 400.00,480.44 400.14,484.97 400.29,489.48 400.43,496.19 400.58,500.74 400.72,504.66 400.86,506.81 401.01,507.90 401.15,507.01 401.30,506.47 401.44,502.12 401.58,498.94 401.73,494.41 401.87,487.90 402.02,483.99 402.16,477.42 402.30,474.03 402.45,469.74 402.59,466.98 402.74,465.40 402.88,463.86 403.02,465.53 403.17,466.47 403.31,469.57 403.46,472.66 403.60,476.45 403.74,482.54 403.89,489.35 404.03,493.59 404.18,499.04 404.32,503.90 404.46,505.56 404.61,504.12 404.75,505.38 404.90,504.46 405.04,500.08 405.18,495.59 405.33,489.65 405.47,486.01 405.62,478.85 405.76,473.35 405.90,468.27 406.05,466.20 406.19,464.13 406.34,464.01 406.48,461.35 406.62,463.00 406.77,466.09 406.91,471.93 407.06,476.45 407.20,481.43 407.34,488.52 407.49,494.81 407.63,500.16 407.77,506.31 407.92,508.57 408.06,510.18 408.21,510.95 408.35,508.93 408.49,507.06 408.64,502.44 408.78,497.38 408.93,490.63 409.07,485.02 409.21,479.82 409.36,473.48 409.50,469.80 409.65,467.45 409.79,464.97 409.93,464.65 410.08,466.98 410.22,469.37 410.37,471.93 410.51,475.97 410.65,481.70 410.80,488.07 410.94,493.59 411.09,498.96 411.23,503.25 411.37,508.03 411.52,509.29 411.66,509.76 411.81,509.43 411.95,507.52 412.09,503.27 412.24,496.41 412.38,492.07 412.53,485.48 412.67,478.75 412.81,473.75 412.96,468.69 413.10,465.90 413.25,464.85 413.39,463.89 413.53,464.19 413.68,465.00 413.82,469.20 413.97,472.65 414.11,479.05 414.25,485.10 414.40,491.72 414.54,496.87 414.68,503.73 414.83,507.96 414.97,512.16 415.12,515.90 415.26,514.29 415.40,512.90 415.55,509.40 415.69,505.66 415.84,498.64 415.98,492.55 416.12,486.94 416.27,478.37 416.41,473.74 416.56,468.39 416.70,464.51 416.84,461.90 416.99,461.44 417.13,461.87 417.28,461.09 417.42,468.79 417.56,472.39 417.71,479.38 417.85,484.92 418.00,494.29 418.14,499.12 418.28,505.42 418.43,510.01 418.57,513.23 418.72,513.47 418.86,510.87 419.00,509.99 419.15,504.98 419.29,499.21 419.44,491.10 419.58,484.41 419.72,478.10 419.87,474.26 420.01,466.98 420.16,465.19 420.30,463.34 420.44,462.04 420.59,463.20 420.73,467.06 420.88,471.11 421.02,475.86 421.16,482.08 421.31,488.64 421.45,496.15 421.59,502.53 421.74,508.52 421.88,513.02 422.03,514.84 422.17,517.80 422.31,516.86 422.46,515.49 422.60,510.19 422.75,504.60 422.89,498.19 423.03,489.13 423.18,483.18 423.32,475.14 423.47,468.83 423.61,465.04 423.75,460.75 423.90,458.75 424.04,458.73 424.19,459.47 424.33,460.92 424.47,466.85 424.62,472.11 424.76,479.48 424.91,487.11 425.05,493.62 425.19,500.37 425.34,505.53 425.48,510.82 425.63,515.96 425.77,515.19 425.91,515.26 426.06,511.45 426.20,509.69 426.35,503.63 426.49,496.79 426.63,490.06 426.78,485.35 426.92,476.30 427.07,472.24 427.21,468.73 427.35,464.66 427.50,463.32 427.64,462.29 427.79,464.86 427.93,466.95 428.07,468.60 428.22,475.02 428.36,482.21 428.50,487.53 428.65,495.34 428.79,501.64 428.94,508.01 429.08,513.57 429.22,516.19 429.37,518.13 429.51,519.19 429.66,517.98 429.80,513.44 429.94,507.87 430.09,501.23 430.23,493.41 430.38,485.56 430.52,478.00 430.66,470.24 430.81,465.90 430.95,462.46 431.10,458.47 431.24,457.35 431.38,456.28 431.53,458.68 431.67,462.93 431.82,469.31 431.96,477.11 432.10,484.49 432.25,492.68 432.39,501.25 432.54,507.32 432.68,511.78 432.82,513.93 432.97,516.29 433.11,511.59 433.26,508.50 433.40,502.07 433.54,495.27 433.69,487.90 433.83,480.60 433.98,473.86 434.12,467.64 434.26,464.43 434.41,462.71 434.55,462.30 434.69,463.67 434.84,466.46 434.98,470.39 435.13,477.17 435.27,483.35 435.41,491.21 435.56,497.06 435.70,503.88 435.85,509.58 435.99,514.22 436.13,517.56 436.28,518.54 436.42,518.06 436.57,515.40 436.71,510.27 436.85,505.21 437.00,498.27 437.14,489.32 437.29,481.22 437.43,474.89 437.57,465.82 437.72,460.77 437.86,459.28 438.01,456.72 438.15,454.49 438.29,457.86 438.44,460.33 438.58,465.97 438.73,472.59 438.87,479.50 439.01,486.11 439.16,496.15 439.30,502.06 439.45,508.01 439.59,511.83 439.73,514.37 439.88,514.20 440.02,512.35 440.17,507.68 440.31,502.88 440.45,496.15 440.60,489.32 440.74,483.12 440.89,476.46 441.03,470.68 441.17,466.97 441.32,464.30 441.46,463.45 441.61,463.38 441.75,467.20 441.89,467.76 442.04,473.79 442.18,479.00 442.32,485.98 442.47,493.79 442.61,499.91 442.76,506.97 442.90,511.54 443.04,515.39 443.19,517.27 443.33,518.92 443.48,516.73 443.62,514.30 443.76,508.12 443.91,501.81 444.05,494.58 444.20,486.28 444.34,478.27 444.48,471.46 444.63,464.88 444.77,460.92 444.92,457.61 445.06,457.04 445.20,457.01 445.35,458.92 445.49,461.93 445.64,465.77 445.78,473.31 445.92,479.93 446.07,486.23 446.21,493.52 446.36,499.00 446.50,505.24 446.64,509.98 446.79,512.51 446.93,512.73 447.08,510.44 447.22,507.86 447.36,505.51 447.51,498.93 447.65,492.39 447.80,489.59 447.94,481.80 448.08,475.90 448.23,471.42 448.37,467.87 448.51,466.86 448.66,466.07 448.80,464.39 448.95,467.83 449.09,468.47 449.23,474.28 449.38,478.80 449.52,485.24 449.67,491.48 449.81,499.14 449.95,504.70 450.10,509.99 450.24,512.51 450.39,516.75 450.53,517.90 450.67,518.45 450.82,514.34 450.96,509.50 451.11,505.36 451.25,498.41 451.39,490.95 451.54,481.34 451.68,474.77 451.83,468.04 451.97,462.43 452.11,459.01 452.26,457.29 452.40,457.25 452.55,456.94 452.69,459.16 452.83,462.56 452.98,467.90 453.12,473.65 453.27,480.80 453.41,486.31 453.55,493.74 453.70,497.82 453.84,502.67 453.99,507.01 454.13,508.94 454.27,509.82 454.42,506.16 454.56,503.71 454.71,499.98 454.85,495.62 454.99,489.65 455.14,485.19 455.28,480.18 455.43,474.32 455.57,469.86 455.71,468.56 455.86,468.01 456.00,467.22 456.14,467.44 456.29,469.92 456.43,473.89 456.58,476.98 456.72,482.43 456.86,489.85 457.01,495.19 457.15,503.19 457.30,507.33 457.44,511.23 457.58,513.51 457.73,513.94 457.87,513.92 458.02,510.37 458.16,505.59 458.30,498.57 458.45,491.34 458.59,483.52 458.74,477.99 458.88,471.25 459.02,465.69 459.17,463.29 459.31,461.16 459.46,459.68 459.60,462.49 459.74,465.08 459.89,466.81 460.03,471.22 460.18,475.35 460.32,482.59 460.46,489.39 460.61,493.27 460.75,499.45 460.90,502.96 461.04,504.76 461.18,505.92 461.33,506.76 461.47,503.55 461.62,501.84 461.76,497.35 461.90,493.43 462.05,488.81 462.19,482.99 462.33,480.40 462.48,477.69 462.62,474.78 462.77,472.68 462.91,471.39 463.05,472.12 463.20,471.67 463.34,475.33 463.49,477.64 463.63,480.93 463.77,486.61 463.92,492.10 464.06,497.17 464.21,502.56 464.35,506.48 464.49,508.52 464.64,509.17 464.78,509.02 464.93,506.81 465.07,504.81 465.21,500.11 465.36,493.01 465.50,488.31 465.65,481.86 465.79,475.99 465.93,470.74 466.08,467.08 466.22,467.68 466.37,464.16 466.51,465.34 466.65,467.46 466.80,468.84 466.94,471.71 467.09,474.88 467.23,479.41 467.37,484.11 467.52,489.09 467.66,494.36 467.81,496.46 467.95,499.94 468.09,499.62 468.24,500.44 468.38,500.46 468.53,499.35 468.67,497.00 468.81,493.34 468.96,490.42 469.10,487.37 469.25,484.10 469.39,481.96 469.53,479.81 469.68,477.94 469.82,475.51 469.96,475.35 470.11,476.61 470.25,476.66 470.40,478.89 470.54,480.60 470.68,483.75 470.83,487.64 470.97,490.11 471.12,494.53 471.26,497.71 471.40,499.56 471.55,502.92 471.69,504.44 471.84,504.63 471.98,503.88 472.12,502.66 472.27,500.83 472.41,497.21 472.56,493.81 472.70,488.25 472.84,483.25 472.99,479.31 473.13,477.47 473.28,473.13 473.42,470.69 473.56,470.22 473.71,468.76 473.85,469.57 474.00,470.01 474.14,473.26 474.28,473.79 474.43,479.13 474.57,480.23 474.72,484.02 474.86,488.70 475.00,491.41 475.15,491.99 475.29,495.63 475.44,496.96 475.58,495.34 475.72,495.02 475.87,493.73 476.01,492.97 476.15,490.06 476.30,487.71 476.44,486.58 476.59,486.55 476.73,483.36 476.87,481.61 477.02,482.34 477.16,480.92 477.31,482.40 477.45,480.22 477.59,481.44 477.74,482.98 477.88,484.24 478.03,484.89 478.17,489.60 478.31,491.20 478.46,494.00 478.60,497.08 478.75,498.80 478.89,501.81 479.03,500.14 479.18,501.81 479.32,500.52 479.47,500.29 479.61,496.70 479.75,492.29 479.90,489.80 480.04,484.50 480.19,482.68 480.33,478.68 480.47,475.34 480.62,473.99 480.76,471.64 480.91,471.66 481.05,473.47 481.19,471.56 481.34,472.76 481.48,474.65 481.63,476.58 481.77,478.23 481.91,481.32 482.06,485.40 482.20,486.97 482.35,490.13 482.49,493.80 482.63,494.74 482.78,495.18 482.92,494.92 483.06,493.10 483.21,493.51 483.35,492.03 483.50,489.29 483.64,488.68 483.78,485.71 483.93,485.00 484.07,483.61 484.22,482.61 484.36,483.16 484.50,484.78 484.65,483.19 484.79,484.09 484.94,485.94 485.08,483.88 485.22,485.68 485.37,488.47 485.51,490.22 485.66,493.40 485.80,493.62 485.94,496.88 486.09,499.41 486.23,500.37 486.38,499.12 486.52,500.11 486.66,498.11 486.81,496.47 486.95,495.24 487.10,491.03 487.24,487.78 487.38,485.31 487.53,480.01 487.67,476.98 487.82,474.68 487.96,473.35 488.10,471.77 488.25,472.18 488.39,471.36 488.54,472.05 488.68,473.56 488.82,475.94 488.97,477.36 489.11,479.78 489.26,484.48 489.40,488.24 489.54,491.12 489.69,494.05 489.83,496.31 489.98,496.98 490.12,499.19 490.26,496.82 490.41,496.61 490.55,492.60 490.69,492.17 490.84,491.50 490.98,485.99 491.13,485.27 491.27,482.61 491.41,480.48 491.56,478.82 491.70,477.53 491.85,478.66 491.99,479.89 492.13,478.59 492.28,480.29 492.42,483.05 492.57,484.68 492.71,488.49 492.85,491.17 493.00,491.82 493.14,496.21 493.29,499.78 493.43,500.55 493.57,501.89 493.72,502.64 493.86,504.50 494.01,501.04 494.15,498.32 494.29,494.10 494.44,489.58 494.58,484.23 494.73,479.33 494.87,476.73 495.01,469.98 495.16,466.47 495.30,466.11 495.45,463.75 495.59,463.53 495.73,465.12 495.88,465.34 496.02,467.55 496.17,469.43 496.31,475.48 496.45,480.70 496.60,485.74 496.74,490.56 496.88,495.51 497.03,499.33 497.17,503.07 497.32,504.85 497.46,503.30 497.60,503.16 497.75,501.02 497.89,498.41 498.04,494.02 498.18,488.56 498.32,484.56 498.47,481.46 498.61,476.54 498.76,473.98 498.90,472.68 499.04,472.14 499.19,469.24 499.33,471.08 499.48,472.30 499.62,474.46 499.76,476.43 499.91,481.52 500.05,486.03 500.20,490.11 500.34,494.69 500.48,500.33 500.63,502.52 500.77,506.63 500.92,507.60 501.06,509.03 501.20,507.42 501.35,506.11 501.49,501.77 501.64,495.70 501.78,489.40 501.92,485.55 502.07,478.62 502.21,474.17 502.36,468.05 502.50,464.63 502.64,463.21 502.79,459.21 502.93,459.85 503.08,461.08 503.22,463.66 503.36,466.70 503.51,470.76 503.65,478.59 503.79,484.82 503.94,490.83 504.08,498.66 504.23,503.48 504.37,507.62 504.51,511.08 504.66,513.13 504.80,511.62 504.95,509.82 505.09,505.80 505.23,500.85 505.38,493.86 505.52,490.31 505.67,482.03 505.81,476.26 505.95,470.42 506.10,466.53 506.24,464.73 506.39,461.76 506.53,461.50 506.67,461.45 506.82,464.69 506.96,468.70 507.11,473.76 507.25,478.92 507.39,486.48 507.54,491.41 507.68,499.79 507.83,504.30 507.97,509.21 508.11,512.09 508.26,513.80 508.40,513.81 508.55,513.18 508.69,508.25 508.83,503.07 508.98,499.25 509.12,490.67 509.27,482.81 509.41,476.43 509.55,469.14 509.70,463.91 509.84,459.70 509.99,457.34 510.13,454.86 510.27,455.15 510.42,457.04 510.56,459.27 510.71,466.04 510.85,471.74 510.99,478.25 511.14,486.97 511.28,494.97 511.42,502.80 511.57,510.79 511.71,515.48 511.86,515.97 512.00,519.93 512.14,517.75 512.29,516.07 512.43,510.45 512.58,503.64 512.72,495.82 512.86,488.58 513.01,479.30 513.15,473.18 513.30,465.99 513.44,462.85 513.58,459.47 513.73,455.99 513.87,456.44 514.02,457.61 514.16,461.94 514.30,467.05 514.45,475.66 514.59,483.30 514.74,490.91 514.88,500.18 515.02,506.78 515.17,513.25 515.31,518.51 515.46,519.40 515.60,520.58 515.74,517.06 515.89,510.23 516.03,505.67 516.18,497.03 516.32,486.09 516.46,477.95 516.61,471.06 516.75,463.16 516.90,457.84 517.04,455.65 517.18,454.34 517.33,455.04 517.47,457.21 517.62,461.41 517.76,466.19 517.90,475.96 518.05,483.53 518.19,492.71 518.33,501.42 518.48,509.86 518.62,515.60 518.77,520.53 518.91,524.68 519.05,523.80 519.20,521.04 519.34,516.06 519.49,510.54 519.63,501.34 519.77,492.55 519.92,484.29 520.06,474.05 520.21,463.84 520.35,457.86 520.49,451.98 520.64,448.93 520.78,447.26 520.93,449.22 521.07,450.76 521.21,456.79 521.36,461.97 521.50,470.84 521.65,480.36 521.79,488.57 521.93,498.66 522.08,508.22 522.22,513.90 522.37,518.37 522.51,521.19 522.65,520.99 522.80,519.37 522.94,516.82 523.09,510.24 523.23,502.81 523.37,494.32 523.52,485.57 523.66,477.23 523.81,467.99 523.95,463.37 524.09,458.47 524.24,455.33 524.38,453.40 524.52,454.12 524.67,456.16 524.81,460.78 524.96,467.46 525.10,475.18 525.24,482.96 525.39,493.27 525.53,501.93 525.68,507.78 525.82,515.67 525.96,521.72 526.11,524.05 526.25,525.68 526.40,524.73 526.54,522.98 526.68,515.47 526.83,508.83 526.97,498.71 527.12,487.54 527.26,479.20 527.40,471.73 527.55,462.66 527.69,455.25 527.84,451.46 527.98,448.20 528.12,447.14 528.27,449.58 528.41,451.93 528.56,457.89 528.70,464.91 528.84,472.36 528.99,482.70 529.13,493.62 529.28,501.91 529.42,510.73 529.56,516.11 529.71,521.85 529.85,523.59 530.00,522.55 530.14,521.98 530.28,515.75 530.43,509.57 530.57,502.68 530.72,492.87 530.86,483.40 531.00,475.64 531.15,467.16 531.29,461.70 531.44,459.09 531.58,454.49 531.72,454.67 531.87,455.02 532.01,460.04 532.15,466.56 532.30,472.50 532.44,483.20 532.59,492.06 532.73,501.30 532.87,510.44 533.02,517.91 533.16,523.82 533.31,526.57 533.45,527.12 533.59,525.15 533.74,518.94 533.88,511.92 534.03,503.97 534.17,490.77 534.31,481.71 534.46,469.53 534.60,461.49 534.75,455.96 534.89,450.24 535.03,448.58 535.18,447.05 535.32,450.36 535.47,454.37 535.61,460.28 535.75,468.82 535.90,480.15 536.04,488.08 536.19,498.96 536.33,508.49 536.47,515.20 536.62,520.06 536.76,523.00 536.91,524.12 537.05,521.07 537.19,517.32 537.34,512.01 537.48,503.21 537.63,496.23 537.77,486.95 537.91,477.13 538.06,470.72 538.20,463.95 538.35,460.15 538.49,456.46 538.63,457.99 538.78,458.28 538.92,460.34 539.06,467.04 539.21,474.02 539.35,481.04 539.50,490.12 539.64,499.16 539.78,505.28 539.93,515.67 540.07,520.06 540.22,524.66 540.36,526.47 540.50,525.95 540.65,521.97 540.79,518.17 540.94,508.71 541.08,499.99 541.22,491.00 541.37,481.26" fill="none" stroke="none" marker-start="url(#mo)" marker-mid="url(#mo)" marker-end="url(#mo)"/>
</g>
<path d="M334.5 421.3V546.5" stroke="#d4d4d4" stroke-width="0.6"/>
<path d="M334.5 421.3H541.8V546.5" stroke="#a8a8a8" stroke-width="0.9" fill="none"/>
<path d="M334.5 546.50H541.8" stroke="#9a9a9a" stroke-width="0.9"/>
<text x="321.26" y="423.68" font-size="6.6" font-weight="bold" text-anchor="start" textLength="8.44" lengthAdjust="spacingAndGlyphs"  fill="#000" font-family='"Liberation Sans", sans-serif'>3.0</text>
<text x="321.26" y="434.11" font-size="6.6" font-weight="bold" text-anchor="start" textLength="8.44" lengthAdjust="spacingAndGlyphs"  fill="#000" font-family='"Liberation Sans", sans-serif'>2.5</text>
<text x="321.26" y="444.54" font-size="6.6" font-weight="bold" text-anchor="start" textLength="8.44" lengthAdjust="spacingAndGlyphs"  fill="#000" font-family='"Liberation Sans", sans-serif'>2.0</text>
<text x="321.26" y="454.98" font-size="6.6" font-weight="bold" text-anchor="start" textLength="8.44" lengthAdjust="spacingAndGlyphs"  fill="#000" font-family='"Liberation Sans", sans-serif'>1.5</text>
<text x="321.26" y="465.41" font-size="6.6" font-weight="bold" text-anchor="start" textLength="8.44" lengthAdjust="spacingAndGlyphs"  fill="#000" font-family='"Liberation Sans", sans-serif'>1.0</text>
<text x="321.26" y="475.84" font-size="6.6" font-weight="bold" text-anchor="start" textLength="8.44" lengthAdjust="spacingAndGlyphs"  fill="#000" font-family='"Liberation Sans", sans-serif'>0.5</text>
<text x="321.26" y="486.28" font-size="6.6" font-weight="bold" text-anchor="start" textLength="8.44" lengthAdjust="spacingAndGlyphs"  fill="#000" font-family='"Liberation Sans", sans-serif'>0.0</text>
<text x="319.24" y="496.71" font-size="6.6" font-weight="bold" text-anchor="start" textLength="10.46" lengthAdjust="spacingAndGlyphs"  fill="#000" font-family='"Liberation Sans", sans-serif'>-0.5</text>
<text x="319.24" y="507.14" font-size="6.6" font-weight="bold" text-anchor="start" textLength="10.46" lengthAdjust="spacingAndGlyphs"  fill="#000" font-family='"Liberation Sans", sans-serif'>-1.0</text>
<text x="319.24" y="517.58" font-size="6.6" font-weight="bold" text-anchor="start" textLength="10.46" lengthAdjust="spacingAndGlyphs"  fill="#000" font-family='"Liberation Sans", sans-serif'>-1.5</text>
<text x="319.24" y="528.01" font-size="6.6" font-weight="bold" text-anchor="start" textLength="10.46" lengthAdjust="spacingAndGlyphs"  fill="#000" font-family='"Liberation Sans", sans-serif'>-2.0</text>
<text x="319.24" y="538.44" font-size="6.6" font-weight="bold" text-anchor="start" textLength="10.46" lengthAdjust="spacingAndGlyphs"  fill="#000" font-family='"Liberation Sans", sans-serif'>-2.5</text>
<text x="319.24" y="548.88" font-size="6.6" font-weight="bold" text-anchor="start" textLength="10.46" lengthAdjust="spacingAndGlyphs"  fill="#000" font-family='"Liberation Sans", sans-serif'>-3.0</text>
<text x="330.28" y="557.38" font-size="6.6" font-weight="bold" text-anchor="start" textLength="8.44" lengthAdjust="spacingAndGlyphs"  fill="#000" font-family='"Liberation Sans", sans-serif'>4/9</text>
<text x="363.14" y="557.38" font-size="6.6" font-weight="bold" text-anchor="start" textLength="11.82" lengthAdjust="spacingAndGlyphs"  fill="#000" font-family='"Liberation Sans", sans-serif'>4/14</text>
<text x="397.69" y="557.38" font-size="6.6" font-weight="bold" text-anchor="start" textLength="11.82" lengthAdjust="spacingAndGlyphs"  fill="#000" font-family='"Liberation Sans", sans-serif'>4/19</text>
<text x="432.24" y="557.38" font-size="6.6" font-weight="bold" text-anchor="start" textLength="11.82" lengthAdjust="spacingAndGlyphs"  fill="#000" font-family='"Liberation Sans", sans-serif'>4/24</text>
<text x="466.79" y="557.38" font-size="6.6" font-weight="bold" text-anchor="start" textLength="11.82" lengthAdjust="spacingAndGlyphs"  fill="#000" font-family='"Liberation Sans", sans-serif'>4/29</text>
<text x="503.03" y="557.38" font-size="6.6" font-weight="bold" text-anchor="start" textLength="8.44" lengthAdjust="spacingAndGlyphs"  fill="#000" font-family='"Liberation Sans", sans-serif'>5/4</text>
<text x="537.58" y="557.38" font-size="6.6" font-weight="bold" text-anchor="start" textLength="8.44" lengthAdjust="spacingAndGlyphs"  fill="#000" font-family='"Liberation Sans", sans-serif'>5/9</text>
<text x="406.30" y="415.00" font-size="8.8" font-weight="bold" text-anchor="start" textLength="48.90" lengthAdjust="spacingAndGlyphs"  fill="#000" font-family='"Liberation Sans", sans-serif'>Gwangyang</text>
<text x="522.70" y="418.40" font-size="5.6" font-weight="bold" textLength="17.50" lengthAdjust="spacingAndGlyphs" font-family='"Liberation Sans", sans-serif'>R<tspan font-size="3.6" dy="-2">2</tspan><tspan dy="2"> 0.98</tspan></text>
<rect x="497.6" y="422.1" width="44.2" height="9.3" fill="#fff" stroke="#8c8c8c" stroke-width="0.8"/>
<circle cx="505.5" cy="427.0" r="1.0" fill="none" stroke="#f01818" stroke-width="0.6"/>
<text x="508.80" y="429.00" font-size="5.6" font-weight="bold" text-anchor="start" textLength="9.30" lengthAdjust="spacingAndGlyphs"  fill="#000" font-family='"Liberation Sans", sans-serif'>Obs.</text>
<path d="M523.0 427.0H528.7" stroke="#222" stroke-width="0.7"/>
<text x="529.60" y="429.00" font-size="5.6" font-weight="bold" text-anchor="start" textLength="9.00" lengthAdjust="spacingAndGlyphs"  fill="#000" font-family='"Liberation Sans", sans-serif'>Sim.</text>
<text transform="translate(317.50,482.40) rotate(-90)" x="0" y="0" text-anchor="middle" font-size="7.79" font-weight="bold" textLength="79.80" lengthAdjust="spacingAndGlyphs" font-family='"Liberation Sans", sans-serif'>Water Level (EL. m)</text>
<text x="403.00" y="565.00" font-size="8.8" font-weight="bold" text-anchor="start" textLength="69.80" lengthAdjust="spacingAndGlyphs"  fill="#000" font-family='"Liberation Sans", sans-serif'>Date (30minutes)</text>
<path d="M31.3 617.62H238.2M31.3 631.24H238.2M31.3 644.87H238.2M31.3 658.49H238.2M31.3 672.11H238.2M31.3 685.73H238.2M31.3 699.36H238.2M31.3 712.98H238.2M65.78 604.0V726.6M100.27 604.0V726.6M134.75 604.0V726.6M169.24 604.0V726.6M203.73 604.0V726.6" stroke="#e4e4e4" stroke-width="0.6" fill="none"/>
<g>
<polyline points="31.30,659.45 31.44,651.08 31.59,652.14 31.73,662.27 31.87,678.08 32.02,694.82 32.16,708.59 32.31,717.59 32.45,722.22 32.59,724.01 32.74,724.48 32.88,724.55 33.02,724.56 33.17,724.56 33.31,724.56 33.46,724.55 33.60,724.44 33.74,723.80 33.89,721.63 34.03,716.44 34.17,706.96 34.32,693.28 34.46,677.58 34.60,663.85 34.75,656.36 34.89,657.35 35.04,665.56 35.18,678.55 35.32,692.97 35.47,705.72 35.61,715.02 35.75,720.59 35.90,723.28 36.04,724.27 36.19,724.52 36.33,724.55 36.47,724.56 36.62,724.56 36.76,724.56 36.90,724.55 37.05,724.49 37.19,724.12 37.33,722.80 37.48,719.46 37.62,712.89 37.77,702.43 37.91,688.69 38.05,673.87 38.20,661.33 38.34,654.40 38.48,655.17 38.63,663.71 38.77,677.48 38.92,692.72 39.06,706.03 39.20,715.51 39.35,720.99 39.49,723.49 39.63,724.34 39.78,724.53 39.92,724.56 40.06,724.56 40.21,724.56 40.35,724.56 40.50,724.55 40.64,724.44 40.78,723.93 40.93,722.31 41.07,718.59 41.21,711.89 41.36,702.12 41.50,690.50 41.65,679.47 41.79,671.98 41.93,670.23 42.08,674.55 42.22,683.58 42.36,694.86 42.51,705.75 42.65,714.33 42.80,719.92 42.94,722.88 43.08,724.11 43.23,724.48 43.37,724.55 43.51,724.56 43.66,724.56 43.80,724.56 43.94,724.56 44.09,724.53 44.23,724.33 44.38,723.49 44.52,721.07 44.66,715.82 44.81,706.72 44.95,693.79 45.09,678.63 45.24,664.31 45.38,654.44 45.53,651.83 45.67,658.17 45.81,671.81 45.96,688.41 46.10,703.55 46.24,714.47 46.39,720.73 46.53,723.49 46.67,724.37 46.82,724.54 46.96,724.56 47.11,724.56 47.25,724.56 47.39,724.56 47.54,724.53 47.68,724.29 47.82,723.34 47.97,720.71 48.11,715.35 48.26,706.79 48.40,695.93 48.54,685.14 48.69,677.55 48.83,675.64 48.97,679.42 49.12,687.48 49.26,697.61 49.40,707.44 49.55,715.22 49.69,720.31 49.84,723.01 49.98,724.14 50.12,724.48 50.27,724.55 50.41,724.56 50.55,724.56 50.70,724.56 50.84,724.56 50.99,724.54 51.13,724.37 51.27,723.68 51.42,721.66 51.56,717.25 51.70,709.58 51.85,698.64 51.99,685.77 52.13,673.54 52.28,665.04 52.42,662.67 52.57,667.91 52.71,679.42 52.85,693.52 53.00,706.45 53.14,715.83 53.28,721.23 53.43,723.62 53.57,724.39 53.72,724.54 53.86,724.56 54.00,724.56 54.15,724.56 54.29,724.56 54.43,724.53 54.58,724.34 54.72,723.54 54.86,721.31 55.01,716.75 55.15,709.44 55.30,700.11 55.44,690.79 55.58,684.17 55.73,682.40 55.87,685.25 56.01,691.53 56.16,699.67 56.30,707.89 56.45,714.78 56.59,719.64 56.73,722.50 56.88,723.88 57.02,724.40 57.16,724.53 57.31,724.56 57.45,724.56 57.59,724.56 57.74,724.56 57.88,724.56 58.03,724.53 58.17,724.37 58.31,723.75 58.46,722.06 58.60,718.48 58.74,712.34 58.89,703.51 59.03,692.84 59.18,682.12 59.32,673.67 59.46,669.57 59.61,671.39 59.75,679.66 59.89,691.70 60.04,703.99 60.18,713.79 60.32,720.00 60.47,723.09 60.61,724.23 60.76,724.52 60.90,724.55 61.04,724.56 61.19,724.56 61.33,724.56 61.47,724.55 61.62,724.44 61.76,723.89 61.91,722.13 62.05,718.06 62.19,710.87 62.34,700.80 62.48,689.62 62.62,680.26 62.77,675.68 62.91,677.46 63.05,684.97 63.20,695.73 63.34,706.61 63.49,715.22 63.63,720.64 63.77,723.31 63.92,724.29 64.06,724.52 64.20,724.56 64.35,724.56 64.49,724.56 64.64,724.56 64.78,724.54 64.92,724.36 65.07,723.42 65.21,720.46 65.35,713.70 65.50,701.84 65.64,685.36 65.78,667.19 65.93,652.17 66.07,645.06 66.22,646.39 66.36,652.07 66.50,660.54 66.65,669.83 66.79,678.16 66.93,684.43 67.08,688.39 67.22,690.46 67.37,691.31 67.51,691.58 67.65,691.63 67.80,691.64 67.94,691.64 68.08,691.64 68.23,691.64 68.37,691.63 68.52,691.57 68.66,691.29 68.80,690.44 68.95,688.47 69.09,684.83 69.23,679.24 69.38,672.03 69.52,664.22 69.66,657.40 69.81,653.16 69.95,652.55 70.10,654.92 70.24,659.36 70.38,664.70 70.53,669.70 70.67,673.55 70.81,675.99 70.96,677.24 71.10,677.75 71.25,677.89 71.39,677.92 71.53,677.92 71.68,677.92 71.82,677.92 71.96,677.92 72.11,677.89 72.25,677.73 72.39,677.09 72.54,675.32 72.68,671.61 72.83,665.34 72.97,656.67 73.11,646.76 73.26,637.70 73.40,631.83 73.54,630.74 73.69,633.69 73.83,639.53 73.98,646.83 74.12,654.03 74.26,659.93 74.41,664.01 74.55,666.36 74.69,667.46 74.84,667.86 74.98,667.96 75.12,667.98 75.27,667.98 75.41,667.98 75.56,667.98 75.70,667.98 75.84,667.96 75.99,667.83 76.13,667.37 76.27,666.14 76.42,663.62 76.56,659.39 76.71,653.44 76.85,646.39 76.99,639.48 77.14,634.23 77.28,631.96 77.42,633.42 77.57,638.53 77.71,646.17 77.85,654.80 78.00,662.89 78.14,669.42 78.29,673.95 78.43,676.64 78.57,677.98 78.72,678.52 78.86,678.68 79.00,678.71 79.15,678.71 79.29,678.71 79.44,678.71 79.58,678.71 79.72,678.70 79.87,678.64 80.01,678.33 80.15,677.35 80.30,675.01 80.44,670.47 80.58,663.06 80.73,652.69 80.87,640.17 81.02,627.25 81.16,616.25 81.30,609.47 81.45,608.57 81.59,615.73 81.73,629.53 81.88,646.26 82.02,662.06 82.17,674.29 82.31,682.11 82.45,686.15 82.60,687.79 82.74,688.26 82.88,688.35 83.03,688.36 83.17,688.36 83.31,688.36 83.46,688.35 83.60,688.32 83.75,688.10 83.89,687.21 84.03,684.72 84.18,679.45 84.32,670.50 84.46,658.01 84.61,643.66 84.75,630.42 84.90,621.70 85.04,620.05 85.18,627.72 85.33,642.77 85.47,660.48 85.61,676.24 85.76,687.37 85.90,693.60 86.04,696.27 86.19,697.08 86.33,697.23 86.48,697.24 86.62,697.24 86.76,697.24 86.91,697.24 87.05,697.18 87.19,696.71 87.34,694.86 87.48,689.95 87.63,680.19 87.77,664.97 87.91,646.08 88.06,627.81 88.20,615.55 88.34,613.39 88.49,622.25 88.63,639.60 88.78,660.76 88.92,680.84 89.06,696.44 89.21,706.45 89.35,711.66 89.49,713.77 89.64,714.39 89.78,714.51 89.92,714.52 90.07,714.52 90.21,714.52 90.36,714.52 90.50,714.48 90.64,714.21 90.79,713.09 90.93,709.96 91.07,703.29 91.22,691.91 91.36,675.99 91.51,657.61 91.65,640.57 91.79,629.23 91.94,626.78 92.08,633.74 92.22,648.18 92.37,666.55 92.51,684.85 92.65,700.02 92.80,710.59 92.94,716.75 93.09,719.67 93.23,720.75 93.37,721.02 93.52,721.07 93.66,721.07 93.80,721.07 93.95,721.07 94.09,721.07 94.24,721.02 94.38,720.73 94.52,719.63 94.67,716.70 94.81,710.59 94.95,700.22 95.10,685.49 95.24,667.88 95.38,650.41 95.53,636.92 95.67,630.74 95.82,633.94 95.96,646.43 96.10,664.73 96.25,684.20 96.39,700.87 96.53,712.65 96.68,719.48 96.82,722.64 96.97,723.75 97.11,724.01 97.25,724.04 97.40,724.05 97.54,724.05 97.68,724.05 97.83,724.04 97.97,723.93 98.11,723.36 98.26,721.46 98.40,716.86 98.55,708.14 98.69,694.68 98.83,677.55 98.98,659.72 99.12,645.35 99.26,638.36 99.41,640.95 99.55,652.79 99.70,670.37 99.84,689.00 99.98,704.71 100.13,715.54 100.27,721.57 100.41,724.21 100.56,725.06 100.70,725.24 100.84,725.25 100.99,725.25 101.13,725.25 101.28,725.25 101.42,725.23 101.56,725.06 101.71,724.27 101.85,721.93 101.99,716.78 102.14,707.84 102.28,695.23 102.43,680.72 102.57,667.54 102.71,659.28 102.86,658.52 103.00,666.25 103.14,680.08 103.29,695.73 103.43,709.26 103.57,718.56 103.72,723.61 103.86,725.69 104.01,726.30 104.15,726.41 104.29,726.41 104.44,726.41 104.58,726.41 104.72,726.41 104.87,726.38 105.01,726.20 105.16,725.50 105.30,723.72 105.44,720.30 105.59,715.10 105.73,708.83 105.87,702.97 106.02,699.28 106.16,698.96 106.30,701.73 106.45,706.69 106.59,712.53 106.74,717.94 106.88,722.05 107.02,724.62 107.17,725.92 107.31,726.43 107.45,726.57 107.60,726.60 107.74,726.60 107.89,726.60 108.03,726.60 108.17,726.60 108.32,726.60 108.46,726.57 108.60,726.46 108.75,726.16 108.89,725.55 109.03,724.53 109.18,723.14 109.32,721.57 109.47,720.16 109.61,719.27 109.75,719.17 109.90,719.87 110.04,721.18 110.18,722.74 110.33,724.21 110.47,725.33 110.62,726.04 110.76,726.41 110.90,726.55 111.05,726.59 111.19,726.60 111.33,726.60 111.48,726.60 111.62,726.60 111.77,726.60 111.91,726.59 112.05,726.54 112.20,726.35 112.34,725.81 112.48,724.68 112.63,722.78 112.77,720.15 112.91,717.16 113.06,714.43 113.20,712.67 113.35,712.38 113.49,713.71 113.63,716.28 113.78,719.35 113.92,722.20 114.06,724.34 114.21,725.65 114.35,726.29 114.50,726.53 114.64,726.59 114.78,726.60 114.93,726.60 115.07,726.60 115.21,726.60 115.36,726.60 115.50,726.58 115.64,726.50 115.79,726.21 115.93,725.48 116.08,724.10 116.22,721.96 116.36,719.27 116.51,716.55 116.65,714.47 116.79,713.66 116.94,714.32 117.08,716.21 117.23,718.81 117.37,721.47 117.51,723.69 117.66,725.21 117.80,726.06 117.94,726.44 118.09,726.57 118.23,726.60 118.37,726.60 118.52,726.60 118.66,726.60 118.81,726.60 118.95,726.60 119.09,726.58 119.24,726.48 119.38,726.19 119.52,725.49 119.67,724.22 119.81,722.32 119.96,719.96 120.10,717.60 120.24,715.78 120.39,715.03 120.53,715.55 120.67,717.19 120.82,719.49 120.96,721.89 121.10,723.90 121.25,725.30 121.39,726.09 121.54,726.45 121.68,726.57 121.82,726.60 121.97,726.60 122.11,726.60 122.25,726.60 122.40,726.60 122.54,726.60 122.69,726.58 122.83,726.49 122.97,726.19 123.12,725.48 123.26,724.17 123.40,722.19 123.55,719.71 123.69,717.19 123.83,715.23 123.98,714.36 124.12,714.86 124.27,716.63 124.41,719.15 124.55,721.75 124.70,723.90 124.84,725.35 124.98,726.14 125.13,726.47 125.27,726.58 125.42,726.60 125.56,726.60 125.70,726.60 125.85,726.60 125.99,726.60 126.13,726.59 126.28,726.51 126.42,726.17 126.56,725.18 126.71,723.08 126.85,719.49 127.00,714.54 127.14,708.96 127.28,704.03 127.43,701.12 127.57,701.09 127.71,703.96 127.86,708.87 128.00,714.45 128.15,719.42 128.29,723.03 128.43,725.16 128.58,726.16 128.72,726.51 128.86,726.59 129.01,726.60 129.15,726.60 129.29,726.60 129.44,726.60 129.58,726.60 129.73,726.58 129.87,726.48 130.01,726.17 130.16,725.43 130.30,724.07 130.44,722.06 130.59,719.60 130.73,717.22 130.88,715.53 131.02,715.03 131.16,715.93 131.31,717.96 131.45,720.51 131.59,722.91 131.74,724.72 131.88,725.83 132.02,726.36 132.17,726.55 132.31,726.59 132.46,726.60 132.60,726.60 132.74,726.60 132.89,726.60 133.03,726.59 133.17,726.52 133.32,726.14 133.46,724.94 133.61,722.13 133.75,717.09 133.89,709.82 134.04,701.38 134.18,693.75 134.32,689.13 134.47,688.99 134.61,693.38 134.75,700.89 134.90,709.34 135.04,716.72 135.19,721.90 135.33,724.82 135.47,726.10 135.62,726.51 135.76,726.59 135.90,726.60 136.05,726.60 136.19,726.60 136.34,726.60 136.48,726.59 136.62,726.54 136.77,726.32 136.91,725.70 137.05,724.39 137.20,722.20 137.34,719.26 137.49,716.10 137.63,713.53 137.77,712.33 137.92,712.79 138.06,714.61 138.20,717.31 138.35,720.22 138.49,722.77 138.63,724.63 138.78,725.76 138.92,726.32 139.07,726.53 139.21,726.59 139.35,726.60 139.50,726.60 139.64,726.60 139.78,726.60 139.93,726.60 140.07,726.58 140.22,726.43 140.36,725.85 140.50,724.29 140.65,721.01 140.79,715.48 140.93,707.71 141.08,698.62 141.22,689.94 141.36,683.74 141.51,681.66 141.65,685.34 141.80,694.22 141.94,705.12 142.08,714.80 142.23,721.42 142.37,724.88 142.51,726.21 142.66,726.55 142.80,726.60 142.95,726.60 143.09,726.60 143.23,726.60 143.38,726.59 143.52,726.54 143.66,726.24 143.81,725.32 143.95,723.31 144.09,720.01 144.24,715.80 144.38,711.76 144.53,709.25 144.67,709.12 144.81,710.98 144.96,714.18 145.10,717.89 145.24,721.28 145.39,723.83 145.53,725.41 145.68,726.20 145.82,726.50 145.96,726.59 146.11,726.60 146.25,726.60 146.39,726.60 146.54,726.60 146.68,726.60 146.82,726.56 146.97,726.34 147.11,725.48 147.26,723.19 147.40,718.52 147.54,710.85 147.69,700.47 147.83,688.90 147.97,678.67 148.12,672.44 148.26,671.97 148.41,677.17 148.55,686.57 148.69,697.78 148.84,708.36 148.98,716.63 149.12,722.02 149.27,724.90 149.41,726.13 149.55,726.51 149.70,726.59 149.84,726.60 149.99,726.60 150.13,726.60 150.27,726.60 150.42,726.60 150.56,726.56 150.70,726.38 150.85,725.82 150.99,724.55 151.14,722.23 151.28,718.74 151.42,714.36 151.57,709.83 151.71,706.14 151.85,704.25 152.00,704.64 152.14,707.14 152.28,711.09 152.43,715.55 152.57,719.65 152.72,722.81 152.86,724.85 153.00,725.94 153.15,726.41 153.29,726.56 153.43,726.60 153.58,726.60 153.72,726.60 153.87,726.60 154.01,726.60 154.15,726.59 154.30,726.54 154.44,726.27 154.58,725.40 154.73,723.32 154.87,719.36 155.01,713.16 155.16,704.97 155.30,695.90 155.45,687.71 155.59,682.31 155.73,681.13 155.88,685.42 156.02,694.15 156.16,704.56 156.31,713.92 156.45,720.59 156.60,724.36 156.74,725.99 156.88,726.49 157.03,726.59 157.17,726.60 157.31,726.60 157.46,726.60 157.60,726.60 157.75,726.58 157.89,726.45 158.03,725.91 158.18,724.45 158.32,721.52 158.46,716.92 158.61,711.15 158.75,705.51 158.89,701.64 159.04,700.82 159.18,702.86 159.33,707.01 159.47,712.21 159.61,717.29 159.76,721.38 159.90,724.13 160.04,725.65 160.19,726.32 160.33,726.54 160.48,726.59 160.62,726.60 160.76,726.60 160.91,726.60 161.05,726.60 161.19,726.59 161.34,726.52 161.48,726.17 161.62,725.03 161.77,722.29 161.91,717.12 162.06,709.11 162.20,698.75 162.34,687.66 162.49,678.21 162.63,672.79 162.77,673.08 162.92,679.97 163.06,691.33 163.21,703.70 163.35,714.08 163.49,721.02 163.64,724.68 163.78,726.13 163.92,726.53 164.07,726.60 164.21,726.60 164.35,726.60 164.50,726.60 164.64,726.60 164.79,726.55 164.93,726.26 165.07,725.22 165.22,722.68 165.36,717.93 165.50,710.92 165.65,702.70 165.79,695.30 165.94,690.99 166.08,691.08 166.22,694.88 166.37,701.26 166.51,708.62 166.65,715.41 166.80,720.60 166.94,723.90 167.08,725.63 167.23,726.34 167.37,726.56 167.52,726.60 167.66,726.60 167.80,726.60 167.95,726.60 168.09,726.60 168.23,726.58 168.38,726.43 168.52,725.79 168.67,723.89 168.81,719.66 168.95,712.13 169.10,701.05 169.24,687.45 169.38,673.71 169.53,662.95 169.67,657.96 169.81,660.25 169.96,669.41 170.10,682.86 170.25,697.19 170.39,709.47 170.53,718.17 170.68,723.22 170.82,725.56 170.96,726.38 171.11,726.57 171.25,726.60 171.40,726.60 171.54,726.60 171.68,726.60 171.83,726.60 171.97,726.54 172.11,726.25 172.26,725.28 172.40,722.92 172.54,718.45 172.69,711.53 172.83,702.72 172.98,693.54 173.12,686.12 173.26,682.49 173.41,683.77 173.55,689.74 173.69,698.62 173.84,708.05 173.98,716.02 174.13,721.52 174.27,724.59 174.41,725.93 174.56,726.36 174.70,726.45 174.84,726.46 174.99,726.46 175.13,726.46 175.27,726.46 175.42,726.44 175.56,726.24 175.71,725.33 175.85,722.64 175.99,716.69 176.14,706.36 176.28,691.76 176.42,674.95 176.57,659.64 176.71,650.02 176.86,648.85 177.00,655.36 177.14,667.39 177.29,681.71 177.43,695.06 177.57,705.29 177.72,711.74 177.86,715.04 178.00,716.35 178.15,716.72 178.29,716.79 178.44,716.79 178.58,716.79 178.72,716.79 178.87,716.79 179.01,716.76 179.15,716.54 179.30,715.66 179.44,713.25 179.59,708.23 179.73,699.80 179.87,688.17 180.02,674.97 180.16,662.98 180.30,655.30 180.45,654.03 180.59,658.57 180.74,667.42 180.88,678.40 181.02,689.16 181.17,697.96 181.31,704.01 181.45,707.48 181.60,709.10 181.74,709.68 181.88,709.82 182.03,709.84 182.17,709.84 182.32,709.84 182.46,709.84 182.60,709.84 182.75,709.81 182.89,709.61 183.03,708.90 183.18,707.02 183.32,703.19 183.47,696.77 183.61,687.79 183.75,677.19 183.90,666.86 184.04,659.08 184.18,655.80 184.33,658.04 184.47,665.40 184.61,675.82 184.76,686.68 184.90,695.84 185.05,702.22 185.19,705.85 185.33,707.50 185.48,708.07 185.62,708.19 185.76,708.21 185.91,708.21 186.05,708.21 186.20,708.21 186.34,708.20 186.48,708.14 186.63,707.82 186.77,706.80 186.91,704.36 187.06,699.82 187.20,692.93 187.34,684.28 187.49,675.44 187.63,668.51 187.78,665.37 187.92,667.13 188.06,673.64 188.21,683.17 188.35,693.41 188.49,702.35 188.64,708.85 188.78,712.78 188.93,714.70 189.07,715.44 189.21,715.63 189.36,715.67 189.50,715.67 189.64,715.67 189.79,715.67 189.93,715.67 190.07,715.62 190.22,715.33 190.36,714.21 190.51,711.19 190.65,704.91 190.79,694.32 190.94,679.53 191.08,662.30 191.22,645.94 191.37,634.34 191.51,630.59 191.66,635.65 191.80,648.12 191.94,664.88 192.09,682.19 192.23,696.96 192.37,707.56 192.52,713.94 192.66,717.09 192.80,718.30 192.95,718.64 193.09,718.69 193.24,718.70 193.38,718.70 193.52,718.70 193.67,718.70 193.81,718.67 193.95,718.48 194.10,717.71 194.24,715.53 194.39,710.82 194.53,702.55 194.67,690.46 194.82,675.57 194.96,660.29 195.10,647.85 195.25,641.31 195.39,642.93 195.53,654.11 195.68,671.30 195.82,689.39 195.97,704.16 196.11,713.76 196.25,718.67 196.40,720.55 196.54,721.04 196.68,721.11 196.83,721.12 196.97,721.12 197.12,721.12 197.26,721.11 197.40,720.95 197.55,720.12 197.69,717.30 197.83,710.59 197.98,698.44 198.12,680.99 198.26,661.09 198.41,643.84 198.55,634.62 198.70,635.87 198.84,645.24 198.98,660.25 199.13,677.52 199.27,693.70 199.41,706.51 199.56,715.11 199.70,719.97 199.85,722.20 199.99,722.99 200.13,723.19 200.28,723.22 200.42,723.22 200.56,723.22 200.71,723.22 200.85,723.22 200.99,723.19 201.14,722.99 201.28,722.26 201.43,720.33 201.57,716.30 201.71,709.39 201.86,699.45 202.00,687.27 202.14,674.74 202.29,664.35 202.43,658.51 202.58,658.83 202.72,665.95 202.86,677.97 203.01,691.73 203.15,704.19 203.29,713.48 203.44,719.18 203.58,722.01 203.72,723.09 203.87,723.37 204.01,723.42 204.16,723.42 204.30,723.42 204.44,723.42 204.59,723.42 204.73,723.37 204.87,723.07 205.02,721.93 205.16,718.94 205.31,712.89 205.45,703.04 205.59,689.80 205.74,675.19 205.88,662.41 206.02,654.82 206.17,654.76 206.31,663.26 206.46,677.66 206.60,693.56 206.74,707.05 206.89,716.15 207.03,721.00 207.17,722.96 207.32,723.51 207.46,723.60 207.60,723.61 207.75,723.61 207.89,723.61 208.04,723.60 208.18,723.53 208.32,723.06 208.47,721.38 208.61,717.17 208.75,709.23 208.90,697.40 209.04,683.38 209.19,670.58 209.33,662.91 209.47,662.78 209.62,669.38 209.76,680.65 209.90,693.63 210.05,705.43 210.19,714.26 210.33,719.71 210.48,722.42 210.62,723.46 210.77,723.74 210.91,723.79 211.05,723.79 211.20,723.79 211.34,723.79 211.48,723.79 211.63,723.74 211.77,723.47 211.92,722.45 212.06,719.76 212.20,714.28 212.35,705.31 212.49,693.23 212.63,679.82 212.78,668.03 212.92,660.94 213.06,660.51 213.21,666.38 213.35,676.92 213.50,689.57 213.64,701.69 213.78,711.39 213.93,717.93 214.07,721.59 214.21,723.26 214.36,723.83 214.50,723.97 214.65,723.98 214.79,723.99 214.93,723.99 215.08,723.99 215.22,723.98 215.36,723.93 215.51,723.63 215.65,722.58 215.79,719.92 215.94,714.62 216.08,705.95 216.23,694.06 216.37,680.32 216.51,667.26 216.66,657.83 216.80,654.40 216.94,658.28 217.09,668.72 217.23,682.83 217.38,697.15 217.52,708.94 217.66,716.96 217.81,721.42 217.95,723.39 218.09,724.03 218.24,724.17 218.38,724.18 218.52,724.18 218.67,724.18 218.81,724.18 218.96,724.17 219.10,724.07 219.24,723.59 219.39,722.10 219.53,718.66 219.67,712.43 219.82,703.18 219.96,691.86 220.11,680.57 220.25,672.07 220.39,668.71 220.54,671.64 220.68,680.14 220.82,691.74 220.97,703.43 221.11,712.89 221.25,719.15 221.40,722.49 221.54,723.88 221.69,724.29 221.83,724.36 221.97,724.37 222.12,724.37 222.26,724.37 222.40,724.37 222.55,724.33 222.69,724.09 222.84,723.07 222.98,720.26 223.12,714.37 223.27,704.57 223.41,691.29 223.55,676.66 223.70,664.10 223.84,657.12 223.98,657.78 224.13,665.60 224.27,678.30 224.42,692.58 224.56,705.34 224.70,714.74 224.85,720.43 224.99,723.21 225.13,724.24 225.28,724.52 225.42,724.56 225.57,724.56 225.71,724.56 225.85,724.56 226.00,724.56 226.14,724.51 226.28,724.25 226.43,723.31 226.57,720.87 226.72,716.02 226.86,708.22 227.00,697.87 227.15,686.60 227.29,676.92 227.43,671.40 227.58,671.62 227.72,677.55 227.86,687.47 228.01,698.79 228.15,709.03 228.30,716.64 228.44,721.30 228.58,723.60 228.73,724.48 228.87,724.71 229.01,724.75 229.16,724.75 229.30,724.75 229.45,724.75 229.59,724.75 229.73,724.70 229.88,724.40 230.02,723.29 230.16,720.39 230.31,714.55 230.45,705.04 230.59,692.31 230.74,678.27 230.88,666.04 231.03,658.82 231.17,658.74 231.31,666.13 231.46,678.82 231.60,693.29 231.74,706.21 231.89,715.61 232.03,721.17 232.18,723.77 232.32,724.69 232.46,724.91 232.61,724.94 232.75,724.94 232.89,724.94 233.04,724.94 233.18,724.93 233.32,724.85 233.47,724.44 233.61,723.10 233.76,719.93 233.90,714.08 234.04,705.36 234.19,694.76 234.33,684.44 234.47,677.09 234.62,674.89 234.76,679.20 234.91,688.90 235.05,700.71 235.19,711.33 235.34,718.78 235.48,722.87 235.62,724.55 235.77,725.03 235.91,725.11 236.05,725.12 236.20,725.12 236.34,725.12 236.49,725.11 236.63,725.06 236.77,724.76 236.92,723.70 237.06,721.10 237.20,716.32 237.35,709.48 237.49,701.82 237.64,695.48 237.78,692.59" fill="none" stroke="#111" stroke-width="0.75" stroke-linejoin="round"/>
<polyline points="31.30,674.28 31.44,676.81 31.59,676.31 31.73,684.34 31.87,699.99 32.02,707.69 32.16,718.48 32.31,722.80 32.45,724.41 32.59,723.50 32.74,724.68 32.88,722.67 33.02,724.40 33.17,723.72 33.31,724.46 33.46,723.77 33.60,724.53 33.74,722.76 33.89,724.49 34.03,721.05 34.17,715.07 34.32,706.22 34.46,692.35 34.60,683.05 34.75,679.12 34.89,680.57 35.04,684.10 35.18,694.91 35.32,705.30 35.47,715.77 35.61,719.75 35.75,722.03 35.90,721.96 36.04,724.58 36.19,724.43 36.33,724.18 36.47,724.26 36.62,722.93 36.76,724.76 36.90,723.31 37.05,724.57 37.19,724.43 37.33,722.85 37.48,721.54 37.62,718.33 37.77,715.77 37.91,703.27 38.05,695.32 38.20,685.17 38.34,680.18 38.48,682.03 38.63,688.89 38.77,696.83 38.92,708.80 39.06,716.10 39.20,721.28 39.35,722.94 39.49,723.43 39.63,723.70 39.78,723.25 39.92,724.90 40.06,724.90 40.21,724.90 40.35,724.90 40.50,724.31 40.64,723.78 40.78,724.23 40.93,723.25 41.07,721.37 41.21,716.69 41.36,710.59 41.50,700.26 41.65,686.63 41.79,679.30 41.93,679.56 42.08,678.92 42.22,692.04 42.36,706.10 42.51,712.13 42.65,718.14 42.80,722.36 42.94,724.90 43.08,724.43 43.23,724.90 43.37,724.30 43.51,723.26 43.66,723.32 43.80,723.82 43.94,724.08 44.09,724.90 44.23,723.17 44.38,723.65 44.52,722.18 44.66,721.32 44.81,717.08 44.95,705.04 45.09,702.21 45.24,687.29 45.38,679.36 45.53,679.00 45.67,689.84 45.81,690.40 45.96,707.52 46.10,714.25 46.24,720.10 46.39,723.52 46.53,723.43 46.67,724.90 46.82,723.63 46.96,724.06 47.11,724.57 47.25,723.26 47.39,724.90 47.54,724.28 47.68,723.67 47.82,724.38 47.97,724.03 48.11,719.08 48.26,715.72 48.40,702.91 48.54,694.26 48.69,693.07 48.83,683.94 48.97,686.34 49.12,694.68 49.26,700.65 49.40,716.34 49.55,719.95 49.69,724.25 49.84,724.90 49.98,722.54 50.12,724.55 50.27,724.83 50.41,724.63 50.55,724.80 50.70,724.90 50.84,724.02 50.99,724.10 51.13,722.91 51.27,723.04 51.42,722.11 51.56,721.25 51.70,717.71 51.85,712.82 51.99,703.49 52.13,693.76 52.28,694.34 52.42,688.47 52.57,692.84 52.71,702.75 52.85,712.91 53.00,716.48 53.14,721.48 53.28,723.64 53.43,724.58 53.57,723.70 53.72,723.62 53.86,723.82 54.00,723.62 54.15,724.10 54.29,724.55 54.43,724.90 54.58,723.73 54.72,724.90 54.86,721.41 55.01,718.99 55.15,714.49 55.30,708.38 55.44,703.11 55.58,693.58 55.73,693.05 55.87,698.48 56.01,699.20 56.16,705.80 56.30,714.92 56.45,720.06 56.59,719.97 56.73,723.90 56.88,724.39 57.02,724.90 57.16,723.30 57.31,724.90 57.45,723.66 57.59,724.04 57.74,722.86 57.88,724.90 58.03,724.90 58.17,724.50 58.31,722.84 58.46,724.90 58.60,722.39 58.74,718.50 58.89,713.92 59.03,710.13 59.18,700.30 59.32,696.09 59.46,695.92 59.61,696.12 59.75,701.36 59.89,706.98 60.04,716.74 60.18,720.79 60.32,722.41 60.47,724.90 60.61,724.05 60.76,724.71 60.90,723.87 61.04,722.40 61.19,723.52 61.33,724.90 61.47,724.04 61.62,723.39 61.76,724.68 61.91,724.27 62.05,721.84 62.19,717.02 62.34,707.51 62.48,707.34 62.62,697.67 62.77,690.44 62.91,694.48 63.05,688.75 63.20,709.60 63.34,715.62 63.49,718.62 63.63,722.54 63.77,724.90 63.92,724.62 64.06,722.88 64.20,719.37 64.35,718.73 64.49,717.72 64.64,717.00 64.78,681.77 64.92,682.29 65.07,703.14 65.21,714.50 65.35,709.88 65.50,692.40 65.64,688.71 65.78,675.24 65.93,677.05 66.07,674.33 66.22,665.73 66.36,670.35 66.50,676.87 66.65,680.95 66.79,678.71 66.93,680.92 67.08,689.03 67.22,696.29 67.37,687.39 67.51,680.38 67.65,663.48 67.80,684.29 67.94,683.69 68.08,684.62 68.23,680.82 68.37,687.15 68.52,691.60 68.66,688.28 68.80,673.01 68.95,674.70 69.09,673.64 69.23,686.33 69.38,671.58 69.52,686.08 69.66,667.42 69.81,664.66 69.95,660.74 70.10,667.77 70.24,663.28 70.38,677.28 70.53,689.16 70.67,670.50 70.81,670.84 70.96,677.88 71.10,683.93 71.25,687.24 71.39,672.50 71.53,667.44 71.68,667.15 71.82,703.94 71.96,678.62 72.11,692.03 72.25,684.05 72.39,681.77 72.54,684.23 72.68,703.42 72.83,664.31 72.97,667.11 73.11,694.95 73.26,643.64 73.40,640.09 73.54,637.24 73.69,643.18 73.83,648.61 73.98,698.57 74.12,664.71 74.26,677.95 74.41,683.16 74.55,679.38 74.69,688.68 74.84,685.93 74.98,672.84 75.12,687.03 75.27,674.24 75.41,672.75 75.56,678.66 75.70,682.40 75.84,681.78 75.99,673.05 76.13,677.35 76.27,684.51 76.42,687.15 76.56,671.61 76.71,649.78 76.85,650.27 76.99,631.56 77.14,643.65 77.28,625.44 77.42,620.77 77.57,653.11 77.71,662.05 77.85,637.64 78.00,711.66 78.14,664.97 78.29,669.82 78.43,692.31 78.57,672.31 78.72,682.58 78.86,675.96 79.00,680.95 79.15,689.50 79.29,693.70 79.44,691.88 79.58,673.85 79.72,682.50 79.87,692.43 80.01,713.52 80.15,688.26 80.30,687.81 80.44,658.98 80.58,678.65 80.73,664.89 80.87,643.67 81.02,615.48 81.16,690.43 81.30,683.80 81.45,632.42 81.59,635.65 81.73,626.41 81.88,647.03 82.02,666.28 82.17,670.89 82.31,686.56 82.45,689.59 82.60,698.18 82.74,694.42 82.88,687.37 83.03,701.67 83.17,685.83 83.31,679.46 83.46,686.39 83.60,687.99 83.75,691.47 83.89,693.73 84.03,692.86 84.18,686.04 84.32,686.18 84.46,662.68 84.61,641.78 84.75,624.24 84.90,629.94 85.04,604.87 85.18,702.32 85.33,648.39 85.47,668.63 85.61,679.19 85.76,685.94 85.90,702.88 86.04,699.88 86.19,700.97 86.33,696.90 86.48,696.35 86.62,700.95 86.76,690.77 86.91,709.12 87.05,696.40 87.19,697.70 87.34,707.37 87.48,698.95 87.63,694.46 87.77,679.72 87.91,658.39 88.06,632.59 88.20,617.50 88.34,624.80 88.49,632.32 88.63,650.50 88.78,668.42 88.92,681.30 89.06,695.80 89.21,710.31 89.35,702.93 89.49,707.44 89.64,714.19 89.78,715.45 89.92,711.76 90.07,712.44 90.21,711.35 90.36,714.70 90.50,720.20 90.64,709.61 90.79,717.59 90.93,715.10 91.07,711.68 91.22,699.70 91.36,680.79 91.51,649.19 91.65,652.55 91.79,625.48 91.94,657.04 92.08,646.09 92.22,660.35 92.37,677.00 92.51,691.49 92.65,703.27 92.80,711.98 92.94,715.15 93.09,719.68 93.23,717.72 93.37,721.35 93.52,717.33 93.66,719.10 93.80,721.46 93.95,721.25 94.09,720.86 94.24,718.88 94.38,723.63 94.52,718.42 94.67,721.28 94.81,716.69 94.95,706.76 95.10,697.14 95.24,664.93 95.38,666.39 95.53,638.31 95.67,631.31 95.82,641.64 95.96,655.69 96.10,670.47 96.25,691.68 96.39,706.64 96.53,715.80 96.68,721.35 96.82,723.88 96.97,722.07 97.11,723.28 97.25,723.20 97.40,724.85 97.54,722.58 97.68,724.90 97.83,722.49 97.97,724.15 98.11,722.98 98.26,722.03 98.40,719.78 98.55,714.20 98.69,702.88 98.83,684.39 98.98,678.51 99.12,661.31 99.26,648.79 99.41,642.95 99.55,662.02 99.70,685.36 99.84,695.66 99.98,710.49 100.13,718.92 100.27,722.26 100.41,723.78 100.56,724.45 100.70,723.66 100.84,724.90 100.99,723.97 101.13,724.18 101.28,724.14 101.42,722.98 101.56,723.00 101.71,724.19 101.85,724.60 101.99,719.72 102.14,714.56 102.28,700.45 102.43,676.97 102.57,681.10 102.71,668.31 102.86,676.02 103.00,671.46 103.14,689.86 103.29,704.81 103.43,712.57 103.57,721.04 103.72,724.69 103.86,724.64 104.01,724.52 104.15,724.13 104.29,723.71 104.44,724.35 104.58,724.63 104.72,724.58 104.87,724.90 105.01,724.39 105.16,724.90 105.30,721.90 105.44,722.36 105.59,718.51 105.73,715.46 105.87,712.89 106.02,715.30 106.16,712.35 106.30,714.71 106.45,717.12 106.59,719.91 106.74,721.01 106.88,724.61 107.02,723.11 107.17,724.25 107.31,722.74 107.45,723.16 107.60,723.05 107.74,724.90 107.89,723.86 108.03,723.04 108.17,722.75 108.32,722.82 108.46,724.34 108.60,723.77 108.75,724.33 108.89,722.89 109.03,723.92 109.18,722.18 109.32,720.97 109.47,720.84 109.61,721.42 109.75,720.11 109.90,722.83 110.04,721.95 110.18,723.55 110.33,724.29 110.47,723.09 110.62,724.56 110.76,724.20 110.90,724.31 111.05,724.90 111.19,724.21 111.33,724.14 111.48,724.90 111.62,724.90 111.77,724.84 111.91,724.84 112.05,724.22 112.20,724.38 112.34,723.68 112.48,721.23 112.63,723.07 112.77,722.97 112.91,721.00 113.06,721.54 113.20,717.37 113.35,721.67 113.49,720.74 113.63,719.65 113.78,722.02 113.92,723.09 114.06,723.99 114.21,724.90 114.35,724.59 114.50,723.39 114.64,723.98 114.78,724.50 114.93,724.50 115.07,724.35 115.21,724.90 115.36,724.72 115.50,724.90 115.64,721.60 115.79,722.30 115.93,724.53 116.08,723.92 116.22,723.30 116.36,720.70 116.51,720.64 116.65,718.61 116.79,719.65 116.94,719.90 117.08,720.47 117.23,720.73 117.37,723.78 117.51,723.19 117.66,724.30 117.80,722.90 117.94,723.85 118.09,723.54 118.23,723.80 118.37,723.10 118.52,724.28 118.66,724.90 118.81,724.33 118.95,724.90 119.09,723.87 119.24,723.26 119.38,724.23 119.52,724.00 119.67,720.96 119.81,721.80 119.96,721.30 120.10,719.74 120.24,719.69 120.39,717.84 120.53,718.24 120.67,718.51 120.82,720.37 120.96,721.79 121.10,722.23 121.25,723.64 121.39,723.40 121.54,724.55 121.68,723.65 121.82,724.47 121.97,723.64 122.11,723.56 122.25,723.16 122.40,722.58 122.54,724.90 122.69,724.12 122.83,724.36 122.97,722.70 123.12,724.07 123.26,723.31 123.40,721.72 123.55,721.15 123.69,720.77 123.83,716.47 123.98,716.34 124.12,718.31 124.27,717.38 124.41,717.79 124.55,720.48 124.70,722.29 124.84,724.49 124.98,722.95 125.13,722.45 125.27,724.19 125.42,723.64 125.56,724.04 125.70,724.46 125.85,724.90 125.99,723.61 126.13,723.03 126.28,724.90 126.42,724.11 126.56,722.59 126.71,721.55 126.85,721.04 127.00,715.89 127.14,714.12 127.28,707.28 127.43,701.48 127.57,706.18 127.71,702.48 127.86,711.46 128.00,715.03 128.15,720.58 128.29,720.46 128.43,721.41 128.58,722.03 128.72,724.00 128.86,724.90 129.01,724.42 129.15,724.57 129.29,724.90 129.44,723.49 129.58,723.20 129.73,724.83 129.87,723.45 130.01,723.21 130.16,723.54 130.30,720.21 130.44,715.30 130.59,710.91 130.73,705.15 130.88,700.40 131.02,701.18 131.16,698.71 131.31,704.32 131.45,712.94 131.59,718.60 131.74,719.96 131.88,724.20 132.02,723.37 132.17,723.90 132.31,723.84 132.46,724.90 132.60,724.54 132.74,724.20 132.89,722.61 133.03,724.90 133.17,724.90 133.32,723.32 133.46,722.70 133.61,722.36 133.75,720.62 133.89,717.81 134.04,706.67 134.18,705.33 134.32,703.56 134.47,710.86 134.61,707.87 134.75,713.25 134.90,718.68 135.04,719.77 135.19,723.27 135.33,722.80 135.47,723.79 135.62,722.95 135.76,724.45 135.90,723.35 136.05,724.49 136.19,722.90 136.34,722.42 136.48,723.02 136.62,723.06 136.77,723.50 136.91,723.31 137.05,723.21 137.20,724.17 137.34,720.50 137.49,719.87 137.63,718.17 137.77,715.60 137.92,714.89 138.06,717.67 138.20,717.88 138.35,720.70 138.49,722.70 138.63,723.20 138.78,722.23 138.92,724.69 139.07,724.50 139.21,724.90 139.35,724.23 139.50,723.91 139.64,724.90 139.78,724.50 139.93,724.51 140.07,723.41 140.22,724.14 140.36,723.39 140.50,724.79 140.65,723.19 140.79,722.03 140.93,715.08 141.08,706.56 141.22,702.27 141.36,697.95 141.51,695.86 141.65,700.62 141.80,701.47 141.94,713.69 142.08,718.94 142.23,722.02 142.37,723.59 142.51,724.13 142.66,723.34 142.80,724.90 142.95,722.43 143.09,723.86 143.23,723.71 143.38,724.37 143.52,724.90 143.66,723.06 143.81,724.02 143.95,721.70 144.09,713.46 144.24,698.38 144.38,698.12 144.53,689.25 144.67,687.02 144.81,689.50 144.96,702.24 145.10,706.59 145.24,714.46 145.39,719.70 145.53,723.23 145.68,722.43 145.82,724.33 145.96,724.04 146.11,723.70 146.25,724.73 146.39,724.23 146.54,724.90 146.68,724.10 146.82,724.90 146.97,724.45 147.11,723.64 147.26,723.15 147.40,719.78 147.54,715.53 147.69,705.50 147.83,699.96 147.97,683.63 148.12,673.95 148.26,689.81 148.41,684.88 148.55,689.59 148.69,701.80 148.84,712.40 148.98,718.46 149.12,721.99 149.27,723.63 149.41,724.26 149.55,724.61 149.70,723.11 149.84,723.36 149.99,724.13 150.13,723.31 150.27,723.82 150.42,723.42 150.56,723.74 150.70,723.97 150.85,722.80 150.99,722.73 151.14,720.07 151.28,718.20 151.42,715.25 151.57,714.46 151.71,710.72 151.85,712.09 152.00,711.91 152.14,714.57 152.28,714.79 152.43,720.49 152.57,721.66 152.72,722.66 152.86,724.02 153.00,724.13 153.15,724.90 153.29,724.89 153.43,723.61 153.58,724.60 153.72,722.99 153.87,724.90 154.01,724.39 154.15,724.77 154.30,724.67 154.44,724.90 154.58,724.49 154.73,724.54 154.87,720.37 155.01,714.27 155.16,705.84 155.30,693.99 155.45,688.75 155.59,683.95 155.73,685.24 155.88,689.03 156.02,697.85 156.16,705.60 156.31,713.66 156.45,720.30 156.60,723.52 156.74,723.09 156.88,723.30 157.03,724.90 157.17,724.39 157.31,724.90 157.46,724.82 157.60,724.68 157.75,724.85 157.89,724.54 158.03,723.49 158.18,720.71 158.32,717.39 158.46,710.39 158.61,700.66 158.75,682.70 158.89,676.43 159.04,679.04 159.18,690.54 159.33,693.19 159.47,698.59 159.61,710.90 159.76,717.31 159.90,720.95 160.04,724.90 160.19,724.90 160.33,724.08 160.48,724.12 160.62,722.69 160.76,724.46 160.91,724.86 161.05,722.72 161.19,724.74 161.34,724.69 161.48,723.89 161.62,722.60 161.77,721.78 161.91,720.33 162.06,713.40 162.20,706.90 162.34,695.59 162.49,678.82 162.63,682.50 162.77,682.17 162.92,678.35 163.06,696.42 163.21,706.20 163.35,718.37 163.49,722.58 163.64,723.70 163.78,723.15 163.92,724.16 164.07,723.96 164.21,724.89 164.35,723.51 164.50,724.78 164.64,723.21 164.79,724.23 164.93,723.32 165.07,723.23 165.22,721.16 165.36,718.99 165.50,714.89 165.65,701.90 165.79,691.71 165.94,684.46 166.08,688.81 166.22,689.78 166.37,701.88 166.51,707.13 166.65,714.84 166.80,720.24 166.94,723.11 167.08,723.49 167.23,724.90 167.37,724.81 167.52,724.90 167.66,723.84 167.80,723.88 167.95,723.83 168.09,706.40 168.23,724.17 168.38,722.83 168.52,723.44 168.67,724.23 168.81,722.71 168.95,720.45 169.10,716.46 169.24,708.11 169.38,701.48 169.53,701.43 169.67,694.21 169.81,694.09 169.96,697.75 170.10,715.18 170.25,714.96 170.39,717.16 170.53,723.66 170.68,724.55 170.82,724.80 170.96,723.82 171.11,724.45 171.25,704.21 171.40,702.78 171.54,711.61 171.68,697.38 171.83,724.83 171.97,692.66 172.11,724.90 172.26,713.06 172.40,723.89 172.54,722.03 172.69,717.02 172.83,711.76 172.98,707.42 173.12,698.65 173.26,691.53 173.41,694.89 173.55,705.35 173.69,706.61 173.84,711.72 173.98,718.57 174.13,720.61 174.27,723.43 174.41,724.40 174.56,724.23 174.70,716.08 174.84,724.90 174.99,701.58 175.13,723.60 175.27,723.60 175.42,724.90 175.56,724.36 175.71,723.42 175.85,723.90 175.99,697.34 176.14,709.11 176.28,713.64 176.42,705.93 176.57,692.29 176.71,693.07 176.86,695.90 177.00,700.67 177.14,704.12 177.29,708.38 177.43,718.70 177.57,712.65 177.72,722.22 177.86,703.31 178.00,724.90 178.15,723.27 178.29,724.90 178.44,724.32 178.58,724.80 178.72,724.38 178.87,724.90 179.01,724.14 179.15,723.77 179.30,724.83 179.44,716.28 179.59,722.65 179.73,717.99 179.87,712.18 180.02,704.84 180.16,698.48 180.30,693.22 180.45,714.65 180.59,693.95 180.74,700.93 180.88,708.27 181.02,716.73 181.17,719.27 181.31,714.42 181.45,724.42 181.60,723.37 181.74,724.58 181.88,724.77 182.03,696.85 182.17,724.07 182.32,724.89 182.46,723.51 182.60,724.49 182.75,724.78 182.89,723.56 183.03,722.69 183.18,723.34 183.32,722.72 183.47,719.08 183.61,713.55 183.75,708.74 183.90,698.18 184.04,692.57 184.18,694.09 184.33,695.93 184.47,704.08 184.61,706.77 184.76,713.98 184.90,693.01 185.05,711.01 185.19,723.45 185.33,723.01 185.48,724.73 185.62,723.28 185.76,723.93 185.91,714.32 186.05,724.39 186.20,724.24 186.34,695.16 186.48,724.09 186.63,724.01 186.77,724.04 186.91,722.65 187.06,720.70 187.20,714.48 187.34,706.39 187.49,701.88 187.63,693.81 187.78,692.74 187.92,694.28 188.06,698.54 188.21,702.11 188.35,710.93 188.49,715.94 188.64,705.92 188.78,723.51 188.93,701.78 189.07,708.87 189.21,724.00 189.36,702.60 189.50,724.90 189.64,698.70 189.79,724.26 189.93,724.17 190.07,722.66 190.22,723.77 190.36,721.68 190.51,721.77 190.65,719.03 190.79,714.39 190.94,699.84 191.08,681.86 191.22,667.34 191.37,654.78 191.51,648.83 191.66,655.48 191.80,671.09 191.94,683.63 192.09,698.39 192.23,713.04 192.37,716.92 192.52,720.50 192.66,724.63 192.80,722.98 192.95,724.75 193.09,724.90 193.24,724.90 193.38,723.81 193.52,723.16 193.67,724.70 193.81,724.40 193.95,723.94 194.10,722.91 194.24,722.99 194.39,719.61 194.53,714.22 194.67,698.86 194.82,696.27 194.96,669.40 195.10,658.66 195.25,647.67 195.39,643.13 195.53,657.96 195.68,684.59 195.82,701.15 195.97,713.49 196.11,721.24 196.25,724.45 196.40,724.42 196.54,723.02 196.68,723.75 196.83,724.62 196.97,723.83 197.12,724.90 197.26,724.62 197.40,724.45 197.55,723.37 197.69,720.61 197.83,715.70 197.98,708.71 198.12,695.77 198.26,669.02 198.41,637.12 198.55,639.75 198.70,636.79 198.84,652.95 198.98,678.29 199.13,689.13 199.27,700.77 199.41,713.99 199.56,719.18 199.70,722.99 199.85,724.15 199.99,723.89 200.13,724.90 200.28,723.30 200.42,724.40 200.56,724.70 200.71,724.77 200.85,723.26 200.99,723.38 201.14,724.06 201.28,722.79 201.43,723.05 201.57,719.88 201.71,714.81 201.86,704.59 202.00,697.63 202.14,683.88 202.29,665.93 202.43,669.76 202.58,665.94 202.72,671.86 202.86,690.51 203.01,700.07 203.15,710.18 203.29,719.06 203.44,722.52 203.58,723.62 203.72,723.08 203.87,724.73 204.01,724.77 204.16,724.90 204.30,724.90 204.44,723.09 204.59,724.58 204.73,723.80 204.87,723.58 205.02,722.13 205.16,723.18 205.31,719.51 205.45,711.51 205.59,704.60 205.74,687.30 205.88,670.16 206.02,656.97 206.17,662.90 206.31,674.62 206.46,679.23 206.60,702.74 206.74,713.39 206.89,720.53 207.03,723.43 207.17,723.19 207.32,724.31 207.46,724.90 207.60,723.11 207.75,724.07 207.89,724.87 208.04,724.11 208.18,724.48 208.32,724.71 208.47,721.90 208.61,721.59 208.75,712.98 208.90,703.79 209.04,692.45 209.19,673.11 209.33,663.63 209.47,667.11 209.62,663.25 209.76,693.80 209.90,695.57 210.05,711.22 210.19,716.63 210.33,723.23 210.48,724.88 210.62,723.63 210.77,723.25 210.91,723.15 211.05,724.90 211.20,724.73 211.34,723.45 211.48,724.69 211.63,724.90 211.77,724.25 211.92,723.40 212.06,721.67 212.20,720.26 212.35,712.78 212.49,704.51 212.63,688.65 212.78,666.51 212.92,678.87 213.06,667.18 213.21,668.39 213.35,689.52 213.50,699.64 213.64,713.92 213.78,715.99 213.93,722.02 214.07,724.35 214.21,723.11 214.36,724.21 214.50,723.46 214.65,724.05 214.79,723.89 214.93,723.81 215.08,724.14 215.22,724.36 215.36,723.93 215.51,723.20 215.65,724.90 215.79,722.56 215.94,720.19 216.08,716.19 216.23,704.41 216.37,699.78 216.51,682.33 216.66,699.16 216.80,680.88 216.94,679.38 217.09,687.44 217.23,703.75 217.38,706.07 217.52,716.34 217.66,720.85 217.81,722.88 217.95,724.90 218.09,722.85 218.24,724.37 218.38,723.83 218.52,724.05 218.67,724.90 218.81,722.56 218.96,724.81 219.10,724.90 219.24,722.81 219.39,722.64 219.53,721.31 219.67,718.98 219.82,710.45 219.96,705.02 220.11,701.80 220.25,691.88 220.39,690.37 220.54,682.11 220.68,692.43 220.82,704.45 220.97,710.65 221.11,717.73 221.25,722.08 221.40,722.70 221.54,723.80 221.69,724.90 221.83,722.56 221.97,723.66 222.12,724.24 222.26,724.56 222.40,724.30 222.55,722.56 222.69,724.37 222.84,724.53 222.98,721.04 223.12,721.05 223.27,713.70 223.41,703.70 223.55,688.59 223.70,678.42 223.84,674.77 223.98,679.10 224.13,688.06 224.27,689.37 224.42,699.78 224.56,715.94 224.70,720.20 224.85,721.89 224.99,723.22 225.13,724.90 225.28,724.48 225.42,723.62 225.57,723.87 225.71,724.45 225.85,724.50 226.00,723.36 226.14,724.29 226.28,722.27 226.43,723.88 226.57,719.24 226.72,718.98 226.86,716.50 227.00,702.40 227.15,692.86 227.29,681.78 227.43,676.23 227.58,677.87 227.72,687.97 227.86,693.55 228.01,708.43 228.15,714.73 228.30,720.85 228.44,721.24 228.58,723.43 228.73,724.90 228.87,724.33 229.01,723.62 229.16,723.11 229.30,724.80 229.45,724.21 229.59,723.21 229.73,724.90 229.88,724.16 230.02,723.43 230.16,722.62 230.31,721.02 230.45,714.43 230.59,699.58 230.74,694.77 230.88,684.56 231.03,680.72 231.17,679.24 231.31,684.09 231.46,699.42 231.60,703.73 231.74,712.95 231.89,722.12 232.03,723.53 232.18,724.57 232.32,724.85 232.46,722.52 232.61,723.43 232.75,724.90 232.89,723.68 233.04,723.77 233.18,724.90 233.32,724.88 233.47,722.15 233.61,723.32 233.76,721.83 233.90,719.80 234.04,711.87 234.19,700.51 234.33,692.39 234.47,686.31 234.62,688.47 234.76,689.05 234.91,696.35 235.05,710.97 235.19,714.86 235.34,721.14 235.48,723.01 235.62,724.78 235.77,723.30 235.91,724.53 236.05,723.41 236.20,724.88 236.34,722.61 236.49,724.90 236.63,724.64 236.77,723.84 236.92,724.27 237.06,721.19 237.20,718.71 237.35,713.98 237.49,701.38 237.64,691.68 237.78,692.37" fill="none" stroke="none" marker-start="url(#mo)" marker-mid="url(#mo)" marker-end="url(#mo)"/>
</g>
<path d="M31.3 604.0V726.6" stroke="#d4d4d4" stroke-width="0.6"/>
<path d="M31.3 604.0H238.2V726.6" stroke="#a8a8a8" stroke-width="0.9" fill="none"/>
<path d="M31.3 726.60H238.2" stroke="#9a9a9a" stroke-width="0.9"/>
<text x="14.34" y="606.38" font-size="6.6" font-weight="bold" text-anchor="start" textLength="11.56" lengthAdjust="spacingAndGlyphs"  fill="#000" font-family='"Liberation Sans", sans-serif'>18.0</text>
<text x="14.34" y="620.00" font-size="6.6" font-weight="bold" text-anchor="start" textLength="11.56" lengthAdjust="spacingAndGlyphs"  fill="#000" font-family='"Liberation Sans", sans-serif'>16.0</text>
<text x="14.34" y="633.62" font-size="6.6" font-weight="bold" text-anchor="start" textLength="11.56" lengthAdjust="spacingAndGlyphs"  fill="#000" font-family='"Liberation Sans", sans-serif'>14.0</text>
<text x="14.34" y="647.24" font-size="6.6" font-weight="bold" text-anchor="start" textLength="11.56" lengthAdjust="spacingAndGlyphs"  fill="#000" font-family='"Liberation Sans", sans-serif'>12.0</text>
<text x="14.34" y="660.86" font-size="6.6" font-weight="bold" text-anchor="start" textLength="11.56" lengthAdjust="spacingAndGlyphs"  fill="#000" font-family='"Liberation Sans", sans-serif'>10.0</text>
<text x="17.64" y="674.49" font-size="6.6" font-weight="bold" text-anchor="start" textLength="8.26" lengthAdjust="spacingAndGlyphs"  fill="#000" font-family='"Liberation Sans", sans-serif'>8.0</text>
<text x="17.64" y="688.11" font-size="6.6" font-weight="bold" text-anchor="start" textLength="8.26" lengthAdjust="spacingAndGlyphs"  fill="#000" font-family='"Liberation Sans", sans-serif'>6.0</text>
<text x="17.64" y="701.73" font-size="6.6" font-weight="bold" text-anchor="start" textLength="8.26" lengthAdjust="spacingAndGlyphs"  fill="#000" font-family='"Liberation Sans", sans-serif'>4.0</text>
<text x="17.64" y="715.35" font-size="6.6" font-weight="bold" text-anchor="start" textLength="8.26" lengthAdjust="spacingAndGlyphs"  fill="#000" font-family='"Liberation Sans", sans-serif'>2.0</text>
<text x="17.64" y="728.98" font-size="6.6" font-weight="bold" text-anchor="start" textLength="8.26" lengthAdjust="spacingAndGlyphs"  fill="#000" font-family='"Liberation Sans", sans-serif'>0.0</text>
<text x="27.08" y="737.38" font-size="6.6" font-weight="bold" text-anchor="start" textLength="8.44" lengthAdjust="spacingAndGlyphs"  fill="#000" font-family='"Liberation Sans", sans-serif'>4/9</text>
<text x="59.88" y="737.38" font-size="6.6" font-weight="bold" text-anchor="start" textLength="11.82" lengthAdjust="spacingAndGlyphs"  fill="#000" font-family='"Liberation Sans", sans-serif'>4/14</text>
<text x="94.36" y="737.38" font-size="6.6" font-weight="bold" text-anchor="start" textLength="11.82" lengthAdjust="spacingAndGlyphs"  fill="#000" font-family='"Liberation Sans", sans-serif'>4/19</text>
<text x="128.85" y="737.38" font-size="6.6" font-weight="bold" text-anchor="start" textLength="11.82" lengthAdjust="spacingAndGlyphs"  fill="#000" font-family='"Liberation Sans", sans-serif'>4/24</text>
<text x="163.33" y="737.38" font-size="6.6" font-weight="bold" text-anchor="start" textLength="11.82" lengthAdjust="spacingAndGlyphs"  fill="#000" font-family='"Liberation Sans", sans-serif'>4/29</text>
<text x="199.50" y="737.38" font-size="6.6" font-weight="bold" text-anchor="start" textLength="8.44" lengthAdjust="spacingAndGlyphs"  fill="#000" font-family='"Liberation Sans", sans-serif'>5/4</text>
<text x="233.99" y="737.38" font-size="6.6" font-weight="bold" text-anchor="start" textLength="8.44" lengthAdjust="spacingAndGlyphs"  fill="#000" font-family='"Liberation Sans", sans-serif'>5/9</text>
<text x="94.90" y="598.60" font-size="8.8" font-weight="bold" text-anchor="start" textLength="62.90" lengthAdjust="spacingAndGlyphs"  fill="#000" font-family='"Liberation Sans", sans-serif'>Seomjin bridge</text>
<text x="218.10" y="601.70" font-size="5.6" font-weight="bold" textLength="17.90" lengthAdjust="spacingAndGlyphs" font-family='"Liberation Sans", sans-serif'>R<tspan font-size="3.6" dy="-2">2</tspan><tspan dy="2"> 0.66</tspan></text>
<rect x="31.3" y="604.3" width="41.4" height="13.0" fill="#fff" stroke="#8c8c8c" stroke-width="0.8"/>
<circle cx="37.5" cy="610.8" r="1.0" fill="none" stroke="#f01818" stroke-width="0.6"/>
<text x="42.20" y="612.80" font-size="5.6" font-weight="bold" text-anchor="start" textLength="8.00" lengthAdjust="spacingAndGlyphs"  fill="#000" font-family='"Liberation Sans", sans-serif'>Obs.</text>
<path d="M55.0 610.8H61.0" stroke="#222" stroke-width="0.7"/>
<text x="61.80" y="612.80" font-size="5.6" font-weight="bold" text-anchor="start" textLength="8.70" lengthAdjust="spacingAndGlyphs"  fill="#000" font-family='"Liberation Sans", sans-serif'>Sim.</text>
<text transform="translate(12.80,665.90) rotate(-90)" x="0" y="0" text-anchor="middle" font-size="8.17" font-weight="bold" textLength="52.40" lengthAdjust="spacingAndGlyphs" font-family='"Liberation Sans", sans-serif'>Salinity (psu)</text>
<text x="99.50" y="745.60" font-size="8.8" font-weight="bold" text-anchor="start" textLength="69.90" lengthAdjust="spacingAndGlyphs"  fill="#000" font-family='"Liberation Sans", sans-serif'>Date (30minutes)</text>
<path d="M336.2 617.10H542.7M336.2 632.80H542.7M336.2 648.50H542.7M336.2 664.20H542.7M336.2 679.90H542.7M336.2 695.60H542.7M336.2 711.30H542.7M370.62 601.4V727.0M405.03 601.4V727.0M439.44 601.4V727.0M473.86 601.4V727.0M508.27 601.4V727.0" stroke="#e4e4e4" stroke-width="0.6" fill="none"/>
<g>
<polyline points="336.20,648.13 336.34,644.15 336.49,642.62 336.63,643.67 336.77,647.22 336.92,653.00 337.06,660.58 337.20,669.40 337.35,678.81 337.49,688.12 337.63,696.62 337.78,703.70 337.92,708.83 338.06,711.62 338.21,711.89 338.35,709.73 338.49,705.33 338.64,699.02 338.78,691.26 338.92,682.63 339.07,673.77 339.21,665.34 339.35,657.95 339.50,652.17 339.64,648.40 339.78,646.94 339.93,647.76 340.07,650.59 340.22,655.26 340.36,661.48 340.50,668.85 340.65,676.93 340.79,685.21 340.93,693.17 341.08,700.31 341.22,706.19 341.36,710.45 341.51,712.81 341.65,713.14 341.79,711.37 341.94,707.60 342.08,702.06 342.22,695.11 342.37,687.18 342.51,678.75 342.65,670.36 342.80,662.53 342.94,655.74 343.08,650.43 343.23,646.91 343.37,645.41 343.51,646.09 343.66,649.06 343.80,654.12 343.94,660.90 344.09,668.95 344.23,677.69 344.37,686.52 344.52,694.81 344.66,702.00 344.80,707.57 344.95,711.15 345.09,712.47 345.23,711.57 345.38,708.64 345.52,703.91 345.66,697.68 345.81,690.41 345.95,682.60 346.09,674.79 346.24,667.52 346.38,661.32 346.52,656.60 346.67,653.70 346.81,652.82 346.95,653.83 347.10,656.53 347.24,660.76 347.38,666.27 347.53,672.73 347.67,679.77 347.82,686.97 347.96,693.89 348.10,700.15 348.25,705.36 348.39,709.21 348.53,711.49 348.68,712.05 348.82,710.77 348.96,707.67 349.11,702.92 349.25,696.82 349.39,689.72 349.54,682.04 349.68,674.23 349.82,666.76 349.97,660.07 350.11,654.54 350.25,650.51 350.40,648.21 350.54,647.79 350.68,649.21 350.83,652.39 350.97,657.13 351.11,663.13 351.26,670.01 351.40,677.35 351.54,684.69 351.69,691.57 351.83,697.56 351.97,702.30 352.12,705.48 352.26,706.91 352.40,706.50 352.55,704.27 352.69,700.36 352.83,695.02 352.98,688.58 353.12,681.44 353.26,674.04 353.41,666.85 353.55,660.31 353.69,654.84 353.84,650.77 353.98,648.35 354.12,647.74 354.27,649.02 354.41,652.13 354.55,656.86 354.70,662.91 354.84,669.86 354.98,677.27 355.13,684.65 355.27,691.51 355.42,697.39 355.56,701.92 355.70,704.78 355.85,705.80 355.99,704.89 356.13,702.06 356.28,697.52 356.42,691.56 356.56,684.57 356.71,677.01 356.85,669.39 356.99,662.20 357.14,655.92 357.28,650.96 357.42,647.65 357.57,646.20 357.71,646.67 357.85,648.92 358.00,652.75 358.14,657.87 358.28,663.88 358.43,670.29 358.57,676.62 358.71,682.35 358.86,687.04 359.00,690.32 359.14,691.93 359.29,691.70 359.43,689.51 359.57,685.51 359.72,680.02 359.86,673.47 360.00,666.37 360.15,659.29 360.29,652.78 360.43,647.36 360.58,643.44 360.72,641.35 360.86,641.20 361.01,642.65 361.15,645.54 361.29,649.71 361.44,654.91 361.58,660.83 361.72,667.12 361.87,673.41 362.01,679.34 362.15,684.54 362.30,688.72 362.44,691.62 362.58,693.09 362.73,693.02 362.87,691.45 363.02,688.46 363.16,684.24 363.30,679.04 363.45,673.16 363.59,666.94 363.73,660.76 363.88,654.98 364.02,649.94 364.16,645.94 364.31,643.22 364.45,641.92 364.59,641.98 364.74,642.83 364.88,644.35 365.02,646.47 365.17,649.04 365.31,651.91 365.45,654.90 365.60,657.82 365.74,660.49 365.88,662.74 366.03,664.43 366.17,665.46 366.31,665.77 366.46,665.21 366.60,663.75 366.74,661.47 366.89,658.52 367.03,655.07 367.17,651.36 367.32,647.60 367.46,644.03 367.60,640.87 367.75,638.32 367.89,636.55 368.03,635.65 368.18,635.70 368.32,636.81 368.46,638.90 368.61,641.85 368.75,645.46 368.89,649.48 369.04,653.66 369.18,657.72 369.32,661.40 369.47,664.44 369.61,666.65 369.75,667.89 369.90,668.05 370.04,667.00 370.18,664.75 370.33,661.46 370.47,657.34 370.62,652.67 370.76,647.74 370.90,642.89 371.05,638.44 371.19,634.67 371.33,631.84 371.48,630.14 371.62,629.67 371.76,630.12 371.91,631.27 372.05,633.04 372.19,635.32 372.34,637.96 372.48,640.82 372.62,643.70 372.77,646.42 372.91,648.82 373.05,650.76 373.20,652.09 373.34,652.75 373.48,652.67 373.63,651.73 373.77,649.98 373.91,647.52 374.06,644.51 374.20,641.14 374.34,637.62 374.49,634.16 374.63,630.99 374.77,628.30 374.92,626.25 375.06,624.98 375.20,624.56 375.35,625.03 375.49,626.38 375.63,628.53 375.78,631.33 375.92,634.61 376.06,638.17 376.21,641.79 376.35,645.24 376.49,648.30 376.64,650.79 376.78,652.55 376.92,653.48 377.07,653.47 377.21,652.32 377.35,650.07 377.50,646.85 377.64,642.87 377.78,638.37 377.93,633.63 378.07,628.95 378.21,624.62 378.36,620.91 378.50,618.05 378.65,616.22 378.79,615.53 378.93,615.87 379.08,616.97 379.22,618.78 379.36,621.21 379.51,624.10 379.65,627.31 379.79,630.65 379.94,633.93 380.08,636.98 380.22,639.61 380.37,641.69 380.51,643.09 380.65,643.75 380.80,643.62 380.94,642.76 381.08,641.20 381.23,639.05 381.37,636.41 381.51,633.44 381.66,630.30 381.80,627.17 381.94,624.22 382.09,621.63 382.23,619.52 382.37,618.03 382.52,617.23 382.66,617.16 382.80,617.81 382.95,619.11 383.09,621.01 383.23,623.39 383.38,626.12 383.52,629.05 383.66,632.01 383.81,634.85 383.95,637.39 384.09,639.50 384.24,641.06 384.38,641.98 384.52,642.21 384.67,641.60 384.81,640.14 384.95,637.88 385.10,634.97 385.24,631.57 385.38,627.86 385.53,624.05 385.67,620.36 385.81,617.00 385.96,614.14 386.10,611.95 386.25,610.56 386.39,610.04 386.53,610.49 386.68,611.99 386.82,614.45 386.96,617.70 387.11,621.55 387.25,625.77 387.39,630.08 387.54,634.21 387.68,637.92 387.82,640.96 387.97,643.15 388.11,644.36 388.25,644.51 388.40,643.63 388.54,641.80 388.68,639.12 388.83,635.78 388.97,631.96 389.11,627.91 389.26,623.89 389.40,620.15 389.54,616.90 389.69,614.37 389.83,612.71 389.97,612.02 390.12,612.35 390.26,613.71 390.40,616.01 390.55,619.12 390.69,622.84 390.83,626.93 390.98,631.14 391.12,635.21 391.26,638.89 391.41,641.94 391.55,644.18 391.69,645.47 391.84,645.72 391.98,644.95 392.12,643.21 392.27,640.62 392.41,637.33 392.55,633.55 392.70,629.52 392.84,625.49 392.98,621.70 393.13,618.39 393.27,615.78 393.41,614.02 393.56,613.22 393.70,613.46 393.85,614.81 393.99,617.20 394.13,620.50 394.28,624.52 394.42,629.03 394.56,633.79 394.71,638.53 394.85,642.98 394.99,646.89 395.14,650.04 395.28,652.27 395.42,653.44 395.57,653.50 395.71,652.56 395.85,650.68 396.00,647.99 396.14,644.62 396.28,640.76 396.43,636.63 396.57,632.47 396.71,628.50 396.86,624.94 397.00,622.00 397.14,619.85 397.29,618.59 397.43,618.32 397.57,619.73 397.72,623.01 397.86,627.88 398.00,633.94 398.15,640.68 398.29,647.53 398.43,653.92 398.58,659.31 398.72,663.25 398.86,665.41 399.01,665.63 399.15,664.02 399.29,660.77 399.44,656.15 399.58,650.54 399.72,644.41 399.87,638.28 400.01,632.66 400.15,628.02 400.30,624.76 400.44,623.14 400.58,623.24 400.73,624.80 400.87,627.69 401.01,631.73 401.16,636.66 401.30,642.19 401.45,647.97 401.59,653.63 401.73,658.82 401.88,663.23 402.02,666.57 402.16,668.63 402.31,669.30 402.45,668.65 402.59,666.83 402.74,663.95 402.88,660.20 403.02,655.80 403.17,651.03 403.31,646.19 403.45,641.58 403.60,637.49 403.74,634.17 403.88,631.82 404.03,630.61 404.17,630.65 404.31,632.36 404.46,635.66 404.60,640.33 404.74,646.01 404.89,652.27 405.03,658.67 405.17,664.72 405.32,669.98 405.46,674.05 405.60,676.64 405.75,677.54 405.89,676.81 406.03,674.61 406.18,671.10 406.32,666.54 406.46,661.26 406.61,655.67 406.75,650.17 406.89,645.17 407.04,641.05 407.18,638.10 407.32,636.55 407.47,636.56 407.61,638.55 407.75,642.45 407.90,648.02 408.04,654.92 408.18,662.71 408.33,670.92 408.47,679.02 408.61,686.52 408.76,692.95 408.90,697.90 409.05,701.07 409.19,702.27 409.33,701.52 409.48,699.05 409.62,695.01 409.76,689.64 409.91,683.29 410.05,676.35 410.19,669.25 410.34,662.44 410.48,656.33 410.62,651.32 410.77,647.70 410.91,645.72 411.05,645.50 411.20,647.30 411.34,651.05 411.48,656.50 411.63,663.31 411.77,671.01 411.91,679.11 412.06,687.06 412.20,694.35 412.34,700.49 412.49,705.09 412.63,707.82 412.77,708.53 412.92,707.22 413.06,704.02 413.20,699.14 413.35,692.90 413.49,685.71 413.63,678.05 413.78,670.43 413.92,663.33 414.06,657.24 414.21,652.55 414.35,649.57 414.49,648.50 414.64,649.46 414.78,652.43 414.92,657.24 415.07,663.58 415.21,671.06 415.35,679.22 415.50,687.54 415.64,695.50 415.78,702.62 415.93,708.44 416.07,712.61 416.21,714.86 416.36,715.08 416.50,713.46 416.65,710.15 416.79,705.36 416.93,699.39 417.08,692.61 417.22,685.44 417.36,678.33 417.51,671.72 417.65,666.02 417.79,661.59 417.94,658.71 418.08,657.55 418.22,658.20 418.37,660.66 418.51,664.77 418.65,670.27 418.80,676.83 418.94,684.03 419.08,691.43 419.23,698.56 419.37,704.98 419.51,710.29 419.66,714.16 419.80,716.34 419.94,716.72 420.09,715.41 420.23,712.55 420.37,708.32 420.52,702.97 420.66,696.85 420.80,690.33 420.95,683.83 421.09,677.73 421.23,672.44 421.38,668.27 421.52,665.48 421.66,664.25 421.81,664.65 421.95,666.64 422.09,670.11 422.24,674.86 422.38,680.63 422.52,687.10 422.67,693.89 422.81,700.64 422.95,706.97 423.10,712.51 423.24,716.97 423.38,720.09 423.53,721.69 423.67,721.70 423.81,720.17 423.96,717.18 424.10,712.91 424.25,707.60 424.39,701.53 424.53,695.06 424.68,688.54 424.82,682.34 424.96,676.80 425.11,672.24 425.25,668.91 425.39,666.99 425.54,666.62 425.68,668.11 425.82,671.50 425.97,676.53 426.11,682.82 426.25,689.92 426.40,697.29 426.54,704.39 426.68,710.69 426.83,715.73 426.97,719.14 427.11,720.65 427.26,720.17 427.40,717.76 427.54,713.59 427.69,707.96 427.83,701.31 427.97,694.11 428.12,686.91 428.26,680.24 428.40,674.59 428.55,670.38 428.69,667.92 428.83,667.39 428.98,668.61 429.12,671.44 429.26,675.68 429.41,681.08 429.55,687.30 429.69,693.95 429.84,700.62 429.98,706.88 430.12,712.37 430.27,716.72 430.41,719.66 430.55,721.03 430.70,720.72 430.84,718.76 430.98,715.28 431.13,710.48 431.27,704.67 431.41,698.21 431.56,691.50 431.70,684.96 431.85,679.00 431.99,673.98 432.13,670.23 432.28,667.98 432.42,667.35 432.56,668.46 432.71,671.25 432.85,675.54 432.99,681.05 433.14,687.42 433.28,694.22 433.42,701.01 433.57,707.34 433.71,712.79 433.85,717.00 434.00,719.71 434.14,720.72 434.28,719.97 434.43,717.51 434.57,713.50 434.71,708.21 434.86,701.99 435.00,695.24 435.14,688.41 435.29,681.95 435.43,676.29 435.57,671.80 435.72,668.77 435.86,667.41 436.00,667.84 436.15,670.15 436.29,674.17 436.43,679.60 436.58,686.05 436.72,693.02 436.86,700.02 437.01,706.51 437.15,712.02 437.29,716.13 437.44,718.56 437.58,719.10 437.72,717.67 437.87,714.35 438.01,709.37 438.15,703.11 438.30,696.03 438.44,688.66 438.58,681.54 438.73,675.20 438.87,670.11 439.01,666.65 439.16,665.07 439.30,665.41 439.44,667.42 439.59,670.97 439.73,675.84 439.88,681.71 440.02,688.23 440.16,694.99 440.31,701.57 440.45,707.55 440.59,712.57 440.74,716.32 440.88,718.55 441.02,719.13 441.17,718.04 441.31,715.36 441.45,711.25 441.60,705.97 441.74,699.85 441.88,693.26 442.03,686.63 442.17,680.36 442.31,674.85 442.46,670.43 442.60,667.38 442.74,665.90 442.89,666.10 443.03,668.10 443.17,671.76 443.32,676.80 443.46,682.86 443.60,689.48 443.75,696.18 443.89,702.46 444.03,707.85 444.18,711.96 444.32,714.48 444.46,715.22 444.61,714.02 444.75,710.91 444.89,706.11 445.04,699.98 445.18,692.97 445.32,685.61 445.47,678.43 445.61,671.97 445.75,666.71 445.90,663.04 446.04,661.23 446.18,661.36 446.33,663.24 446.47,666.71 446.61,671.57 446.76,677.51 446.90,684.16 447.04,691.11 447.19,697.93 447.33,704.18 447.48,709.48 447.62,713.50 447.76,715.99 447.91,716.79 448.05,715.86 448.19,713.25 448.34,709.12 448.48,703.74 448.62,697.43 448.77,690.59 448.91,683.65 449.05,677.04 449.20,671.17 449.34,666.40 449.48,663.04 449.63,661.29 449.77,661.29 449.91,663.19 450.06,666.88 450.20,672.09 450.34,678.43 450.49,685.43 450.63,692.57 450.77,699.33 450.92,705.20 451.06,709.75 451.20,712.64 451.35,713.65 451.49,712.63 451.63,709.55 451.78,704.63 451.92,698.25 452.06,690.87 452.21,683.04 452.35,675.34 452.49,668.34 452.64,662.56 452.78,658.43 452.92,656.26 453.07,656.13 453.21,657.65 453.35,660.64 453.50,664.94 453.64,670.31 453.78,676.44 453.93,683.00 454.07,689.62 454.21,695.92 454.36,701.56 454.50,706.21 454.64,709.63 454.79,711.61 454.93,712.05 455.08,710.92 455.22,708.28 455.36,704.29 455.51,699.16 455.65,693.19 455.79,686.70 455.94,680.07 456.08,673.65 456.22,667.82 456.37,662.89 456.51,659.14 456.65,656.79 456.80,655.96 456.94,656.82 457.08,659.45 457.23,663.66 457.37,669.12 457.51,675.45 457.66,682.16 457.80,688.76 457.94,694.76 458.09,699.72 458.23,703.27 458.37,705.15 458.52,705.20 458.66,703.34 458.80,699.68 458.95,694.50 459.09,688.18 459.23,681.18 459.38,674.04 459.52,667.27 459.66,661.38 459.81,656.80 459.95,653.87 460.09,652.82 460.24,653.74 460.38,656.60 460.52,661.18 460.67,667.15 460.81,674.07 460.95,681.41 461.10,688.65 461.24,695.24 461.38,700.69 461.53,704.60 461.67,706.68 461.81,706.77 461.96,704.82 462.10,700.97 462.24,695.50 462.39,688.81 462.53,681.41 462.68,673.83 462.82,666.65 462.96,660.39 463.11,655.52 463.25,652.40 463.39,651.25 463.54,651.86 463.68,653.82 463.82,657.00 463.97,661.21 464.11,666.17 464.25,671.59 464.40,677.12 464.54,682.42 464.68,687.16 464.83,691.04 464.97,693.83 465.11,695.34 465.26,695.49 465.40,694.21 465.54,691.57 465.69,687.74 465.83,682.96 465.97,677.52 466.12,671.77 466.26,666.06 466.40,660.74 466.55,656.16 466.69,652.59 466.83,650.25 466.98,649.30 467.12,649.63 467.26,650.91 467.41,653.07 467.55,656.01 467.69,659.55 467.84,663.52 467.98,667.71 468.12,671.88 468.27,675.82 468.41,679.33 468.55,682.20 468.70,684.30 468.84,685.51 468.98,685.76 469.13,685.01 469.27,683.29 469.41,680.70 469.56,677.36 469.70,673.46 469.84,669.20 469.99,664.81 470.13,660.53 470.28,656.57 470.42,653.16 470.56,650.47 470.71,648.64 470.85,647.78 470.99,647.93 471.14,649.09 471.28,651.21 471.42,654.15 471.57,657.74 471.71,661.76 471.85,666.00 472.00,670.18 472.14,674.07 472.28,677.43 472.43,680.07 472.57,681.83 472.71,682.61 472.86,682.33 473.00,680.93 473.14,678.48 473.29,675.13 473.43,671.08 473.57,666.56 473.72,661.85 473.86,657.21 474.00,652.94 474.15,649.27 474.29,646.42 474.43,644.56 474.58,643.80 474.72,644.23 474.86,645.87 475.01,648.61 475.15,652.24 475.29,656.50 475.44,661.06 475.58,665.60 475.72,669.77 475.87,673.26 476.01,675.83 476.15,677.27 476.30,677.48 476.44,676.44 476.58,674.24 476.73,671.03 476.87,667.05 477.01,662.60 477.16,658.01 477.30,653.61 477.44,649.74 477.59,646.68 477.73,644.65 477.88,643.81 478.02,644.08 478.16,645.18 478.31,647.05 478.45,649.57 478.59,652.60 478.74,655.95 478.88,659.42 479.02,662.83 479.17,665.95 479.31,668.61 479.45,670.65 479.60,671.95 479.74,672.44 479.88,672.00 480.03,670.54 480.17,668.15 480.31,664.97 480.46,661.19 480.60,657.04 480.74,652.74 480.89,648.57 481.03,644.77 481.17,641.56 481.32,639.12 481.46,637.61 481.60,637.12 481.75,637.46 481.89,638.45 482.03,640.01 482.18,642.07 482.32,644.49 482.46,647.14 482.61,649.86 482.75,652.48 482.89,654.86 483.04,656.85 483.18,658.34 483.32,659.24 483.47,659.48 483.61,659.03 483.75,657.88 483.90,656.09 484.04,653.77 484.18,651.06 484.33,648.11 484.47,645.11 484.61,642.23 484.76,639.64 484.90,637.49 485.04,635.90 485.19,634.98 485.33,634.78 485.48,635.24 485.62,636.30 485.76,637.92 485.91,639.98 486.05,642.37 486.19,644.95 486.34,647.57 486.48,650.07 486.62,652.30 486.77,654.13 486.91,655.46 487.05,656.20 487.20,656.31 487.34,655.63 487.48,654.16 487.63,651.98 487.77,649.23 487.91,646.06 488.06,642.67 488.20,639.25 488.34,636.01 488.49,633.13 488.63,630.79 488.77,629.13 488.92,628.23 489.06,628.17 489.20,629.02 489.35,630.73 489.49,633.22 489.63,636.33 489.78,639.88 489.92,643.67 490.06,647.45 490.21,651.03 490.35,654.17 490.49,656.71 490.64,658.48 490.78,659.38 490.92,659.37 491.07,658.48 491.21,656.78 491.35,654.35 491.50,651.34 491.64,647.94 491.78,644.33 491.93,640.75 492.07,637.38 492.21,634.45 492.36,632.10 492.50,630.50 492.64,629.73 492.79,629.84 492.93,630.91 493.08,632.88 493.22,635.63 493.36,639.01 493.51,642.84 493.65,646.89 493.79,650.95 493.94,654.78 494.08,658.17 494.22,660.94 494.37,662.92 494.51,664.00 494.65,664.13 494.80,663.24 494.94,661.37 495.08,658.63 495.23,655.17 495.37,651.18 495.51,646.89 495.66,642.53 495.80,638.35 495.94,634.59 496.09,631.45 496.23,629.12 496.37,627.71 496.52,627.32 496.66,628.41 496.80,631.19 496.95,635.44 497.09,640.83 497.23,646.94 497.38,653.27 497.52,659.33 497.66,664.66 497.81,668.81 497.95,671.48 498.09,672.44 498.24,671.73 498.38,669.51 498.52,665.96 498.67,661.36 498.81,656.07 498.95,650.51 499.10,645.12 499.24,640.32 499.38,636.48 499.53,633.92 499.67,632.83 499.81,633.21 499.96,634.86 500.10,637.68 500.24,641.50 500.39,646.13 500.53,651.30 500.68,656.71 500.82,662.07 500.96,667.08 501.11,671.46 501.25,674.95 501.39,677.38 501.54,678.59 501.68,678.55 501.82,677.33 501.97,675.04 502.11,671.78 502.25,667.75 502.40,663.17 502.54,658.29 502.68,653.40 502.83,648.75 502.97,644.62 503.11,641.24 503.26,638.79 503.40,637.40 503.54,637.19 503.69,638.48 503.83,641.31 503.97,645.52 504.12,650.85 504.26,656.99 504.40,663.58 504.55,670.23 504.69,676.55 504.83,682.16 504.98,686.73 505.12,690.00 505.26,691.77 505.41,691.95 505.55,690.60 505.69,687.84 505.84,683.82 505.98,678.78 506.12,673.02 506.27,666.88 506.41,660.72 506.55,654.91 506.70,649.78 506.84,645.64 506.98,642.73 507.13,641.23 507.27,641.34 507.41,643.72 507.56,648.30 507.70,654.72 507.84,662.47 507.99,670.95 508.13,679.48 508.27,687.40 508.42,694.07 508.56,698.98 508.71,701.74 508.85,702.15 508.99,700.33 509.14,696.49 509.28,690.92 509.42,684.07 509.57,676.47 509.71,668.73 509.85,661.44 510.00,655.20 510.14,650.48 510.28,647.66 510.43,646.96 510.57,648.19 510.71,651.15 510.86,655.66 511.00,661.47 511.14,668.23 511.29,675.54 511.43,682.96 511.57,690.07 511.72,696.43 511.86,701.68 512.00,705.51 512.15,707.69 512.29,708.09 512.43,706.79 512.58,703.89 512.72,699.56 512.86,694.06 513.01,687.71 513.15,680.89 513.29,674.00 513.44,667.45 513.58,661.62 513.72,656.85 513.87,653.44 514.01,651.57 514.15,651.39 514.30,653.18 514.44,656.86 514.58,662.20 514.73,668.82 514.87,676.25 515.01,683.97 515.16,691.45 515.30,698.17 515.44,703.65 515.59,707.52 515.73,709.50 515.87,709.46 516.02,707.44 516.16,703.60 516.31,698.20 516.45,691.62 516.59,684.32 516.74,676.80 516.88,669.60 517.02,663.21 517.17,658.08 517.31,654.57 517.45,652.93 517.60,653.24 517.74,655.39 517.88,659.26 518.03,664.60 518.17,671.08 518.31,678.29 518.46,685.78 518.60,693.09 518.74,699.76 518.89,705.38 519.03,709.59 519.17,712.14 519.32,712.86 519.46,711.66 519.60,708.60 519.75,703.86 519.89,697.73 520.03,690.61 520.18,682.93 520.32,675.17 520.46,667.81 520.61,661.32 520.75,656.09 520.89,652.46 521.04,650.65 521.18,650.76 521.32,652.75 521.47,656.49 521.61,661.76 521.75,668.25 521.90,675.58 522.04,683.32 522.18,691.00 522.33,698.18 522.47,704.44 522.61,709.39 522.76,712.75 522.90,714.33 523.04,714.05 523.19,712.02 523.33,708.35 523.47,703.28 523.62,697.09 523.76,690.15 523.91,682.88 524.05,675.69 524.19,669.02 524.34,663.26 524.48,658.75 524.62,655.75 524.77,654.44 524.91,654.99 525.05,657.59 525.20,662.06 525.34,668.10 525.48,675.27 525.63,683.08 525.77,690.98 525.91,698.42 526.06,704.89 526.20,709.93 526.34,713.18 526.49,714.43 526.63,713.53 526.77,710.45 526.92,705.42 527.06,698.79 527.20,691.02 527.35,682.65 527.49,674.26 527.63,666.45 527.78,659.76 527.92,654.64 528.06,651.47 528.21,650.46 528.35,651.59 528.49,654.68 528.64,659.55 528.78,665.90 528.92,673.33 529.07,681.37 529.21,689.53 529.35,697.30 529.50,704.20 529.64,709.78 529.78,713.72 529.93,715.75 530.07,715.78 530.21,713.90 530.36,710.26 530.50,705.09 530.64,698.70 530.79,691.49 530.93,683.92 531.07,676.45 531.22,669.55 531.36,663.65 531.51,659.11 531.65,656.23 531.79,655.18 531.94,655.97 532.08,658.52 532.22,662.66 532.37,668.15 532.51,674.68 532.65,681.84 532.80,689.23 532.94,696.41 533.08,702.94 533.23,708.46 533.37,712.62 533.51,715.19 533.66,716.01 533.80,714.96 533.94,712.04 534.09,707.42 534.23,701.37 534.37,694.26 534.52,686.49 534.66,678.53 534.80,670.85 534.95,663.90 535.09,658.09 535.23,653.76 535.38,651.18 535.52,650.49 535.66,651.98 535.81,655.72 535.95,661.43 536.09,668.72 536.24,677.08 536.38,685.92 536.52,694.63 536.67,702.59 536.81,709.27 536.95,714.18 537.10,716.98 537.24,717.49 537.38,715.83 537.53,712.17 537.67,706.76 537.81,699.98 537.96,692.31 538.10,684.28 538.24,676.45 538.39,669.37 538.53,663.53 538.67,659.34 538.82,657.09 538.96,656.95 539.11,659.03 539.25,663.20 539.39,669.14 539.54,676.41 539.68,684.48 539.82,692.75 539.97,700.61 540.11,707.47 540.25,712.82 540.40,716.28 540.54,717.57 540.68,716.58 540.83,713.32 540.97,708.04 541.11,701.12 541.26,693.08 541.40,684.51 541.54,676.06 541.69,668.34 541.83,661.92 541.97,657.29 542.12,654.79 542.26,654.59" fill="none" stroke="#111" stroke-width="0.7" stroke-linejoin="round"/>
<polyline points="336.20,649.02 336.34,645.88 336.49,641.36 336.63,644.44 336.77,650.57 336.92,653.88 337.06,664.40 337.20,672.53 337.35,680.16 337.49,692.33 337.63,702.90 337.78,709.60 337.92,713.68 338.06,720.25 338.21,717.53 338.35,716.16 338.49,712.52 338.64,704.62 338.78,697.19 338.92,687.64 339.07,675.83 339.21,668.15 339.35,658.91 339.50,653.94 339.64,647.29 339.78,646.62 339.93,648.24 340.07,651.71 340.22,657.20 340.36,661.25 340.50,669.60 340.65,678.43 340.79,689.68 340.93,697.48 341.08,704.56 341.22,711.04 341.36,714.99 341.51,720.27 341.65,720.76 341.79,716.86 341.94,712.56 342.08,709.76 342.22,699.15 342.37,689.15 342.51,681.99 342.65,674.58 342.80,667.03 342.94,656.66 343.08,650.57 343.23,646.85 343.37,646.58 343.51,647.18 343.66,647.34 343.80,654.29 343.94,662.24 344.09,671.59 344.23,682.63 344.37,689.41 344.52,702.93 344.66,706.37 344.80,714.09 344.95,716.80 345.09,719.79 345.23,718.22 345.38,716.19 345.52,711.80 345.66,702.31 345.81,694.97 345.95,685.69 346.09,678.18 346.24,667.66 346.38,663.76 346.52,657.82 346.67,653.76 346.81,651.07 346.95,653.69 347.10,655.76 347.24,662.64 347.38,668.89 347.53,674.38 347.67,683.15 347.82,691.86 347.96,697.45 348.10,705.19 348.25,710.39 348.39,715.17 348.53,718.19 348.68,718.47 348.82,716.26 348.96,714.04 349.11,709.65 349.25,703.57 349.39,695.44 349.54,686.74 349.68,677.22 349.82,669.66 349.97,662.45 350.11,654.01 350.25,648.91 350.40,647.36 350.54,649.90 350.68,649.98 350.83,654.07 350.97,658.60 351.11,665.24 351.26,672.78 351.40,682.97 351.54,690.09 351.69,699.99 351.83,707.68 351.97,713.62 352.12,716.84 352.26,717.58 352.40,719.58 352.55,714.55 352.69,709.85 352.83,704.06 352.98,697.69 353.12,688.01 353.26,678.97 353.41,671.52 353.55,664.26 353.69,658.31 353.84,651.13 353.98,647.48 354.12,646.82 354.27,650.77 354.41,652.23 354.55,660.78 354.70,665.62 354.84,673.82 354.98,683.49 355.13,694.72 355.27,700.92 355.42,706.32 355.56,713.77 355.70,717.92 355.85,718.71 355.99,716.49 356.13,714.33 356.28,709.08 356.42,699.12 356.56,691.64 356.71,685.00 356.85,674.45 356.99,664.67 357.14,659.52 357.28,652.46 357.42,646.66 357.57,647.34 357.71,648.55 357.85,650.71 358.00,653.82 358.14,664.66 358.28,671.99 358.43,677.39 358.57,686.18 358.71,694.93 358.86,701.48 359.00,703.09 359.14,704.12 359.29,703.24 359.43,700.75 359.57,693.37 359.72,686.93 359.86,677.85 360.00,671.77 360.15,661.37 360.29,654.42 360.43,649.30 360.58,643.94 360.72,640.08 360.86,642.10 361.01,641.95 361.15,645.42 361.29,649.38 361.44,657.52 361.58,665.76 361.72,667.96 361.87,677.40 362.01,682.42 362.15,687.74 362.30,691.28 362.44,695.11 362.58,697.53 362.73,695.83 362.87,694.64 363.02,691.83 363.16,686.06 363.30,681.30 363.45,674.36 363.59,670.30 363.73,660.83 363.88,657.94 364.02,650.63 364.16,645.67 364.31,643.07 364.45,643.01 364.59,642.66 364.74,642.87 364.88,648.12 365.02,650.67 365.17,653.99 365.31,661.45 365.45,665.24 365.60,668.91 365.74,675.38 365.88,677.34 366.03,676.82 366.17,680.48 366.31,678.97 366.46,676.30 366.60,672.95 366.74,667.49 366.89,662.47 367.03,659.80 367.17,654.58 367.32,650.60 367.46,645.90 367.60,642.79 367.75,638.42 367.89,637.80 368.03,635.94 368.18,636.37 368.32,637.89 368.46,637.07 368.61,642.64 368.75,645.51 368.89,648.45 369.04,652.60 369.18,655.55 369.32,656.48 369.47,660.93 369.61,663.74 369.75,662.66 369.90,661.44 370.04,662.15 370.18,660.52 370.33,656.30 370.47,650.73 370.62,647.00 370.76,643.52 370.90,640.95 371.05,635.67 371.19,632.58 371.33,631.39 371.48,627.96 371.62,630.17 371.76,630.65 371.91,628.90 372.05,631.17 372.19,638.19 372.34,639.52 372.48,642.37 372.62,647.10 372.77,645.54 372.91,648.98 373.05,654.78 373.20,653.84 373.34,654.70 373.48,654.42 373.63,654.17 373.77,650.69 373.91,647.67 374.06,645.34 374.20,641.42 374.34,636.56 374.49,632.77 374.63,630.40 374.77,626.24 374.92,622.67 375.06,623.57 375.20,623.79 375.35,622.80 375.49,622.12 375.63,625.50 375.78,627.78 375.92,632.50 376.06,635.13 376.21,639.54 376.35,641.59 376.49,645.06 376.64,647.57 376.78,649.88 376.92,651.28 377.07,650.25 377.21,646.93 377.35,646.14 377.50,643.50 377.64,637.67 377.78,633.74 377.93,630.32 378.07,624.73 378.21,619.66 378.36,618.77 378.50,615.06 378.65,613.14 378.79,611.65 378.93,612.72 379.08,615.75 379.22,614.40 379.36,618.02 379.51,622.56 379.65,628.23 379.79,630.47 379.94,634.13 380.08,637.46 380.22,640.09 380.37,643.65 380.51,645.44 380.65,646.35 380.80,647.24 380.94,642.34 381.08,643.96 381.23,641.28 381.37,637.41 381.51,633.59 381.66,628.37 381.80,626.94 381.94,624.03 382.09,619.96 382.23,619.74 382.37,615.13 382.52,615.86 382.66,612.82 382.80,615.76 382.95,616.73 383.09,619.13 383.23,621.91 383.38,624.57 383.52,628.24 383.66,632.96 383.81,636.38 383.95,638.90 384.09,642.47 384.24,642.68 384.38,645.60 384.52,645.15 384.67,643.71 384.81,644.43 384.95,639.61 385.10,638.11 385.24,631.03 385.38,626.73 385.53,623.56 385.67,620.03 385.81,614.41 385.96,610.92 386.10,609.25 386.25,607.11 386.39,606.83 386.53,608.02 386.68,608.81 386.82,613.64 386.96,614.55 387.11,618.59 387.25,624.66 387.39,630.22 387.54,635.02 387.68,637.68 387.82,640.56 387.97,643.13 388.11,645.35 388.25,647.95 388.40,645.18 388.54,643.61 388.68,640.58 388.83,634.70 388.97,631.52 389.11,625.92 389.26,623.02 389.40,617.32 389.54,614.42 389.69,611.64 389.83,609.74 389.97,609.99 390.12,608.75 390.26,610.82 390.40,613.29 390.55,614.97 390.69,622.08 390.83,625.39 390.98,631.50 391.12,635.02 391.26,639.35 391.41,643.50 391.55,647.24 391.69,647.73 391.84,649.41 391.98,646.55 392.12,645.13 392.27,645.35 392.41,640.75 392.55,634.58 392.70,631.04 392.84,623.44 392.98,621.31 393.13,617.27 393.27,612.45 393.41,609.85 393.56,609.54 393.70,608.35 393.85,609.66 393.99,616.39 394.13,619.23 394.28,621.90 394.42,627.08 394.56,630.27 394.71,637.84 394.85,643.96 394.99,645.95 395.14,651.14 395.28,654.88 395.42,655.42 395.57,654.36 395.71,654.29 395.85,653.84 396.00,650.76 396.14,645.24 396.28,643.56 396.43,637.14 396.57,632.89 396.71,627.87 396.86,627.47 397.00,620.01 397.14,617.99 397.29,619.55 397.43,615.49 397.57,618.74 397.72,621.21 397.86,626.03 398.00,634.27 398.15,640.21 398.29,645.80 398.43,654.53 398.58,660.35 398.72,665.30 398.86,668.11 399.01,667.39 399.15,666.42 399.29,663.90 399.44,657.91 399.58,651.95 399.72,647.72 399.87,639.31 400.01,632.32 400.15,626.93 400.30,625.04 400.44,624.05 400.58,623.62 400.73,625.91 400.87,629.34 401.01,633.60 401.16,637.24 401.30,643.71 401.45,649.78 401.59,659.38 401.73,664.91 401.88,672.37 402.02,674.52 402.16,678.70 402.31,678.45 402.45,677.77 402.59,675.46 402.74,673.87 402.88,670.82 403.02,663.53 403.17,656.90 403.31,650.32 403.45,646.00 403.60,640.87 403.74,635.96 403.88,632.80 404.03,631.04 404.17,630.48 404.31,633.16 404.46,637.57 404.60,643.41 404.74,649.93 404.89,656.63 405.03,664.34 405.17,671.26 405.32,678.03 405.46,685.35 405.60,687.73 405.75,689.30 405.89,691.64 406.03,687.47 406.18,683.73 406.32,678.13 406.46,671.96 406.61,664.34 406.75,656.10 406.89,648.15 407.04,642.47 407.18,638.46 407.32,636.88 407.47,637.02 407.61,637.49 407.75,641.85 407.90,647.25 408.04,655.58 408.18,663.45 408.33,669.70 408.47,677.61 408.61,686.58 408.76,692.80 408.90,698.42 409.05,699.97 409.19,703.86 409.33,702.01 409.48,700.54 409.62,698.54 409.76,689.54 409.91,684.08 410.05,678.14 410.19,670.73 410.34,665.95 410.48,655.77 410.62,653.33 410.77,648.14 410.91,645.06 411.05,644.58 411.20,647.69 411.34,651.18 411.48,657.42 411.63,664.48 411.77,672.03 411.91,681.50 412.06,688.95 412.20,698.03 412.34,707.55 412.49,711.44 412.63,712.56 412.77,715.77 412.92,711.35 413.06,711.35 413.20,704.08 413.35,698.57 413.49,688.56 413.63,681.09 413.78,674.25 413.92,665.48 414.06,656.32 414.21,654.73 414.35,649.98 414.49,649.01 414.64,650.26 414.78,653.50 414.92,657.53 415.07,666.31 415.21,674.48 415.35,684.55 415.50,692.08 415.64,699.15 415.78,706.50 415.93,714.87 416.07,719.83 416.21,721.64 416.36,724.01 416.50,717.45 416.65,715.69 416.79,709.01 416.93,704.94 417.08,696.24 417.22,689.47 417.36,679.35 417.51,674.75 417.65,666.52 417.79,660.41 417.94,659.56 418.08,657.07 418.22,658.24 418.37,663.84 418.51,665.87 418.65,670.56 418.80,678.98 418.94,687.60 419.08,693.57 419.23,701.46 419.37,709.62 419.51,715.18 419.66,719.53 419.80,721.23 419.94,722.00 420.09,720.69 420.23,717.34 420.37,715.54 420.52,706.62 420.66,700.78 420.80,692.58 420.95,686.69 421.09,680.94 421.23,674.48 421.38,668.72 421.52,664.19 421.66,664.47 421.81,663.50 421.95,666.95 422.09,668.79 422.24,673.63 422.38,681.98 422.52,687.08 422.67,695.61 422.81,700.71 422.95,708.40 423.10,712.96 423.24,717.05 423.38,722.19 423.53,723.01 423.67,722.33 423.81,723.18 423.96,717.82 424.10,714.30 424.25,708.47 424.39,701.47 424.53,693.55 424.68,689.78 424.82,681.48 424.96,677.16 425.11,673.56 425.25,669.34 425.39,667.78 425.54,668.35 425.68,668.15 425.82,672.91 425.97,677.05 426.11,681.96 426.25,690.50 426.40,697.78 426.54,705.29 426.68,711.40 426.83,718.22 426.97,719.27 427.11,720.54 427.26,721.48 427.40,717.86 427.54,713.82 427.69,711.50 427.83,703.86 427.97,694.78 428.12,688.10 428.26,683.11 428.40,675.91 428.55,670.72 428.69,668.57 428.83,666.15 428.98,668.11 429.12,670.99 429.26,675.94 429.41,680.85 429.55,686.25 429.69,694.18 429.84,701.13 429.98,707.73 430.12,714.64 430.27,718.64 430.41,721.35 430.55,722.28 430.70,721.39 430.84,719.24 430.98,716.67 431.13,711.78 431.27,705.24 431.41,701.32 431.56,693.48 431.70,685.34 431.85,676.44 431.99,673.75 432.13,667.96 432.28,667.28 432.42,667.69 432.56,667.37 432.71,672.01 432.85,675.11 432.99,682.03 433.14,689.03 433.28,694.10 433.42,700.71 433.57,708.89 433.71,715.21 433.85,719.15 434.00,721.74 434.14,724.63 434.28,721.92 434.43,719.57 434.57,713.66 434.71,711.06 434.86,704.17 435.00,696.28 435.14,690.41 435.29,682.18 435.43,676.63 435.57,670.37 435.72,668.62 435.86,667.41 436.00,669.56 436.15,671.77 436.29,673.81 436.43,680.75 436.58,686.73 436.72,694.51 436.86,699.95 437.01,708.85 437.15,715.30 437.29,718.77 437.44,721.55 437.58,720.46 437.72,723.41 437.87,715.35 438.01,713.22 438.15,704.68 438.30,695.90 438.44,689.44 438.58,684.15 438.73,676.59 438.87,671.78 439.01,666.23 439.16,664.57 439.30,665.57 439.44,668.06 439.59,670.18 439.73,677.35 439.88,684.70 440.02,688.92 440.16,697.78 440.31,704.96 440.45,710.88 440.59,715.21 440.74,720.54 440.88,722.49 441.02,721.89 441.17,720.17 441.31,718.54 441.45,714.95 441.60,707.47 441.74,702.75 441.88,696.81 442.03,689.35 442.17,681.38 442.31,676.94 442.46,672.27 442.60,667.94 442.74,666.47 442.89,665.82 443.03,670.24 443.17,673.94 443.32,677.34 443.46,683.27 443.60,694.22 443.75,698.66 443.89,706.40 444.03,713.07 444.18,718.63 444.32,721.45 444.46,723.29 444.61,718.49 444.75,717.86 444.89,713.04 445.04,704.61 445.18,696.41 445.32,687.97 445.47,681.39 445.61,674.04 445.75,669.29 445.90,663.43 446.04,658.25 446.18,662.04 446.33,662.30 446.47,670.21 446.61,673.16 446.76,677.26 446.90,685.41 447.04,694.47 447.19,702.87 447.33,707.96 447.48,714.38 447.62,718.50 447.76,720.35 447.91,722.41 448.05,720.89 448.19,719.75 448.34,713.56 448.48,707.31 448.62,701.91 448.77,694.52 448.91,686.22 449.05,678.09 449.20,673.16 449.34,666.10 449.48,664.85 449.63,661.61 449.77,661.62 449.91,662.32 450.06,667.30 450.20,674.89 450.34,680.36 450.49,689.73 450.63,699.43 450.77,707.66 450.92,712.16 451.06,719.43 451.20,724.27 451.35,720.39 451.49,720.41 451.63,717.85 451.78,713.20 451.92,704.43 452.06,696.73 452.21,687.74 452.35,677.51 452.49,670.50 452.64,662.34 452.78,660.22 452.92,656.26 453.07,655.44 453.21,658.37 453.35,660.22 453.50,665.37 453.64,671.31 453.78,677.49 453.93,685.41 454.07,693.19 454.21,702.03 454.36,704.83 454.50,708.26 454.64,713.13 454.79,714.06 454.93,716.13 455.08,715.00 455.22,711.30 455.36,706.96 455.51,700.91 455.65,692.84 455.79,688.46 455.94,679.08 456.08,675.42 456.22,668.77 456.37,661.22 456.51,659.44 456.65,657.08 456.80,654.99 456.94,655.70 457.08,659.38 457.23,663.85 457.37,670.18 457.51,679.27 457.66,685.85 457.80,692.86 457.94,700.33 458.09,704.39 458.23,708.56 458.37,712.02 458.52,709.51 458.66,707.59 458.80,702.85 458.95,697.30 459.09,690.61 459.23,685.52 459.38,674.58 459.52,666.25 459.66,661.08 459.81,656.10 459.95,653.57 460.09,654.78 460.24,653.34 460.38,656.33 460.52,659.79 460.67,666.22 460.81,675.79 460.95,681.52 461.10,687.37 461.24,694.54 461.38,699.04 461.53,703.37 461.67,702.64 461.81,704.90 461.96,701.28 462.10,696.60 462.24,691.06 462.39,688.13 462.53,678.11 462.68,673.46 462.82,665.50 462.96,658.26 463.11,653.77 463.25,652.52 463.39,650.95 463.54,651.59 463.68,653.01 463.82,657.87 463.97,662.74 464.11,668.87 464.25,674.58 464.40,679.84 464.54,684.20 464.68,689.55 464.83,693.39 464.97,692.94 465.11,697.21 465.26,697.00 465.40,694.42 465.54,692.93 465.69,686.44 465.83,682.24 465.97,677.42 466.12,671.64 466.26,666.80 466.40,660.73 466.55,655.77 466.69,652.44 466.83,651.93 466.98,649.41 467.12,649.95 467.26,649.56 467.41,653.09 467.55,656.34 467.69,661.37 467.84,664.69 467.98,671.50 468.12,676.16 468.27,680.22 468.41,683.37 468.55,689.15 468.70,689.59 468.84,690.47 468.98,688.51 469.13,686.30 469.27,687.77 469.41,682.80 469.56,679.77 469.70,675.41 469.84,670.94 469.99,666.36 470.13,656.71 470.28,658.31 470.42,653.86 470.56,651.26 470.71,648.69 470.85,648.36 470.99,648.75 471.14,647.42 471.28,651.53 471.42,654.73 471.57,657.27 471.71,661.03 471.85,663.64 472.00,671.20 472.14,674.99 472.28,673.71 472.43,677.86 472.57,681.07 472.71,684.06 472.86,682.28 473.00,681.66 473.14,677.27 473.29,673.00 473.43,667.47 473.57,663.69 473.72,659.54 473.86,655.79 474.00,651.69 474.15,649.69 474.29,647.16 474.43,643.54 474.58,644.75 474.72,642.94 474.86,643.87 475.01,650.11 475.15,652.37 475.29,655.91 475.44,662.75 475.58,663.85 475.72,669.95 475.87,670.24 476.01,671.81 476.15,673.61 476.30,676.09 476.44,674.70 476.58,672.33 476.73,669.42 476.87,664.29 477.01,660.90 477.16,659.48 477.30,651.92 477.44,650.09 477.59,646.61 477.73,645.23 477.88,644.35 478.02,643.54 478.16,644.64 478.31,647.50 478.45,652.85 478.59,652.02 478.74,657.50 478.88,659.79 479.02,662.41 479.17,666.77 479.31,670.21 479.45,671.82 479.60,670.73 479.74,672.51 479.88,668.68 480.03,670.58 480.17,667.13 480.31,665.38 480.46,659.00 480.60,654.74 480.74,649.93 480.89,646.14 481.03,643.70 481.17,640.35 481.32,640.09 481.46,636.31 481.60,636.42 481.75,638.85 481.89,640.19 482.03,641.98 482.18,644.27 482.32,645.91 482.46,649.88 482.61,651.91 482.75,655.92 482.89,657.47 483.04,658.92 483.18,662.89 483.32,660.75 483.47,662.37 483.61,660.22 483.75,660.11 483.90,656.96 484.04,653.94 484.18,652.04 484.33,645.85 484.47,643.07 484.61,641.59 484.76,638.89 484.90,637.11 485.04,634.22 485.19,637.79 485.33,635.60 485.48,634.53 485.62,636.63 485.76,637.76 485.91,641.24 486.05,645.29 486.19,644.61 486.34,649.54 486.48,651.95 486.62,656.36 486.77,656.66 486.91,660.68 487.05,659.62 487.20,660.37 487.34,657.97 487.48,659.28 487.63,656.73 487.77,652.27 487.91,646.91 488.06,644.98 488.20,639.57 488.34,637.13 488.49,632.81 488.63,628.91 488.77,627.64 488.92,626.55 489.06,626.89 489.20,627.45 489.35,630.12 489.49,630.27 489.63,632.85 489.78,638.04 489.92,642.35 490.06,647.10 490.21,651.50 490.35,655.14 490.49,659.99 490.64,660.81 490.78,662.16 490.92,664.13 491.07,663.22 491.21,660.10 491.35,658.23 491.50,654.01 491.64,651.47 491.78,647.66 491.93,641.86 492.07,638.04 492.21,632.22 492.36,629.55 492.50,628.32 492.64,626.18 492.79,626.15 492.93,629.45 493.08,633.06 493.22,632.23 493.36,639.33 493.51,643.19 493.65,648.05 493.79,654.06 493.94,660.64 494.08,663.28 494.22,669.75 494.37,673.24 494.51,673.33 494.65,674.93 494.80,673.66 494.94,671.54 495.08,668.29 495.23,664.15 495.37,662.00 495.51,653.27 495.66,646.41 495.80,640.66 495.94,637.47 496.09,631.19 496.23,627.41 496.37,626.27 496.52,625.63 496.66,628.97 496.80,629.22 496.95,635.93 497.09,641.60 497.23,651.82 497.38,661.49 497.52,667.68 497.66,676.01 497.81,682.81 497.95,686.91 498.09,687.12 498.24,687.65 498.38,685.24 498.52,680.53 498.67,673.35 498.81,664.75 498.95,660.70 499.10,651.17 499.24,643.29 499.38,637.22 499.53,634.53 499.67,634.00 499.81,634.24 499.96,634.71 500.10,640.38 500.24,643.56 500.39,650.52 500.53,657.24 500.68,664.70 500.82,673.01 500.96,680.71 501.11,685.51 501.25,691.90 501.39,694.25 501.54,696.00 501.68,697.92 501.82,695.48 501.97,693.38 502.11,688.96 502.25,682.92 502.40,673.87 502.54,670.16 502.68,663.76 502.83,656.41 502.97,651.15 503.11,643.02 503.26,639.37 503.40,637.80 503.54,636.54 503.69,638.77 503.83,642.61 503.97,649.03 504.12,653.46 504.26,662.44 504.40,669.46 504.55,677.88 504.69,687.39 504.83,693.97 504.98,701.97 505.12,705.03 505.26,708.94 505.41,709.50 505.55,708.56 505.69,704.43 505.84,697.22 505.98,694.22 506.12,684.26 506.27,677.36 506.41,669.69 506.55,661.12 506.70,653.40 506.84,648.49 506.98,644.56 507.13,641.65 507.27,639.48 507.41,645.31 507.56,648.83 507.70,657.24 507.84,665.00 507.99,677.83 508.13,687.36 508.27,697.21 508.42,706.76 508.56,711.00 508.71,714.84 508.85,717.23 508.99,713.03 509.14,710.94 509.28,703.94 509.42,694.08 509.57,687.22 509.71,673.70 509.85,667.64 510.00,659.42 510.14,650.28 510.28,646.87 510.43,648.77 510.57,648.10 510.71,653.00 510.86,658.66 511.00,664.77 511.14,669.67 511.29,680.58 511.43,691.60 511.57,698.60 511.72,705.10 511.86,713.80 512.00,719.75 512.15,723.21 512.29,721.69 512.43,720.31 512.58,717.74 512.72,710.41 512.86,704.68 513.01,695.55 513.15,686.82 513.29,681.33 513.44,671.38 513.58,665.44 513.72,657.72 513.87,653.39 514.01,652.06 514.15,652.02 514.30,655.24 514.44,659.44 514.58,665.95 514.73,673.01 514.87,682.93 515.01,691.45 515.16,700.84 515.30,706.58 515.44,714.50 515.59,720.49 515.73,722.43 515.87,722.05 516.02,720.00 516.16,714.45 516.31,708.92 516.45,702.32 516.59,691.38 516.74,680.71 516.88,673.46 517.02,666.26 517.17,658.22 517.31,656.24 517.45,653.68 517.60,654.49 517.74,654.93 517.88,661.36 518.03,665.75 518.17,674.74 518.31,683.41 518.46,689.75 518.60,699.57 518.74,707.80 518.89,712.80 519.03,717.20 519.17,721.18 519.32,723.11 519.46,720.39 519.60,715.91 519.75,711.84 519.89,703.79 520.03,696.42 520.18,688.32 520.32,679.93 520.46,673.27 520.61,662.29 520.75,657.01 520.89,654.94 521.04,651.99 521.18,650.84 521.32,651.90 521.47,656.25 521.61,660.77 521.75,668.78 521.90,678.43 522.04,687.82 522.18,694.77 522.33,701.70 522.47,709.94 522.61,716.35 522.76,720.00 522.90,722.53 523.04,720.02 523.19,719.34 523.33,716.77 523.47,708.97 523.62,702.91 523.76,694.80 523.91,687.36 524.05,680.64 524.19,668.67 524.34,662.69 524.48,656.84 524.62,655.77 524.77,652.88 524.91,654.43 525.05,658.96 525.20,663.86 525.34,668.38 525.48,677.75 525.63,686.83 525.77,694.64 525.91,703.75 526.06,711.12 526.20,717.73 526.34,720.97 526.49,721.77 526.63,723.02 526.77,718.37 526.92,711.83 527.06,703.74 527.20,694.33 527.35,687.19 527.49,677.59 527.63,669.10 527.78,660.04 527.92,654.76 528.06,652.12 528.21,651.40 528.35,651.24 528.49,654.66 528.64,661.07 528.78,668.71 528.92,676.97 529.07,685.92 529.21,693.09 529.35,703.43 529.50,709.91 529.64,714.34 529.78,721.96 529.93,720.35 530.07,721.48 530.21,720.42 530.36,718.95 530.50,712.50 530.64,703.00 530.79,692.91 530.93,685.38 531.07,678.63 531.22,670.37 531.36,663.33 531.51,658.81 531.65,655.85 531.79,655.23 531.94,655.93 532.08,660.44 532.22,663.08 532.37,669.65 532.51,676.36 532.65,683.55 532.80,690.78 532.94,701.15 533.08,707.63 533.23,714.14 533.37,717.03 533.51,722.20 533.66,724.39 533.80,723.20 533.94,716.94 534.09,712.86 534.23,706.83 534.37,698.02 534.52,689.48 534.66,680.50 534.80,673.34 534.95,664.78 535.09,657.64 535.23,654.82 535.38,650.61 535.52,648.74 535.66,654.01 535.81,653.40 535.95,664.15 536.09,670.38 536.24,679.55 536.38,688.10 536.52,698.80 536.67,705.91 536.81,715.39 536.95,719.02 537.10,722.83 537.24,722.02 537.38,721.22 537.53,717.57 537.67,712.81 537.81,705.09 537.96,694.17 538.10,687.17 538.24,677.82 538.39,672.82 538.53,665.81 538.67,659.70 538.82,656.65 538.96,656.27 539.11,659.67 539.25,664.06 539.39,671.44 539.54,678.01 539.68,688.88 539.82,696.25 539.97,705.42 540.11,710.33 540.25,717.45 540.40,723.67 540.54,721.34 540.68,719.89 540.83,717.53 540.97,712.94 541.11,703.42 541.26,694.27 541.40,688.09 541.54,678.63 541.69,668.54 541.83,662.84 541.97,657.08 542.12,655.41 542.26,654.62" fill="none" stroke="none" marker-start="url(#mo)" marker-mid="url(#mo)" marker-end="url(#mo)"/>
</g>
<path d="M336.2 601.4V727.0" stroke="#d4d4d4" stroke-width="0.6"/>
<path d="M336.2 601.4H542.7V727.0" stroke="#a8a8a8" stroke-width="0.9" fill="none"/>
<path d="M336.2 727.00H542.7" stroke="#9a9a9a" stroke-width="0.9"/>
<text x="319.13" y="603.78" font-size="6.6" font-weight="bold" text-anchor="start" textLength="12.07" lengthAdjust="spacingAndGlyphs"  fill="#000" font-family='"Liberation Sans", sans-serif'>32.0</text>
<text x="319.13" y="619.48" font-size="6.6" font-weight="bold" text-anchor="start" textLength="12.07" lengthAdjust="spacingAndGlyphs"  fill="#000" font-family='"Liberation Sans", sans-serif'>28.0</text>
<text x="319.13" y="635.18" font-size="6.6" font-weight="bold" text-anchor="start" textLength="12.07" lengthAdjust="spacingAndGlyphs"  fill="#000" font-family='"Liberation Sans", sans-serif'>24.0</text>
<text x="319.13" y="650.88" font-size="6.6" font-weight="bold" text-anchor="start" textLength="12.07" lengthAdjust="spacingAndGlyphs"  fill="#000" font-family='"Liberation Sans", sans-serif'>20.0</text>
<text x="319.13" y="666.58" font-size="6.6" font-weight="bold" text-anchor="start" textLength="12.07" lengthAdjust="spacingAndGlyphs"  fill="#000" font-family='"Liberation Sans", sans-serif'>16.0</text>
<text x="319.13" y="682.28" font-size="6.6" font-weight="bold" text-anchor="start" textLength="12.07" lengthAdjust="spacingAndGlyphs"  fill="#000" font-family='"Liberation Sans", sans-serif'>12.0</text>
<text x="322.58" y="697.98" font-size="6.6" font-weight="bold" text-anchor="start" textLength="8.62" lengthAdjust="spacingAndGlyphs"  fill="#000" font-family='"Liberation Sans", sans-serif'>8.0</text>
<text x="322.58" y="713.68" font-size="6.6" font-weight="bold" text-anchor="start" textLength="8.62" lengthAdjust="spacingAndGlyphs"  fill="#000" font-family='"Liberation Sans", sans-serif'>4.0</text>
<text x="322.58" y="729.38" font-size="6.6" font-weight="bold" text-anchor="start" textLength="8.62" lengthAdjust="spacingAndGlyphs"  fill="#000" font-family='"Liberation Sans", sans-serif'>0.0</text>
<text x="331.98" y="736.98" font-size="6.6" font-weight="bold" text-anchor="start" textLength="8.44" lengthAdjust="spacingAndGlyphs"  fill="#000" font-family='"Liberation Sans", sans-serif'>4/9</text>
<text x="364.71" y="736.98" font-size="6.6" font-weight="bold" text-anchor="start" textLength="11.82" lengthAdjust="spacingAndGlyphs"  fill="#000" font-family='"Liberation Sans", sans-serif'>4/14</text>
<text x="399.12" y="736.98" font-size="6.6" font-weight="bold" text-anchor="start" textLength="11.82" lengthAdjust="spacingAndGlyphs"  fill="#000" font-family='"Liberation Sans", sans-serif'>4/19</text>
<text x="433.54" y="736.98" font-size="6.6" font-weight="bold" text-anchor="start" textLength="11.82" lengthAdjust="spacingAndGlyphs"  fill="#000" font-family='"Liberation Sans", sans-serif'>4/24</text>
<text x="467.95" y="736.98" font-size="6.6" font-weight="bold" text-anchor="start" textLength="11.82" lengthAdjust="spacingAndGlyphs"  fill="#000" font-family='"Liberation Sans", sans-serif'>4/29</text>
<text x="504.05" y="736.98" font-size="6.6" font-weight="bold" text-anchor="start" textLength="8.44" lengthAdjust="spacingAndGlyphs"  fill="#000" font-family='"Liberation Sans", sans-serif'>5/4</text>
<text x="538.47" y="736.98" font-size="6.6" font-weight="bold" text-anchor="start" textLength="8.44" lengthAdjust="spacingAndGlyphs"  fill="#000" font-family='"Liberation Sans", sans-serif'>5/9</text>
<text x="388.00" y="599.00" font-size="8.8" font-weight="bold" text-anchor="start" textLength="85.60" lengthAdjust="spacingAndGlyphs"  fill="#000" font-family='"Liberation Sans", sans-serif'>Seomjin river bridge</text>
<text x="523.10" y="599.00" font-size="5.6" font-weight="bold" textLength="17.40" lengthAdjust="spacingAndGlyphs" font-family='"Liberation Sans", sans-serif'>R<tspan font-size="3.6" dy="-2">2</tspan><tspan dy="2"> 0.76</tspan></text>
<rect x="336.2" y="601.5" width="43.7" height="13.0" fill="#fff" stroke="#8c8c8c" stroke-width="0.8"/>
<circle cx="343.1" cy="607.7" r="1.0" fill="none" stroke="#f01818" stroke-width="0.6"/>
<text x="347.20" y="609.70" font-size="5.6" font-weight="bold" text-anchor="start" textLength="9.00" lengthAdjust="spacingAndGlyphs"  fill="#000" font-family='"Liberation Sans", sans-serif'>Obs.</text>
<path d="M360.3 607.7H367.3" stroke="#222" stroke-width="0.7"/>
<text x="367.50" y="609.70" font-size="5.6" font-weight="bold" text-anchor="start" textLength="9.10" lengthAdjust="spacingAndGlyphs"  fill="#000" font-family='"Liberation Sans", sans-serif'>Sim.</text>
<text transform="translate(317.20,664.35) rotate(-90)" x="0" y="0" text-anchor="middle" font-size="8.17" font-weight="bold" textLength="52.50" lengthAdjust="spacingAndGlyphs" font-family='"Liberation Sans", sans-serif'>Salinity (psu)</text>
<text x="404.80" y="744.70" font-size="8.8" font-weight="bold" text-anchor="start" textLength="69.60" lengthAdjust="spacingAndGlyphs"  fill="#000" font-family='"Liberation Sans", sans-serif'>Date (30minutes)</text>
<text x="263.5" y="396.2" font-size="15" textLength="92.3" lengthAdjust="spacingAndGlyphs" font-family='"Liberation Serif", serif'>(<tspan font-weight="bold">a</tspan>) Calibration</text>
<text x="263.6" y="782.9" font-size="15" textLength="89.9" lengthAdjust="spacingAndGlyphs" font-family='"Liberation Serif", serif'>(<tspan font-weight="bold">b</tspan>) Validation</text>
</svg></body></html>
